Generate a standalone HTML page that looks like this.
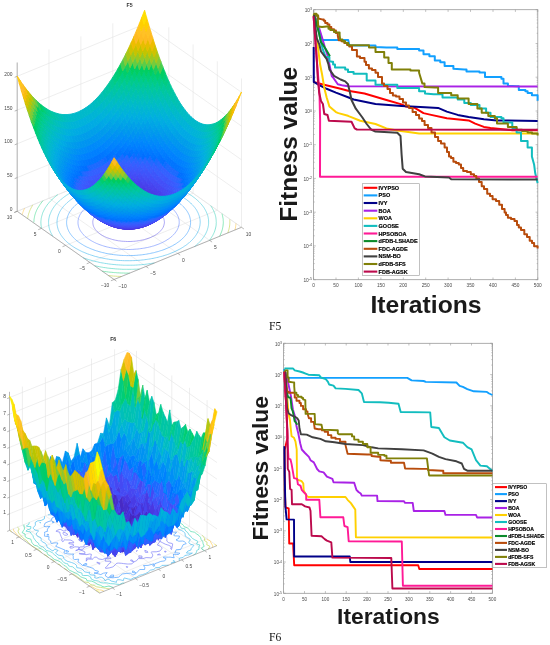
<!DOCTYPE html><html><head><meta charset="utf-8"><title>F5 F6</title><style>html,body{margin:0;padding:0;background:#fff}svg{display:block;will-change:transform}</style></head><body>
<svg width="550" height="645" viewBox="0 0 550 645">
<defs><filter id="sb" x="-5%" y="-5%" width="110%" height="110%"><feGaussianBlur stdDeviation="0.35"/></filter></defs>
<rect width="550" height="645" fill="#fff"/>
<path d="M114.1 279.5L17.2 211.3M145.9 266.4L49 198.2M177.8 253.4L80.9 185.2M209.7 240.4L112.8 172.2M241.5 227.3L144.6 159.1M114.1 279.5L241.5 227.3M89.9 262.4L217.3 210.2M65.7 245.4L193.1 193.2M41.4 228.4L168.8 176.2M17.2 211.3L144.6 159.1M17.2 211.3L17.2 62.5M49 198.2L49 49.4M80.9 185.2L80.9 36.4M112.8 172.2L112.8 23.3M144.6 159.1L144.6 10.3M241.5 227.3L241.5 78.5M217.3 210.2L217.3 61.4M193.1 193.2L193.1 44.4M168.8 176.2L168.8 27.3M144.6 159.1L144.6 10.3M17.2 211.3L144.6 159.1L241.5 227.3M17.2 177.6L144.6 125.4L241.5 193.6M17.2 143.8L144.6 91.6L241.5 159.8M17.2 110.1L144.6 57.9L241.5 126.1M17.2 76.3L144.6 24.1L241.5 92.3" fill="none" stroke="#e3e3e3" stroke-width="0.6"/>
<g fill="none" stroke-width="0.75" stroke-linejoin="round" opacity="0.6"><path d="M150.8 207.2 149.3 206.6 148.2 206.2 147.3 205.9 145.7 205.4 144.4 205.1 143 204.7 141.9 204.5 140.1 204.1 138.5 203.8 137.4 203.7 135.4 203.4 133.5 203.3 131.6 203.2 129.9 203.1 128.2 203.1 127.1 203.1 125 203.2 123.4 203.3 121.9 203.5 120.5 203.6 119.1 203.8 117.7 204 116.4 204.3 115.1 204.5 113.8 204.8 112.6 205.2 111.4 205.5 110.2 205.9 109.1 206.2 108 206.6 106.9 207.1 105.9 207.5 104.9 208 103.9 208.5 102.9 209 102 209.5 101.1 210.1 100.6 210.4 99.4 211.2 98.6 211.9 98.1 212.3 97.2 213.2 96.5 213.9 95.8 214.6 95.3 215.2 94.7 216.2 94.2 217 93.9 217.6 93.4 218.7 93.1 219.8 92.9 220.7 92.8 221.7 92.8 222.6 92.9 223.5 93 224.3 93.2 225.1 93.4 225.9 93.7 226.7 94.1 227.5 94.5 228.2 94.9 228.9 95.4 229.6 96 230.3 96.6 230.9 97.2 231.6 97.9 232.2 98.6 232.8 99.3 233.4 100.1 234 100.9 234.5 101.8 235.1 102.7 235.6 103.7 236.1 104.6 236.6 105.7 237.1 106.3 237.4 107.9 238 109 238.4 109.9 238.7 111.5 239.2 112.8 239.6 114.2 239.9 115.3 240.2 117.1 240.5 118.6 240.8 119.8 240.9 121.8 241.2 123.7 241.3 125.5 241.4 127.3 241.5 129 241.5 130.1 241.5 132.2 241.4 133.7 241.3 135.2 241.2 136.7 241 138.1 240.8 139.4 240.6 140.8 240.3 142.1 240.1 143.3 239.8 144.6 239.5 145.8 239.1 146.9 238.8 148.1 238.4 149.2 238 150.3 237.6 151.3 237.1 152.3 236.6 153.3 236.2 154.3 235.6 155.2 235.1 156.1 234.6 156.6 234.2 157.8 233.4 158.6 232.8 159.1 232.3 160 231.4 160.7 230.7 161.3 230 161.8 229.4 162.5 228.4 163 227.6 163.3 227 163.7 225.9 164 224.9 164.2 223.9 164.4 222.9 164.4 222 164.3 221.2 164.2 220.3 164 219.5 163.8 218.7 163.4 217.9 163.1 217.2 162.7 216.4 162.2 215.7 161.7 215 161.2 214.3 160.6 213.7 160 213 159.3 212.4 158.6 211.8 157.9 211.2 157.1 210.6 156.2 210.1 155.4 209.5 154.5 209 153.5 208.5 152.5 208 151.5 207.5 150.8 207.2" stroke="#483ee8"/><path d="M161.1 201.4 160.5 201.2 159.4 200.7 158.3 200.3 157.1 199.8 155.9 199.4 154.7 199 153.9 198.8 152.2 198.3 151.1 197.9 149.5 197.5 148.5 197.3 146.7 196.9 145.2 196.6 143.8 196.4 142.1 196.1 140.4 195.9 139.6 195.8 138.7 195.7 137.6 195.6 136.9 195.5 135.7 195.4 133.9 195.3 133.2 195.3 132.1 195.2 131.1 195.2 130.3 195.2 129 195.2 127 195.2 125.4 195.2 124.4 195.3 122.2 195.4 120.7 195.5 119.2 195.6 117.8 195.8 116.4 196 115 196.2 113.6 196.4 112.3 196.6 110.9 196.9 109.6 197.2 108.4 197.4 107.6 197.6 105.9 198.1 104.7 198.4 103.5 198.8 102.4 199.1 101.2 199.5 100.1 199.9 99 200.3 97.9 200.7 96.9 201.2 95.9 201.6 94.9 202.1 93.9 202.6 92.9 203.1 92 203.6 91 204.2 90.1 204.7 89.3 205.3 88.4 205.9 87.6 206.5 86.8 207.1 86 207.7 85.2 208.4 84.8 208.8 83.8 209.7 83.2 210.3 82.5 211.2 82.1 211.7 81.3 212.7 80.8 213.5 80.3 214.2 79.8 215.2 79.4 216 79 217 78.8 217.5 78.5 218.6 78.3 219.6 78.1 220.5 78 221.5 78 222.2 78 223.3 78.1 224.1 78.2 225 78.4 225.8 78.6 226.6 78.8 227.4 79.1 228.2 79.5 228.9 79.8 229.7 80.2 230.4 80.7 231.2 81.2 231.9 81.7 232.5 82.2 233.2 82.5 233.6 83.3 234.6 84 235.2 84.6 235.8 85.3 236.5 86 237.1 86.7 237.7 87.5 238.2 88.3 238.8 89.1 239.4 90 239.9 90.9 240.5 91.8 241 92.7 241.5 93.7 242 94.6 242.5 95.7 243 96.7 243.5 97.8 243.9 98.9 244.4 100.1 244.8 101.2 245.2 102.5 245.6 103.3 245.9 105 246.4 106.1 246.7 107.7 247.1 108.7 247.3 110.5 247.7 112 248 113.3 248.2 115.1 248.5 116.8 248.7 117.6 248.8 118.5 248.9 119.5 249 120.2 249.1 121.5 249.2 123.3 249.3 124 249.4 125.1 249.4 126 249.4 126.8 249.5 128.1 249.5 130.2 249.5 131.8 249.4 132.8 249.4 134.9 249.2 136.5 249.1 137.9 249 139.4 248.8 140.8 248.6 142.2 248.4 143.6 248.2 144.9 248 146.2 247.7 147.5 247.5 148.8 247.2 149.5 247 151.3 246.6 152.5 246.2 153.7 245.9 154.8 245.5 155.9 245.1 157.1 244.7 158.2 244.3 159.2 243.9 160.3 243.4 161.3 243 162.3 242.5 163.3 242 164.3 241.5 165.2 241 166.1 240.5 167 239.9 167.9 239.3 168.8 238.8 169.6 238.2 170.4 237.6 171.2 236.9 171.9 236.3 172.4 235.8 173.4 234.9 173.9 234.3 174.7 233.5 175.1 232.9 175.9 231.9 176.4 231.1 176.9 230.4 177.4 229.5 177.8 228.6 178.2 227.7 178.4 227.1 178.7 226.1 178.9 225.1 179.1 224.1 179.2 223.2 179.2 222.5 179.2 221.4 179.1 220.5 179 219.6 178.8 218.8 178.6 218 178.3 217.2 178 216.4 177.7 215.7 177.3 214.9 176.9 214.2 176.5 213.5 176 212.8 175.5 212.1 175 211.4 174.7 211 173.8 210.1 173.2 209.4 172.6 208.8 171.9 208.2 171.2 207.6 170.4 207 169.7 206.4 168.9 205.8 168.1 205.2 167.2 204.7 166.3 204.2 165.4 203.6 164.5 203.1 163.5 202.6 162.5 202.1 161.5 201.6" stroke="#3560ff"/><path d="M172.1 198.5 170.7 197.8 169.7 197.4 168.7 196.9 167.6 196.4 167 196.1 165.5 195.5 164.3 195.1 163.2 194.7 162 194.2 160.8 193.8 160 193.6 158.3 193.1 157.1 192.7 155.6 192.3 154.4 192 152.9 191.7 151.9 191.5 150 191.1 148.5 190.8 147.3 190.6 145.4 190.3 143.7 190 143.1 189.9 142 189.8 141.1 189.7 140.3 189.6 139.1 189.5 137.2 189.4 135.3 189.2 133.5 189.1 132.8 189.1 131.8 189.1 130.7 189.1 128.6 189 126.7 189.1 125.1 189.1 123.9 189.2 121.9 189.3 120.4 189.4 118.9 189.5 117.4 189.6 115.9 189.8 114.5 189.9 113.1 190.1 111.7 190.3 110.3 190.6 109 190.8 107.7 191 106.4 191.3 105.1 191.6 103.8 191.9 102.6 192.2 101.3 192.5 100.1 192.8 98.9 193.2 97.7 193.5 96.6 193.9 95.4 194.3 94.3 194.6 93.2 195.1 92.1 195.5 91.1 195.9 90 196.3 89 196.8 88 197.3 87 197.7 86 198.2 85 198.7 84.4 199 83.1 199.8 82.2 200.3 81.3 200.9 80.4 201.4 79.9 201.8 78.8 202.6 77.9 203.2 77.2 203.8 76.4 204.5 75.6 205.1 75.1 205.5 74.2 206.5 73.5 207.1 72.8 207.9 72.2 208.5 71.6 209.4 71.2 209.9 70.4 210.9 69.9 211.7 69.5 212.4 68.9 213.4 68.5 214.3 68.1 215.2 67.9 215.7 67.5 216.8 67.2 217.8 67 218.8 66.8 219.8 66.7 220.7 66.6 221.6 66.6 222.4 66.6 223.4 66.7 224.3 66.8 225.1 67 226 67.1 226.8 67.4 227.6 67.6 228.4 67.9 229.2 68.2 230 68.6 230.7 68.9 231.5 69.3 232.2 69.8 232.9 70.2 233.6 70.7 234.3 71.2 235 71.8 235.7 72.3 236.4 72.9 237 73.5 237.7 74.2 238.3 74.8 238.9 75.5 239.6 76.2 240.2 76.9 240.8 77.7 241.4 78.5 242 79.2 242.5 80.1 243.1 80.9 243.6 81.8 244.2 82.7 244.7 83.6 245.3 84.5 245.8 85.1 246.1 86.4 246.8 87.4 247.3 88.5 247.7 89.5 248.2 90.2 248.5 91.7 249.1 92.8 249.5 94 250 95.2 250.4 96.4 250.8 97.2 251 98.9 251.6 100.1 251.9 101.5 252.3 102.7 252.6 104.3 252.9 105.2 253.2 107.2 253.6 108.7 253.8 109.8 254 111.8 254.4 113.5 254.6 114.1 254.7 115.1 254.8 116.1 254.9 116.9 255 118.1 255.1 120 255.3 121.8 255.4 123.6 255.5 124.4 255.5 125.4 255.5 126.5 255.6 128.6 255.6 130.5 255.6 132.1 255.5 133.2 255.5 135.2 255.4 136.8 255.3 138.3 255.1 139.8 255 141.2 254.9 142.7 254.7 144.1 254.5 145.5 254.3 146.8 254.1 148.2 253.8 149.5 253.6 150.8 253.3 152.1 253 153.4 252.8 154.6 252.5 155.8 252.1 157.1 251.8 158.3 251.5 159.4 251.1 160.6 250.7 161.7 250.4 162.9 250 164 249.6 165 249.2 166.1 248.7 167.2 248.3 168.2 247.8 169.2 247.4 170.2 246.9 171.2 246.4 172.2 245.9 172.8 245.6 174 244.8 175 244.3 175.9 243.8 176.7 243.2 177.2 242.8 178.4 242 179.2 241.4 180 240.8 180.8 240.1 181.6 239.5 182 239.1 183 238.1 183.6 237.5 184.4 236.7 184.9 236.1 185.6 235.3 186 234.8 186.8 233.7 187.3 232.9 187.7 232.3 188.3 231.2 188.7 230.3 189.1 229.4 189.3 228.9 189.7 227.9 190 226.8 190.2 225.8 190.4 224.9 190.5 223.9 190.6 223 190.6 222.2 190.5 221.2 190.5 220.3 190.4 219.5 190.2 218.6 190 217.8 189.8 217 189.6 216.2 189.3 215.4 189 214.7 188.6 213.9 188.2 213.2 187.8 212.4 187.4 211.7 186.9 211 186.5 210.3 185.9 209.6 185.4 208.9 184.8 208.3 184.3 207.6 183.7 206.9 183 206.3 182.4 205.7 181.7 205.1 181 204.4 180.2 203.8 179.5 203.2 178.7 202.7 177.9 202.1 177.1 201.5 176.3 201 175.4 200.4 174.5 199.9 173.6 199.4 172.7 198.9 172.1 198.5" stroke="#0083fd"/><path d="M178.1 194.5 177.5 194.2 176.5 193.7 175.5 193.2 174.4 192.7 173.4 192.3 172.3 191.8 171.2 191.4 170 190.9 169.2 190.6 167.7 190.1 166.5 189.7 165.9 189.5 165.3 189.3 164.1 188.9 162.9 188.6 161.5 188.1 160.2 187.8 158.8 187.4 157.6 187.1 156 186.8 155.1 186.6 153.1 186.2 151.6 185.9 150.5 185.7 148.5 185.4 146.9 185.1 146.2 185.1 145.2 184.9 144.2 184.8 143.5 184.7 142.2 184.6 140.2 184.4 138.3 184.2 136.5 184.1 134.7 184 132.9 184 131.2 183.9 130.1 183.9 128 183.9 126.1 183.9 124.5 184 123.3 184 121.3 184.1 119.8 184.2 118.3 184.3 116.8 184.4 115.3 184.6 113.9 184.7 112.4 184.9 111 185.1 109.6 185.3 108.9 185.4 108.2 185.5 106.9 185.7 105.5 186 104.2 186.2 102.9 186.5 101.6 186.8 100.7 187 99.1 187.4 97.9 187.7 96.6 188 95.4 188.3 94.7 188.5 93.1 189 91.9 189.4 90.8 189.8 89.6 190.2 88.5 190.6 87.4 191 86.3 191.4 85.3 191.8 84.2 192.3 83.2 192.7 82.1 193.2 81.1 193.6 80.1 194.1 79.2 194.6 78.2 195.1 77.2 195.6 76.3 196.2 75.4 196.7 74.5 197.2 73.6 197.8 72.7 198.4 71.9 199 71.1 199.6 70.2 200.2 69.7 200.6 68.7 201.4 67.9 202.1 67.1 202.7 66.4 203.4 65.8 204 65 204.8 64.3 205.5 63.7 206.2 63.1 206.9 62.5 207.7 62.1 208.2 61.3 209.3 60.8 210.1 60.4 210.7 59.8 211.7 59.4 212.6 59 213.5 58.7 214.1 58.3 215.1 58 216.2 57.7 217.2 57.4 218.2 57.3 219.2 57.1 220.1 57.1 221 57 222 57 222.8 57 223.7 57.1 224.6 57.2 225.3 57.4 226.3 57.5 227.1 57.8 228 58 228.8 58.2 229.5 58.5 230.3 58.9 231.1 59.2 231.9 59.6 232.6 60 233.3 60.4 234.1 60.8 234.8 61.3 235.5 61.8 236.2 62.3 236.9 62.7 237.4 63.4 238.2 63.9 238.9 64.5 239.6 65.2 240.2 65.5 240.6 66.4 241.5 67.1 242.1 67.8 242.7 68.5 243.3 69.3 243.9 70 244.5 70.8 245.1 71.6 245.7 72.4 246.2 73.3 246.8 74.1 247.3 75 247.9 75.9 248.4 76.8 248.9 77.8 249.4 78.7 249.9 79.7 250.4 80.7 250.9 81.7 251.4 82.7 251.9 83.8 252.3 84.9 252.8 86 253.2 87.1 253.7 87.9 254 89.5 254.5 90.6 254.9 91.2 255.1 91.9 255.3 93.1 255.7 94.2 256.1 95.7 256.5 97 256.8 98.4 257.2 99.6 257.5 101.2 257.8 102.1 258 104.1 258.4 105.6 258.7 106.7 258.9 108.7 259.2 110.3 259.5 111 259.6 112 259.7 113 259.8 113.7 259.9 115 260 116.9 260.2 118.8 260.4 120.7 260.5 122.5 260.6 124.3 260.7 126 260.7 127 260.7 129.2 260.7 131 260.7 132.7 260.6 133.9 260.6 135.8 260.5 137.4 260.4 138.9 260.3 140.4 260.2 141.9 260 143.3 259.9 144.8 259.7 146.2 259.5 147.6 259.3 148.3 259.2 148.9 259.1 150.3 258.9 151.6 258.6 153 258.4 154.3 258.1 155.6 257.8 156.5 257.6 158.1 257.3 159.3 256.9 160.5 256.6 161.8 256.3 162.5 256.1 164.1 255.6 165.3 255.2 166.4 254.9 167.6 254.5 168.7 254.1 169.8 253.7 170.9 253.2 171.9 252.8 173 252.4 174 251.9 175 251.5 176 251 177 250.5 178 250 179 249.5 179.9 249 180.9 248.5 181.8 247.9 182.7 247.4 183.6 246.8 184.4 246.2 185.3 245.7 186.1 245.1 186.9 244.5 187.5 244 188.5 243.2 189.3 242.6 190 241.9 190.8 241.2 191.4 240.6 192.2 239.9 192.8 239.2 193.5 238.4 194 237.8 194.7 236.9 195.1 236.4 195.8 235.4 196.4 234.5 196.7 234 197.3 232.9 197.8 232 198.2 231.1 198.5 230.6 198.9 229.5 199.2 228.4 199.5 227.4 199.7 226.4 199.9 225.5 200 224.5 200.1 223.6 200.2 222.7 200.2 221.9 200.1 220.9 200.1 220 200 219.4 199.8 218.3 199.6 217.5 199.4 216.7 199.2 215.9 198.9 215.1 198.6 214.3 198.3 213.5 198 212.8 197.6 212 197.2 211.3 196.8 210.5 196.4 209.8 195.9 209.1 195.4 208.4 194.9 207.7 194.5 207.2 193.8 206.4 193.2 205.7 192.6 205.1 192 204.4 191.6 204 190.7 203.1 190 202.5 189.3 201.9 188.6 201.3 187.9 200.7 187.1 200.1 186.4 199.5 185.6 199 184.7 198.4 183.9 197.8 183 197.3 182.2 196.8 181.3 196.2 180.4 195.7 179.4 195.2 178.5 194.7" stroke="#00a0e8"/><path d="M83.2 257.7 84.7 258.3 85.9 258.7 86.5 258.9 87.1 259.1 88.3 259.5 89.6 259.9 90.9 260.2 92.2 260.6 93.5 261 94.9 261.3 96.2 261.6 97.6 261.9 99.1 262.3 100 262.5 100.5 262.6 102 262.9 103.6 263.1 104.5 263.3 106.7 263.6 108.3 263.9 110 264.1 110.9 264.2 111.7 264.3 112.9 264.4 114.8 264.6 116.7 264.8 118.6 264.9 120.4 265 122.2 265.1 124 265.2 124.8 265.2 125.7 265.2 126.9 265.2 129.1 265.2 130.8 265.2 132.4 265.2 133.8 265.2 135.6 265.1 137.2 265 138.7 264.9 140.2 264.8 141.5 264.7 143.2 264.5 144.4 264.4 146.1 264.2 147.5 264 148.9 263.8 150.3 263.6 150.9 263.5 151.7 263.4 153 263.2 154.4 262.9M194.5 246.6 195.5 245.8 196.3 245.1 196.7 244.8 197.8 243.8 198.5 243.1 199.2 242.4 199.9 241.7 200.5 241 201.2 240.3 201.8 239.5 202.4 238.8 203 238 203.3 237.5 204.1 236.4 204.6 235.6 204.9 235.1 205.6 233.9 206 233.1 206.4 232.2 206.8 231.3 207.1 230.6 207.4 229.6 207.7 228.5 208 227.5 208.2 226.6 208.4 225.6 208.5 224.6 208.6 223.7 208.6 222.8 208.6 221.9 208.6 221 208.5 220.1 208.5 219.4 208.3 218.4 208.2 217.6 208 216.8 207.8 215.9 207.6 215.2 207.3 214.3 207 213.7 206.7 212.8 206.3 212 206 211.3 205.6 210.5 205.2 209.8 204.8 209.1 204.4 208.4 203.9 207.6 203.4 206.9 202.9 206.2 202.6 205.8 201.8 204.9 201.3 204.2 200.7 203.6 200.1 202.9 199.5 202.3 198.8 201.6 198.2 201 197.5 200.4 196.8 199.8 196.1 199.1 195.4 198.5 194.6 197.9 193.9 197.4 193.1 196.8 192.3 196.2 191.5 195.6 190.6 195.1 189.8 194.5 188.9 194 188 193.5 187.1 192.9 186.2 192.4 185.3 191.9 184.3 191.4 183.3 190.9 182.4 190.4 181.3 189.9 180.3 189.4 179.2 189 178.2 188.5 177.1 188.1 175.9 187.6 174.8 187.2 174 186.9 172.5 186.3 171.3 185.9 170.7 185.7 170.1 185.5 168.8 185.1 167.6 184.8 166.3 184.4 165 184 163.7 183.7 162.3 183.3 160.9 183 159.6 182.7 158.1 182.3 157.2 182.2 156.6 182 155.1 181.8 153.6 181.5 152.7 181.3 150.5 181 148.9 180.7 147.2 180.5 146.3 180.4 145.5 180.3 144.3 180.2 142.4 180 140.5 179.8 138.6 179.7 136.7 179.6 134.9 179.5 133.2 179.4 132.3 179.4 131.4 179.4 130.2 179.4 128 179.4 126.4 179.4 124.8 179.4 123.4 179.5 121.6 179.5 120 179.6 118.5 179.7 117 179.8 115.6 180 114 180.1 112.7 180.2 111.1 180.4 109.7 180.6 108.3 180.8 106.9 181 106.2 181.1 105.5 181.2 104.1 181.5 102.8 181.7 101.5 182 100.2 182.2 98.9 182.5 98.1 182.7 96.3 183.1 95.1 183.4 93.9 183.7 92.6 184 91.4 184.3 90.2 184.7 89.1 185 87.9 185.4 86.8 185.8 85.6 186.2 84.5 186.5 83.4 186.9 82.3 187.4 81.2 187.8 80.1 188.2 79.1 188.6 78 189.1 77 189.6 76 190 75 190.5 74 191 73 191.5 72.1 192 71.1 192.5 70.2 193 69.4 193.5 68.4 194.1 67.5 194.7 66.6 195.2 65.8 195.8 64.9 196.4 64.1 197 63.3 197.6 62.7 198.1 61.7 198.9 60.9 199.5 60.5 199.9 59.4 200.8 58.7 201.5 58 202.2 57.3 202.9 56.7 203.6 56 204.3 55.4 205.1 54.8 205.8 54.2 206.6 53.9 207.1 53.1 208.2 52.6 209 52.3 209.5 51.6 210.7 51.2 211.6 50.8 212.5 50.4 213.4 50.1 214 49.8 215 49.4 216.1 49.2 217.1 49 218.1 48.8 219 48.7 220 48.6 220.9 48.6 221.8 48.6 222.7 48.6 223.6 48.6 224.5 48.7 225.2 48.9 226.2 49 227 49.2 227.9 49.4 228.7 49.6 229.4 49.9 230.3 50.1 230.9 50.5 231.8 50.8 232.6 51.2 233.3 51.6 234.1 52 234.8 52.4 235.5 52.8 236.3" stroke="#00b7cf"/><path d="M94.5 265.7 96.3 266.1 96.9 266.2 97.8 266.4 99.3 266.7 100.8 267 101.5 267.1 102.3 267.2 103.7 267.5 105.5 267.7 107.2 268 107.9 268.1 108.8 268.2 110 268.3 111.9 268.5 113.9 268.7 115.8 268.9 117.7 269 119.5 269.1 121.3 269.2 123.1 269.3 124.8 269.3 125.8 269.3 126.5 269.3 127.9 269.3 129.9 269.3 131.5 269.3 132.4 269.3 133.2 269.3 134.8 269.2 136.4 269.2 137.3 269.1 139.5 269M57.8 194.7 56.8 195.4 56 196 55.4 196.6 54.5 197.3 53.7 198 53 198.6 52.2 199.3 51.7 199.9 50.8 200.7 50.2 201.4 49.5 202.1 48.9 202.8 48.3 203.6 47.8 204.1 47.1 205.1 46.5 205.9 46 206.7 45.4 207.5 44.9 208.4 44.5 209.1 44 210.1 43.6 211 43.2 211.8 42.9 212.4 42.5 213.5 42.2 214.6 41.9 215.6 41.6 216.6 41.4 217.6 41.2 218.5 41.1 219.5 41 220.4 40.9 221.4 40.9 222.1 40.9 223.2 41 224 41 224.9 41.1 225.8 41.3 226.6 41.4 227.5 41.6 228.3M180.3 184.3 178.9 183.7 177.8 183.3 176.8 182.9 175.4 182.5 174.2 182.1 173.6 181.9 172.9 181.7 171.7 181.3 170.6 181 169.1 180.5 167.8 180.2 166.4 179.8 165.2 179.5 163.7 179.2 162.7 178.9 160.8 178.5 160.3 178.4 159.4 178.2 157.9 177.9 156.4 177.7 155.7 177.5 154.8 177.4 153.5 177.2 151.7 176.9 150 176.7 149.3 176.6 148.3 176.4 147.2 176.3 145.2 176.1 143.3 175.9 141.4 175.8 139.5 175.6 137.7 175.5 135.9 175.4 134.1 175.4 132.4 175.3 131.4 175.3 130.6 175.3 129.3 175.3 127.3 175.3 125.6 175.3 124.8 175.3 124 175.3 122.4 175.4 120.8 175.5 119.9 175.5 117.7 175.7 116.2 175.8 114.7 175.9 113.2 176 111.7 176.2 110.3 176.3 108.9 176.5 107.4 176.7 106 176.9 105.3 177 104.7 177.1 103.3 177.3 101.9 177.5 100.6 177.8 99.3 178 98 178.3M209.4 240.5 210.1 239.5 210.7 238.7 211.2 237.9 211.7 237.1 212.2 236.3 212.7 235.5 213.2 234.5 213.6 233.7 214 232.8 214.3 232.2 214.7 231.1 215 230.1 215.3 229 215.6 228 215.8 227 216 226.1 216.1 225.1 216.2 224.2 216.2 223.3 216.3 222.5 216.2 221.5 216.2 220.6 216.1 219.7 216 218.8 215.9 218 215.8 217.2 215.6 216.3 215.4 215.5 215.2 214.7 214.9 213.9 214.6 213.1 214.3 212.4 214 211.6 213.7 210.8 213.3 210.1 212.9 209.3 212.5 208.6 212.1 207.9 211.7 207.2 211.2 206.4 210.7 205.7" stroke="#00c5a5"/><path d="M102.2 271.2 103.3 271.3 104.4 271.5 106.4 271.7 108.3 272 110.1 272.2 111.8 272.3 113.6 272.5 114.3 272.6 115.5 272.6 116.2 272.7 117.3 272.8 118 272.8 119.3 272.9 121.2 273 123.3 273 125.2 273.1 126.9 273.1 128.5 273.1 129.7 273.1M43 200.7 42.2 201.7 41.8 202.1 41 203.2 40.4 204 39.9 204.7 39.3 205.6 38.8 206.4 38.3 207.2 37.8 208.1 37.3 208.9 37 209.5 36.5 210.6 36.1 211.6 35.7 212.5 35.4 213.5 35.1 214.4 34.8 215.4 34.6 216.4 34.4 217.5 34.2 218.5 34 219.6 34 220.6 33.9 221.5 33.9 222.4M169 176.3 167.3 175.9 166.5 175.7 165.9 175.6 164.5 175.2 163 174.9 161.6 174.6 160.1 174.3 159.3 174.2 158.6 174.1 157.1 173.8 155.4 173.5 153.8 173.3 152.8 173.2 150.7 172.9 148.9 172.6 147.1 172.5 145.4 172.3 143.6 172.1 142.9 172.1 141.7 172 141 171.9 139.8 171.8 139.1 171.8 137.9 171.7 135.9 171.6 133.9 171.6 132 171.5 130.3 171.5 128.6 171.5 127.5 171.5 125.3 171.5 123.7 171.6 122.9 171.6 122.1 171.6 120.5 171.7 118.9 171.8 117.9 171.8 115.9 172 114.4 172.1 112.9 172.2M219.5 236.3 219.9 235.7 220.1 235.2 220.7 234 221.1 233 221.4 232.1 221.8 231.2 222.1 230.2 222.4 229.2 222.6 228.2 222.8 227.2 223 226.1 223.1 225 223.2 224 223.3 223.1 223.3 222.2 223.3 221.3 223.2 220.4 223.2 219.5 223.1 218.7 222.9 217.8 222.8 217 222.6 216.2 222.4 215.3 222.2 214.5 222 213.7" stroke="#00ce69"/><path d="M108.5 275.6 110.1 275.7 111.9 275.9 113.7 276.1 115.6 276.2 117.5 276.3 119.4 276.4 121.4 276.5M32.8 204.9 32.4 205.5 32.1 206.1 31.5 207.2 31 208 30.6 208.9 30.3 209.5 29.8 210.6 29.4 211.6 29.1 212.6 28.7 213.5 28.5 214.5 28.2 215.5 28 216.5 27.8 217.6 27.6 218.6M161.3 170.9 160.3 170.7 159.1 170.5 157.1 170.2 155.5 169.9 154.8 169.8 153.9 169.7 152.7 169.5 150.6 169.3 148.8 169.1 147.1 168.9 145.3 168.7 143.5 168.6 141.6 168.4 139.7 168.3 137.7 168.2 135.8 168.1 133.8 168.1 132.1 168 130.4 168 129.5 168 128.7 168 127.3 168 125.4 168 123.7 168.1 122.6 168.1M227.8 232.9 228.1 232.1 228.4 231.1 228.7 230.1 229 229.1 229.2 228.1 229.4 227.1 229.6 226 229.7 224.9 229.8 224 229.8 223.1 229.8 222.2 229.8 221.4 229.8 220.4 229.7 219.5" stroke="#b0c612"/><path d="M114 279.4 114.3 279.4M24.5 208.3 24.2 209.1 23.8 210 23.4 210.9 23.2 211.6 22.8 212.6 22.5 213.6 22.2 214.6M155 166.4 153.5 166.2 151.8 166 150.9 165.9 150.1 165.8 149 165.7 147 165.5 145.1 165.4 143.2 165.2 141.3 165.1 139.5 165 137.7 164.9 135.9 164.8 135.1 164.8 134.2 164.8 133 164.7 130.9 164.7M235 230 235.2 229 235.4 228 235.6 227 235.7 226.1 235.8 225.1 235.9 224.2 235.9 223.4" stroke="#ffbb23"/><path d="M17.4 211.2 17.3 211.4M149.6 162.6 147.6 162.4 145.7 162.3 143.8 162.1 142 162 140.2 161.9 138.3 161.8M241.3 227.4 241.4 227.2" stroke="#ffd800"/></g>
<path d="M17.2 211.3L114.1 279.5L241.5 227.3M17.2 211.3L17.2 62.5M114.1 279.5L116.5 281.2M145.9 266.4L148.4 268.2M177.8 253.4L180.2 255.1M209.7 240.4L212.1 242.1M241.5 227.3L243.9 229M114.1 279.5L110.9 280.8M89.9 262.4L86.7 263.8M65.7 245.4L62.5 246.7M41.4 228.4L38.2 229.7M17.2 211.3L14 212.6M17.2 211.3L14.7 212.3M17.2 177.6L14.7 178.6M17.2 143.8L14.7 144.8M17.2 110.1L14.7 111.1M17.2 76.3L14.7 77.3" fill="none" stroke="#8a8a8a" stroke-width="0.6"/>
<g font-family='"Liberation Sans", sans-serif' font-size="4.9" fill="#454545" text-anchor="middle"><text x="118.4" y="288.1" text-anchor="start">−10</text><text x="150.2" y="275.1" text-anchor="start">−5</text><text x="182.1" y="262" text-anchor="start">0</text><text x="214" y="249" text-anchor="start">5</text><text x="245.8" y="235.9" text-anchor="start">10</text><text x="109.2" y="287.1" text-anchor="end">−10</text><text x="85" y="270.1" text-anchor="end">−5</text><text x="60.8" y="253" text-anchor="end">0</text><text x="36.5" y="236" text-anchor="end">5</text><text x="12.3" y="218.9" text-anchor="end">10</text></g>
<g font-family='"Liberation Sans", sans-serif' font-size="4.9" fill="#454545" text-anchor="end"><text x="12.4" y="210.9">0</text><text x="12.4" y="177.2">50</text><text x="12.4" y="143.4">100</text><text x="12.4" y="109.7">150</text><text x="12.4" y="75.9">200</text></g>
<style>.a0{fill:#4321ad;stroke:#4321ad}.a1{fill:#4322b1;stroke:#4322b1}.a2{fill:#4423b4;stroke:#4423b4}.a3{fill:#4424b7;stroke:#4424b7}.a4{fill:#4526b9;stroke:#4526b9}.a5{fill:#4527bc;stroke:#4527bc}.a6{fill:#4628bf;stroke:#4628bf}.a7{fill:#4629c2;stroke:#4629c2}.a8{fill:#472ac4;stroke:#472ac4}.a9{fill:#462bc7;stroke:#462bc7}.a10{fill:#472cca;stroke:#472cca}.a11{fill:#472dcd;stroke:#472dcd}.a12{fill:#472ecf;stroke:#472ecf}.a13{fill:#4830d2;stroke:#4830d2}.a14{fill:#4831d5;stroke:#4831d5}.a15{fill:#4932d7;stroke:#4932d7}.a16{fill:#4834da;stroke:#4834da}.a17{fill:#4835dc;stroke:#4835dc}.a18{fill:#4936de;stroke:#4936de}.a19{fill:#4937e1;stroke:#4937e1}.a20{fill:#4838e3;stroke:#4838e3}.a21{fill:#483be5;stroke:#483be5}.a22{fill:#493ce6;stroke:#493ce6}.a23{fill:#483de8;stroke:#483de8}.a24{fill:#483fea;stroke:#483fea}.a25{fill:#4740eb;stroke:#4740eb}.a26{fill:#4742ed;stroke:#4742ed}.a27{fill:#4643ee;stroke:#4643ee}.a28{fill:#4644f0;stroke:#4644f0}.a29{fill:#4646f1;stroke:#4646f1}.a30{fill:#4647f2;stroke:#4647f2}.a31{fill:#454af3;stroke:#454af3}.a32{fill:#454bf5;stroke:#454bf5}.a33{fill:#444df6;stroke:#444df6}.a34{fill:#434ef7;stroke:#434ef7}.a35{fill:#434ff8;stroke:#434ff8}.a36{fill:#4251f9;stroke:#4251f9}.a37{fill:#4152f9;stroke:#4152f9}.a38{fill:#4053fa;stroke:#4053fa}.a39{fill:#3e55fb;stroke:#3e55fb}.a40{fill:#3d56fb;stroke:#3d56fb}.a41{fill:#3c59fc;stroke:#3c59fc}.a42{fill:#3b5afd;stroke:#3b5afd}.a43{fill:#3a5bfe;stroke:#3a5bfe}.a44{fill:#395dfe;stroke:#395dfe}.a45{fill:#365eff;stroke:#365eff}.a46{fill:#3560ff;stroke:#3560ff}.a47{fill:#3461ff;stroke:#3461ff}.a48{fill:#3162ff;stroke:#3162ff}.a49{fill:#2f64ff;stroke:#2f64ff}.a50{fill:#2b65ff;stroke:#2b65ff}.a51{fill:#2667ff;stroke:#2667ff}.a52{fill:#2568ff;stroke:#2568ff}.a53{fill:#1f6aff;stroke:#1f6aff}.a54{fill:#1a6bff;stroke:#1a6bff}.a55{fill:#116dff;stroke:#116dff}.a56{fill:#066eff;stroke:#066eff}.a57{fill:#0071ff;stroke:#0071ff}.a58{fill:#0072ff;stroke:#0072ff}.a59{fill:#0074ff;stroke:#0074ff}.a60{fill:#0075ff;stroke:#0075ff}.a61{fill:#0077ff;stroke:#0077ff}.a62{fill:#0078ff;stroke:#0078ff}.a63{fill:#007aff;stroke:#007aff}.a64{fill:#007bff;stroke:#007bff}.a65{fill:#007dff;stroke:#007dff}.a66{fill:#007eff;stroke:#007eff}.a67{fill:#0080ff;stroke:#0080ff}.a68{fill:#0081fe;stroke:#0081fe}.a69{fill:#0083fe;stroke:#0083fe}.a70{fill:#0084fd;stroke:#0084fd}.a71{fill:#0085fc;stroke:#0085fc}.a72{fill:#0087fc;stroke:#0087fc}.a73{fill:#0088fb;stroke:#0088fb}.a74{fill:#0089fa;stroke:#0089fa}.a75{fill:#008bf9;stroke:#008bf9}.a76{fill:#008cf8;stroke:#008cf8}.a77{fill:#008df7;stroke:#008df7}.a78{fill:#008ff6;stroke:#008ff6}.a79{fill:#0090f5;stroke:#0090f5}.a80{fill:#0091f4;stroke:#0091f4}.a81{fill:#0092f2;stroke:#0092f2}.a82{fill:#0094f1;stroke:#0094f1}.a83{fill:#0095f0;stroke:#0095f0}.a84{fill:#0096ef;stroke:#0096ef}.a85{fill:#0098ee;stroke:#0098ee}.a86{fill:#0099ed;stroke:#0099ed}.a87{fill:#009aec;stroke:#009aec}.a88{fill:#009beb;stroke:#009beb}.a89{fill:#009ceb;stroke:#009ceb}.a90{fill:#009dea;stroke:#009dea}.a91{fill:#009fe9;stroke:#009fe9}.a92{fill:#00a0e8;stroke:#00a0e8}.a93{fill:#00a1e8;stroke:#00a1e8}.a94{fill:#00a2e7;stroke:#00a2e7}.a95{fill:#00a3e7;stroke:#00a3e7}.a96{fill:#00a5e6;stroke:#00a5e6}.a97{fill:#00a7e6;stroke:#00a7e6}.a98{fill:#00a8e5;stroke:#00a8e5}.a99{fill:#00a9e4;stroke:#00a9e4}.a100{fill:#00aae4;stroke:#00aae4}.a101{fill:#00abe3;stroke:#00abe3}.a102{fill:#00ace2;stroke:#00ace2}.a103{fill:#00ade1;stroke:#00ade1}.a104{fill:#00aee0;stroke:#00aee0}.a105{fill:#00afdf;stroke:#00afdf}.a106{fill:#00b0dd;stroke:#00b0dd}.a107{fill:#00b1dc;stroke:#00b1dc}.a108{fill:#00b2db;stroke:#00b2db}.a109{fill:#00b3d8;stroke:#00b3d8}.a110{fill:#00b3d7;stroke:#00b3d7}.a111{fill:#00b4d6;stroke:#00b4d6}.a112{fill:#00b4d4;stroke:#00b4d4}.a113{fill:#00b5d3;stroke:#00b5d3}.a114{fill:#00b6d1;stroke:#00b6d1}.a115{fill:#00b7d0;stroke:#00b7d0}.a116{fill:#00b8ce;stroke:#00b8ce}.a117{fill:#00b8cc;stroke:#00b8cc}.a118{fill:#00b9cb;stroke:#00b9cb}.a119{fill:#00bac9;stroke:#00bac9}.a120{fill:#00bbc8;stroke:#00bbc8}.a121{fill:#00bbc6;stroke:#00bbc6}.a122{fill:#00bcc4;stroke:#00bcc4}.a123{fill:#00bcc3;stroke:#00bcc3}.a124{fill:#00bdc1;stroke:#00bdc1}.a125{fill:#00bebe;stroke:#00bebe}.a126{fill:#00bebd;stroke:#00bebd}.a127{fill:#00bfbb;stroke:#00bfbb}.a128{fill:#00bfb9;stroke:#00bfb9}.a129{fill:#00c0b7;stroke:#00c0b7}.a130{fill:#00c1b6;stroke:#00c1b6}.a131{fill:#00c1b4;stroke:#00c1b4}.a132{fill:#00c2b2;stroke:#00c2b2}.a133{fill:#00c2b0;stroke:#00c2b0}.a134{fill:#00c3af;stroke:#00c3af}.a135{fill:#00c3ac;stroke:#00c3ac}.a136{fill:#00c4aa;stroke:#00c4aa}.a137{fill:#00c4a8;stroke:#00c4a8}.a138{fill:#00c5a6;stroke:#00c5a6}.a139{fill:#00c5a5;stroke:#00c5a5}.a140{fill:#00c6a3;stroke:#00c6a3}.a141{fill:#00c6a1;stroke:#00c6a1}.a142{fill:#00c79f;stroke:#00c79f}.a143{fill:#00c89c;stroke:#00c89c}.a144{fill:#00c89a;stroke:#00c89a}.a145{fill:#00c998;stroke:#00c998}.a146{fill:#00c995;stroke:#00c995}.a147{fill:#00ca93;stroke:#00ca93}.a148{fill:#00ca90;stroke:#00ca90}.a149{fill:#00cb8e;stroke:#00cb8e}.a150{fill:#00cb8b;stroke:#00cb8b}.a151{fill:#00cb89;stroke:#00cb89}.a152{fill:#00cc86;stroke:#00cc86}.a153{fill:#00cc83;stroke:#00cc83}.a154{fill:#00cc81;stroke:#00cc81}.a155{fill:#00cd7d;stroke:#00cd7d}.a156{fill:#00cd7b;stroke:#00cd7b}.a157{fill:#00cd78;stroke:#00cd78}.a158{fill:#00cd76;stroke:#00cd76}.a159{fill:#00cd72;stroke:#00cd72}.a161{fill:#00ce6c;stroke:#00ce6c}.a162{fill:#00ce69;stroke:#00ce69}.a163{fill:#00ce65;stroke:#00ce65}.a164{fill:#00ce62;stroke:#00ce62}.a165{fill:#00ce5e;stroke:#00ce5e}.a166{fill:#00ce5c;stroke:#00ce5c}.a167{fill:#1ecd58;stroke:#1ecd58}.a168{fill:#2ecd55;stroke:#2ecd55}.a169{fill:#3ecd51;stroke:#3ecd51}.a170{fill:#4acd4e;stroke:#4acd4e}.a171{fill:#52cd4a;stroke:#52cd4a}.a172{fill:#5dcc47;stroke:#5dcc47}.a173{fill:#64cc44;stroke:#64cc44}.a174{fill:#6ccc40;stroke:#6ccc40}.a175{fill:#75cb3c;stroke:#75cb3c}.a177{fill:#83ca35;stroke:#83ca35}.a178{fill:#88ca30;stroke:#88ca30}.a179{fill:#8fc92c;stroke:#8fc92c}.a180{fill:#94c928;stroke:#94c928}.a181{fill:#99c823;stroke:#99c823}.a182{fill:#a0c81f;stroke:#a0c81f}.a183{fill:#a5c71b;stroke:#a5c71b}.a184{fill:#abc717;stroke:#abc717}.a186{fill:#b4c50c;stroke:#b4c50c}.a187{fill:#b9c504;stroke:#b9c504}.a189{fill:#c3c400;stroke:#c3c400}.a190{fill:#c8c300;stroke:#c8c300}.a191{fill:#ccc200;stroke:#ccc200}.a192{fill:#d0c200;stroke:#d0c200}.a194{fill:#d7c000;stroke:#d7c000}.a195{fill:#dbc000;stroke:#dbc000}.a196{fill:#e0bf00;stroke:#e0bf00}.a198{fill:#e6be00;stroke:#e6be00}.a200{fill:#eebd00;stroke:#eebd00}.a203{fill:#f8bc08;stroke:#f8bc08}.a204{fill:#fabb10;stroke:#fabb10}.a207{fill:#ffbb20;stroke:#ffbb20}.a208{fill:#ffbb23;stroke:#ffbb23}.a209{fill:#ffbb27;stroke:#ffbb27}.a212{fill:#ffbc2c;stroke:#ffbc2c}.a213{fill:#ffbd2b;stroke:#ffbd2b}.a216{fill:#ffc125;stroke:#ffc125}.a217{fill:#ffc223;stroke:#ffc223}.a222{fill:#ffc913;stroke:#ffc913}.a226{fill:#ffcf03;stroke:#ffcf03}.a235{fill:#ffde00;stroke:#ffde00}</style>
<g stroke-width="0.9" stroke-linejoin="round" filter="url(#sb)"><path class="a66" d="M129.6 151.6l2.7-3.8-2-4.9-2.7 3.9z"/><path class="a72" d="M127.6 146.8l2.7-3.9-2-5.1-2.7 3.9z"/><path class="a61" d="M127 155.2l2.6-3.6-2-4.8-2.6 3.6z"/><path class="a67" d="M125 150.4l2.6-3.6-2-5.1-2.6 3.6z"/><path class="a70" d="M132.3 147.8l2.7-4.1-2.1-4.8-2.6 4z"/><path class="a60" d="M131.7 156.3l2.6-3.9-2-4.6-2.7 3.8z"/><path class="a76" d="M130.3 142.9l2.6-4-2-5.1-2.6 4z"/><path class="a56" d="M129 159.9l2.7-3.6-2.1-4.7-2.6 3.6z"/><path class="a78" d="M125.6 141.7l2.7-3.9-2.1-5.3-2.6 3.8z"/><path class="a57" d="M124.3 158.6l2.7-3.4-2-4.8-2.7 3.3z"/><path class="a74" d="M123 145.3l2.6-3.6-2-5.4-2.7 3.6z"/><path class="a65" d="M134.3 152.4l2.7-4-2-4.7-2.7 4.1z"/><path class="a63" d="M122.3 153.7l2.7-3.3-2-5.1-2.7 3.3z"/><path class="a83" d="M128.3 137.8l2.6-4-2-5.4-2.7 4.1z"/><path class="a52" d="M126.4 163.2l2.6-3.3-2-4.7-2.7 3.4z"/><path class="a75" d="M135 143.7l2.6-4.3-2-4.8-2.7 4.3z"/><path class="a55" d="M133.7 160.7l2.6-3.9-2-4.4-2.6 3.9z"/><path class="a81" d="M132.9 138.9l2.7-4.3-2-5.1-2.7 4.3z"/><path class="a70" d="M120.3 148.6l2.7-3.3-2.1-5.4-2.6 3.4z"/><path class="a51" d="M131 164.2l2.7-3.5-2-4.4-2.7 3.6z"/><path class="a70" d="M137 148.4l2.6-4.3-2-4.7-2.6 4.3z"/><path class="a60" d="M136.3 156.8l2.7-4-2-4.4-2.7 4z"/><path class="a85" d="M123.6 136.3l2.6-3.8-2-5.6-2.6 3.9z"/><path class="a54" d="M121.7 161.7l2.6-3.1-2-4.9-2.6 3.1z"/><path class="a80" d="M120.9 139.9l2.7-3.6-2-5.5-2.7 3.5z"/><path class="a60" d="M119.7 156.8l2.6-3.1-2-5.1-2.7 3.1z"/><path class="a88" d="M130.9 133.8l2.7-4.3-2-5.4-2.7 4.3z"/><path class="a47" d="M128.4 167.6l2.6-3.4-2-4.3-2.6 3.3z"/><path class="a89" d="M126.2 132.5l2.7-4.1-2-5.5-2.7 4z"/><path class="a48" d="M123.7 166.3l2.7-3.1-2.1-4.6-2.6 3.1z"/><path class="a76" d="M118.3 143.3l2.6-3.4-2-5.6-2.6 3.4z"/><path class="a66" d="M117.6 151.7l2.7-3.1-2-5.3-2.7 3.1z"/><path class="a65" d="M139 152.8l2.6-4.3-2-4.4-2.6 4.3z"/><path class="a81" d="M137.6 139.4l2.7-4.5-2.1-4.9-2.6 4.6z"/><path class="a87" d="M135.6 134.6l2.6-4.6-2-5.1-2.6 4.6z"/><path class="a50" d="M135.7 164.8l2.7-3.8-2.1-4.2-2.6 3.9z"/><path class="a46" d="M133 168.4l2.7-3.6-2-4.1-2.7 3.5z"/><path class="a94" d="M128.9 128.4l2.7-4.3-2.1-5.5-2.6 4.3z"/><path class="a75" d="M139.6 144.1l2.7-4.6-2-4.6-2.7 4.5z"/><path class="a55" d="M138.4 161l2.6-4.1-2-4.1-2.7 4z"/><path class="a43" d="M125.7 170.7l2.7-3.1-2-4.4-2.7 3.1z"/><path class="a93" d="M133.6 129.5l2.6-4.6-2-5.3-2.6 4.5z"/><path class="a92" d="M121.6 130.8l2.6-3.9-2-5.8-2.6 3.9z"/><path class="a87" d="M118.9 134.3l2.7-3.5-2-5.8-2.7 3.5z"/><path class="a51" d="M119 164.6l2.7-2.9-2-4.9-2.7 2.9z"/><path class="a42" d="M130.4 171.8l2.6-3.4-2-4.2-2.6 3.4z"/><path class="a57" d="M117 159.7l2.7-2.9-2.1-5.1-2.6 2.9z"/><path class="a73" d="M115.6 146.4l2.7-3.1-2-5.6-2.7 3.1z"/><path class="a96" d="M124.2 126.9l2.7-4-2-5.8-2.7 4z"/><path class="a45" d="M121 169.2l2.7-2.9-2-4.6-2.7 2.9z"/><path class="a70" d="M141.6 148.5l2.7-4.6-2-4.4-2.7 4.6z"/><path class="a60" d="M141 156.9l2.7-4.3-2.1-4.1-2.6 4.3z"/><path class="a83" d="M116.3 137.7l2.6-3.4-2-5.8-2.7 3.4z"/><path class="a63" d="M115 154.6l2.6-2.9-2-5.3-2.6 2.9z"/><path class="a100" d="M131.6 124.1l2.6-4.5-2-5.6-2.7 4.6z"/><path class="a87" d="M140.3 134.9l2.6-4.8-2-4.8-2.7 4.7z"/><path class="a39" d="M127.7 174.9l2.7-3.1-2-4.2-2.7 3.1z"/><path class="a101" d="M126.9 122.9l2.6-4.3-2-5.8-2.6 4.3z"/><path class="a93" d="M138.2 130l2.7-4.7-2-5.1-2.7 4.7z"/><path class="a46" d="M137.7 168.7l2.7-3.8-2-3.9-2.7 3.8z"/><path class="a42" d="M135.1 172.3l2.6-3.6-2-3.9-2.7 3.6z"/><path class="a40" d="M123.1 173.6l2.6-2.9-2-4.4-2.7 2.9z"/><path class="a81" d="M142.3 139.5l2.6-4.7-2-4.7-2.6 4.8z"/><path class="a51" d="M140.4 164.9l2.6-4-2-4-2.6 4.1z"/><path class="a80" d="M113.6 140.8l2.7-3.1-2.1-5.8-2.6 3.1z"/><path class="a99" d="M136.2 124.9l2.7-4.7-2-5.4-2.7 4.8z"/><path class="a70" d="M113 149.3l2.6-2.9-2-5.6-2.6 2.9z"/><path class="a38" d="M132.4 175.7l2.7-3.4-2.1-3.9-2.6 3.4z"/><path class="a66" d="M143.7 152.6l2.6-4.5-2-4.2-2.7 4.6z"/><path class="a99" d="M119.6 125l2.6-3.9-2-6-2.7 3.8z"/><path class="a95" d="M116.9 128.5l2.7-3.5-2.1-6.1-2.6 3.6z"/><path class="a48" d="M116.4 167.3l2.6-2.7-2-4.9-2.6 2.7z"/><path class="a54" d="M114.4 162.4l2.6-2.7-2-5.1-2.7 2.7z"/><path class="a104" d="M122.2 121.1l2.7-4-2.1-6.1-2.6 4.1z"/><path class="a76" d="M144.3 143.9l2.7-4.7-2.1-4.4-2.6 4.7z"/><path class="a56" d="M143 160.9l2.7-4.3-2-4-2.7 4.3z"/><path class="a43" d="M118.4 171.9l2.6-2.7-2-4.6-2.6 2.7z"/><path class="a107" d="M129.5 118.6l2.7-4.6-2-5.8-2.7 4.6z"/><path class="a91" d="M114.2 131.9l2.7-3.4-2-6-2.7 3.4z"/><path class="a36" d="M125.1 177.8l2.6-2.9-2-4.2-2.6 2.9z"/><path class="a60" d="M112.3 157.3l2.7-2.7-2-5.3-2.7 2.7z"/><path class="a106" d="M134.2 119.6l2.7-4.8-2.1-5.5-2.6 4.7z"/><path class="a34" d="M129.8 178.8l2.6-3.1-2-3.9-2.7 3.1z"/><path class="a109" d="M124.9 117.1l2.6-4.3-2-6.1-2.7 4.3z"/><path class="a77" d="M111 143.7l2.6-2.9-2-5.8-2.7 2.9z"/><path class="a38" d="M120.4 176.3l2.7-2.7-2.1-4.4-2.6 2.7z"/><path class="a93" d="M142.9 130.1l2.7-5-2-4.8-2.7 5z"/><path class="a99" d="M140.9 125.3l2.7-5-2.1-5.1-2.6 5z"/><path class="a42" d="M139.7 172.4l2.7-3.8-2-3.7-2.7 3.8z"/><path class="a38" d="M137.1 176l2.6-3.6-2-3.7-2.6 3.6z"/><path class="a88" d="M111.6 135l2.6-3.1-2-6-2.6 3.1z"/><path class="a72" d="M146.3 148.1l2.7-4.8-2-4.1-2.7 4.7z"/><path class="a61" d="M145.7 156.6l2.6-4.6-2-3.9-2.6 4.5z"/><path class="a67" d="M110.3 152l2.7-2.7-2-5.6-2.7 2.7z"/><path class="a88" d="M144.9 134.8l2.7-5-2-4.7-2.7 5z"/><path class="a47" d="M142.4 168.6l2.6-4.1-2-3.6-2.6 4z"/><path class="a105" d="M138.9 120.2l2.6-5-2-5.4-2.6 5z"/><path class="a34" d="M134.4 179.4l2.7-3.4-2-3.7-2.7 3.4z"/><path class="a113" d="M132.2 114l2.6-4.7-2-5.8-2.6 4.7z"/><path class="a107" d="M117.5 118.9l2.7-3.8-2-6.3-2.7 3.8z"/><path class="a114" d="M127.5 112.8l2.7-4.6-2-6-2.7 4.5z"/><path class="a31" d="M127.1 181.7l2.7-2.9-2.1-3.9-2.6 2.9z"/><path class="a103" d="M114.9 122.5l2.6-3.6-2-6.3-2.6 3.6z"/><path class="a46" d="M113.7 169.7l2.7-2.4-2-4.9-2.7 2.4z"/><path class="a83" d="M147 139.2l2.6-5-2-4.4-2.7 5z"/><path class="a52" d="M111.7 164.8l2.7-2.4-2.1-5.1-2.6 2.4z"/><path class="a33" d="M122.4 180.4l2.7-2.6-2-4.2-2.7 2.7z"/><path class="a52" d="M145 164.5l2.7-4.3-2-3.6-2.7 4.3z"/><path class="a112" d="M120.2 115.1l2.6-4.1-2-6.3-2.6 4.1z"/><path class="a40" d="M115.7 174.3l2.7-2.4-2-4.6-2.7 2.4z"/><path class="a112" d="M136.9 114.8l2.6-5-2-5.5-2.7 5z"/><path class="a99" d="M112.2 125.9l2.7-3.4-2-6.3-2.7 3.4z"/><path class="a58" d="M109.7 159.7l2.6-2.4-2-5.3-2.6 2.4z"/><path class="a84" d="M108.9 137.9l2.7-2.9-2-6-2.7 2.9z"/><path class="a74" d="M108.3 146.4l2.7-2.7-2.1-5.8-2.6 2.7z"/><path class="a30" d="M131.8 182.5l2.6-3.1-2-3.7-2.6 3.1z"/><path class="a67" d="M148.3 152l2.7-4.7-2-4-2.7 4.8z"/><path class="a117" d="M122.8 111l2.7-4.3-2-6.3-2.7 4.3z"/><path class="a35" d="M117.8 178.7l2.6-2.4-2-4.4-2.7 2.4z"/><path class="a78" d="M149 143.3l2.6-5-2-4.1-2.6 5z"/><path class="a57" d="M147.7 160.2l2.7-4.5-2.1-3.7-2.6 4.6z"/><path class="a100" d="M145.6 125.1l2.6-5.2-2-4.9-2.6 5.3z"/><path class="a95" d="M109.6 129l2.6-3.1-2-6.3-2.6 3.1z"/><path class="a106" d="M143.6 120.3l2.6-5.3-2-5.1-2.7 5.3z"/><path class="a65" d="M107.7 154.4l2.6-2.4-2-5.6-2.7 2.4z"/><path class="a120" d="M130.2 108.2l2.6-4.7-2-6.1-2.6 4.8z"/><path class="a39" d="M141.8 175.9l2.6-3.8-2-3.5-2.7 3.8z"/><path class="a34" d="M139.1 179.5l2.7-3.6-2.1-3.5-2.6 3.6z"/><path class="a94" d="M147.6 129.8l2.6-5.3-2-4.6-2.6 5.2z"/><path class="a29" d="M124.5 184.4l2.6-2.7-2-3.9-2.7 2.6z"/><path class="a119" d="M134.8 109.3l2.7-5-2-5.8-2.7 5z"/><path class="a43" d="M144.4 172.1l2.7-4.1-2.1-3.5-2.6 4.1z"/><path class="a112" d="M141.5 115.2l2.7-5.3-2-5.3-2.7 5.2z"/><path class="a27" d="M129.1 185.4l2.7-2.9-2-3.7-2.7 2.9z"/><path class="a122" d="M125.5 106.7l2.7-4.5-2.1-6.3-2.6 4.5z"/><path class="a30" d="M136.5 182.9l2.6-3.4-2-3.5-2.7 3.4z"/><path class="a31" d="M119.8 182.9l2.6-2.5-2-4.1-2.6 2.4z"/><path class="a82" d="M106.3 140.6l2.6-2.7-2-6-2.6 2.6z"/><path class="a115" d="M115.5 112.6l2.7-3.8-2-6.5-2.7 3.8z"/><path class="a89" d="M149.6 134.2l2.7-5.3-2.1-4.4-2.6 5.3z"/><path class="a111" d="M112.9 116.2l2.6-3.6-2-6.5-2.7 3.6z"/><path class="a48" d="M147.1 168l2.6-4.3-2-3.5-2.7 4.3z"/><path class="a44" d="M111.1 171.9l2.6-2.2-2-4.9-2.7 2.2z"/><path class="a50" d="M109 167l2.7-2.2-2-5.1-2.7 2.2z"/><path class="a92" d="M106.9 131.9l2.7-2.9-2-6.3-2.7 2.9z"/><path class="a120" d="M118.2 108.8l2.6-4.1-2-6.5-2.6 4.1z"/><path class="a72" d="M105.6 148.8l2.7-2.4-2-5.8-2.7 2.4z"/><path class="a119" d="M139.5 109.8l2.7-5.2-2-5.6-2.7 5.3z"/><path class="a74" d="M151 147.3l2.6-5-2-4-2.6 5z"/><path class="a63" d="M150.4 155.7l2.6-4.8-2-3.6-2.7 4.7z"/><path class="a39" d="M113.1 176.5l2.6-2.2-2-4.6-2.6 2.2z"/><path class="a107" d="M110.2 119.6l2.7-3.4-2.1-6.5-2.6 3.4z"/><path class="a27" d="M133.8 186l2.7-3.1-2.1-3.5-2.6 3.1z"/><path class="a56" d="M107 161.9l2.7-2.2-2-5.3-2.7 2.2z"/><path class="a127" d="M132.8 103.5l2.7-5-2-6.1-2.7 5z"/><path class="a125" d="M120.8 104.7l2.7-4.3-2-6.5-2.7 4.3z"/><path class="a128" d="M128.2 102.2l2.6-4.8-2-6.3-2.7 4.8z"/><path class="a85" d="M151.6 138.3l2.7-5.2-2-4.2-2.7 5.3z"/><path class="a33" d="M115.1 180.9l2.7-2.2-2.1-4.4-2.6 2.2z"/><path class="a54" d="M149.7 163.7l2.7-4.5-2-3.5-2.7 4.5z"/><path class="a25" d="M126.5 188.1l2.6-2.7-2-3.7-2.6 2.7z"/><path class="a26" d="M121.8 186.8l2.7-2.4-2.1-4-2.6 2.5z"/><path class="a104" d="M107.6 122.7l2.6-3.1-2-6.5-2.7 3.1z"/><path class="a63" d="M105 156.6l2.7-2.2-2.1-5.6-2.6 2.2z"/><path class="a126" d="M137.5 104.3l2.7-5.3-2.1-5.8-2.6 5.3z"/><path class="a107" d="M148.2 119.9l2.7-5.5-2-4.8-2.7 5.4z"/><path class="a113" d="M146.2 115l2.7-5.4-2.1-5.1-2.6 5.4z"/><path class="a36" d="M143.8 179.1l2.6-3.8-2-3.2-2.6 3.8z"/><path class="a24" d="M131.1 188.9l2.7-2.9-2-3.5-2.7 2.9z"/><path class="a31" d="M141.1 182.7l2.7-3.6-2-3.2-2.7 3.6z"/><path class="a90" d="M104.3 134.5l2.6-2.6-2-6.3-2.7 2.7z"/><path class="a101" d="M150.2 124.5l2.7-5.4-2-4.7-2.7 5.5z"/><path class="a79" d="M103.6 143l2.7-2.4-2-6.1-2.7 2.5z"/><path class="a131" d="M123.5 100.4l2.6-4.5-2-6.5-2.6 4.5z"/><path class="a40" d="M146.4 175.3l2.7-4.1-2-3.2-2.7 4.1z"/><path class="a119" d="M144.2 109.9l2.6-5.4-2-5.4-2.6 5.5z"/><path class="a70" d="M153 150.9l2.7-5-2.1-3.6-2.6 5z"/><path class="a29" d="M117.1 185.1l2.7-2.2-2-4.2-2.7 2.2z"/><path class="a27" d="M138.5 186.1l2.6-3.4-2-3.2-2.6 3.4z"/><path class="a80" d="M153.6 142.3l2.7-5.3-2-3.9-2.7 5.2z"/><path class="a96" d="M152.3 128.9l2.6-5.4-2-4.4-2.7 5.4z"/><path class="a60" d="M152.4 159.2l2.6-4.8-2-3.5-2.6 4.8z"/><path class="a101" d="M104.9 125.6l2.7-2.9-2.1-6.5-2.6 2.9z"/><path class="a70" d="M103 151l2.6-2.2-2-5.8-2.6 2.2z"/><path class="a45" d="M149.1 171.2l2.6-4.3-2-3.2-2.6 4.3z"/><path class="a124" d="M113.5 106.1l2.7-3.8-2.1-6.7-2.6 3.8z"/><path class="a120" d="M110.8 109.7l2.7-3.6-2-6.7-2.7 3.6z"/><path class="a43" d="M108.4 173.8l2.7-1.9-2.1-4.9-2.6 2z"/><path class="a135" d="M130.8 97.4l2.7-5-2.1-6.3-2.6 5z"/><path class="a126" d="M142.2 104.6l2.6-5.5-2-5.5-2.6 5.4z"/><path class="a48" d="M106.4 169l2.6-2-2-5.1-2.6 2z"/><path class="a129" d="M116.2 102.3l2.6-4.1-2-6.7-2.7 4.1z"/><path class="a133" d="M135.5 98.5l2.6-5.3-2-6-2.6 5.2z"/><path class="a24" d="M135.8 189.2l2.7-3.1-2-3.2-2.7 3.1z"/><path class="a22" d="M123.8 190.5l2.7-2.4-2-3.7-2.7 2.4z"/><path class="a37" d="M110.4 178.5l2.7-2-2-4.6-2.7 1.9z"/><path class="a116" d="M108.2 113.1l2.6-3.4-2-6.7-2.6 3.3z"/><path class="a21" d="M128.5 191.5l2.6-2.6-2-3.5-2.6 2.7z"/><path class="a55" d="M104.4 163.9l2.6-2-2-5.3-2.6 1.9z"/><path class="a137" d="M126.1 95.9l2.7-4.8-2-6.5-2.7 4.8z"/><path class="a92" d="M154.3 133.1l2.6-5.5-2-4.1-2.6 5.4z"/><path class="a134" d="M118.8 98.2l2.7-4.3-2.1-6.7-2.6 4.3z"/><path class="a24" d="M119.1 189l2.7-2.2-2-3.9-2.7 2.2z"/><path class="a51" d="M151.7 166.9l2.7-4.5-2-3.2-2.7 4.5z"/><path class="a87" d="M101.6 137l2.7-2.5-2.1-6.2-2.6 2.4z"/><path class="a32" d="M112.5 182.9l2.6-2-2-4.4-2.7 2z"/><path class="a112" d="M105.5 116.2l2.7-3.1-2-6.8-2.7 3.2z"/><path class="a133" d="M140.2 99l2.6-5.4-2-5.8-2.7 5.4z"/><path class="a98" d="M102.2 128.3l2.7-2.7-2-6.5-2.7 2.7z"/><path class="a61" d="M102.4 158.5l2.6-1.9-2-5.6-2.7 2z"/><path class="a78" d="M101 145.2l2.6-2.2-2-6-2.6 2.2z"/><path class="a21" d="M133.2 192.1l2.6-2.9-2-3.2-2.7 2.9z"/><path class="a76" d="M155.7 145.9l2.6-5.2-2-3.7-2.7 5.3z"/><path class="a66" d="M155 154.4l2.7-5-2-3.5-2.7 5z"/><path class="a114" d="M150.9 114.4l2.6-5.7-2-4.8-2.6 5.7z"/><path class="a120" d="M148.9 109.6l2.6-5.7-2-5.1-2.7 5.7z"/><path class="a33" d="M145.8 182.1l2.7-3.8-2.1-3-2.6 3.8z"/><path class="a139" d="M121.5 93.9l2.6-4.5-2-6.7-2.7 4.5z"/><path class="a29" d="M143.1 185.7l2.7-3.6-2-3-2.7 3.6z"/><path class="a109" d="M152.9 119.1l2.7-5.7-2.1-4.7-2.6 5.7z"/><path class="a27" d="M114.5 187l2.6-1.9-2-4.2-2.6 2z"/><path class="a38" d="M148.5 178.3l2.6-4.1-2-3-2.7 4.1z"/><path class="a127" d="M146.8 104.5l2.7-5.7-2-5.4-2.7 5.7z"/><path class="a141" d="M133.5 92.4l2.6-5.2-2-6.3-2.7 5.2z"/><path class="a87" d="M156.3 137l2.7-5.5-2.1-3.9-2.6 5.5z"/><path class="a57" d="M154.4 162.4l2.6-4.8-2-3.2-2.6 4.8z"/><path class="a143" d="M128.8 91.1l2.6-5-2-6.5-2.6 5z"/><path class="a25" d="M140.5 189.1l2.6-3.4-2-3-2.6 3.4z"/><path class="a109" d="M102.9 119.1l2.6-2.9-2-6.7-2.6 2.9z"/><path class="a19" d="M125.8 194l2.7-2.5-2-3.4-2.7 2.4z"/><path class="a69" d="M100.3 153l2.7-2-2-5.8-2.7 2z"/><path class="a21" d="M121.2 192.7l2.6-2.2-2-3.7-2.7 2.2z"/><path class="a104" d="M154.9 123.5l2.7-5.8-2-4.3-2.7 5.7z"/><path class="a43" d="M151.1 174.2l2.7-4.3-2.1-3-2.6 4.3z"/><path class="a141" d="M138.1 93.2l2.7-5.4-2-6.1-2.7 5.5z"/><path class="a133" d="M111.5 99.4l2.6-3.8-2-7-2.6 3.8z"/><path class="a133" d="M144.8 99.1l2.7-5.7-2-5.6-2.7 5.8z"/><path class="a129" d="M108.8 103l2.7-3.6-2-7-2.7 3.6z"/><path class="a18" d="M130.5 194.8l2.7-2.7-2.1-3.2-2.6 2.6z"/><path class="a41" d="M105.8 175.5l2.6-1.7-2-4.8-2.7 1.7z"/><path class="a47" d="M103.7 170.7l2.7-1.7-2-5.1-2.7 1.7z"/><path class="a138" d="M114.1 95.6l2.7-4.1-2-7-2.7 4.1z"/><path class="a21" d="M137.8 192.2l2.7-3.1-2-3-2.7 3.1z"/><path class="a145" d="M124.1 89.4l2.7-4.8-2-6.7-2.7 4.8z"/><path class="a96" d="M99.6 130.7l2.6-2.4-2-6.5-2.6 2.4z"/><path class="a85" d="M99 139.2l2.6-2.2-2-6.3-2.7 2.2z"/><path class="a36" d="M107.8 180.2l2.6-1.7-2-4.7-2.6 1.7z"/><path class="a125" d="M106.2 106.3l2.6-3.3-2-7-2.6 3.4z"/><path class="a23" d="M116.5 190.9l2.6-1.9-2-3.9-2.6 1.9z"/><path class="a54" d="M101.7 165.6l2.7-1.7-2-5.4-2.7 1.7z"/><path class="a73" d="M157.7 149.4l2.6-5.2-2-3.5-2.6 5.2z"/><path class="a99" d="M156.9 127.6l2.7-5.7-2-4.2-2.7 5.8z"/><path class="a48" d="M153.8 169.9l2.6-4.5-2-3-2.7 4.5z"/><path class="a143" d="M116.8 91.5l2.6-4.3-2-7-2.6 4.3z"/><path class="a107" d="M100.2 121.8l2.7-2.7-2-6.7-2.7 2.6z"/><path class="a83" d="M158.3 140.7l2.7-5.5-2-3.7-2.7 5.5z"/><path class="a63" d="M157 157.6l2.7-5-2-3.2-2.7 5z"/><path class="a76" d="M98.3 147.2l2.7-2-2-6-2.7 1.9z"/><path class="a31" d="M109.8 184.6l2.7-1.7-2.1-4.4-2.6 1.7z"/><path class="a141" d="M142.8 93.6l2.7-5.8-2.1-5.8-2.6 5.8z"/><path class="a122" d="M103.5 109.5l2.7-3.2-2-6.9-2.7 3.1z"/><path class="a18" d="M135.2 195.1l2.6-2.9-2-3-2.6 2.9z"/><path class="a60" d="M99.7 160.2l2.7-1.7-2.1-5.5-2.6 1.7z"/><path class="a150" d="M131.4 86.1l2.7-5.2-2-6.5-2.7 5.2z"/><path class="a148" d="M136.1 87.2l2.7-5.5-2-6.3-2.7 5.5z"/><path class="a17" d="M123.2 196.1l2.6-2.1-2-3.5-2.6 2.2z"/><path class="a149" d="M119.4 87.2l2.7-4.5-2-7-2.7 4.5z"/><path class="a122" d="M153.5 108.7l2.7-5.9-2-4.9-2.7 6z"/><path class="a128" d="M151.5 103.9l2.7-6-2-5.1-2.7 6z"/><path class="a16" d="M127.9 197.2l2.6-2.4-2-3.3-2.7 2.5z"/><path class="a152" d="M126.8 84.6l2.6-5-2-6.7-2.6 5z"/><path class="a31" d="M147.8 184.9l2.7-3.9-2-2.7-2.7 3.8z"/><path class="a95" d="M159 131.5l2.6-5.7-2-3.9-2.7 5.7z"/><path class="a26" d="M111.8 188.7l2.7-1.7-2-4.1-2.7 1.7z"/><path class="a26" d="M145.2 188.5l2.6-3.6-2-2.8-2.7 3.6z"/><path class="a54" d="M156.4 165.4l2.7-4.8-2.1-3-2.6 4.8z"/><path class="a117" d="M155.6 113.4l2.6-6-2-4.6-2.7 5.9z"/><path class="a19" d="M118.5 194.6l2.7-1.9-2.1-3.7-2.6 1.9z"/><path class="a35" d="M150.5 181l2.6-4-2-2.8-2.6 4.1z"/><path class="a135" d="M149.5 98.8l2.7-6-2.1-5.3-2.6 5.9z"/><path class="a118" d="M100.9 112.4l2.6-2.9-2-7-2.7 2.9z"/><path class="a67" d="M97.7 154.7l2.6-1.7-2-5.8-2.6 1.7z"/><path class="a94" d="M96.9 132.9l2.7-2.2-2-6.5-2.7 2.2z"/><path class="a22" d="M142.5 191.8l2.7-3.3-2.1-2.8-2.6 3.4z"/><path class="a148" d="M140.8 87.8l2.6-5.8-2-6-2.6 5.7z"/><path class="a112" d="M157.6 117.7l2.6-5.9-2-4.4-2.6 6z"/><path class="a104" d="M97.6 124.2l2.6-2.4-2-6.8-2.6 2.4z"/><path class="a15" d="M132.5 197.7l2.7-2.6-2-3-2.7 2.7z"/><path class="a84" d="M96.3 141.1l2.7-1.9-2.1-6.3-2.6 1.9z"/><path class="a40" d="M153.1 177l2.7-4.3-2-2.8-2.7 4.3z"/><path class="a80" d="M160.3 144.2l2.7-5.5-2-3.5-2.7 5.5z"/><path class="a70" d="M159.7 152.6l2.7-5.2-2.1-3.2-2.6 5.2z"/><path class="a141" d="M147.5 93.4l2.6-5.9-2-5.6-2.6 5.9z"/><path class="a154" d="M122.1 82.7l2.7-4.8-2.1-7-2.6 4.8z"/><path class="a143" d="M109.5 92.4l2.6-3.8-2-7.2-2.7 3.8z"/><path class="a138" d="M106.8 96l2.7-3.6-2.1-7.2-2.6 3.6z"/><path class="a19" d="M139.9 195l2.6-3.2-2-2.7-2.7 3.1z"/><path class="a41" d="M103.1 177l2.7-1.5-2.1-4.8-2.6 1.5z"/><path class="a22" d="M113.8 192.7l2.7-1.8-2-3.9-2.7 1.7z"/><path class="a147" d="M112.1 88.6l2.7-4.1-2-7.2-2.7 4.1z"/><path class="a47" d="M101.1 172.2l2.6-1.5-2-5.1-2.6 1.5z"/><path class="a35" d="M105.1 181.7l2.7-1.5-2-4.7-2.7 1.5z"/><path class="a135" d="M104.2 99.4l2.6-3.4-2-7.2-2.7 3.4z"/><path class="a91" d="M161 135.2l2.6-5.7-2-3.7-2.6 5.7z"/><path class="a107" d="M159.6 121.9l2.6-5.9-2-4.2-2.6 5.9z"/><path class="a60" d="M159.1 160.6l2.6-5-2-3-2.7 5z"/><path class="a157" d="M134.1 80.9l2.7-5.5-2.1-6.5-2.6 5.5z"/><path class="a53" d="M99.1 167.1l2.6-1.5-2-5.4-2.6 1.5z"/><path class="a116" d="M98.2 115l2.7-2.6-2.1-7-2.6 2.6z"/><path class="a46" d="M155.8 172.7l2.6-4.6-2-2.7-2.6 4.5z"/><path class="a75" d="M95.7 148.9l2.6-1.7-2-6.1-2.7 1.7z"/><path class="a158" d="M129.4 79.6l2.7-5.2-2-6.7-2.7 5.2z"/><path class="a153" d="M114.8 84.5l2.6-4.3-2-7.2-2.6 4.3z"/><path class="a14" d="M125.2 199.4l2.7-2.2-2.1-3.2-2.6 2.1z"/><path class="a148" d="M145.5 87.8l2.6-5.9-2-5.8-2.7 5.9z"/><path class="a16" d="M120.5 198.1l2.7-2-2-3.4-2.7 1.9z"/><path class="a30" d="M107.1 186.1l2.7-1.5-2-4.4-2.7 1.5z"/><path class="a156" d="M138.8 81.7l2.6-5.7-2-6.3-2.6 5.7z"/><path class="a16" d="M137.2 197.8l2.7-2.8-2.1-2.8-2.6 2.9z"/><path class="a131" d="M101.5 102.5l2.7-3.1-2.1-7.2-2.6 3.1z"/><path class="a60" d="M97.1 161.7l2.6-1.5-2-5.5-2.7 1.5z"/><path class="a13" d="M129.9 200.2l2.6-2.5-2-2.9-2.6 2.4z"/><path class="a161" d="M124.8 77.9l2.6-5-2-7-2.7 5z"/><path class="a102" d="M94.9 126.4l2.7-2.2-2-6.8-2.7 2.2z"/><path class="a158" d="M117.4 80.2l2.7-4.5-2-7.2-2.7 4.5z"/><path class="a92" d="M94.3 134.8l2.6-1.9-2-6.5-2.6 1.9z"/><path class="a18" d="M115.9 196.4l2.6-1.8-2-3.7-2.7 1.8z"/><path class="a103" d="M161.6 125.8l2.7-5.9-2.1-3.9-2.6 5.9z"/><path class="a52" d="M158.4 168.1l2.7-4.7-2-2.8-2.7 4.8z"/><path class="a131" d="M156.2 102.8l2.6-6.2-2-4.9-2.6 6.2z"/><path class="a25" d="M109.2 190.2l2.6-1.5-2-4.1-2.7 1.5z"/><path class="a137" d="M154.2 97.9l2.6-6.2-2-5.1-2.6 6.2z"/><path class="a77" d="M162.4 147.4l2.6-5.5-2-3.2-2.7 5.5z"/><path class="a29" d="M149.8 187.4l2.7-3.8-2-2.6-2.7 3.9z"/><path class="a125" d="M158.2 107.4l2.7-6.2-2.1-4.6-2.6 6.2z"/><path class="a24" d="M147.2 191l2.6-3.6-2-2.5-2.6 3.6z"/><path class="a128" d="M98.8 105.4l2.7-2.9-2-7.2-2.7 2.9z"/><path class="a156" d="M143.4 82l2.7-5.9-2-6-2.7 5.9z"/><path class="a113" d="M95.6 117.4l2.6-2.4-2-7-2.7 2.5z"/><path class="a67" d="M95 156.2l2.7-1.5-2-5.8-2.7 1.5z"/><path class="a143" d="M152.2 92.8l2.6-6.2-2-5.3-2.7 6.2z"/><path class="a33" d="M152.5 183.6l2.6-4.1-2-2.5-2.6 4z"/><path class="a83" d="M93.6 142.8l2.7-1.7-2-6.3-2.7 1.8z"/><path class="a88" d="M163 138.7l2.6-5.7-2-3.5-2.6 5.7z"/><path class="a67" d="M161.7 155.6l2.7-5.2-2-3-2.7 5.2z"/><path class="a13" d="M134.5 200.5l2.7-2.7-2-2.7-2.7 2.6z"/><path class="a21" d="M144.5 194.4l2.7-3.4-2-2.5-2.7 3.3z"/><path class="a120" d="M160.2 111.8l2.7-6.2-2-4.4-2.7 6.2z"/><path class="a165" d="M132.1 74.4l2.6-5.5-2-6.7-2.6 5.5z"/><path class="a164" d="M120.1 75.7l2.6-4.8-2-7.2-2.6 4.8z"/><path class="a39" d="M155.1 179.5l2.7-4.3-2-2.5-2.7 4.3z"/><path class="a150" d="M150.1 87.5l2.7-6.2-2-5.6-2.7 6.2z"/><path class="a164" d="M136.8 75.4l2.6-5.7-2-6.5-2.7 5.7z"/><path class="a21" d="M111.2 194.2l2.6-1.5-2-4-2.6 1.5z"/><path class="a12" d="M122.5 201.3l2.7-1.9-2-3.3-2.7 2z"/><path class="a17" d="M141.9 197.5l2.6-3.1-2-2.6-2.6 3.2z"/><path class="a99" d="M163.6 129.5l2.7-5.9-2-3.7-2.7 5.9z"/><path class="a167" d="M127.4 72.9l2.7-5.2-2.1-7-2.6 5.2z"/><path class="a11" d="M127.2 202.4l2.7-2.2-2-3-2.7 2.2z"/><path class="a58" d="M161.1 163.4l2.6-5-2-2.8-2.6 5z"/><path class="a40" d="M100.5 178.3l2.6-1.3-2-4.8-2.7 1.2z"/><path class="a46" d="M98.4 173.4l2.7-1.2-2-5.1-2.7 1.2z"/><path class="a125" d="M96.2 108l2.6-2.6-2-7.2-2.6 2.6z"/><path class="a14" d="M117.9 199.8l2.6-1.7-2-3.5-2.6 1.8z"/><path class="a74" d="M93 150.4l2.7-1.5-2.1-6.1-2.6 1.5z"/><path class="a115" d="M162.2 116l2.7-6.2-2-4.2-2.7 6.2z"/><path class="a35" d="M102.5 182.9l2.6-1.2-2-4.7-2.6 1.3z"/><path class="a44" d="M157.8 175.2l2.7-4.5-2.1-2.6-2.6 4.6z"/><path class="a53" d="M96.4 168.3l2.7-1.2-2-5.4-2.7 1.3z"/><path class="a164" d="M141.4 76l2.7-5.9-2-6.3-2.7 5.9z"/><path class="a101" d="M92.3 128.3l2.6-1.9-2-6.8-2.7 2z"/><path class="a157" d="M148.1 81.9l2.7-6.2-2-5.8-2.7 6.2z"/><path class="a11" d="M131.9 202.9l2.6-2.4-2-2.8-2.6 2.5z"/><path class="a112" d="M92.9 119.6l2.7-2.2-2.1-6.9-2.6 2.2z"/><path class="a30" d="M104.5 187.3l2.6-1.2-2-4.4-2.6 1.2z"/><path class="a14" d="M139.2 200.4l2.7-2.9-2-2.5-2.7 2.8z"/><path class="a91" d="M91.6 136.6l2.7-1.8-2-6.5-2.7 1.8z"/><path class="a170" d="M122.7 70.9l2.7-5-2-7.2-2.7 5z"/><path class="a84" d="M165 141.9l2.7-5.7-2.1-3.2-2.6 5.7z"/><path class="a74" d="M164.4 150.4l2.6-5.5-2-3-2.6 5.5z"/><path class="a59" d="M94.4 163l2.7-1.3-2.1-5.5-2.6 1.2z"/><path class="a17" d="M113.2 197.8l2.7-1.4-2.1-3.7-2.6 1.5z"/><path class="a111" d="M164.3 119.9l2.6-6.2-2-3.9-2.7 6.2z"/><path class="a50" d="M160.5 170.7l2.6-4.8-2-2.5-2.7 4.7z"/><path class="a95" d="M165.6 133l2.7-5.9-2-3.5-2.7 5.9z"/><path class="a25" d="M106.5 191.5l2.7-1.3-2.1-4.1-2.6 1.2z"/><path class="a65" d="M163.7 158.4l2.7-5.3-2-2.7-2.7 5.2z"/><path class="a123" d="M93.5 110.5l2.7-2.5-2-7.2-2.7 2.5z"/><path class="a82" d="M91 144.3l2.6-1.5-2-6.2-2.6 1.4z"/><path class="a139" d="M158.8 96.6l2.7-6.4-2-4.9-2.7 6.4z"/><path class="a173" d="M134.7 68.9l2.7-5.7-2-6.7-2.7 5.7z"/><path class="a164" d="M146.1 76.1l2.7-6.2-2.1-6-2.6 6.2z"/><path class="a145" d="M156.8 91.7l2.7-6.4-2-5.1-2.7 6.4z"/><path class="a175" d="M130.1 67.7l2.6-5.5-2-7-2.7 5.5z"/><path class="a27" d="M151.9 189.7l2.6-3.8-2-2.3-2.7 3.8z"/><path class="a67" d="M92.4 157.4l2.6-1.2-2-5.8-2.6 1.2z"/><path class="a134" d="M160.9 101.2l2.6-6.4-2-4.6-2.7 6.4z"/><path class="a23" d="M149.2 193.3l2.7-3.6-2.1-2.3-2.6 3.6z"/><path class="a11" d="M136.6 203l2.6-2.6-2-2.6-2.7 2.7z"/><path class="a10" d="M124.6 204.3l2.6-1.9-2-3-2.7 1.9z"/><path class="a152" d="M154.8 86.6l2.7-6.4-2.1-5.3-2.6 6.4z"/><path class="a11" d="M119.9 203l2.6-1.7-2-3.2-2.6 1.7z"/><path class="a32" d="M154.5 185.9l2.7-4.1-2.1-2.3-2.6 4.1z"/><path class="a172" d="M139.4 69.7l2.7-5.9-2.1-6.5-2.6 5.9z"/><path class="a19" d="M146.5 196.6l2.7-3.3-2-2.3-2.7 3.4z"/><path class="a9" d="M129.2 205.1l2.7-2.2-2-2.7-2.7 2.2z"/><path class="a129" d="M162.9 105.6l2.6-6.4-2-4.4-2.6 6.4z"/><path class="a177" d="M125.4 65.9l2.6-5.2-2-7.2-2.6 5.2z"/><path class="a37" d="M157.2 181.8l2.6-4.3-2-2.3-2.7 4.3z"/><path class="a107" d="M166.3 123.6l2.6-6.2-2-3.7-2.6 6.2z"/><path class="a21" d="M108.5 195.4l2.7-1.2-2-4-2.7 1.3z"/><path class="a158" d="M152.8 81.3l2.6-6.4-2-5.6-2.6 6.4z"/><path class="a56" d="M163.1 165.9l2.7-5-2.1-2.5-2.6 5z"/><path class="a14" d="M115.2 201.3l2.7-1.5-2-3.4-2.7 1.4z"/><path class="a110" d="M90.2 121.6l2.7-2-2-6.9-2.7 1.9z"/><path class="a100" d="M89.6 130.1l2.7-1.8-2.1-6.7-2.6 1.7z"/><path class="a16" d="M143.9 199.8l2.6-3.2-2-2.2-2.6 3.1z"/><path class="a74" d="M90.4 151.6l2.6-1.2-2-6.1-2.7 1.3z"/><path class="a172" d="M144.1 70.1l2.6-6.2-2-6.3-2.6 6.2z"/><path class="a41" d="M97.8 179.3l2.7-1-2.1-4.9-2.6 1z"/><path class="a82" d="M167 144.9l2.7-5.7-2-3-2.7 5.7z"/><path class="a124" d="M164.9 109.8l2.7-6.4-2.1-4.2-2.6 6.4z"/><path class="a47" d="M95.8 174.4l2.6-1-2-5.1-2.6 1z"/><path class="a121" d="M90.9 112.7l2.6-2.2-2-7.2-2.6 2.2z"/><path class="a43" d="M159.8 177.5l2.7-4.5-2-2.3-2.7 4.5z"/><path class="a91" d="M89 138l2.6-1.4-2-6.5-2.6 1.4z"/><path class="a35" d="M99.8 183.9l2.7-1-2-4.6-2.7 1z"/><path class="a9" d="M133.9 205.5l2.7-2.5-2.1-2.5-2.6 2.4z"/><path class="a92" d="M167.7 136.2l2.6-5.9-2-3.2-2.7 5.9z"/><path class="a72" d="M166.4 153.1l2.6-5.4-2-2.8-2.6 5.5z"/><path class="a53" d="M93.8 169.3l2.6-1-2-5.3-2.7 1z"/><path class="a165" d="M150.8 75.7l2.6-6.4-2-5.8-2.6 6.4z"/><path class="a12" d="M141.2 202.7l2.7-2.9-2-2.3-2.7 2.9z"/><path class="a30" d="M101.8 188.3l2.7-1-2-4.4-2.7 1z"/><path class="a182" d="M132.7 62.2l2.7-5.7-2.1-7-2.6 5.7z"/><path class="a17" d="M110.5 199.1l2.7-1.3-2-3.6-2.7 1.2z"/><path class="a181" d="M137.4 63.2l2.6-5.9-2-6.8-2.6 6z"/><path class="a60" d="M91.7 164l2.7-1-2-5.6-2.7 1z"/><path class="a104" d="M168.3 127.1l2.7-6.2-2.1-3.5-2.6 6.2z"/><path class="a9" d="M121.9 206l2.7-1.7-2.1-3-2.6 1.7z"/><path class="a120" d="M166.9 113.7l2.7-6.4-2-3.9-2.7 6.4z"/><path class="a63" d="M165.8 160.9l2.6-5.2-2-2.6-2.7 5.3z"/><path class="a184" d="M128 60.7l2.7-5.5-2-7.2-2.7 5.5z"/><path class="a48" d="M162.5 173l2.6-4.8-2-2.3-2.6 4.8z"/><path class="a7" d="M126.6 207.1l2.6-2-2-2.7-2.6 1.9z"/><path class="a82" d="M88.3 145.6l2.7-1.3-2-6.3-2.7 1.3z"/><path class="a11" d="M117.2 204.5l2.7-1.5-2-3.2-2.7 1.5z"/><path class="a25" d="M103.9 192.5l2.6-1-2-4.2-2.7 1z"/><path class="a173" d="M148.8 69.9l2.6-6.4-2-6-2.7 6.4z"/><path class="a180" d="M142.1 63.8l2.6-6.2-2-6.5-2.7 6.2z"/><path class="a149" d="M161.5 90.2l2.7-6.6-2.1-4.9-2.6 6.6z"/><path class="a10" d="M138.6 205.3l2.6-2.6-2-2.3-2.6 2.6z"/><path class="a154" d="M159.5 85.3l2.6-6.6-2-5.1-2.6 6.6z"/><path class="a67" d="M89.7 158.4l2.7-1-2-5.8-2.7 1z"/><path class="a109" d="M87.6 123.3l2.6-1.7-2-7-2.6 1.7z"/><path class="a7" d="M131.3 207.6l2.6-2.1-2-2.6-2.7 2.2z"/><path class="a26" d="M153.9 191.7l2.6-3.8-2-2-2.6 3.8z"/><path class="a143" d="M163.5 94.8l2.7-6.6-2-4.6-2.7 6.6z"/><path class="a22" d="M151.2 195.3l2.7-3.6-2-2-2.7 3.6z"/><path class="a120" d="M88.2 114.6l2.7-1.9-2-7.2-2.7 1.9z"/><path class="a161" d="M157.5 80.2l2.6-6.6-2-5.3-2.7 6.6z"/><path class="a99" d="M87 131.5l2.6-1.4-2-6.8-2.7 1.5z"/><path class="a31" d="M156.5 187.9l2.7-4.1-2-2-2.7 4.1z"/><path class="a18" d="M148.6 198.7l2.6-3.4-2-2-2.7 3.3z"/><path class="a14" d="M112.6 202.6l2.6-1.3-2-3.5-2.7 1.3z"/><path class="a90" d="M169.7 139.2l2.6-5.9-2-3-2.6 5.9z"/><path class="a116" d="M168.9 117.4l2.7-6.4-2-3.7-2.7 6.4z"/><path class="a79" d="M169 147.7l2.7-5.7-2-2.8-2.7 5.7z"/><path class="a138" d="M165.5 99.2l2.7-6.6-2-4.4-2.7 6.6z"/><path class="a55" d="M165.1 168.2l2.7-5-2-2.3-2.7 5z"/><path class="a21" d="M105.9 196.4l2.6-1-2-3.9-2.6 1z"/><path class="a36" d="M159.2 183.8l2.6-4.3-2-2-2.6 4.3z"/><path class="a167" d="M155.4 74.9l2.7-6.6-2-5.6-2.7 6.6z"/><path class="a181" d="M146.7 63.9l2.7-6.4-2-6.3-2.7 6.4z"/><path class="a101" d="M170.3 130.3l2.7-6.2-2-3.2-2.7 6.2z"/><path class="a74" d="M87.7 152.6l2.7-1-2.1-6-2.6 1z"/><path class="a14" d="M145.9 201.8l2.7-3.1-2.1-2.1-2.6 3.2z"/><path class="a70" d="M168.4 155.7l2.7-5.5-2.1-2.5-2.6 5.4z"/><path class="a90" d="M86.3 139.3l2.7-1.3-2-6.5-2.7 1.3z"/><path class="a190" d="M135.4 56.5l2.6-6-2-6.9-2.7 5.9z"/><path class="a7" d="M135.9 207.7l2.7-2.4-2-2.3-2.7 2.5z"/><path class="a133" d="M167.6 103.4l2.6-6.7-2-4.1-2.7 6.6z"/><path class="a192" d="M130.7 55.2l2.6-5.7-2-7.2-2.6 5.7z"/><path class="a41" d="M95.1 180.1l2.7-.8-2-4.9-2.7 .8z"/><path class="a47" d="M93.1 175.2l2.7-.8-2-5.1-2.7 .8z"/><path class="a41" d="M161.8 179.5l2.7-4.5-2-2-2.7 4.5z"/><path class="a6" d="M123.9 208.8l2.7-1.7-2-2.8-2.7 1.7z"/><path class="a36" d="M97.2 184.7l2.6-.8-2-4.6-2.7 .8z"/><path class="a175" d="M153.4 69.3l2.7-6.6-2-5.8-2.7 6.6z"/><path class="a8" d="M119.3 207.5l2.6-1.5-2-3-2.7 1.5z"/><path class="a189" d="M140 57.3l2.7-6.2-2-6.7-2.7 6.1z"/><path class="a53" d="M91.1 170.1l2.7-.8-2.1-5.3-2.6 .8z"/><path class="a11" d="M143.3 204.7l2.6-2.9-2-2-2.7 2.9z"/><path class="a17" d="M107.9 200.1l2.6-1-2-3.7-2.6 1z"/><path class="a6" d="M128.6 209.6l2.7-2-2.1-2.5-2.6 2z"/><path class="a112" d="M171 120.9l2.6-6.4-2-3.5-2.7 6.4z"/><path class="a31" d="M99.2 189.1l2.6-.8-2-4.4-2.6 .8z"/><path class="a61" d="M167.8 163.2l2.6-5.2-2-2.3-2.6 5.2z"/><path class="a10" d="M114.6 205.8l2.6-1.3-2-3.2-2.6 1.3z"/><path class="a60" d="M89.1 164.8l2.6-.8-2-5.6-2.6 .8z"/><path class="a129" d="M169.6 107.3l2.6-6.6-2-4-2.6 6.7z"/><path class="a119" d="M85.6 116.3l2.6-1.7-2-7.2-2.6 1.7z"/><path class="a82" d="M85.7 146.6l2.6-1-2-6.3-2.6 1z"/><path class="a108" d="M84.9 124.8l2.7-1.5-2-7-2.7 1.5z"/><path class="a47" d="M164.5 175l2.6-4.8-2-2-2.6 4.8z"/><path class="a189" d="M144.7 57.6l2.7-6.4-2.1-6.5-2.6 6.4z"/><path class="a182" d="M151.4 63.5l2.7-6.6-2.1-6.1-2.6 6.7z"/><path class="a87" d="M171.7 142l2.7-6-2.1-2.7-2.6 5.9z"/><path class="a26" d="M101.2 193.3l2.7-.8-2.1-4.2-2.6 .8z"/><path class="a6" d="M133.3 209.9l2.6-2.2-2-2.2-2.6 2.1z"/><path class="a99" d="M84.3 132.8l2.7-1.3-2.1-6.7-2.6 1.2z"/><path class="a9" d="M140.6 207.4l2.7-2.7-2.1-2-2.6 2.6z"/><path class="a98" d="M172.3 133.3l2.7-6.2-2-3-2.7 6.2z"/><path class="a78" d="M171.1 150.2l2.6-5.7-2-2.5-2.7 5.7z"/><path class="a67" d="M87.1 159.2l2.6-.8-2-5.8-2.6 .8z"/><path class="a158" d="M164.2 83.6l2.6-6.9-2-4.9-2.7 6.9z"/><path class="a164" d="M162.1 78.7l2.7-6.9-2-5.1-2.7 6.9z"/><path class="a14" d="M109.9 203.6l2.7-1-2.1-3.5-2.6 1z"/><path class="a25" d="M155.9 193.6l2.6-3.9-2-1.8-2.6 3.8z"/><path class="a153" d="M166.2 88.2l2.6-6.9-2-4.6-2.6 6.9z"/><path class="a21" d="M153.2 197.2l2.7-3.6-2-1.9-2.7 3.6z"/><path class="a170" d="M160.1 73.6l2.7-6.9-2-5.3-2.7 6.9z"/><path class="a125" d="M171.6 111l2.6-6.6-2-3.7-2.6 6.6z"/><path class="a30" d="M158.5 189.7l2.7-4-2-1.9-2.7 4.1z"/><path class="a200" d="M133.3 49.5l2.7-5.9-2-7.2-2.7 5.9z"/><path class="a54" d="M167.1 170.2l2.7-5-2-2-2.7 5z"/><path class="a198" d="M138 50.5l2.7-6.1-2-7-2.7 6.2z"/><path class="a17" d="M150.6 200.5l2.6-3.3-2-1.9-2.6 3.4z"/><path class="a109" d="M173 124.1l2.6-6.4-2-3.2-2.6 6.4z"/><path class="a22" d="M103.2 197.2l2.7-.8-2-3.9-2.7 .8z"/><path class="a69" d="M170.4 158l2.7-5.5-2-2.3-2.7 5.5z"/><path class="a147" d="M168.2 92.6l2.6-6.9-2-4.4-2.6 6.9z"/><path class="a6" d="M121.3 210.3l2.6-1.5-2-2.8-2.6 1.5z"/><path class="a90" d="M83.7 140.3l2.6-1-2-6.5-2.7 1z"/><path class="a190" d="M149.4 57.5l2.6-6.7-2-6.2-2.6 6.6z"/><path class="a35" d="M161.2 185.7l2.7-4.3-2.1-1.9-2.6 4.3z"/><path class="a5" d="M125.9 211.3l2.7-1.7-2-2.5-2.7 1.7z"/><path class="a177" d="M158.1 68.3l2.7-6.9-2.1-5.6-2.6 6.9z"/><path class="a75" d="M85.1 153.4l2.6-.8-2-6-2.7 .8z"/><path class="a8" d="M116.6 208.8l2.7-1.3-2.1-3-2.6 1.3z"/><path class="a6" d="M137.9 209.8l2.7-2.4-2-2.1-2.7 2.4z"/><path class="a14" d="M147.9 203.6l2.7-3.1-2-1.8-2.7 3.1z"/><path class="a198" d="M142.7 51.1l2.6-6.4-2-6.7-2.6 6.4z"/><path class="a143" d="M170.2 96.7l2.7-6.8-2.1-4.2-2.6 6.9z"/><path class="a4" d="M130.6 211.9l2.7-2-2-2.3-2.7 2z"/><path class="a118" d="M82.9 117.8l2.7-1.5-2-7.2-2.7 1.5z"/><path class="a41" d="M163.9 181.4l2.6-4.6-2-1.8-2.7 4.5z"/><path class="a42" d="M92.5 180.6l2.6-.5-2-4.9-2.6 .6z"/><path class="a48" d="M90.5 175.8l2.6-.6-2-5.1-2.6 .6z"/><path class="a184" d="M156.1 62.7l2.6-6.9-2-5.8-2.6 6.9z"/><path class="a37" d="M94.5 185.3l2.7-.6-2.1-4.6-2.6 .5z"/><path class="a108" d="M82.3 126l2.6-1.2-2-7-2.6 1.3z"/><path class="a18" d="M105.2 200.9l2.7-.8-2-3.7-2.7 .8z"/><path class="a122" d="M173.6 114.5l2.7-6.7-2.1-3.4-2.6 6.6z"/><path class="a60" d="M169.8 165.2l2.7-5.2-2.1-2-2.6 5.2z"/><path class="a54" d="M88.5 170.7l2.6-.6-2-5.3-2.7 .5z"/><path class="a11" d="M111.9 206.8l2.7-1-2-3.2-2.7 1z"/><path class="a11" d="M145.3 206.5l2.6-2.9-2-1.8-2.6 2.9z"/><path class="a96" d="M174.4 136l2.6-6.1-2-2.8-2.7 6.2z"/><path class="a85" d="M173.7 144.5l2.7-5.9-2-2.6-2.7 6z"/><path class="a31" d="M96.5 189.7l2.7-.6-2-4.4-2.7 .6z"/><path class="a83" d="M83 147.4l2.7-.8-2-6.3-2.7 .8z"/><path class="a138" d="M172.2 100.7l2.7-6.9-2-3.9-2.7 6.8z"/><path class="a198" d="M147.4 51.2l2.6-6.6-2-6.5-2.7 6.6z"/><path class="a61" d="M86.4 165.3l2.7-.5-2-5.6-2.7 .6z"/><path class="a47" d="M166.5 176.8l2.7-4.7-2.1-1.9-2.6 4.8z"/><path class="a107" d="M175 127.1l2.6-6.4-2-3-2.6 6.4z"/><path class="a99" d="M81.6 133.8l2.7-1-2-6.8-2.7 1.1z"/><path class="a76" d="M173.1 152.5l2.6-5.7-2-2.3-2.6 5.7z"/><path class="a5" d="M135.3 212l2.6-2.2-2-2.1-2.6 2.2z"/><path class="a192" d="M154.1 56.9l2.6-6.9-2-6-2.7 6.8z"/><path class="a208" d="M136 43.6l2.7-6.2-2.1-7.2-2.6 6.2z"/><path class="a27" d="M98.5 193.8l2.7-.5-2-4.2-2.7 .6z"/><path class="a8" d="M142.6 209.2l2.7-2.7-2-1.8-2.7 2.7z"/><path class="a4" d="M123.3 212.8l2.6-1.5-2-2.5-2.6 1.5z"/><path class="a68" d="M84.4 159.8l2.7-.6-2-5.8-2.7 .6z"/><path class="a14" d="M107.3 204.4l2.6-.8-2-3.5-2.7 .8z"/><path class="a207" d="M140.7 44.4l2.6-6.4-2-7-2.6 6.4z"/><path class="a5" d="M118.6 211.5l2.7-1.2-2-2.8-2.7 1.3z"/><path class="a118" d="M175.6 117.7l2.7-6.6-2-3.3-2.7 6.7z"/><path class="a135" d="M174.2 104.4l2.7-6.9-2-3.7-2.7 6.9z"/><path class="a3" d="M128 213.6l2.6-1.7-2-2.3-2.7 1.7z"/><path class="a67" d="M172.5 160l2.6-5.5-2-2-2.7 5.5z"/><path class="a25" d="M157.9 195.1l2.7-3.8-2.1-1.6-2.6 3.9z"/><path class="a53" d="M169.2 172.1l2.6-5-2-1.9-2.7 5z"/><path class="a21" d="M155.3 198.7l2.6-3.6-2-1.5-2.7 3.6z"/><path class="a91" d="M81 141.1l2.7-.8-2.1-6.5-2.6 .8z"/><path class="a30" d="M160.6 191.3l2.6-4.1-2-1.5-2.7 4z"/><path class="a8" d="M113.9 209.8l2.7-1-2-3-2.7 1z"/><path class="a22" d="M100.6 197.8l2.6-.6-2-3.9-2.7 .5z"/><path class="a200" d="M152 50.8l2.7-6.8-2-6.3-2.7 6.9z"/><path class="a17" d="M152.6 202.1l2.7-3.4-2.1-1.5-2.6 3.3z"/><path class="a118" d="M80.3 119.1l2.6-1.3-2-7.2-2.7 1.3z"/><path class="a207" d="M145.3 44.7l2.7-6.6-2-6.8-2.7 6.7z"/><path class="a76" d="M82.4 154l2.7-.6-2.1-6-2.6 .5z"/><path class="a35" d="M163.2 187.2l2.7-4.3-2-1.5-2.7 4.3z"/><path class="a6" d="M140 211.6l2.6-2.4-2-1.8-2.7 2.4z"/><path class="a3" d="M132.6 213.9l2.7-1.9-2-2.1-2.7 2z"/><path class="a94" d="M176.4 138.6l2.6-6.2-2-2.5-2.6 6.1z"/><path class="a14" d="M149.9 205.2l2.7-3.1-2-1.6-2.7 3.1z"/><path class="a108" d="M79.6 127.1l2.7-1.1-2-6.9-2.7 1z"/><path class="a104" d="M177 129.9l2.7-6.5-2.1-2.7-2.6 6.4z"/><path class="a84" d="M175.7 146.8l2.7-6-2-2.2-2.7 5.9z"/><path class="a11" d="M109.3 207.6l2.6-.8-2-3.2-2.6 .8z"/><path class="a40" d="M165.9 182.9l2.6-4.5-2-1.6-2.6 4.6z"/><path class="a131" d="M176.3 107.8l2.6-6.8-2-3.5-2.7 6.9z"/><path class="a19" d="M102.6 201.4l2.6-.5-2-3.7-2.6 .6z"/><path class="a60" d="M171.8 167.1l2.7-5.3-2-1.8-2.7 5.2z"/><path class="a43" d="M89.8 180.9l2.7-.3-2-4.8-2.7 .3z"/><path class="a49" d="M87.8 176.1l2.7-.3-2-5.1-2.7 .3z"/><path class="a38" d="M91.9 185.6l2.6-.3-2-4.7-2.7 .3z"/><path class="a10" d="M147.3 208.1l2.6-2.9-2-1.6-2.6 2.9z"/><path class="a56" d="M85.8 171l2.7-.3-2.1-5.4-2.6 .3z"/><path class="a116" d="M177.6 120.7l2.7-6.7-2-2.9-2.7 6.6z"/><path class="a75" d="M175.1 154.5l2.7-5.7-2.1-2-2.6 5.7z"/><path class="a217" d="M138.7 37.4l2.6-6.4-2-7.2-2.7 6.4z"/><path class="a208" d="M150 44.6l2.7-6.9-2-6.5-2.7 6.9z"/><path class="a83" d="M80.4 147.9l2.6-.5-2-6.3-2.6 .5z"/><path class="a100" d="M79 134.6l2.6-.8-2-6.7-2.6 .7z"/><path class="a4" d="M120.6 214.1l2.7-1.3-2-2.5-2.7 1.2z"/><path class="a33" d="M93.9 190l2.6-.3-2-4.4-2.6 .3z"/><path class="a4" d="M137.3 213.8l2.7-2.2-2.1-1.8-2.6 2.2z"/><path class="a2" d="M125.3 215.1l2.7-1.5-2.1-2.3-2.6 1.5z"/><path class="a46" d="M168.5 178.4l2.7-4.8-2-1.5-2.7 4.7z"/><path class="a62" d="M83.8 165.6l2.6-.3-2-5.5-2.6 .3z"/><path class="a6" d="M116 212.5l2.6-1-2-2.7-2.7 1z"/><path class="a216" d="M143.3 38l2.7-6.7-2-7-2.7 6.7z"/><path class="a8" d="M144.6 210.8l2.7-2.7-2-1.6-2.7 2.7z"/><path class="a28" d="M95.9 194.1l2.6-.3-2-4.1-2.6 .3z"/><path class="a2" d="M130 215.7l2.6-1.8-2-2-2.6 1.7z"/><path class="a15" d="M104.6 204.9l2.7-.5-2.1-3.5-2.6 .5z"/><path class="a128" d="M178.3 111.1l2.6-6.9-2-3.2-2.6 6.8z"/><path class="a69" d="M81.8 160.1l2.6-.3-2-5.8-2.7 .3z"/><path class="a67" d="M174.5 161.8l2.6-5.4-2-1.9-2.6 5.5z"/><path class="a118" d="M77.6 120.1l2.7-1-2.1-7.2-2.6 1z"/><path class="a8" d="M111.3 210.6l2.6-.8-2-3-2.6 .8z"/><path class="a92" d="M78.4 141.6l2.6-.5-2-6.5-2.7 .5z"/><path class="a53" d="M171.2 173.6l2.6-5-2-1.5-2.6 5z"/><path class="a102" d="M179 132.4l2.7-6.4-2-2.6-2.7 6.5z"/><path class="a92" d="M178.4 140.8l2.6-6.1-2-2.3-2.6 6.2z"/><path class="a217" d="M148 38.1l2.7-6.9-2.1-6.8-2.6 6.9z"/><path class="a25" d="M159.9 196.5l2.7-3.8-2-1.4-2.7 3.8z"/><path class="a21" d="M157.3 200.1l2.6-3.6-2-1.4-2.6 3.6z"/><path class="a24" d="M97.9 198.1l2.7-.3-2.1-4-2.6 .3z"/><path class="a30" d="M162.6 192.7l2.6-4.1-2-1.4-2.6 4.1z"/><path class="a109" d="M77 127.8l2.6-.7-2-7-2.6 .8z"/><path class="a2" d="M134.7 215.8l2.6-2-2-1.8-2.7 1.9z"/><path class="a113" d="M179.7 123.4l2.6-6.6-2-2.8-2.7 6.7z"/><path class="a83" d="M177.8 148.8l2.6-5.9-2-2.1-2.7 6z"/><path class="a17" d="M154.6 203.4l2.7-3.3-2-1.4-2.7 3.4z"/><path class="a5" d="M142 213.2l2.6-2.4-2-1.6-2.6 2.4z"/><path class="a77" d="M79.7 154.3l2.7-.3-2-6.1-2.7 .3z"/><path class="a35" d="M165.2 188.6l2.7-4.3-2-1.4-2.7 4.3z"/><path class="a12" d="M106.6 208.1l2.7-.5-2-3.2-2.7 .5z"/><path class="a14" d="M152 206.6l2.6-3.2-2-1.3-2.7 3.1z"/><path class="a2" d="M122.7 216.3l2.6-1.2-2-2.3-2.7 1.3z"/><path class="a226" d="M141.3 31l2.7-6.7-2.1-7.2-2.6 6.7z"/><path class="a4" d="M118 215.1l2.6-1-2-2.6-2.6 1z"/><path class="a59" d="M173.8 168.6l2.7-5.2-2-1.6-2.7 5.3z"/><path class="a20" d="M99.9 201.8l2.7-.4-2-3.6-2.7 .3z"/><path class="a125" d="M180.3 114l2.7-6.8-2.1-3-2.6 6.9z"/><path class="a41" d="M167.9 184.3l2.6-4.5-2-1.4-2.6 4.5z"/><path class="a74" d="M177.1 156.4l2.7-5.7-2-1.9-2.7 5.7z"/><path class="a1" d="M127.3 217.1l2.7-1.4-2-2.1-2.7 1.5z"/><path class="a101" d="M76.3 135.1l2.7-.5-2-6.8-2.7 .6z"/><path class="a45" d="M87.2 181l2.6-.1-2-4.8-2.6 .1z"/><path class="a51" d="M85.2 176.2l2.6-.1-2-5.1-2.7 .1z"/><path class="a11" d="M149.3 209.5l2.7-2.9-2.1-1.4-2.6 2.9z"/><path class="a6" d="M113.3 213.3l2.7-.8-2.1-2.7-2.6 .8z"/><path class="a85" d="M77.7 148.2l2.7-.3-2-6.3-2.7 .4z"/><path class="a40" d="M89.2 185.7l2.7-.1-2.1-4.7-2.6 .1z"/><path class="a57" d="M83.1 171.1l2.7-.1-2-5.4-2.7 .1z"/><path class="a4" d="M139.3 215.4l2.7-2.2-2-1.6-2.7 2.2z"/><path class="a226" d="M146 31.3l2.6-6.9-2-6.9-2.6 6.8z"/><path class="a35" d="M91.2 190.1l2.7-.1-2-4.4-2.7 .1z"/><path class="a47" d="M170.5 179.8l2.7-4.8-2-1.4-2.7 4.8z"/><path class="a1" d="M132 217.5l2.7-1.7-2.1-1.9-2.6 1.8z"/><path class="a64" d="M81.1 165.7l2.7-.1-2-5.5-2.7 .1z"/><path class="a101" d="M181 134.7l2.7-6.4-2-2.3-2.7 6.4z"/><path class="a118" d="M75 120.9l2.6-.8-2-7.2-2.7 .8z"/><path class="a16" d="M101.9 205.2l2.7-.3-2-3.5-2.7 .4z"/><path class="a112" d="M181.7 126l2.6-6.7-2-2.5-2.6 6.6z"/><path class="a8" d="M146.7 212.1l2.6-2.6-2-1.4-2.7 2.7z"/><path class="a91" d="M180.4 142.9l2.7-6.2-2.1-2-2.6 6.1z"/><path class="a9" d="M108.6 211.1l2.7-.5-2-3-2.7 .5z"/><path class="a67" d="M176.5 163.4l2.6-5.5-2-1.5-2.6 5.4z"/><path class="a30" d="M93.2 194.2l2.7-.1-2-4.1-2.7 .1z"/><path class="a71" d="M79.1 160.2l2.7-.1-2.1-5.8-2.6 .1z"/><path class="a93" d="M75.7 142l2.7-.4-2.1-6.5-2.6 .4z"/><path class="a53" d="M173.2 175l2.7-5-2.1-1.4-2.6 5z"/><path class="a123" d="M182.3 116.8l2.7-6.9-2-2.7-2.7 6.8z"/><path class="a82" d="M179.8 150.7l2.6-6-2-1.8-2.6 5.9z"/><path class="a110" d="M74.3 128.4l2.7-.6-2-6.9-2.7 .5z"/><path class="a2" d="M136.7 217.3l2.6-1.9-2-1.6-2.6 2z"/><path class="a2" d="M120 217.4l2.7-1.1-2.1-2.2-2.6 1z"/><path class="a26" d="M95.3 198.1l2.6 0-2-4-2.7 .1z"/><path class="a26" d="M161.9 197.6l2.7-3.8-2-1.1-2.7 3.8z"/><path class="a1" d="M124.7 218.4l2.6-1.3-2-2-2.6 1.2z"/><path class="a22" d="M159.3 201.2l2.6-3.6-2-1.1-2.6 3.6z"/><path class="a6" d="M144 214.5l2.7-2.4-2.1-1.3-2.6 2.4z"/><path class="a31" d="M164.6 193.8l2.7-4.1-2.1-1.1-2.6 4.1z"/><path class="a4" d="M115.3 215.9l2.7-.8-2-2.6-2.7 .8z"/><path class="a79" d="M77.1 154.4l2.6-.1-2-6.1-2.6 .1z"/><path class="a235" d="M144 24.3l2.6-6.8-2-7.2-2.7 6.8z"/><path class="a18" d="M156.6 204.6l2.7-3.4-2-1.1-2.7 3.3z"/><path class="a13" d="M104 208.4l2.6-.3-2-3.2-2.7 .3z"/><path class="a36" d="M167.3 189.7l2.6-4.3-2-1.1-2.7 4.3z"/><path class="a1" d="M129.4 219l2.6-1.5-2-1.8-2.7 1.4z"/><path class="a74" d="M179.1 157.9l2.7-5.7-2-1.5-2.7 5.7z"/><path class="a14" d="M154 207.7l2.6-3.1-2-1.2-2.6 3.2z"/><path class="a60" d="M175.9 170l2.6-5.2-2-1.4-2.7 5.2z"/><path class="a7" d="M110.7 213.9l2.6-.6-2-2.7-2.7 .5z"/><path class="a102" d="M73.7 135.5l2.6-.4-2-6.7-2.6 .3z"/><path class="a22" d="M97.3 201.8l2.6 0-2-3.7-2.6 0z"/><path class="a41" d="M169.9 185.4l2.7-4.5-2.1-1.1-2.6 4.5z"/><path class="a110" d="M183.7 128.3l2.7-6.7-2.1-2.3-2.6 6.7z"/><path class="a100" d="M183.1 136.7l2.6-6.4-2-2-2.7 6.4z"/><path class="a87" d="M75.1 148.3l2.6-.1-2-6.2-2.6 0z"/><path class="a47" d="M84.5 180.9l2.7 .1-2-4.8-2.7-.2z"/><path class="a4" d="M141.4 216.7l2.6-2.2-2-1.3-2.7 2.2z"/><path class="a53" d="M82.5 176l2.7 .2-2.1-5.1-2.6-.2z"/><path class="a11" d="M151.3 210.6l2.7-2.9-2-1.1-2.7 2.9z"/><path class="a1" d="M134 219.1l2.7-1.8-2-1.5-2.7 1.7z"/><path class="a42" d="M86.5 185.5l2.7 .2-2-4.7-2.7-.1z"/><path class="a119" d="M72.3 121.4l2.7-.5-2.1-7.2-2.6 .5z"/><path class="a59" d="M80.5 170.9l2.6 .2-2-5.4-2.6-.1z"/><path class="a121" d="M184.3 119.3l2.7-6.8-2-2.6-2.7 6.9z"/><path class="a91" d="M182.4 144.7l2.7-6.2-2-1.8-2.7 6.2z"/><path class="a47" d="M172.6 180.9l2.6-4.8-2-1.1-2.7 4.8z"/><path class="a37" d="M88.6 189.9l2.6 .2-2-4.4-2.7-.2z"/><path class="a11" d="M106 211.4l2.6-.3-2-3-2.6 .3z"/><path class="a66" d="M78.5 165.6l2.6 .1-2-5.5-2.6-.2z"/><path class="a18" d="M99.3 205.3l2.6-.1-2-3.4-2.6 0z"/><path class="a67" d="M178.5 164.8l2.7-5.5-2.1-1.4-2.6 5.5z"/><path class="a8" d="M148.7 213.2l2.6-2.6-2-1.1-2.6 2.6z"/><path class="a1" d="M122 219.4l2.7-1-2-2.1-2.7 1.1z"/><path class="a3" d="M117.4 218.1l2.6-.7-2-2.3-2.7 .8z"/><path class="a32" d="M90.6 194.1l2.6 .1-2-4.1-2.6-.2z"/><path class="a82" d="M181.8 152.2l2.7-5.9-2.1-1.6-2.6 6z"/><path class="a95" d="M73.1 142l2.6 0-2-6.5-2.7 0z"/><path class="a111" d="M71.7 128.7l2.6-.3-2-7-2.7 .3z"/><path class="a0" d="M126.7 220.2l2.7-1.2-2.1-1.9-2.6 1.3z"/><path class="a73" d="M76.5 160l2.6 .2-2-5.8-2.7-.2z"/><path class="a53" d="M175.2 176.1l2.7-5-2-1.1-2.7 5z"/><path class="a2" d="M138.7 218.7l2.7-2-2.1-1.3-2.6 1.9z"/><path class="a5" d="M112.7 216.4l2.6-.5-2-2.6-2.6 .6z"/><path class="a28" d="M92.6 198l2.7 .1-2.1-3.9-2.6-.1z"/><path class="a6" d="M146 215.7l2.7-2.5-2-1.1-2.7 2.4z"/><path class="a0" d="M131.4 220.5l2.6-1.4-2-1.6-2.6 1.5z"/><path class="a27" d="M164 198.5l2.6-3.8-2-.9-2.7 3.8z"/><path class="a22" d="M161.3 202.1l2.7-3.6-2.1-.9-2.6 3.6z"/><path class="a15" d="M101.3 208.5l2.7-.1-2.1-3.2-2.6 .1z"/><path class="a81" d="M74.4 154.2l2.7 .2-2-6.1-2.7-.1z"/><path class="a31" d="M166.6 194.7l2.7-4.1-2-.9-2.7 4.1z"/><path class="a109" d="M185.7 130.3l2.7-6.6-2-2.1-2.7 6.7z"/><path class="a19" d="M158.7 205.4l2.6-3.3-2-.9-2.7 3.4z"/><path class="a74" d="M181.2 159.3l2.6-5.7-2-1.4-2.7 5.7z"/><path class="a8" d="M108 214.2l2.7-.3-2.1-2.8-2.6 .3z"/><path class="a120" d="M186.4 121.6l2.6-6.9-2-2.2-2.7 6.8z"/><path class="a99" d="M185.1 138.5l2.6-6.4-2-1.8-2.6 6.4z"/><path class="a37" d="M169.3 190.6l2.6-4.3-2-.9-2.6 4.3z"/><path class="a60" d="M177.9 171.1l2.6-5.2-2-1.1-2.6 5.2z"/><path class="a104" d="M71 135.5l2.7 0-2-6.8-2.7 .1z"/><path class="a15" d="M156 208.6l2.7-3.2-2.1-.8-2.6 3.1z"/><path class="a24" d="M94.6 201.7l2.7 .1-2-3.7-2.7-.1z"/><path class="a120" d="M69.6 121.7l2.7-.3-2-7.2-2.7 .3z"/><path class="a90" d="M184.5 146.3l2.6-6.2-2-1.6-2.7 6.2z"/><path class="a42" d="M171.9 186.3l2.7-4.5-2-.9-2.7 4.5z"/><path class="a1" d="M136 220.4l2.7-1.7-2-1.4-2.7 1.8z"/><path class="a4" d="M143.4 217.9l2.6-2.2-2-1.2-2.6 2.2z"/><path class="a89" d="M72.4 148.2l2.7 .1-2-6.3-2.7-.1z"/><path class="a2" d="M119.4 220.2l2.6-.8-2-2-2.6 .7z"/><path class="a12" d="M153.4 211.5l2.6-2.9-2-.9-2.7 2.9z"/><path class="a50" d="M81.9 180.5l2.6 .4-2-4.9-2.6-.4z"/><path class="a56" d="M79.9 175.6l2.6 .4-2-5.1-2.7-.4z"/><path class="a0" d="M124 221.2l2.7-1-2-1.8-2.7 1z"/><path class="a44" d="M83.9 185.1l2.6 .4-2-4.6-2.6-.4z"/><path class="a12" d="M103.3 211.5l2.7-.1-2-3-2.7 .1z"/><path class="a4" d="M114.7 218.7l2.7-.6-2.1-2.2-2.6 .5z"/><path class="a62" d="M77.8 170.5l2.7 .4-2-5.3-2.7-.4z"/><path class="a48" d="M174.6 181.8l2.6-4.8-2-.9-2.6 4.8z"/><path class="a67" d="M180.5 165.9l2.7-5.5-2-1.1-2.7 5.5z"/><path class="a39" d="M85.9 189.5l2.7 .4-2.1-4.4-2.6-.4z"/><path class="a20" d="M96.6 205.1l2.7 .2-2-3.5-2.7-.1z"/><path class="a0" d="M128.7 221.8l2.7-1.3-2-1.5-2.7 1.2z"/><path class="a82" d="M183.8 153.6l2.7-6-2-1.3-2.7 5.9z"/><path class="a69" d="M75.8 165.2l2.7 .4-2-5.6-2.7-.4z"/><path class="a113" d="M69 128.8l2.7-.1-2.1-7-2.6 .1z"/><path class="a9" d="M150.7 214.1l2.7-2.6-2.1-.9-2.6 2.6z"/><path class="a6" d="M110 216.7l2.7-.3-2-2.5-2.7 .3z"/><path class="a97" d="M70.4 141.9l2.7 .1-2.1-6.5-2.6-.1z"/><path class="a34" d="M87.9 193.7l2.7 .4-2-4.2-2.7-.4z"/><path class="a3" d="M140.7 219.8l2.7-1.9-2-1.2-2.7 2z"/><path class="a76" d="M73.8 159.6l2.7 .4-2.1-5.8-2.6-.4z"/><path class="a54" d="M177.2 177l2.7-5-2-.9-2.7 5z"/><path class="a119" d="M188.4 123.7l2.6-6.9-2-2.1-2.6 6.9z"/><path class="a108" d="M187.7 132.1l2.7-6.6-2-1.8-2.7 6.6z"/><path class="a0" d="M133.4 221.9l2.6-1.5-2-1.3-2.6 1.4z"/><path class="a99" d="M187.1 140.1l2.7-6.4-2.1-1.6-2.6 6.4z"/><path class="a30" d="M89.9 197.6l2.7 .4-2-3.9-2.7-.4z"/><path class="a7" d="M148 216.5l2.7-2.4-2-.9-2.7 2.5z"/><path class="a17" d="M98.7 208.4l2.6 .1-2-3.2-2.7-.2z"/><path class="a10" d="M105.4 214.3l2.6-.1-2-2.8-2.7 .1z"/><path class="a75" d="M183.2 160.4l2.6-5.7-2-1.1-2.6 5.7z"/><path class="a28" d="M166 199.1l2.6-3.8-2-.6-2.6 3.8z"/><path class="a83" d="M71.8 153.8l2.6 .4-2-6-2.6-.4z"/><path class="a24" d="M163.3 202.7l2.7-3.6-2-.6-2.7 3.6z"/><path class="a33" d="M168.6 195.3l2.7-4.1-2-.6-2.7 4.1z"/><path class="a106" d="M68.4 135.4l2.6 .1-2-6.7-2.6-.2z"/><path class="a20" d="M160.7 206.1l2.6-3.4-2-.6-2.6 3.3z"/><path class="a61" d="M179.9 172l2.6-5.2-2-.9-2.6 5.2z"/><path class="a1" d="M121.4 222l2.6-.8-2-1.8-2.6 .8z"/><path class="a90" d="M186.5 147.6l2.6-6.1-2-1.4-2.6 6.2z"/><path class="a3" d="M116.7 220.7l2.7-.5-2-2.1-2.7 .6z"/><path class="a122" d="M67 121.8l2.6-.1-2-7.2-2.6 .1z"/><path class="a38" d="M171.3 191.2l2.6-4.3-2-.6-2.6 4.3z"/><path class="a26" d="M92 201.3l2.6 .4-2-3.7-2.7-.4z"/><path class="a2" d="M138.1 221.5l2.6-1.7-2-1.1-2.7 1.7z"/><path class="a0" d="M126.1 222.8l2.6-1-2-1.6-2.7 1z"/><path class="a16" d="M158 209.2l2.7-3.1-2-.7-2.7 3.2z"/><path class="a5" d="M112 219l2.7-.3-2-2.3-2.7 .3z"/><path class="a5" d="M145.4 218.7l2.6-2.2-2-.8-2.6 2.2z"/><path class="a91" d="M69.8 147.8l2.6 .4-2-6.3-2.7-.4z"/><path class="a43" d="M173.9 186.9l2.7-4.5-2-.6-2.7 4.5z"/><path class="a14" d="M100.7 211.4l2.6 .1-2-3-2.6-.1z"/><path class="a13" d="M155.4 212.1l2.6-2.9-2-.6-2.6 2.9z"/><path class="a0" d="M130.7 223.1l2.7-1.2-2-1.4-2.7 1.3z"/><path class="a53" d="M79.2 179.9l2.7 .6-2-4.9-2.7-.6z"/><path class="a59" d="M77.2 175l2.7 .6-2.1-5.1-2.6-.6z"/><path class="a83" d="M185.8 154.7l2.7-5.9-2-1.2-2.7 6z"/><path class="a47" d="M81.2 184.5l2.7 .6-2-4.6-2.7-.6z"/><path class="a68" d="M182.5 166.8l2.7-5.5-2-.9-2.7 5.5z"/><path class="a65" d="M75.2 169.9l2.6 .6-2-5.3-2.6-.6z"/><path class="a118" d="M190.4 125.5l2.6-6.9-2-1.8-2.6 6.9z"/><path class="a8" d="M107.4 216.8l2.6-.1-2-2.5-2.6 .1z"/><path class="a49" d="M176.6 182.4l2.7-4.8-2.1-.6-2.6 4.8z"/><path class="a23" d="M94 204.8l2.6 .3-2-3.4-2.6-.4z"/><path class="a115" d="M66.4 128.6l2.6 .2-2-7-2.7-.1z"/><path class="a108" d="M189.8 133.7l2.6-6.6-2-1.6-2.7 6.6z"/><path class="a42" d="M83.3 188.9l2.6 .6-2-4.4-2.7-.6z"/><path class="a72" d="M73.2 164.6l2.6 .6-2-5.6-2.7-.6z"/><path class="a11" d="M152.7 214.8l2.7-2.7-2-.6-2.7 2.6z"/><path class="a100" d="M67.7 141.5l2.7 .4-2-6.5-2.7-.4z"/><path class="a4" d="M142.7 220.7l2.7-2-2-.8-2.7 1.9z"/><path class="a1" d="M135.4 223l2.7-1.5-2.1-1.1-2.6 1.5z"/><path class="a37" d="M85.3 193l2.6 .7-2-4.2-2.6-.6z"/><path class="a99" d="M189.1 141.5l2.7-6.4-2-1.4-2.7 6.4z"/><path class="a56" d="M179.3 177.6l2.6-5-2-.6-2.7 5z"/><path class="a79" d="M71.1 159l2.7 .6-2-5.8-2.7-.6z"/><path class="a2" d="M118.7 222.6l2.7-.6-2-1.8-2.7 .5z"/><path class="a12" d="M102.7 214.1l2.7 .2-2.1-2.8-2.6-.1z"/><path class="a1" d="M123.4 223.6l2.7-.8-2.1-1.6-2.6 .8z"/><path class="a20" d="M96 208l2.7 .4-2.1-3.3-2.6-.3z"/><path class="a76" d="M185.2 161.3l2.7-5.7-2.1-.9-2.6 5.7z"/><path class="a8" d="M150.1 217.2l2.6-2.4-2-.7-2.7 2.4z"/><path class="a4" d="M114.1 221.1l2.6-.4-2-2-2.7 .3z"/><path class="a33" d="M87.3 197l2.6 .6-2-3.9-2.6-.7z"/><path class="a91" d="M188.5 148.8l2.6-6.2-2-1.1-2.6 6.1z"/><path class="a0" d="M128.1 224.2l2.6-1.1-2-1.3-2.6 1z"/><path class="a86" d="M69.1 153.2l2.7 .6-2-6-2.7-.7z"/><path class="a108" d="M65.7 135l2.7 .4-2-6.8-2.7-.4z"/><path class="a124" d="M64.3 121.7l2.7 .1-2-7.2-2.7-.1z"/><path class="a30" d="M168 199.6l2.7-3.9-2.1-.4-2.6 3.8z"/><path class="a26" d="M165.4 203.1l2.6-3.5-2-.5-2.7 3.6z"/><path class="a35" d="M170.7 195.7l2.6-4-2-.5-2.7 4.1z"/><path class="a62" d="M181.9 172.6l2.7-5.2-2.1-.6-2.6 5.2z"/><path class="a7" d="M109.4 219.1l2.6-.1-2-2.3-2.6 .1z"/><path class="a3" d="M140.1 222.4l2.6-1.7-2-.9-2.6 1.7z"/><path class="a22" d="M162.7 206.5l2.7-3.4-2.1-.4-2.6 3.4z"/><path class="a40" d="M173.3 191.7l2.7-4.3-2.1-.5-2.6 4.3z"/><path class="a29" d="M89.3 200.7l2.7 .6-2.1-3.7-2.6-.6z"/><path class="a18" d="M160 209.6l2.7-3.1-2-.4-2.7 3.1z"/><path class="a6" d="M147.4 219.4l2.7-2.2-2.1-.7-2.6 2.2z"/><path class="a118" d="M192.4 127.1l2.7-6.9-2.1-1.6-2.6 6.9z"/><path class="a1" d="M132.8 224.3l2.6-1.3-2-1.1-2.7 1.2z"/><path class="a94" d="M67.1 147.1l2.7 .7-2.1-6.3-2.6-.6z"/><path class="a17" d="M98 211l2.7 .4-2-3-2.7-.4z"/><path class="a45" d="M176 187.4l2.6-4.6-2-.4-2.7 4.5z"/><path class="a108" d="M191.8 135.1l2.6-6.7-2-1.3-2.6 6.6z"/><path class="a83" d="M187.9 155.6l2.6-6-2-.8-2.7 5.9z"/><path class="a10" d="M104.7 216.6l2.7 .2-2-2.5-2.7-.2z"/><path class="a15" d="M157.4 212.5l2.6-2.9-2-.4-2.6 2.9z"/><path class="a69" d="M184.6 167.4l2.6-5.5-2-.6-2.7 5.5z"/><path class="a56" d="M76.6 179l2.6 .9-2-4.9-2.7-.9z"/><path class="a117" d="M63.7 128.2l2.7 .4-2.1-6.9-2.6-.4z"/><path class="a62" d="M74.5 174.1l2.7 .9-2-5.1-2.7-.9z"/><path class="a26" d="M91.3 204.1l2.7 .7-2-3.5-2.7-.6z"/><path class="a51" d="M78.6 183.6l2.6 .9-2-4.6-2.6-.9z"/><path class="a51" d="M178.6 182.8l2.7-4.7-2-.5-2.7 4.8z"/><path class="a68" d="M72.5 169l2.7 .9-2-5.3-2.7-.9z"/><path class="a100" d="M191.1 142.6l2.7-6.4-2-1.1-2.7 6.4z"/><path class="a2" d="M120.8 224.1l2.6-.5-2-1.6-2.7 .6z"/><path class="a3" d="M116.1 222.9l2.6-.3-2-1.9-2.6 .4z"/><path class="a45" d="M80.6 188l2.7 .9-2.1-4.4-2.6-.9z"/><path class="a2" d="M137.4 223.9l2.7-1.5-2-.9-2.7 1.5z"/><path class="a102" d="M65.1 140.9l2.6 .6-2-6.5-2.6-.6z"/><path class="a5" d="M144.8 221.3l2.6-1.9-2-.7-2.7 2z"/><path class="a12" d="M154.7 215.2l2.7-2.7-2-.4-2.7 2.7z"/><path class="a75" d="M70.5 163.7l2.7 .9-2.1-5.6-2.6-.9z"/><path class="a1" d="M125.4 224.9l2.7-.7-2-1.4-2.7 .8z"/><path class="a6" d="M111.4 221.1l2.7 0-2.1-2.1-2.6 .1z"/><path class="a41" d="M82.6 192.2l2.7 .8-2-4.1-2.7-.9z"/><path class="a57" d="M181.3 178.1l2.6-5-2-.5-2.6 5z"/><path class="a15" d="M100 213.7l2.7 .4-2-2.7-2.7-.4z"/><path class="a82" d="M68.5 158.1l2.6 .9-2-5.8-2.6-.9z"/><path class="a1" d="M130.1 225.3l2.7-1-2.1-1.2-2.6 1.1z"/><path class="a77" d="M187.2 161.9l2.7-5.7-2-.6-2.7 5.7z"/><path class="a23" d="M93.4 207.4l2.6 .6-2-3.2-2.7-.7z"/><path class="a92" d="M190.5 149.6l2.7-6.1-2.1-.9-2.6 6.2z"/><path class="a10" d="M152.1 217.6l2.6-2.4-2-.4-2.6 2.4z"/><path class="a127" d="M61.7 121.3l2.6 .4-2-7.2-2.6-.4z"/><path class="a36" d="M84.6 196.1l2.7 .9-2-4-2.7-.8z"/><path class="a9" d="M106.7 218.9l2.7 .2-2-2.3-2.7-.2z"/><path class="a111" d="M63.1 134.4l2.6 .6-2-6.8-2.6-.6z"/><path class="a118" d="M194.4 128.4l2.7-6.9-2-1.3-2.7 6.9z"/><path class="a90" d="M66.5 152.3l2.6 .9-2-6.1-2.6-.8z"/><path class="a4" d="M142.1 223.1l2.7-1.8-2.1-.6-2.6 1.7z"/><path class="a64" d="M183.9 173.1l2.7-5.3-2-.4-2.7 5.2z"/><path class="a32" d="M170 199.7l2.7-3.8-2-.2-2.7 3.9z"/><path class="a28" d="M167.4 203.3l2.6-3.6-2-.1-2.6 3.5z"/><path class="a37" d="M172.7 195.9l2.6-4.1-2-.1-2.6 4z"/><path class="a2" d="M134.8 225.1l2.6-1.2-2-.9-2.6 1.3z"/><path class="a24" d="M164.7 206.7l2.7-3.4-2-.2-2.7 3.4z"/><path class="a109" d="M193.8 136.2l2.7-6.7-2.1-1.1-2.6 6.7z"/><path class="a33" d="M86.7 199.8l2.6 .9-2-3.7-2.7-.9z"/><path class="a42" d="M175.3 191.8l2.7-4.3-2-.1-2.7 4.3z"/><path class="a8" d="M149.4 219.8l2.7-2.2-2-.4-2.7 2.2z"/><path class="a20" d="M95.4 210.3l2.6 .7-2-3-2.6-.6z"/><path class="a20" d="M162.1 209.8l2.6-3.1-2-.2-2.7 3.1z"/><path class="a13" d="M102.1 216.3l2.6 .3-2-2.5-2.7-.4z"/><path class="a97" d="M64.5 146.3l2.6 .8-2-6.2-2.7-.9z"/><path class="a85" d="M189.9 156.2l2.6-5.9-2-.7-2.6 6z"/><path class="a3" d="M118.1 224.5l2.7-.4-2.1-1.5-2.6 .3z"/><path class="a2" d="M122.8 225.5l2.6-.6-2-1.3-2.6 .5z"/><path class="a47" d="M178 187.5l2.6-4.5-2-.2-2.6 4.6z"/><path class="a5" d="M113.4 223l2.7-.1-2-1.8-2.7 0z"/><path class="a120" d="M61.1 127.6l2.6 .6-2-6.9-2.7-.7z"/><path class="a71" d="M186.6 167.8l2.6-5.4-2-.5-2.6 5.5z"/><path class="a17" d="M159.4 212.7l2.7-2.9-2.1-.2-2.6 2.9z"/><path class="a101" d="M193.2 143.5l2.6-6.4-2-.9-2.7 6.4z"/><path class="a1" d="M127.4 226.1l2.7-.8-2-1.1-2.7 .7z"/><path class="a29" d="M88.7 203.3l2.6 .8-2-3.4-2.6-.9z"/><path class="a60" d="M73.9 177.9l2.7 1.1-2.1-4.9-2.6-1.1z"/><path class="a66" d="M71.9 173l2.6 1.1-2-5.1-2.6-1.1z"/><path class="a3" d="M139.4 224.5l2.7-1.4-2-.7-2.7 1.5z"/><path class="a53" d="M180.6 183l2.7-4.8-2-.1-2.7 4.7z"/><path class="a54" d="M75.9 182.5l2.7 1.1-2-4.6-2.7-1.1z"/><path class="a8" d="M108.8 221l2.6 .1-2-2-2.7-.2z"/><path class="a72" d="M69.9 167.9l2.6 1.1-2-5.3-2.6-1.1z"/><path class="a7" d="M146.8 221.8l2.6-2-2-.4-2.6 1.9z"/><path class="a106" d="M62.4 140l2.7 .9-2-6.5-2.7-.9z"/><path class="a49" d="M77.9 186.9l2.7 1.1-2-4.4-2.7-1.1z"/><path class="a14" d="M156.8 215.4l2.6-2.7-2-.2-2.7 2.7z"/><path class="a79" d="M67.9 162.6l2.6 1.1-2-5.6-2.7-1.1z"/><path class="a18" d="M97.4 213.1l2.6 .6-2-2.7-2.6-.7z"/><path class="a2" d="M132.1 226.2l2.7-1.1-2-.8-2.7 1z"/><path class="a44" d="M80 191.1l2.6 1.1-2-4.2-2.7-1.1z"/><path class="a59" d="M183.3 178.2l2.6-5-2-.1-2.6 5z"/><path class="a93" d="M192.5 150.3l2.7-6.2-2-.6-2.7 6.1z"/><path class="a79" d="M189.2 162.4l2.7-5.8-2-.4-2.7 5.7z"/><path class="a118" d="M196.5 129.5l2.6-6.8-2-1.2-2.7 6.9z"/><path class="a11" d="M104.1 218.5l2.6 .4-2-2.3-2.6-.3z"/><path class="a26" d="M90.7 206.5l2.7 .9-2.1-3.3-2.6-.8z"/><path class="a86" d="M65.8 157l2.7 1.1-2-5.8-2.7-1.1z"/><path class="a130" d="M59 120.6l2.7 .7-2-7.2-2.7-.7z"/><path class="a12" d="M154.1 217.8l2.7-2.4-2.1-.2-2.6 2.4z"/><path class="a114" d="M60.4 133.5l2.7 .9-2-6.8-2.7-.8z"/><path class="a40" d="M82 195l2.6 1.1-2-3.9-2.6-1.1z"/><path class="a6" d="M144.1 223.5l2.7-1.7-2-.5-2.7 1.8z"/><path class="a110" d="M195.8 137.1l2.7-6.7-2-.9-2.7 6.7z"/><path class="a3" d="M136.8 225.8l2.6-1.3-2-.6-2.6 1.2z"/><path class="a93" d="M63.8 151.2l2.7 1.1-2-6-2.7-1.1z"/><path class="a3" d="M120.1 225.8l2.7-.3-2-1.4-2.7 .4z"/><path class="a66" d="M185.9 173.2l2.7-5.2-2-.2-2.7 5.3z"/><path class="a5" d="M115.4 224.5l2.7 0-2-1.6-2.7 .1z"/><path class="a34" d="M172 199.7l2.7-3.9-2 .1-2.7 3.8z"/><path class="a2" d="M124.8 226.6l2.6-.5-2-1.2-2.6 .6z"/><path class="a30" d="M169.4 203.3l2.6-3.6-2 0-2.6 3.6z"/><path class="a39" d="M174.7 195.8l2.7-4-2.1 0-2.6 4.1z"/><path class="a16" d="M99.4 215.6l2.7 .7-2.1-2.6-2.6-.6z"/><path class="a7" d="M110.8 222.8l2.6 .2-2-1.9-2.6-.1z"/><path class="a26" d="M166.7 206.6l2.7-3.3-2 0-2.7 3.4z"/><path class="a36" d="M84 198.7l2.7 1.1-2.1-3.7-2.6-1.1z"/><path class="a10" d="M151.4 220l2.7-2.2-2-.2-2.7 2.2z"/><path class="a23" d="M92.7 209.5l2.7 .8-2-2.9-2.7-.9z"/><path class="a87" d="M191.9 156.6l2.6-5.9-2-.4-2.6 5.9z"/><path class="a44" d="M177.4 191.8l2.6-4.3-2 0-2.7 4.3z"/><path class="a101" d="M61.8 145.2l2.7 1.1-2.1-6.3-2.6-1.1z"/><path class="a2" d="M129.5 226.9l2.6-.7-2-.9-2.7 .8z"/><path class="a23" d="M164.1 209.8l2.6-3.2-2 .1-2.6 3.1z"/><path class="a102" d="M195.2 144.1l2.6-6.4-2-.6-2.6 6.4z"/><path class="a124" d="M58.4 126.8l2.7 .8-2.1-7-2.6-.8z"/><path class="a50" d="M180 187.5l2.7-4.6-2.1 .1-2.6 4.5z"/><path class="a73" d="M188.6 168l2.7-5.5-2.1-.1-2.6 5.4z"/><path class="a10" d="M106.1 220.6l2.7 .4-2.1-2.1-2.6-.4z"/><path class="a5" d="M141.5 225l2.6-1.5-2-.4-2.7 1.4z"/><path class="a20" d="M161.4 212.6l2.7-2.8-2 0-2.7 2.9z"/><path class="a33" d="M86 202.2l2.7 1.1-2-3.5-2.7-1.1z"/><path class="a64" d="M71.3 176.6l2.6 1.3-2-4.9-2.7-1.3z"/><path class="a70" d="M69.2 171.7l2.7 1.3-2-5.1-2.7-1.3z"/><path class="a9" d="M148.8 221.9l2.6-1.9-2-.2-2.6 2z"/><path class="a56" d="M182.7 182.9l2.6-4.7-2 0-2.7 4.8z"/><path class="a3" d="M134.1 226.8l2.7-1-2-.7-2.7 1.1z"/><path class="a58" d="M73.3 181.2l2.6 1.3-2-4.6-2.6-1.3z"/><path class="a110" d="M59.8 138.9l2.6 1.1-2-6.5-2.6-1.1z"/><path class="a76" d="M67.2 166.6l2.7 1.3-2-5.3-2.7-1.3z"/><path class="a21" d="M94.7 212.2l2.7 .9-2-2.8-2.7-.8z"/><path class="a119" d="M198.5 130.4l2.6-6.9-2-.8-2.6 6.8z"/><path class="a17" d="M158.8 215.3l2.6-2.7-2 .1-2.6 2.7z"/><path class="a53" d="M75.3 185.6l2.6 1.3-2-4.4-2.6-1.3z"/><path class="a95" d="M194.5 150.7l2.7-6.2-2-.4-2.7 6.2z"/><path class="a14" d="M101.4 217.9l2.7 .6-2-2.2-2.7-.7z"/><path class="a83" d="M65.2 161.3l2.7 1.3-2.1-5.6-2.6-1.3z"/><path class="a81" d="M191.3 162.5l2.6-5.7-2-.2-2.7 5.8z"/><path class="a5" d="M117.5 225.9l2.6-.1-2-1.3-2.7 0z"/><path class="a62" d="M185.3 178.2l2.7-5-2.1 0-2.6 5z"/><path class="a133" d="M56.4 119.8l2.6 .8-2-7.2-2.6-.8z"/><path class="a49" d="M77.3 189.8l2.7 1.3-2.1-4.2-2.6-1.3z"/><path class="a30" d="M88 205.4l2.7 1.1-2-3.2-2.7-1.1z"/><path class="a4" d="M122.1 226.9l2.7-.3-2-1.1-2.7 .3z"/><path class="a7" d="M112.8 224.4l2.6 .1-2-1.5-2.6-.2z"/><path class="a90" d="M63.2 155.7l2.6 1.3-2-5.8-2.6-1.3z"/><path class="a111" d="M197.8 137.7l2.7-6.6-2-.7-2.7 6.7z"/><path class="a15" d="M156.1 217.7l2.7-2.4-2 .1-2.7 2.4z"/><path class="a118" d="M57.8 132.4l2.6 1.1-2-6.7-2.7-1.1z"/><path class="a5" d="M138.8 226.2l2.7-1.2-2.1-.5-2.6 1.3z"/><path class="a3" d="M126.8 227.5l2.7-.6-2.1-.8-2.6 .5z"/><path class="a8" d="M146.1 223.6l2.7-1.7-2-.1-2.7 1.7z"/><path class="a44" d="M79.3 193.7l2.7 1.3-2-3.9-2.7-1.3z"/><path class="a10" d="M108.1 222.4l2.7 .4-2-1.8-2.7-.4z"/><path class="a97" d="M61.2 149.9l2.6 1.3-2-6-2.7-1.3z"/><path class="a69" d="M188 173.2l2.6-5.3-2 .1-2.7 5.2z"/><path class="a19" d="M96.8 214.8l2.6 .8-2-2.5-2.7-.9z"/><path class="a4" d="M131.5 227.6l2.6-.8-2-.6-2.6 .7z"/><path class="a37" d="M174.1 199.4l2.6-3.8-2 .2-2.7 3.9z"/><path class="a33" d="M171.4 203l2.7-3.6-2.1 .3-2.6 3.6z"/><path class="a27" d="M90.1 208.4l2.6 1.1-2-3-2.7-1.1z"/><path class="a89" d="M193.9 156.8l2.7-5.9-2.1-.2-2.6 5.9z"/><path class="a42" d="M176.7 195.6l2.7-4.1-2 .3-2.7 4z"/><path class="a13" d="M153.5 219.9l2.6-2.2-2 .1-2.7 2.2z"/><path class="a104" d="M197.2 144.5l2.7-6.4-2.1-.4-2.6 6.4z"/><path class="a40" d="M81.4 197.4l2.6 1.3-2-3.7-2.7-1.3z"/><path class="a29" d="M168.8 206.3l2.6-3.3-2 .3-2.7 3.3z"/><path class="a13" d="M103.4 220l2.7 .6-2-2.1-2.7-.6z"/><path class="a47" d="M179.4 191.5l2.6-4.3-2 .3-2.6 4.3z"/><path class="a105" d="M59.1 143.9l2.7 1.3-2-6.3-2.7-1.3z"/><path class="a127" d="M55.7 125.7l2.7 1.1-2-7-2.7-1.1z"/><path class="a26" d="M166.1 209.5l2.7-3.2-2.1 .3-2.6 3.2z"/><path class="a76" d="M190.6 167.9l2.7-5.4-2 0-2.7 5.5z"/><path class="a7" d="M143.5 225.1l2.6-1.5-2-.1-2.6 1.5z"/><path class="a53" d="M182 187.2l2.7-4.5-2 .2-2.7 4.6z"/><path class="a5" d="M136.2 227.2l2.6-1-2-.4-2.7 1z"/><path class="a120" d="M200.5 131.1l2.6-6.9-2-.7-2.6 6.9z"/><path class="a37" d="M83.4 200.9l2.6 1.3-2-3.5-2.6-1.3z"/><path class="a23" d="M163.4 212.4l2.7-2.9-2 .3-2.7 2.8z"/><path class="a5" d="M119.5 227l2.6-.1-2-1.1-2.6 .1z"/><path class="a11" d="M150.8 221.9l2.7-2-2.1 .1-2.6 1.9z"/><path class="a7" d="M114.8 225.7l2.7 .2-2.1-1.4-2.6-.1z"/><path class="a114" d="M57.1 137.6l2.7 1.3-2-6.5-2.7-1.3z"/><path class="a68" d="M68.6 175l2.7 1.6-2.1-4.9-2.6-1.5z"/><path class="a59" d="M184.7 182.7l2.6-4.8-2 .3-2.6 4.7z"/><path class="a25" d="M92.1 211.2l2.6 1-2-2.7-2.6-1.1z"/><path class="a74" d="M66.6 170.2l2.6 1.5-2-5.1-2.6-1.5z"/><path class="a4" d="M124.2 227.8l2.6-.3-2-.9-2.7 .3z"/><path class="a18" d="M98.8 217.1l2.6 .8-2-2.3-2.6-.8z"/><path class="a63" d="M70.6 179.7l2.7 1.5-2-4.6-2.7-1.6z"/><path class="a97" d="M196.6 150.9l2.6-6.2-2-.2-2.7 6.2z"/><path class="a81" d="M64.6 165.1l2.6 1.5-2-5.3-2.7-1.6z"/><path class="a9" d="M110.1 224l2.7 .4-2-1.6-2.7-.4z"/><path class="a20" d="M160.8 215l2.6-2.6-2 .2-2.6 2.7z"/><path class="a58" d="M72.6 184l2.7 1.6-2-4.4-2.7-1.5z"/><path class="a137" d="M53.7 118.7l2.7 1.1-2-7.2-2.7-1.1z"/><path class="a83" d="M193.3 162.5l2.6-5.7-2 0-2.6 5.7z"/><path class="a87" d="M62.5 159.7l2.7 1.6-2-5.6-2.7-1.6z"/><path class="a113" d="M199.9 138.1l2.6-6.6-2-.4-2.7 6.6z"/><path class="a4" d="M128.8 228.1l2.7-.5-2-.7-2.7 .6z"/><path class="a34" d="M85.4 204.1l2.6 1.3-2-3.2-2.6-1.3z"/><path class="a65" d="M187.3 177.9l2.7-5-2 .3-2.7 5z"/><path class="a53" d="M74.7 188.2l2.6 1.6-2-4.2-2.7-1.6z"/><path class="a7" d="M140.8 226.4l2.7-1.3-2-.1-2.7 1.2z"/><path class="a13" d="M105.5 221.8l2.6 .6-2-1.8-2.7-.6z"/><path class="a94" d="M60.5 154.1l2.7 1.6-2-5.8-2.7-1.6z"/><path class="a122" d="M55.1 131.1l2.7 1.3-2.1-6.7-2.6-1.4z"/><path class="a10" d="M148.2 223.6l2.6-1.7-2 0-2.7 1.7z"/><path class="a18" d="M158.1 217.4l2.7-2.4-2 .3-2.7 2.4z"/><path class="a49" d="M76.7 192.1l2.6 1.6-2-3.9-2.6-1.6z"/><path class="a5" d="M133.5 228l2.7-.8-2.1-.4-2.6 .8z"/><path class="a23" d="M94.1 213.7l2.7 1.1-2.1-2.6-2.6-1z"/><path class="a72" d="M190 172.9l2.6-5.2-2 .2-2.6 5.3z"/><path class="a102" d="M58.5 148.3l2.7 1.6-2.1-6-2.6-1.6z"/><path class="a106" d="M199.2 144.7l2.7-6.4-2-.2-2.7 6.4z"/><path class="a91" d="M195.9 156.8l2.7-6-2 .1-2.7 5.9z"/><path class="a17" d="M100.8 219.1l2.6 .9-2-2.1-2.6-.8z"/><path class="a31" d="M87.4 207.1l2.7 1.3-2.1-3-2.6-1.3z"/><path class="a16" d="M155.5 219.6l2.6-2.2-2 .3-2.6 2.2z"/><path class="a41" d="M176.1 198.9l2.6-3.9-2 .6-2.6 3.8z"/><path class="a36" d="M173.4 202.5l2.7-3.6-2 .5-2.7 3.6z"/><path class="a45" d="M78.7 195.8l2.7 1.6-2.1-3.7-2.6-1.6z"/><path class="a45" d="M178.7 195l2.7-4-2 .5-2.7 4.1z"/><path class="a7" d="M116.8 226.9l2.7 .1-2-1.1-2.7-.2z"/><path class="a33" d="M170.8 205.8l2.6-3.3-2 .5-2.6 3.3z"/><path class="a131" d="M53.1 124.3l2.6 1.4-2-7-2.6-1.3z"/><path class="a6" d="M121.5 227.9l2.7-.1-2.1-.9-2.6 .1z"/><path class="a110" d="M56.5 142.3l2.6 1.6-2-6.3-2.6-1.6z"/><path class="a9" d="M112.2 225.3l2.6 .4-2-1.3-2.7-.4z"/><path class="a51" d="M181.4 191l2.6-4.3-2 .5-2.6 4.3z"/><path class="a10" d="M145.5 225.1l2.7-1.5-2.1 0-2.6 1.5z"/><path class="a122" d="M202.5 131.5l2.7-6.9-2.1-.4-2.6 6.9z"/><path class="a7" d="M138.2 227.4l2.6-1-2-.2-2.6 1z"/><path class="a79" d="M192.6 167.7l2.7-5.5-2 .3-2.7 5.4z"/><path class="a29" d="M168.1 208.9l2.7-3.1-2 .5-2.7 3.2z"/><path class="a6" d="M126.2 228.5l2.6-.4-2-.6-2.6 .3z"/><path class="a56" d="M184 186.7l2.7-4.6-2 .6-2.7 4.5z"/><path class="a12" d="M107.5 223.4l2.6 .6-2-1.6-2.6-.6z"/><path class="a41" d="M80.7 199.3l2.7 1.6-2-3.5-2.7-1.6z"/><path class="a21" d="M96.1 216l2.7 1.1-2-2.3-2.7-1.1z"/><path class="a26" d="M165.5 211.8l2.6-2.9-2 .6-2.7 2.9z"/><path class="a14" d="M152.8 221.6l2.7-2-2 .3-2.7 2z"/><path class="a29" d="M89.4 209.8l2.7 1.4-2-2.8-2.7-1.3z"/><path class="a100" d="M198.6 150.8l2.6-6.1-2 0-2.6 6.2z"/><path class="a118" d="M54.5 136l2.6 1.6-2-6.5-2.6-1.6z"/><path class="a6" d="M130.8 228.6l2.7-.6-2-.4-2.7 .5z"/><path class="a62" d="M186.7 182.1l2.7-4.7-2.1 .5-2.6 4.8z"/><path class="a73" d="M65.9 173.2l2.7 1.8-2-4.8-2.7-1.8z"/><path class="a79" d="M63.9 168.4l2.7 1.8-2-5.1-2.7-1.8z"/><path class="a115" d="M201.9 138.3l2.6-6.6-2-.2-2.6 6.6z"/><path class="a68" d="M68 177.9l2.6 1.8-2-4.7-2.7-1.8z"/><path class="a141" d="M51.1 117.4l2.6 1.3-2-7.2-2.7-1.3z"/><path class="a86" d="M61.9 163.3l2.7 1.8-2.1-5.4-2.6-1.8z"/><path class="a23" d="M162.8 214.5l2.7-2.7-2.1 .6-2.6 2.6z"/><path class="a86" d="M195.3 162.2l2.6-5.7-2 .3-2.6 5.7z"/><path class="a16" d="M102.8 220.9l2.7 .9-2.1-1.8-2.6-.9z"/><path class="a63" d="M70 182.3l2.6 1.7-2-4.3-2.6-1.8z"/><path class="a9" d="M142.8 226.3l2.7-1.2-2 0-2.7 1.3z"/><path class="a92" d="M59.9 157.9l2.6 1.8-2-5.6-2.6-1.7z"/><path class="a38" d="M82.7 202.5l2.7 1.6-2-3.2-2.7-1.6z"/><path class="a68" d="M189.4 177.4l2.6-5-2 .5-2.7 5z"/><path class="a58" d="M72 186.4l2.7 1.8-2.1-4.2-2.6-1.7z"/><path class="a13" d="M150.2 223.3l2.6-1.7-2 .3-2.6 1.7z"/><path class="a7" d="M135.5 228.2l2.7-.8-2-.2-2.7 .8z"/><path class="a127" d="M52.5 129.5l2.6 1.6-2-6.8-2.7-1.5z"/><path class="a99" d="M57.9 152.4l2.6 1.7-2-5.8-2.6-1.7z"/><path class="a21" d="M160.2 216.9l2.6-2.4-2 .5-2.7 2.4z"/><path class="a27" d="M91.4 212.4l2.7 1.3-2-2.5-2.7-1.4z"/><path class="a8" d="M118.8 227.7l2.7 .2-2-.9-2.7-.1z"/><path class="a10" d="M114.2 226.5l2.6 .4-2-1.2-2.6-.4z"/><path class="a20" d="M98.1 218l2.7 1.1-2-2-2.7-1.1z"/><path class="a54" d="M74 190.3l2.7 1.8-2-3.9-2.7-1.8z"/><path class="a108" d="M201.2 144.7l2.7-6.5-2 .1-2.7 6.4z"/><path class="a8" d="M123.5 228.5l2.7 0-2-.7-2.7 .1z"/><path class="a75" d="M192 172.4l2.7-5.3-2.1 .6-2.6 5.2z"/><path class="a94" d="M197.9 156.5l2.7-6-2 .3-2.7 6z"/><path class="a107" d="M55.9 146.6l2.6 1.7-2-6-2.7-1.8z"/><path class="a12" d="M109.5 224.7l2.7 .6-2.1-1.3-2.6-.6z"/><path class="a36" d="M84.8 205.5l2.6 1.6-2-3-2.7-1.6z"/><path class="a124" d="M204.5 131.7l2.7-6.9-2-.2-2.7 6.9z"/><path class="a19" d="M157.5 219.1l2.7-2.2-2.1 .5-2.6 2.2z"/><path class="a8" d="M128.2 228.9l2.6-.3-2-.5-2.6 .4z"/><path class="a50" d="M76 194l2.7 1.8-2-3.7-2.7-1.8z"/><path class="a136" d="M50.4 122.8l2.7 1.5-2-6.9-2.7-1.6z"/><path class="a44" d="M178.1 198.1l2.7-3.8-2.1 .7-2.6 3.9z"/><path class="a40" d="M175.4 201.7l2.7-3.6-2 .8-2.7 3.6z"/><path class="a9" d="M140.2 227.3l2.6-1-2 .1-2.6 1z"/><path class="a13" d="M147.5 224.8l2.7-1.5-2 .3-2.7 1.5z"/><path class="a49" d="M180.8 194.3l2.6-4.1-2 .8-2.7 4z"/><path class="a16" d="M104.8 222.5l2.7 .9-2-1.6-2.7-.9z"/><path class="a36" d="M172.8 205.1l2.6-3.4-2 .8-2.6 3.3z"/><path class="a115" d="M53.8 140.5l2.7 1.8-2-6.3-2.7-1.8z"/><path class="a54" d="M183.4 190.2l2.7-4.3-2.1 .8-2.6 4.3z"/><path class="a82" d="M194.7 167.1l2.6-5.4-2 .5-2.7 5.5z"/><path class="a33" d="M170.1 208.2l2.7-3.1-2 .7-2.7 3.1z"/><path class="a25" d="M93.5 214.6l2.6 1.4-2-2.3-2.7-1.3z"/><path class="a8" d="M132.9 228.7l2.6-.5-2-.2-2.7 .6z"/><path class="a60" d="M186.1 185.9l2.6-4.5-2 .7-2.7 4.6z"/><path class="a46" d="M78.1 197.5l2.6 1.8-2-3.5-2.7-1.8z"/><path class="a33" d="M86.8 208.3l2.6 1.5-2-2.7-2.6-1.6z"/><path class="a18" d="M154.8 221.1l2.7-2-2 .5-2.7 2z"/><path class="a102" d="M200.6 150.5l2.7-6.1-2.1 .3-2.6 6.1z"/><path class="a117" d="M203.9 138.2l2.6-6.6-2 .1-2.6 6.6z"/><path class="a30" d="M167.5 211.1l2.6-2.9-2 .7-2.6 2.9z"/><path class="a20" d="M100.2 219.8l2.6 1.1-2-1.8-2.7-1.1z"/><path class="a123" d="M51.8 134.2l2.7 1.8-2-6.5-2.7-1.8z"/><path class="a66" d="M188.7 181.4l2.7-4.8-2 .8-2.7 4.7z"/><path class="a146" d="M48.4 115.8l2.7 1.6-2.1-7.2-2.6-1.6z"/><path class="a79" d="M63.3 171.2l2.6 2-2-4.8-2.6-2.1z"/><path class="a85" d="M61.3 166.3l2.6 2.1-2-5.1-2.6-2.1z"/><path class="a90" d="M197.3 161.7l2.7-5.7-2.1 .5-2.6 5.7z"/><path class="a73" d="M65.3 175.8l2.7 2.1-2.1-4.7-2.6-2z"/><path class="a12" d="M144.9 226l2.6-1.2-2 .3-2.7 1.2z"/><path class="a27" d="M164.8 213.7l2.7-2.6-2 .7-2.7 2.7z"/><path class="a91" d="M59.3 161.2l2.6 2.1-2-5.4-2.7-2z"/><path class="a11" d="M116.2 227.3l2.6 .4-2-.8-2.6-.4z"/><path class="a10" d="M120.9 228.4l2.6 .1-2-.6-2.7-.2z"/><path class="a43" d="M80.1 200.7l2.6 1.8-2-3.2-2.6-1.8z"/><path class="a10" d="M137.5 228.1l2.7-.8-2 .1-2.7 .8z"/><path class="a68" d="M67.3 180.2l2.7 2.1-2-4.4-2.7-2.1z"/><path class="a13" d="M111.5 225.8l2.7 .7-2-1.2-2.7-.6z"/><path class="a98" d="M57.2 155.9l2.7 2-2-5.5-2.7-2.1z"/><path class="a72" d="M191.4 176.6l2.6-5-2 .8-2.6 5z"/><path class="a17" d="M152.2 222.8l2.6-1.7-2 .5-2.6 1.7z"/><path class="a9" d="M125.5 229l2.7-.1-2-.4-2.7 0z"/><path class="a132" d="M49.8 127.7l2.7 1.8-2.1-6.7-2.6-1.8z"/><path class="a63" d="M69.4 184.4l2.6 2-2-4.1-2.7-2.1z"/><path class="a31" d="M88.8 210.8l2.6 1.6-2-2.6-2.6-1.5z"/><path class="a24" d="M95.5 216.7l2.6 1.3-2-2-2.6-1.4z"/><path class="a16" d="M106.8 223.9l2.7 .8-2-1.3-2.7-.9z"/><path class="a25" d="M162.2 216.2l2.6-2.5-2 .8-2.6 2.4z"/><path class="a105" d="M55.2 150.3l2.7 2.1-2-5.8-2.7-2.1z"/><path class="a111" d="M203.3 144.4l2.6-6.4-2 .2-2.7 6.5z"/><path class="a97" d="M200 156l2.6-6-2 .5-2.7 6z"/><path class="a10" d="M130.2 229l2.7-.3-2.1-.1-2.6 .3z"/><path class="a59" d="M71.4 188.3l2.6 2-2-3.9-2.6-2z"/><path class="a127" d="M206.5 131.6l2.7-6.9-2 .1-2.7 6.9z"/><path class="a79" d="M194 171.6l2.7-5.2-2 .7-2.7 5.3z"/><path class="a41" d="M82.1 203.7l2.7 1.8-2.1-3-2.6-1.8z"/><path class="a112" d="M53.2 144.5l2.7 2.1-2.1-6.1-2.6-2z"/><path class="a19" d="M102.2 221.4l2.6 1.1-2-1.6-2.6-1.1z"/><path class="a12" d="M142.2 227.1l2.7-1.1-2.1 .3-2.6 1z"/><path class="a23" d="M159.5 218.3l2.7-2.1-2 .7-2.7 2.2z"/><path class="a141" d="M47.8 121l2.6 1.8-2-7-2.6-1.8z"/><path class="a16" d="M149.5 224.3l2.7-1.5-2 .5-2.7 1.5z"/><path class="a55" d="M73.4 192l2.6 2-2-3.7-2.6-2z"/><path class="a49" d="M180.1 197.1l2.7-3.8-2 1-2.7 3.8z"/><path class="a44" d="M177.5 200.7l2.6-3.6-2 1-2.7 3.6z"/><path class="a53" d="M182.8 193.3l2.6-4.1-2 1-2.6 4.1z"/><path class="a11" d="M134.9 228.7l2.6-.6-2 .1-2.6 .5z"/><path class="a120" d="M51.2 138.5l2.6 2-2-6.3-2.6-2z"/><path class="a40" d="M174.8 204.1l2.7-3.4-2.1 1-2.6 3.4z"/><path class="a86" d="M196.7 166.4l2.6-5.5-2 .8-2.6 5.4z"/><path class="a30" d="M90.8 213.1l2.7 1.5-2.1-2.2-2.6-1.6z"/><path class="a58" d="M185.4 189.2l2.7-4.3-2 1-2.7 4.3z"/><path class="a37" d="M172.2 207.2l2.6-3.1-2 1-2.7 3.1z"/><path class="a120" d="M205.9 138l2.7-6.7-2.1 .3-2.6 6.6z"/><path class="a106" d="M202.6 150l2.7-6.2-2 .6-2.7 6.1z"/><path class="a24" d="M97.5 218.5l2.7 1.3-2.1-1.8-2.6-1.3z"/><path class="a38" d="M84.1 206.5l2.7 1.8-2-2.8-2.7-1.8z"/><path class="a12" d="M118.2 228l2.7 .4-2.1-.7-2.6-.4z"/><path class="a14" d="M113.5 226.7l2.7 .6-2-.8-2.7-.7z"/><path class="a21" d="M156.9 220.3l2.6-2-2 .8-2.7 2z"/><path class="a52" d="M75.4 195.5l2.7 2-2.1-3.5-2.6-2z"/><path class="a64" d="M188.1 184.9l2.6-4.5-2 1-2.6 4.5z"/><path class="a11" d="M122.9 228.8l2.6 .2-2-.5-2.6-.1z"/><path class="a34" d="M169.5 210.1l2.7-2.9-2.1 1-2.6 2.9z"/><path class="a16" d="M108.9 225l2.6 .8-2-1.1-2.7-.8z"/><path class="a128" d="M49.2 132.2l2.6 2-2-6.5-2.7-2z"/><path class="a150" d="M45.8 114l2.6 1.8-2-7.2-2.7-1.8z"/><path class="a16" d="M146.9 225.5l2.6-1.2-2 .5-2.6 1.2z"/><path class="a70" d="M190.7 180.4l2.7-4.8-2 1-2.7 4.8z"/><path class="a93" d="M199.3 160.9l2.7-5.7-2 .8-2.7 5.7z"/><path class="a13" d="M139.6 227.8l2.6-.7-2 .2-2.7 .8z"/><path class="a11" d="M127.6 229.1l2.6-.1-2-.1-2.7 .1z"/><path class="a84" d="M60.6 168.9l2.7 2.3-2-4.9-2.7-2.2z"/><path class="a90" d="M58.6 164.1l2.7 2.2-2-5.1-2.7-2.2z"/><path class="a79" d="M62.7 173.6l2.6 2.2-2-4.6-2.7-2.3z"/><path class="a31" d="M166.8 212.7l2.7-2.6-2 1-2.7 2.6z"/><path class="a19" d="M104.2 222.8l2.6 1.1-2-1.4-2.6-1.1z"/><path class="a97" d="M56.6 159l2.7 2.2-2.1-5.3-2.6-2.3z"/><path class="a49" d="M77.4 198.7l2.7 2-2-3.2-2.7-2z"/><path class="a74" d="M64.7 178l2.6 2.2-2-4.4-2.6-2.2z"/><path class="a20" d="M154.2 222l2.7-1.7-2.1 .8-2.6 1.7z"/><path class="a29" d="M92.8 215.1l2.7 1.6-2-2.1-2.7-1.5z"/><path class="a103" d="M54.6 153.6l2.6 2.3-2-5.6-2.6-2.2z"/><path class="a76" d="M193.4 175.6l2.6-5-2 1-2.6 5z"/><path class="a36" d="M86.1 209l2.7 1.8-2-2.5-2.7-1.8z"/><path class="a137" d="M47.1 125.7l2.7 2-2-6.7-2.7-2z"/><path class="a114" d="M205.3 143.8l2.6-6.4-2 .6-2.6 6.4z"/><path class="a12" d="M132.2 229l2.7-.3-2 0-2.7 .3z"/><path class="a69" d="M66.7 182.1l2.7 2.3-2.1-4.2-2.6-2.2z"/><path class="a29" d="M164.2 215.2l2.6-2.5-2 1-2.6 2.5z"/><path class="a130" d="M208.6 131.3l2.6-6.9-2 .3-2.7 6.9z"/><path class="a110" d="M52.6 148.1l2.6 2.2-2-5.8-2.7-2.2z"/><path class="a23" d="M99.5 220.1l2.7 1.3-2-1.6-2.7-1.3z"/><path class="a101" d="M202 155.2l2.6-5.9-2 .7-2.6 6z"/><path class="a65" d="M68.7 186.1l2.7 2.2-2-3.9-2.7-2.3z"/><path class="a83" d="M196 170.6l2.7-5.2-2 1-2.7 5.2z"/><path class="a46" d="M79.4 201.7l2.7 2-2-3-2.7-2z"/><path class="a16" d="M144.2 226.5l2.7-1-2 .5-2.7 1.1z"/><path class="a118" d="M50.5 142.3l2.7 2.2-2-6-2.7-2.3z"/><path class="a20" d="M151.6 223.5l2.6-1.5-2 .8-2.7 1.5z"/><path class="a146" d="M45.1 119l2.7 2-2-7-2.7-2z"/><path class="a15" d="M115.6 227.4l2.6 .6-2-.7-2.7-.6z"/><path class="a27" d="M161.5 217.4l2.7-2.2-2 1-2.7 2.1z"/><path class="a14" d="M136.9 228.4l2.7-.6-2.1 .3-2.6 .6z"/><path class="a14" d="M120.2 228.4l2.7 .4-2-.4-2.7-.4z"/><path class="a17" d="M110.9 225.9l2.6 .8-2-.9-2.6-.8z"/><path class="a61" d="M70.7 189.7l2.7 2.3-2-3.7-2.7-2.2z"/><path class="a35" d="M88.2 211.3l2.6 1.8-2-2.3-2.7-1.8z"/><path class="a14" d="M124.9 229l2.7 .1-2.1-.1-2.6-.2z"/><path class="a53" d="M182.1 195.9l2.7-3.9-2 1.3-2.7 3.8z"/><path class="a49" d="M179.5 199.5l2.6-3.6-2 1.2-2.6 3.6z"/><path class="a126" d="M48.5 136.2l2.7 2.3-2-6.3-2.7-2.3z"/><path class="a28" d="M94.8 217l2.7 1.5-2-1.8-2.7-1.6z"/><path class="a90" d="M198.7 165.4l2.7-5.5-2.1 1-2.6 5.5z"/><path class="a124" d="M207.9 137.4l2.7-6.6-2 .5-2.7 6.7z"/><path class="a58" d="M184.8 192l2.6-4-2 1.2-2.6 4.1z"/><path class="a45" d="M176.8 202.8l2.7-3.3-2 1.2-2.7 3.4z"/><path class="a20" d="M106.2 223.9l2.7 1.1-2.1-1.1-2.6-1.1z"/><path class="a110" d="M204.6 149.3l2.7-6.2-2 .7-2.7 6.2z"/><path class="a63" d="M187.4 188l2.7-4.3-2 1.2-2.7 4.3z"/><path class="a44" d="M81.5 204.4l2.6 2.1-2-2.8-2.7-2z"/><path class="a41" d="M174.2 206l2.6-3.2-2 1.3-2.6 3.1z"/><path class="a25" d="M158.9 219.3l2.6-1.9-2 .9-2.6 2z"/><path class="a57" d="M72.8 193.2l2.6 2.3-2-3.5-2.7-2.3z"/><path class="a14" d="M129.6 229.1l2.6-.1-2 0-2.6 .1z"/><path class="a68" d="M190.1 183.7l2.7-4.5-2.1 1.2-2.6 4.5z"/><path class="a156" d="M43.1 112l2.7 2-2.1-7.2-2.6-2z"/><path class="a16" d="M141.6 227.3l2.6-.8-2 .6-2.6 .7z"/><path class="a134" d="M46.5 129.9l2.7 2.3-2.1-6.5-2.6-2.3z"/><path class="a19" d="M148.9 224.8l2.7-1.3-2.1 .8-2.6 1.2z"/><path class="a38" d="M171.5 208.9l2.7-2.9-2 1.2-2.7 2.9z"/><path class="a24" d="M101.5 221.4l2.7 1.4-2-1.4-2.7-1.3z"/><path class="a97" d="M201.4 159.9l2.6-5.7-2 1-2.7 5.7z"/><path class="a74" d="M192.8 179.2l2.6-4.8-2 1.2-2.7 4.8z"/><path class="a91" d="M58 166.4l2.6 2.5-2-4.8-2.6-2.5z"/><path class="a97" d="M56 161.6l2.6 2.5-2-5.1-2.7-2.5z"/><path class="a34" d="M90.2 213.3l2.6 1.8-2-2-2.6-1.8z"/><path class="a15" d="M134.2 228.7l2.7-.3-2 .3-2.7 .3z"/><path class="a36" d="M168.9 211.5l2.6-2.6-2 1.2-2.7 2.6z"/><path class="a54" d="M74.8 196.4l2.6 2.3-2-3.2-2.6-2.3z"/><path class="a85" d="M60 171.1l2.7 2.5-2.1-4.7-2.6-2.5z"/><path class="a103" d="M53.9 156.5l2.7 2.5-2-5.4-2.7-2.5z"/><path class="a24" d="M156.2 221l2.7-1.7-2 1-2.7 1.7z"/><path class="a42" d="M83.5 207l2.6 2-2-2.5-2.6-2.1z"/><path class="a118" d="M207.3 143.1l2.6-6.4-2 .7-2.6 6.4z"/><path class="a80" d="M62 175.5l2.7 2.5-2-4.4-2.7-2.5z"/><path class="a133" d="M210.6 130.8l2.6-6.9-2 .5-2.6 6.9z"/><path class="a143" d="M44.5 123.4l2.6 2.3-2-6.7-2.6-2.3z"/><path class="a81" d="M195.4 174.4l2.7-5-2.1 1.2-2.6 5z"/><path class="a110" d="M51.9 151.1l2.7 2.5-2-5.5-2.7-2.5z"/><path class="a28" d="M96.9 218.5l2.6 1.6-2-1.6-2.7-1.5z"/><path class="a17" d="M117.6 227.8l2.6 .6-2-.4-2.6-.6z"/><path class="a18" d="M112.9 226.5l2.7 .9-2.1-.7-2.6-.8z"/><path class="a75" d="M64 179.6l2.7 2.5-2-4.1-2.7-2.5z"/><path class="a33" d="M166.2 213.9l2.7-2.4-2.1 1.2-2.6 2.5z"/><path class="a105" d="M204 154.2l2.7-5.9-2.1 1-2.6 5.9z"/><path class="a16" d="M122.2 228.6l2.7 .4-2-.2-2.7-.4z"/><path class="a117" d="M49.9 145.6l2.7 2.5-2.1-5.8-2.6-2.5z"/><path class="a19" d="M146.2 225.8l2.7-1-2 .7-2.7 1z"/><path class="a21" d="M108.2 224.8l2.7 1.1-2-.9-2.7-1.1z"/><path class="a52" d="M76.8 199.4l2.6 2.3-2-3-2.6-2.3z"/><path class="a87" d="M198.1 169.4l2.6-5.3-2 1.3-2.7 5.2z"/><path class="a17" d="M138.9 227.9l2.7-.6-2 .5-2.7 .6z"/><path class="a71" d="M66.1 183.6l2.6 2.5-2-4-2.7-2.5z"/><path class="a16" d="M126.9 228.9l2.7 .2-2 0-2.7-.1z"/><path class="a24" d="M153.6 222.5l2.6-1.5-2 1-2.6 1.5z"/><path class="a124" d="M47.9 139.8l2.6 2.5-2-6.1-2.6-2.5z"/><path class="a152" d="M42.5 116.7l2.6 2.3-2-7-2.6-2.3z"/><path class="a31" d="M163.6 216.1l2.6-2.2-2 1.3-2.7 2.2z"/><path class="a24" d="M103.6 222.6l2.6 1.3-2-1.1-2.7-1.4z"/><path class="a40" d="M85.5 209.3l2.7 2-2.1-2.3-2.6-2z"/><path class="a33" d="M92.2 215.2l2.6 1.8-2-1.9-2.6-1.8z"/><path class="a127" d="M209.9 136.7l2.7-6.7-2 .8-2.7 6.6z"/><path class="a67" d="M68.1 187.2l2.6 2.5-2-3.6-2.6-2.5z"/><path class="a94" d="M200.7 164.1l2.7-5.4-2 1.2-2.7 5.5z"/><path class="a17" d="M131.6 228.8l2.6-.1-2 .3-2.6 .1z"/><path class="a132" d="M45.9 133.7l2.6 2.5-2-6.3-2.6-2.5z"/><path class="a58" d="M184.2 194.4l2.6-3.8-2 1.4-2.7 3.9z"/><path class="a114" d="M206.7 148.3l2.6-6.2-2 1-2.7 6.2z"/><path class="a54" d="M181.5 198l2.7-3.6-2.1 1.5-2.6 3.6z"/><path class="a63" d="M186.8 190.6l2.7-4.1-2.1 1.5-2.6 4z"/><path class="a49" d="M78.8 202.2l2.7 2.2-2.1-2.7-2.6-2.3z"/><path class="a50" d="M178.8 201.4l2.7-3.4-2 1.5-2.7 3.3z"/><path class="a28" d="M98.9 219.9l2.6 1.5-2-1.3-2.6-1.6z"/><path class="a68" d="M189.5 186.5l2.6-4.3-2 1.5-2.7 4.3z"/><path class="a30" d="M160.9 218.1l2.7-2-2.1 1.3-2.6 1.9z"/><path class="a20" d="M143.6 226.6l2.6-.8-2 .7-2.6 .8z"/><path class="a46" d="M176.2 204.5l2.6-3.1-2 1.4-2.6 3.2z"/><path class="a64" d="M70.1 190.7l2.7 2.5-2.1-3.5-2.6-2.5z"/><path class="a162" d="M40.5 109.7l2.6 2.3-2-7.2-2.7-2.3z"/><path class="a23" d="M150.9 223.8l2.7-1.3-2 1-2.7 1.3z"/><path class="a73" d="M192.1 182.2l2.7-4.5-2 1.5-2.7 4.5z"/><path class="a140" d="M43.9 127.4l2.6 2.5-2-6.5-2.7-2.5z"/><path class="a43" d="M173.5 207.4l2.7-2.9-2 1.5-2.7 2.9z"/><path class="a18" d="M136.3 228.2l2.6-.3-2 .5-2.7 .3z"/><path class="a102" d="M203.4 158.7l2.6-5.7-2 1.2-2.6 5.7z"/><path class="a20" d="M114.9 226.9l2.7 .9-2-.4-2.7-.9z"/><path class="a39" d="M87.5 211.3l2.7 2-2-2-2.7-2z"/><path class="a19" d="M119.6 228l2.6 .6-2-.2-2.6-.6z"/><path class="a79" d="M194.8 177.7l2.6-4.8-2 1.5-2.6 4.8z"/><path class="a22" d="M110.2 225.4l2.7 1.1-2-.6-2.7-1.1z"/><path class="a137" d="M212.6 130l2.7-6.8-2.1 .7-2.6 6.9z"/><path class="a61" d="M72.1 193.9l2.7 2.5-2-3.2-2.7-2.5z"/><path class="a33" d="M94.2 216.7l2.7 1.8-2.1-1.5-2.6-1.8z"/><path class="a122" d="M209.3 142.1l2.7-6.4-2.1 1-2.6 6.4z"/><path class="a48" d="M80.8 204.7l2.7 2.3-2-2.6-2.7-2.2z"/><path class="a97" d="M55.3 163.7l2.7 2.7-2-4.8-2.7-2.8z"/><path class="a41" d="M170.9 210l2.6-2.6-2 1.5-2.6 2.6z"/><path class="a19" d="M124.3 228.5l2.6 .4-2 .1-2.7-.4z"/><path class="a29" d="M158.2 219.8l2.7-1.7-2 1.2-2.7 1.7z"/><path class="a103" d="M53.3 158.8l2.7 2.8-2.1-5.1-2.6-2.8z"/><path class="a92" d="M57.4 168.3l2.6 2.8-2-4.7-2.7-2.7z"/><path class="a109" d="M51.3 153.7l2.6 2.8-2-5.4-2.6-2.7z"/><path class="a25" d="M105.6 223.4l2.6 1.4-2-.9-2.6-1.3z"/><path class="a149" d="M41.8 120.9l2.7 2.5-2-6.7-2.7-2.5z"/><path class="a87" d="M59.4 172.7l2.6 2.8-2-4.4-2.6-2.8z"/><path class="a86" d="M197.4 172.9l2.7-5-2 1.5-2.7 5z"/><path class="a116" d="M49.3 148.4l2.6 2.7-2-5.5-2.6-2.8z"/><path class="a19" d="M128.9 228.6l2.7 .2-2 .3-2.7-.2z"/><path class="a110" d="M206 153l2.7-6-2 1.3-2.7 5.9z"/><path class="a24" d="M148.3 224.8l2.6-1-2 1-2.7 1z"/><path class="a38" d="M168.2 212.5l2.7-2.5-2 1.5-2.7 2.4z"/><path class="a82" d="M61.4 176.9l2.6 2.7-2-4.1-2.6-2.8z"/><path class="a21" d="M140.9 227.1l2.7-.5-2 .7-2.7 .6z"/><path class="a123" d="M47.3 142.8l2.6 2.8-2-5.8-2.7-2.8z"/><path class="a29" d="M100.9 221l2.7 1.6-2.1-1.2-2.6-1.5z"/><path class="a58" d="M74.1 196.9l2.7 2.5-2-3-2.7-2.5z"/><path class="a92" d="M200.1 167.9l2.6-5.2-2 1.4-2.6 5.3z"/><path class="a78" d="M63.4 180.8l2.7 2.8-2.1-4-2.6-2.7z"/><path class="a28" d="M155.6 221.3l2.6-1.5-2 1.2-2.6 1.5z"/><path class="a39" d="M89.5 213.1l2.7 2.1-2-1.9-2.7-2z"/><path class="a158" d="M39.8 114.2l2.7 2.5-2-7-2.7-2.5z"/><path class="a46" d="M82.8 207l2.7 2.3-2-2.3-2.7-2.3z"/><path class="a131" d="M45.2 137l2.7 2.8-2-6.1-2.7-2.7z"/><path class="a20" d="M133.6 228.3l2.7-.1-2.1 .5-2.6 .1z"/><path class="a131" d="M212 135.7l2.6-6.7-2 1-2.7 6.7z"/><path class="a36" d="M165.6 214.7l2.6-2.2-2 1.4-2.6 2.2z"/><path class="a74" d="M65.4 184.5l2.7 2.7-2-3.6-2.7-2.8z"/><path class="a33" d="M96.2 218.1l2.7 1.8-2-1.4-2.7-1.8z"/><path class="a118" d="M208.7 147l2.6-6.1-2 1.2-2.6 6.2z"/><path class="a99" d="M202.7 162.7l2.7-5.5-2 1.5-2.7 5.4z"/><path class="a139" d="M43.2 131l2.7 2.7-2-6.3-2.7-2.7z"/><path class="a56" d="M76.2 199.7l2.6 2.5-2-2.8-2.7-2.5z"/><path class="a22" d="M116.9 227.1l2.7 .9-2-.2-2.7-.9z"/><path class="a63" d="M186.2 192.7l2.6-3.8-2 1.7-2.6 3.8z"/><path class="a59" d="M183.5 196.3l2.7-3.6-2 1.7-2.7 3.6z"/><path class="a24" d="M112.3 225.8l2.6 1.1-2-.4-2.7-1.1z"/><path class="a24" d="M145.6 225.6l2.7-.8-2.1 1-2.6 .8z"/><path class="a68" d="M188.8 188.9l2.7-4.1-2 1.7-2.7 4.1z"/><path class="a55" d="M180.9 199.7l2.6-3.4-2 1.7-2.7 3.4z"/><path class="a21" d="M121.6 227.9l2.7 .6-2.1 .1-2.6-.6z"/><path class="a35" d="M162.9 216.6l2.7-1.9-2 1.4-2.7 2z"/><path class="a73" d="M191.5 184.8l2.6-4.3-2 1.7-2.6 4.3z"/><path class="a168" d="M37.8 107.2l2.7 2.5-2.1-7.2-2.6-2.5z"/><path class="a26" d="M107.6 224.1l2.6 1.3-2-.6-2.6-1.4z"/><path class="a28" d="M152.9 222.5l2.7-1.2-2 1.2-2.7 1.3z"/><path class="a22" d="M138.3 227.4l2.6-.3-2 .8-2.6 .3z"/><path class="a70" d="M67.4 188l2.7 2.7-2-3.5-2.7-2.7z"/><path class="a52" d="M178.2 202.8l2.7-3.1-2.1 1.7-2.6 3.1z"/><path class="a21" d="M126.3 228.2l2.6 .4-2 .3-2.6-.4z"/><path class="a79" d="M194.1 180.5l2.7-4.5-2 1.7-2.7 4.5z"/><path class="a147" d="M41.2 124.7l2.7 2.7-2.1-6.5-2.6-2.7z"/><path class="a45" d="M84.9 209l2.6 2.3-2-2-2.7-2.3z"/><path class="a107" d="M205.4 157.2l2.6-5.7-2 1.5-2.6 5.7z"/><path class="a49" d="M175.6 205.7l2.6-2.9-2 1.7-2.7 2.9z"/><path class="a38" d="M91.6 214.7l2.6 2-2-1.5-2.7-2.1z"/><path class="a30" d="M102.9 221.9l2.7 1.5-2-.8-2.7-1.6z"/><path class="a141" d="M214.6 129l2.7-6.8-2 1-2.7 6.8z"/><path class="a127" d="M211.3 140.9l2.7-6.4-2 1.2-2.7 6.4z"/><path class="a85" d="M196.8 176l2.6-4.8-2 1.7-2.6 4.8z"/><path class="a54" d="M78.2 202.2l2.6 2.5-2-2.5-2.6-2.5z"/><path class="a67" d="M69.5 191.2l2.6 2.7-2-3.2-2.7-2.7z"/><path class="a34" d="M160.3 218.3l2.6-1.7-2 1.5-2.7 1.7z"/><path class="a22" d="M131 228.1l2.6 .2-2 .5-2.7-.2z"/><path class="a46" d="M172.9 208.4l2.7-2.7-2.1 1.7-2.6 2.6z"/><path class="a104" d="M52.7 160.7l2.6 3-2-4.9-2.6-2.9z"/><path class="a110" d="M50.7 155.9l2.6 2.9-2-5.1-2.7-2.9z"/><path class="a99" d="M54.7 165.4l2.7 2.9-2.1-4.6-2.6-3z"/><path class="a156" d="M39.2 118.2l2.6 2.7-2-6.7-2.6-2.7z"/><path class="a116" d="M48.6 150.8l2.7 2.9-2-5.3-2.7-3z"/><path class="a34" d="M98.2 219.2l2.7 1.8-2-1.1-2.7-1.8z"/><path class="a25" d="M143 226.1l2.6-.5-2 1-2.7 .5z"/><path class="a91" d="M199.4 171.2l2.7-5-2 1.7-2.7 5z"/><path class="a28" d="M150.3 223.6l2.6-1.1-2 1.3-2.6 1z"/><path class="a93" d="M56.7 169.8l2.7 2.9-2-4.4-2.7-2.9z"/><path class="a123" d="M46.6 145.4l2.7 3-2-5.6-2.7-2.9z"/><path class="a115" d="M208 151.5l2.7-5.9-2 1.4-2.7 6z"/><path class="a44" d="M170.2 210.8l2.7-2.4-2 1.6-2.7 2.5z"/><path class="a89" d="M58.7 173.9l2.7 3-2-4.2-2.7-2.9z"/><path class="a64" d="M71.5 194.2l2.6 2.7-2-3-2.6-2.7z"/><path class="a130" d="M44.6 139.9l2.7 2.9-2.1-5.8-2.6-2.9z"/><path class="a24" d="M135.6 227.5l2.7-.1-2 .8-2.7 .1z"/><path class="a44" d="M86.9 210.9l2.6 2.2-2-1.8-2.6-2.3z"/><path class="a33" d="M157.6 219.8l2.7-1.5-2.1 1.5-2.6 1.5z"/><path class="a98" d="M202.1 166.2l2.7-5.2-2.1 1.7-2.6 5.2z"/><path class="a52" d="M80.2 204.5l2.6 2.5-2-2.3-2.6-2.5z"/><path class="a26" d="M114.3 226l2.6 1.1-2-.2-2.6-1.1z"/><path class="a136" d="M214 134.5l2.6-6.7-2 1.2-2.6 6.7z"/><path class="a165" d="M37.2 111.5l2.6 2.7-2-7-2.7-2.7z"/><path class="a85" d="M60.8 177.9l2.6 2.9-2-3.9-2.7-3z"/><path class="a25" d="M119 227l2.6 .9-2 .1-2.7-.9z"/><path class="a28" d="M109.6 224.5l2.7 1.3-2.1-.4-2.6-1.3z"/><path class="a38" d="M93.6 216.1l2.6 2-2-1.4-2.6-2z"/><path class="a138" d="M42.6 134.1l2.6 2.9-2-6-2.6-3z"/><path class="a42" d="M167.6 213l2.6-2.2-2 1.7-2.6 2.2z"/><path class="a24" d="M123.6 227.6l2.7 .6-2 .3-2.7-.6z"/><path class="a123" d="M210.7 145.6l2.7-6.2-2.1 1.5-2.6 6.1z"/><path class="a31" d="M104.9 222.5l2.7 1.6-2-.7-2.7-1.5z"/><path class="a81" d="M62.8 181.5l2.6 3-2-3.7-2.6-2.9z"/><path class="a29" d="M147.6 224.3l2.7-.7-2 1.2-2.7 .8z"/><path class="a105" d="M204.8 161l2.6-5.5-2 1.7-2.7 5.5z"/><path class="a62" d="M73.5 196.9l2.7 2.8-2.1-2.8-2.6-2.7z"/><path class="a146" d="M40.6 128l2.6 3-2-6.3-2.7-3z"/><path class="a26" d="M140.3 226.4l2.7-.3-2.1 1-2.6 .3z"/><path class="a25" d="M128.3 227.7l2.7 .4-2.1 .5-2.6-.4z"/><path class="a69" d="M188.2 190.8l2.6-3.8-2 1.9-2.6 3.8z"/><path class="a65" d="M185.5 194.4l2.7-3.6-2 1.9-2.7 3.6z"/><path class="a74" d="M190.8 187l2.7-4.1-2 1.9-2.7 4.1z"/><path class="a33" d="M155 221.1l2.6-1.3-2 1.5-2.7 1.2z"/><path class="a40" d="M164.9 214.9l2.7-1.9-2 1.7-2.7 1.9z"/><path class="a174" d="M35.1 104.5l2.7 2.7-2-7.2-2.7-2.7z"/><path class="a61" d="M182.9 197.7l2.6-3.3-2 1.9-2.6 3.4z"/><path class="a34" d="M100.3 220.1l2.6 1.8-2-.9-2.7-1.8z"/><path class="a79" d="M193.5 182.9l2.7-4.3-2.1 1.9-2.6 4.3z"/><path class="a77" d="M64.8 185l2.6 3-2-3.5-2.6-3z"/><path class="a51" d="M82.2 206.5l2.7 2.5-2.1-2-2.6-2.5z"/><path class="a44" d="M88.9 212.4l2.7 2.3-2.1-1.6-2.6-2.2z"/><path class="a57" d="M180.2 200.9l2.7-3.2-2 2-2.7 3.1z"/><path class="a146" d="M216.6 127.8l2.7-6.9-2 1.3-2.7 6.8z"/><path class="a154" d="M38.5 121.7l2.7 3-2-6.5-2.7-3z"/><path class="a84" d="M196.2 178.6l2.6-4.5-2 1.9-2.7 4.5z"/><path class="a112" d="M207.4 155.5l2.7-5.7-2.1 1.7-2.6 5.7z"/><path class="a26" d="M133 227.3l2.6 .2-2 .8-2.6-.2z"/><path class="a132" d="M213.4 139.4l2.6-6.4-2 1.5-2.7 6.4z"/><path class="a54" d="M177.6 203.8l2.6-2.9-2 1.9-2.6 2.9z"/><path class="a60" d="M75.5 199.5l2.7 2.7-2-2.5-2.7-2.8z"/><path class="a39" d="M95.6 217.2l2.6 2-2-1.1-2.6-2z"/><path class="a90" d="M198.8 174.1l2.7-4.8-2.1 1.9-2.6 4.8z"/><path class="a39" d="M162.3 216.6l2.6-1.7-2 1.7-2.6 1.7z"/><path class="a74" d="M66.8 188.2l2.7 3-2.1-3.2-2.6-3z"/><path class="a30" d="M145 224.9l2.6-.6-2 1.3-2.6 .5z"/><path class="a52" d="M174.9 206.4l2.7-2.6-2 1.9-2.7 2.7z"/><path class="a111" d="M50 157.5l2.7 3.2-2-4.8-2.7-3.2z"/><path class="a163" d="M36.5 115.2l2.7 3-2-6.7-2.7-3z"/><path class="a117" d="M48 152.7l2.7 3.2-2.1-5.1-2.6-3.2z"/><path class="a33" d="M152.3 222.1l2.7-1-2.1 1.4-2.6 1.1z"/><path class="a29" d="M116.3 226l2.7 1-2.1 .1-2.6-1.1z"/><path class="a30" d="M111.6 224.7l2.7 1.3-2-.2-2.7-1.3z"/><path class="a106" d="M52 162.2l2.7 3.2-2-4.7-2.7-3.2z"/><path class="a124" d="M46 147.6l2.6 3.2-2-5.4-2.6-3.2z"/><path class="a28" d="M121 226.8l2.6 .8-2 .3-2.6-.9z"/><path class="a97" d="M201.5 169.3l2.6-5-2 1.9-2.7 5z"/><path class="a120" d="M210.1 149.8l2.6-5.9-2 1.7-2.7 5.9z"/><path class="a28" d="M137.6 226.5l2.7-.1-2 1-2.7 .1z"/><path class="a101" d="M54.1 166.6l2.6 3.2-2-4.4-2.7-3.2z"/><path class="a33" d="M107 222.9l2.6 1.6-2-.4-2.7-1.6z"/><path class="a130" d="M44 142.2l2.6 3.2-2-5.5-2.7-3.2z"/><path class="a50" d="M84.2 208.4l2.7 2.5-2-1.9-2.7-2.5z"/><path class="a49" d="M172.3 208.8l2.6-2.4-2 2-2.7 2.4z"/><path class="a71" d="M68.8 191.2l2.7 3-2-3-2.7-3z"/><path class="a96" d="M56.1 170.7l2.6 3.2-2-4.1-2.6-3.2z"/><path class="a28" d="M125.6 227.1l2.7 .6-2 .5-2.7-.6z"/><path class="a44" d="M90.9 213.8l2.7 2.3-2-1.4-2.7-2.3z"/><path class="a39" d="M159.6 218.1l2.7-1.5-2 1.7-2.7 1.5z"/><path class="a59" d="M77.5 201.8l2.7 2.7-2-2.3-2.7-2.7z"/><path class="a141" d="M216 133l2.7-6.7-2.1 1.5-2.6 6.7z"/><path class="a137" d="M41.9 136.7l2.7 3.2-2-5.8-2.7-3.2z"/><path class="a36" d="M102.3 220.7l2.6 1.8-2-.6-2.6-1.8z"/><path class="a103" d="M204.1 164.3l2.7-5.2-2 1.9-2.7 5.2z"/><path class="a172" d="M34.5 108.5l2.7 3-2.1-7-2.6-3z"/><path class="a92" d="M58.1 174.7l2.7 3.2-2.1-4-2.6-3.2z"/><path class="a48" d="M169.6 211l2.7-2.2-2.1 2-2.6 2.2z"/><path class="a145" d="M39.9 130.9l2.7 3.2-2-6.1-2.7-3.2z"/><path class="a29" d="M130.3 227l2.7 .3-2 .8-2.7-.4z"/><path class="a128" d="M212.7 143.9l2.7-6.2-2 1.7-2.7 6.2z"/><path class="a34" d="M149.6 222.9l2.7-.8-2 1.5-2.7 .7z"/><path class="a31" d="M142.3 225.2l2.7-.3-2 1.2-2.7 .3z"/><path class="a40" d="M97.6 218.1l2.7 2-2.1-.9-2.6-2z"/><path class="a88" d="M60.1 178.3l2.7 3.2-2-3.6-2.7-3.2z"/><path class="a69" d="M70.8 194l2.7 2.9-2-2.7-2.7-3z"/><path class="a110" d="M206.8 159.1l2.6-5.5-2 1.9-2.6 5.5z"/><path class="a153" d="M37.9 124.8l2.7 3.2-2.1-6.3-2.6-3.2z"/><path class="a38" d="M157 219.4l2.6-1.3-2 1.7-2.6 1.3z"/><path class="a181" d="M32.5 101.5l2.6 3-2-7.2-2.6-3z"/><path class="a50" d="M86.2 209.9l2.7 2.5-2-1.5-2.7-2.5z"/><path class="a75" d="M190.2 188.6l2.7-3.8-2.1 2.2-2.6 3.8z"/><path class="a46" d="M167 213l2.6-2-2 2-2.7 1.9z"/><path class="a71" d="M187.6 192.2l2.6-3.6-2 2.2-2.7 3.6z"/><path class="a58" d="M79.6 203.8l2.6 2.7-2-2-2.7-2.7z"/><path class="a80" d="M192.9 184.8l2.6-4.1-2 2.2-2.7 4.1z"/><path class="a30" d="M135 226.4l2.6 .1-2 1-2.6-.2z"/><path class="a67" d="M184.9 195.6l2.7-3.4-2.1 2.2-2.6 3.3z"/><path class="a150" d="M218.7 126.3l2.6-6.8-2 1.4-2.7 6.9z"/><path class="a84" d="M62.1 181.8l2.7 3.2-2-3.5-2.7-3.2z"/><path class="a85" d="M195.5 180.7l2.7-4.3-2 2.2-2.7 4.3z"/><path class="a33" d="M113.6 224.6l2.7 1.4-2 0-2.7-1.3z"/><path class="a64" d="M182.2 198.7l2.7-3.1-2 2.1-2.7 3.2z"/><path class="a31" d="M118.3 225.7l2.7 1.1-2 .2-2.7-1z"/><path class="a161" d="M35.9 118.5l2.6 3.2-2-6.5-2.6-3.2z"/><path class="a118" d="M209.4 153.6l2.7-5.7-2 1.9-2.7 5.7z"/><path class="a45" d="M92.9 214.9l2.7 2.3-2-1.1-2.7-2.3z"/><path class="a137" d="M215.4 137.7l2.6-6.4-2 1.7-2.6 6.4z"/><path class="a35" d="M109 223.1l2.6 1.6-2-.2-2.6-1.6z"/><path class="a91" d="M198.2 176.4l2.6-4.5-2 2.2-2.6 4.5z"/><path class="a67" d="M72.9 196.5l2.6 3-2-2.6-2.7-2.9z"/><path class="a31" d="M123 226.2l2.6 .9-2 .5-2.6-.8z"/><path class="a61" d="M179.6 201.6l2.6-2.9-2 2.2-2.6 2.9z"/><path class="a34" d="M147 223.4l2.6-.5-2 1.4-2.6 .6z"/><path class="a45" d="M164.3 214.7l2.7-1.7-2.1 1.9-2.6 1.7z"/><path class="a38" d="M104.3 221.2l2.7 1.7-2.1-.4-2.6-1.8z"/><path class="a81" d="M64.2 185l2.6 3.2-2-3.2-2.7-3.2z"/><path class="a97" d="M200.8 171.9l2.7-4.8-2 2.2-2.7 4.8z"/><path class="a38" d="M154.3 220.4l2.7-1-2 1.7-2.7 1z"/><path class="a33" d="M139.7 225.3l2.6-.1-2 1.2-2.7 .1z"/><path class="a58" d="M176.9 204.3l2.7-2.7-2 2.2-2.7 2.6z"/><path class="a31" d="M127.7 226.3l2.6 .7-2 .7-2.7-.6z"/><path class="a170" d="M33.9 112l2.6 3.2-2-6.7-2.6-3.2z"/><path class="a119" d="M47.4 154.1l2.6 3.4-2-4.8-2.6-3.5z"/><path class="a125" d="M45.4 149.2l2.6 3.5-2-5.1-2.7-3.5z"/><path class="a126" d="M212.1 147.9l2.6-6-2 2-2.6 5.9z"/><path class="a114" d="M49.4 158.7l2.6 3.5-2-4.7-2.6-3.4z"/><path class="a57" d="M81.6 205.6l2.6 2.8-2-1.9-2.6-2.7z"/><path class="a131" d="M43.3 144.1l2.7 3.5-2-5.4-2.7-3.4z"/><path class="a41" d="M99.6 218.7l2.7 2-2-.6-2.7-2z"/><path class="a103" d="M203.5 167.1l2.6-5-2 2.2-2.6 5z"/><path class="a50" d="M88.3 211.3l2.6 2.5-2-1.4-2.7-2.5z"/><path class="a109" d="M51.4 163.1l2.7 3.5-2.1-4.4-2.6-3.5z"/><path class="a138" d="M41.3 138.8l2.7 3.4-2.1-5.5-2.6-3.5z"/><path class="a56" d="M174.3 206.7l2.6-2.4-2 2.1-2.6 2.4z"/><path class="a146" d="M218 131.3l2.7-6.6-2 1.6-2.7 6.7z"/><path class="a79" d="M66.2 188l2.6 3.2-2-3-2.6-3.2z"/><path class="a66" d="M74.9 198.8l2.6 3-2-2.3-2.6-3z"/><path class="a44" d="M161.6 216.2l2.7-1.5-2 1.9-2.7 1.5z"/><path class="a104" d="M53.4 167.3l2.7 3.4-2-4.1-2.7-3.5z"/><path class="a33" d="M132.3 226l2.7 .4-2 .9-2.7-.3z"/><path class="a145" d="M39.3 133.2l2.6 3.5-2-5.8-2.6-3.5z"/><path class="a179" d="M31.9 105.3l2.6 3.2-2-7-2.7-3.2z"/><path class="a110" d="M206.1 162.1l2.7-5.2-2 2.2-2.7 5.2z"/><path class="a46" d="M95 215.8l2.6 2.3-2-.9-2.7-2.3z"/><path class="a100" d="M55.4 171.2l2.7 3.5-2-4-2.7-3.4z"/><path class="a36" d="M144.3 223.7l2.7-.3-2 1.5-2.7 .3z"/><path class="a39" d="M151.7 221.2l2.6-.8-2 1.7-2.7 .8z"/><path class="a54" d="M171.6 208.9l2.7-2.2-2 2.1-2.7 2.2z"/><path class="a134" d="M214.7 141.9l2.7-6.1-2 1.9-2.7 6.2z"/><path class="a153" d="M37.3 127.4l2.6 3.5-2-6.1-2.6-3.4z"/><path class="a36" d="M115.7 224.3l2.6 1.4-2 .3-2.7-1.4z"/><path class="a76" d="M68.2 190.8l2.6 3.2-2-2.8-2.6-3.2z"/><path class="a37" d="M111 223.1l2.6 1.5-2 .1-2.6-1.6z"/><path class="a117" d="M208.8 156.9l2.6-5.5-2 2.2-2.6 5.5z"/><path class="a96" d="M57.5 174.9l2.6 3.4-2-3.6-2.7-3.5z"/><path class="a35" d="M137 225.1l2.7 .2-2.1 1.2-2.6-.1z"/><path class="a35" d="M120.3 225.1l2.7 1.1-2 .6-2.7-1.1z"/><path class="a57" d="M83.6 207.2l2.6 2.7-2-1.5-2.6-2.8z"/><path class="a44" d="M159 217.4l2.6-1.2-2 1.9-2.6 1.3z"/><path class="a40" d="M106.3 221.3l2.7 1.8-2-.2-2.7-1.7z"/><path class="a161" d="M35.3 121.4l2.6 3.4-2-6.3-2.7-3.4z"/><path class="a189" d="M29.8 98.3l2.7 3.2-2-7.2-2.7-3.2z"/><path class="a65" d="M76.9 200.8l2.7 3-2.1-2-2.6-3z"/><path class="a156" d="M220.7 124.7l2.6-6.9-2 1.7-2.6 6.8z"/><path class="a52" d="M169 210.8l2.6-1.9-2 2.1-2.6 2z"/><path class="a51" d="M90.3 212.4l2.6 2.5-2-1.1-2.6-2.5z"/><path class="a35" d="M125 225.5l2.7 .8-2.1 .8-2.6-.9z"/><path class="a82" d="M192.2 186.2l2.7-3.8-2 2.4-2.7 3.8z"/><path class="a78" d="M189.6 189.8l2.6-3.6-2 2.4-2.6 3.6z"/><path class="a87" d="M194.9 182.4l2.6-4.1-2 2.4-2.6 4.1z"/><path class="a92" d="M59.5 178.4l2.6 3.4-2-3.5-2.6-3.4z"/><path class="a74" d="M186.9 193.2l2.7-3.4-2 2.4-2.7 3.4z"/><path class="a43" d="M101.6 219.1l2.7 2.1-2-.5-2.7-2z"/><path class="a92" d="M197.5 178.3l2.7-4.3-2 2.4-2.7 4.3z"/><path class="a143" d="M217.4 135.8l2.6-6.4-2 1.9-2.6 6.4z"/><path class="a124" d="M211.4 151.4l2.7-5.7-2 2.2-2.7 5.7z"/><path class="a169" d="M33.2 115.1l2.7 3.4-2-6.5-2.7-3.4z"/><path class="a70" d="M184.3 196.3l2.6-3.1-2 2.4-2.7 3.1z"/><path class="a75" d="M70.2 193.3l2.7 3.2-2.1-2.5-2.6-3.2z"/><path class="a40" d="M149 221.7l2.7-.5-2.1 1.7-2.6 .5z"/><path class="a97" d="M200.2 174l2.6-4.5-2 2.4-2.6 4.5z"/><path class="a36" d="M129.7 225.3l2.6 .7-2 1-2.6-.7z"/><path class="a38" d="M141.7 223.8l2.6-.1-2 1.5-2.6 .1z"/><path class="a67" d="M181.6 199.2l2.7-2.9-2.1 2.4-2.6 2.9z"/><path class="a51" d="M166.3 212.5l2.7-1.7-2 2.2-2.7 1.7z"/><path class="a44" d="M156.3 218.5l2.7-1.1-2 2-2.7 1z"/><path class="a47" d="M97 216.4l2.6 2.3-2-.6-2.6-2.3z"/><path class="a89" d="M61.5 181.6l2.7 3.4-2.1-3.2-2.6-3.4z"/><path class="a103" d="M202.8 169.5l2.7-4.8-2 2.4-2.7 4.8z"/><path class="a64" d="M78.9 202.7l2.7 2.9-2-1.8-2.7-3z"/><path class="a178" d="M31.2 108.6l2.7 3.4-2-6.7-2.7-3.4z"/><path class="a64" d="M179 201.9l2.6-2.7-2 2.4-2.7 2.7z"/><path class="a57" d="M85.6 208.6l2.7 2.7-2.1-1.4-2.6-2.7z"/><path class="a132" d="M214.1 145.7l2.7-5.9-2.1 2.1-2.6 6z"/><path class="a127" d="M44.7 150.4l2.7 3.7-2-4.9-2.7-3.6z"/><path class="a133" d="M42.7 145.6l2.7 3.6-2.1-5.1-2.6-3.6z"/><path class="a37" d="M134.4 224.7l2.6 .4-2 1.3-2.7-.4z"/><path class="a122" d="M46.7 155.1l2.7 3.6-2-4.6-2.7-3.7z"/><path class="a109" d="M205.5 164.7l2.7-5-2.1 2.4-2.6 5z"/><path class="a140" d="M40.7 140.5l2.6 3.6-2-5.3-2.6-3.7z"/><path class="a152" d="M220 129.4l2.7-6.7-2 2-2.7 6.6z"/><path class="a117" d="M48.8 159.5l2.6 3.6-2-4.4-2.7-3.6z"/><path class="a73" d="M72.2 195.6l2.7 3.2-2-2.3-2.7-3.2z"/><path class="a86" d="M63.5 184.6l2.7 3.4-2-3-2.7-3.4z"/><path class="a146" d="M38.7 135.1l2.6 3.7-2-5.6-2.7-3.6z"/><path class="a62" d="M176.3 204.3l2.7-2.4-2.1 2.4-2.6 2.4z"/><path class="a50" d="M163.7 214l2.6-1.5-2 2.2-2.7 1.5z"/><path class="a52" d="M92.3 213.3l2.7 2.5-2.1-.9-2.6-2.5z"/><path class="a40" d="M113 222.8l2.7 1.5-2.1 .3-2.6-1.5z"/><path class="a39" d="M117.7 223.8l2.6 1.3-2 .6-2.6-1.4z"/><path class="a112" d="M50.8 163.6l2.6 3.7-2-4.2-2.6-3.6z"/><path class="a42" d="M108.3 221.3l2.7 1.8-2 0-2.7-1.8z"/><path class="a41" d="M146.4 222l2.6-.3-2 1.7-2.7 .3z"/><path class="a187" d="M29.2 101.9l2.7 3.4-2.1-7-2.6-3.4z"/><path class="a153" d="M36.6 129.6l2.7 3.6-2-5.8-2.7-3.6z"/><path class="a116" d="M208.2 159.7l2.6-5.2-2 2.4-2.7 5.2z"/><path class="a39" d="M122.4 224.4l2.6 1.1-2 .7-2.7-1.1z"/><path class="a45" d="M153.7 219.2l2.6-.7-2 1.9-2.6 .8z"/><path class="a45" d="M103.7 219.3l2.6 2-2-.1-2.7-2.1z"/><path class="a140" d="M216.8 139.8l2.6-6.2-2 2.2-2.7 6.1z"/><path class="a108" d="M52.8 167.5l2.6 3.7-2-3.9-2.6-3.7z"/><path class="a40" d="M139 223.7l2.7 .1-2 1.5-2.7-.2z"/><path class="a60" d="M173.6 206.5l2.7-2.2-2 2.4-2.7 2.2z"/><path class="a161" d="M34.6 123.8l2.7 3.6-2-6-2.7-3.7z"/><path class="a64" d="M80.9 204.2l2.7 3-2-1.6-2.7-2.9z"/><path class="a39" d="M127 224.5l2.7 .8-2 1-2.7-.8z"/><path class="a84" d="M65.5 187.3l2.7 3.5-2-2.8-2.7-3.4z"/><path class="a123" d="M210.8 154.5l2.7-5.5-2.1 2.4-2.6 5.5z"/><path class="a50" d="M161 215.3l2.7-1.3-2.1 2.2-2.6 1.2z"/><path class="a104" d="M54.8 171.2l2.7 3.7-2.1-3.7-2.6-3.7z"/><path class="a57" d="M87.6 209.7l2.7 2.7-2-1.1-2.7-2.7z"/><path class="a49" d="M99 216.9l2.6 2.2-2-.4-2.6-2.3z"/><path class="a72" d="M74.2 197.6l2.7 3.2-2-2-2.7-3.2z"/><path class="a162" d="M222.7 122.7l2.7-6.9-2.1 2-2.6 6.9z"/><path class="a196" d="M27.2 94.9l2.6 3.4-2-7.2-2.6-3.4z"/><path class="a169" d="M32.6 117.7l2.7 3.7-2.1-6.3-2.6-3.7z"/><path class="a59" d="M171 208.4l2.6-1.9-2 2.4-2.6 1.9z"/><path class="a40" d="M131.7 224.1l2.7 .6-2.1 1.3-2.6-.7z"/><path class="a89" d="M194.2 183.6l2.7-3.8-2 2.6-2.7 3.8z"/><path class="a85" d="M191.6 187.2l2.6-3.6-2 2.6-2.6 3.6z"/><path class="a93" d="M196.9 179.8l2.7-4.1-2.1 2.6-2.6 4.1z"/><path class="a149" d="M219.4 133.6l2.7-6.4-2.1 2.2-2.6 6.4z"/><path class="a100" d="M56.8 174.7l2.7 3.7-2-3.5-2.7-3.7z"/><path class="a81" d="M188.9 190.5l2.7-3.3-2 2.6-2.7 3.4z"/><path class="a46" d="M151 219.8l2.7-.6-2 2-2.7 .5z"/><path class="a131" d="M213.5 149l2.6-5.7-2 2.4-2.7 5.7z"/><path class="a43" d="M143.7 222.1l2.7-.1-2.1 1.7-2.6 .1z"/><path class="a99" d="M199.6 175.7l2.6-4.3-2 2.6-2.7 4.3z"/><path class="a53" d="M94.3 213.9l2.7 2.5-2-.6-2.7-2.5z"/><path class="a82" d="M67.6 189.9l2.6 3.4-2-2.5-2.7-3.5z"/><path class="a177" d="M30.6 111.4l2.6 3.7-2-6.5-2.6-3.7z"/><path class="a77" d="M186.3 193.7l2.6-3.2-2 2.7-2.6 3.1z"/><path class="a104" d="M202.2 171.4l2.7-4.5-2.1 2.6-2.6 4.5z"/><path class="a50" d="M158.4 216.3l2.6-1-2 2.1-2.7 1.1z"/><path class="a58" d="M168.3 210.1l2.7-1.7-2 2.4-2.7 1.7z"/><path class="a74" d="M183.6 196.6l2.7-2.9-2 2.6-2.7 2.9z"/><path class="a64" d="M83 205.6l2.6 3-2-1.4-2.7-3z"/><path class="a97" d="M58.8 177.9l2.7 3.7-2-3.2-2.7-3.7z"/><path class="a44" d="M115 222.3l2.7 1.5-2 .5-2.7-1.5z"/><path class="a42" d="M136.4 223.3l2.6 .4-2 1.4-2.6-.4z"/><path class="a71" d="M76.3 199.5l2.6 3.2-2-1.9-2.7-3.2z"/><path class="a45" d="M110.4 221l2.6 1.8-2 .3-2.7-1.8z"/><path class="a110" d="M204.9 166.9l2.6-4.8-2 2.6-2.7 4.8z"/><path class="a43" d="M119.7 223.1l2.7 1.3-2.1 .7-2.6-1.3z"/><path class="a186" d="M28.6 104.9l2.6 3.7-2-6.7-2.7-3.7z"/><path class="a48" d="M105.7 219.2l2.6 2.1-2 0-2.6-2z"/><path class="a139" d="M216.1 143.3l2.7-5.9-2 2.4-2.7 5.9z"/><path class="a71" d="M181 199.2l2.6-2.6-2 2.6-2.6 2.7z"/><path class="a58" d="M89.6 210.6l2.7 2.7-2-.9-2.7-2.7z"/><path class="a158" d="M222.1 127.2l2.6-6.6-2 2.1-2.7 6.7z"/><path class="a43" d="M124.4 223.4l2.6 1.1-2 1-2.6-1.1z"/><path class="a136" d="M42.1 146.5l2.6 3.9-2-4.8-2.7-3.9z"/><path class="a142" d="M40 141.7l2.7 3.9-2-5.1-2.7-3.9z"/><path class="a81" d="M69.6 192.2l2.6 3.4-2-2.3-2.6-3.4z"/><path class="a116" d="M207.5 162.1l2.7-5-2 2.6-2.7 5z"/><path class="a130" d="M44.1 151.2l2.6 3.9-2-4.7-2.6-3.9z"/><path class="a148" d="M38 136.6l2.7 3.9-2-5.4-2.7-3.9z"/><path class="a51" d="M101 217l2.7 2.3-2.1-.2-2.6-2.2z"/><path class="a57" d="M165.7 211.6l2.6-1.5-2 2.4-2.6 1.5z"/><path class="a95" d="M60.9 180.9l2.6 3.7-2-3-2.7-3.7z"/><path class="a125" d="M46.1 155.5l2.7 4-2.1-4.4-2.6-3.9z"/><path class="a47" d="M148.4 220.1l2.6-.3-2 1.9-2.6 .3z"/><path class="a69" d="M178.3 201.6l2.7-2.4-2 2.7-2.7 2.4z"/><path class="a155" d="M36 131.2l2.7 3.9-2.1-5.5-2.6-4z"/><path class="a51" d="M155.7 217.1l2.7-.8-2.1 2.2-2.6 .7z"/><path class="a195" d="M26.5 98.2l2.7 3.7-2-7-2.7-3.7z"/><path class="a121" d="M48.1 159.7l2.7 3.9-2-4.1-2.7-4z"/><path class="a45" d="M141.1 222l2.6 .1-2 1.7-2.7-.1z"/><path class="a44" d="M129.1 223.3l2.6 .8-2 1.2-2.7-.8z"/><path class="a123" d="M210.2 157.1l2.6-5.2-2 2.6-2.6 5.2z"/><path class="a162" d="M34 125.6l2.6 4-2-5.8-2.6-4z"/><path class="a147" d="M218.8 137.4l2.6-6.2-2 2.4-2.6 6.2z"/><path class="a55" d="M96.3 214.4l2.7 2.5-2-.5-2.7-2.5z"/><path class="a71" d="M78.3 201l2.6 3.2-2-1.5-2.6-3.2z"/><path class="a116" d="M50.1 163.6l2.7 3.9-2-3.9-2.7-3.9z"/><path class="a67" d="M175.7 203.8l2.6-2.2-2 2.7-2.7 2.2z"/><path class="a64" d="M85 206.7l2.6 3-2-1.1-2.6-3z"/><path class="a169" d="M32 119.8l2.6 4-2-6.1-2.7-3.9z"/><path class="a92" d="M62.9 183.7l2.6 3.6-2-2.7-2.6-3.7z"/><path class="a168" d="M224.7 120.6l2.7-6.9-2 2.1-2.7 6.9z"/><path class="a80" d="M71.6 194.2l2.6 3.4-2-2-2.6-3.4z"/><path class="a57" d="M163 212.9l2.7-1.3-2 2.4-2.7 1.3z"/><path class="a45" d="M133.7 222.6l2.7 .7-2 1.4-2.7-.6z"/><path class="a130" d="M212.8 151.9l2.7-5.5-2 2.6-2.7 5.5z"/><path class="a112" d="M52.2 167.3l2.6 3.9-2-3.7-2.7-3.9z"/><path class="a204" d="M24.5 91.2l2.7 3.7-2-7.2-2.7-3.7z"/><path class="a177" d="M29.9 113.8l2.7 3.9-2-6.3-2.7-3.9z"/><path class="a66" d="M173 205.8l2.7-2-2.1 2.7-2.6 1.9z"/><path class="a60" d="M91.7 211.2l2.6 2.7-2-.6-2.7-2.7z"/><path class="a48" d="M112.4 220.5l2.6 1.8-2 .5-2.6-1.8z"/><path class="a49" d="M145.7 220.2l2.7-.1-2 1.9-2.7 .1z"/><path class="a52" d="M153.1 217.6l2.6-.5-2 2.1-2.7 .6z"/><path class="a156" d="M221.4 131.2l2.7-6.4-2 2.4-2.7 6.4z"/><path class="a47" d="M117.1 221.5l2.6 1.6-2 .7-2.7-1.5z"/><path class="a50" d="M107.7 219l2.7 2-2.1 .3-2.6-2.1z"/><path class="a96" d="M196.3 180.7l2.6-3.8-2 2.9-2.7 3.8z"/><path class="a92" d="M193.6 184.3l2.7-3.6-2.1 2.9-2.6 3.6z"/><path class="a109" d="M54.2 170.8l2.6 3.9-2-3.5-2.6-3.9z"/><path class="a101" d="M198.9 176.9l2.7-4.1-2 2.9-2.7 4.1z"/><path class="a138" d="M215.5 146.4l2.6-5.7-2 2.6-2.6 5.7z"/><path class="a90" d="M64.9 186.2l2.7 3.7-2.1-2.6-2.6-3.6z"/><path class="a47" d="M121.7 222.1l2.7 1.3-2 1-2.7-1.3z"/><path class="a88" d="M191 187.7l2.6-3.4-2 2.9-2.7 3.3z"/><path class="a186" d="M27.9 107.5l2.7 3.9-2-6.5-2.7-3.9z"/><path class="a106" d="M201.6 172.8l2.6-4.3-2 2.9-2.6 4.3z"/><path class="a48" d="M138.4 221.6l2.7 .4-2.1 1.7-2.6-.4z"/><path class="a53" d="M103 217l2.7 2.2-2 .1-2.7-2.3z"/><path class="a84" d="M188.3 190.8l2.7-3.1-2.1 2.8-2.6 3.2z"/><path class="a71" d="M80.3 202.4l2.7 3.2-2.1-1.4-2.6-3.2z"/><path class="a57" d="M160.4 213.9l2.6-1-2 2.4-2.6 1z"/><path class="a65" d="M170.4 207.5l2.6-1.7-2 2.6-2.7 1.7z"/><path class="a111" d="M204.2 168.5l2.7-4.5-2 2.9-2.7 4.5z"/><path class="a79" d="M73.6 196l2.7 3.5-2.1-1.9-2.6-3.4z"/><path class="a47" d="M126.4 222.2l2.7 1.1-2.1 1.2-2.6-1.1z"/><path class="a81" d="M185.6 193.7l2.7-2.9-2 2.9-2.7 2.9z"/><path class="a106" d="M56.2 174l2.6 3.9-2-3.2-2.6-3.9z"/><path class="a65" d="M87 207.6l2.6 3-2-.9-2.6-3z"/><path class="a57" d="M98.4 214.5l2.6 2.5-2-.1-2.7-2.5z"/><path class="a117" d="M206.9 164l2.6-4.8-2 2.9-2.6 4.8z"/><path class="a194" d="M25.9 101l2.7 3.9-2.1-6.7-2.6-3.9z"/><path class="a146" d="M218.1 140.7l2.7-6-2 2.7-2.7 5.9z"/><path class="a165" d="M224.1 124.8l2.6-6.6-2 2.4-2.6 6.6z"/><path class="a79" d="M183 196.4l2.6-2.7-2 2.9-2.6 2.6z"/><path class="a89" d="M66.9 188.5l2.7 3.7-2-2.3-2.7-3.7z"/><path class="a48" d="M131.1 221.8l2.6 .8-2 1.5-2.6-.8z"/><path class="a53" d="M150.4 217.9l2.7-.3-2.1 2.2-2.6 .3z"/><path class="a145" d="M39.4 142.4l2.7 4.1-2.1-4.8-2.6-4.2z"/><path class="a151" d="M37.4 137.5l2.6 4.2-2-5.1-2.6-4.2z"/><path class="a124" d="M209.5 159.2l2.7-5-2 2.9-2.7 5z"/><path class="a139" d="M41.4 147l2.7 4.2-2-4.7-2.7-4.1z"/><path class="a64" d="M167.7 209l2.7-1.5-2.1 2.6-2.6 1.5z"/><path class="a51" d="M143.1 220l2.6 .2-2 1.9-2.6-.1z"/><path class="a157" d="M35.4 132.4l2.6 4.2-2-5.4-2.6-4.1z"/><path class="a103" d="M58.2 177l2.7 3.9-2.1-3-2.6-3.9z"/><path class="a61" d="M93.7 211.6l2.6 2.8-2-.5-2.6-2.7z"/><path class="a134" d="M43.4 151.4l2.7 4.1-2-4.3-2.7-4.2z"/><path class="a57" d="M157.7 214.7l2.7-.8-2 2.4-2.7 .8z"/><path class="a76" d="M180.3 198.8l2.7-2.4-2 2.8-2.7 2.4z"/><path class="a164" d="M33.4 127.1l2.6 4.1-2-5.6-2.7-4.1z"/><path class="a203" d="M23.9 94.3l2.6 3.9-2-7-2.6-3.9z"/><path class="a130" d="M45.5 155.6l2.6 4.1-2-4.2-2.7-4.1z"/><path class="a79" d="M75.6 197.6l2.7 3.4-2-1.5-2.7-3.5z"/><path class="a130" d="M212.2 154.2l2.6-5.2-2 2.9-2.6 5.2z"/><path class="a72" d="M82.3 203.5l2.7 3.2-2-1.1-2.7-3.2z"/><path class="a154" d="M220.8 134.7l2.6-6.1-2 2.6-2.6 6.2z"/><path class="a171" d="M31.3 121.5l2.7 4.1-2-5.8-2.7-4.1z"/><path class="a50" d="M135.7 221l2.7 .6-2 1.7-2.7-.7z"/><path class="a52" d="M114.4 219.7l2.7 1.8-2.1 .8-2.6-1.8z"/><path class="a54" d="M109.7 218.4l2.7 2.1-2 .5-2.7-2z"/><path class="a75" d="M177.7 201l2.6-2.2-2 2.8-2.6 2.2z"/><path class="a125" d="M47.5 159.5l2.6 4.1-2-3.9-2.6-4.1z"/><path class="a174" d="M226.7 118.2l2.7-6.9-2 2.4-2.7 6.9z"/><path class="a51" d="M119.1 220.5l2.6 1.6-2 1-2.6-1.6z"/><path class="a101" d="M60.2 179.8l2.7 3.9-2-2.8-2.7-3.9z"/><path class="a88" d="M68.9 190.5l2.7 3.7-2-2-2.7-3.7z"/><path class="a178" d="M29.3 115.7l2.7 4.1-2.1-6-2.6-4.1z"/><path class="a64" d="M165.1 210.2l2.6-1.2-2 2.6-2.7 1.3z"/><path class="a56" d="M105.1 216.7l2.6 2.3-2 .2-2.7-2.2z"/><path class="a67" d="M89 208.2l2.7 3-2.1-.6-2.6-3z"/><path class="a137" d="M214.8 149l2.7-5.5-2 2.9-2.7 5.5z"/><path class="a213" d="M21.9 87.3l2.6 3.9-2-7.2-2.6-3.9z"/><path class="a51" d="M123.7 220.8l2.7 1.4-2 1.2-2.7-1.3z"/><path class="a121" d="M49.5 163.2l2.7 4.1-2.1-3.7-2.6-4.1z"/><path class="a55" d="M147.7 218l2.7-.1-2 2.2-2.7 .1z"/><path class="a59" d="M100.4 214.5l2.6 2.5-2 0-2.6-2.5z"/><path class="a186" d="M27.3 109.7l2.6 4.1-2-6.3-2.6-4.1z"/><path class="a58" d="M155.1 215.2l2.6-.5-2 2.4-2.6 .5z"/><path class="a73" d="M175 202.9l2.7-1.9-2 2.8-2.7 2z"/><path class="a163" d="M223.4 128.6l2.7-6.4-2 2.6-2.7 6.4z"/><path class="a53" d="M140.4 219.6l2.7 .4-2 2-2.7-.4z"/><path class="a52" d="M128.4 220.7l2.7 1.1-2 1.5-2.7-1.1z"/><path class="a118" d="M51.5 166.7l2.7 4.1-2-3.5-2.7-4.1z"/><path class="a99" d="M62.2 182.3l2.7 3.9-2-2.5-2.7-3.9z"/><path class="a104" d="M198.3 177.6l2.6-3.8-2 3.1-2.6 3.8z"/><path class="a100" d="M195.6 181.2l2.7-3.6-2 3.1-2.7 3.6z"/><path class="a145" d="M217.5 143.5l2.7-5.7-2.1 2.9-2.6 5.7z"/><path class="a79" d="M77.6 199l2.7 3.4-2-1.4-2.7-3.4z"/><path class="a109" d="M200.9 173.8l2.7-4.1-2 3.1-2.7 4.1z"/><path class="a96" d="M193 184.6l2.6-3.4-2 3.1-2.6 3.4z"/><path class="a195" d="M25.3 103.4l2.6 4.1-2-6.5-2.6-4.1z"/><path class="a63" d="M95.7 211.8l2.7 2.7-2.1-.1-2.6-2.8z"/><path class="a64" d="M162.4 211.3l2.7-1.1-2.1 2.7-2.6 1z"/><path class="a114" d="M203.6 169.7l2.6-4.3-2 3.1-2.6 4.3z"/><path class="a73" d="M84.3 204.4l2.7 3.2-2-.9-2.7-3.2z"/><path class="a87" d="M71 192.4l2.6 3.6-2-1.8-2.7-3.7z"/><path class="a92" d="M190.3 187.7l2.7-3.1-2 3.1-2.7 3.1z"/><path class="a72" d="M172.4 204.6l2.6-1.7-2 2.9-2.6 1.7z"/><path class="a119" d="M206.2 165.4l2.7-4.5-2 3.1-2.7 4.5z"/><path class="a115" d="M53.5 169.9l2.7 4.1-2-3.2-2.7-4.1z"/><path class="a54" d="M133.1 220.1l2.6 .9-2 1.6-2.6-.8z"/><path class="a89" d="M187.7 190.6l2.6-2.9-2 3.1-2.7 2.9z"/><path class="a172" d="M226.1 122.2l2.7-6.7-2.1 2.7-2.6 6.6z"/><path class="a203" d="M23.3 96.9l2.6 4.1-2-6.7-2.7-4.2z"/><path class="a125" d="M208.9 160.9l2.7-4.8-2.1 3.1-2.6 4.8z"/><path class="a153" d="M220.2 137.8l2.6-5.9-2 2.8-2.7 6z"/><path class="a60" d="M152.4 215.5l2.7-.3-2 2.4-2.7 .3z"/><path class="a68" d="M91 208.7l2.7 2.9-2-.4-2.7-3z"/><path class="a97" d="M64.3 184.6l2.6 3.9-2-2.3-2.7-3.9z"/><path class="a57" d="M145.1 217.9l2.6 .1-2 2.2-2.6-.2z"/><path class="a86" d="M185 193.3l2.7-2.7-2.1 3.1-2.6 2.7z"/><path class="a58" d="M111.7 217.7l2.7 2-2 .8-2.7-2.1z"/><path class="a56" d="M116.4 218.7l2.7 1.8-2 1-2.7-1.8z"/><path class="a71" d="M169.7 206.1l2.7-1.5-2 2.9-2.7 1.5z"/><path class="a131" d="M211.6 156.1l2.6-5-2 3.1-2.7 5z"/><path class="a60" d="M107.1 216.2l2.6 2.2-2 .6-2.6-2.3z"/><path class="a112" d="M55.6 172.9l2.6 4.1-2-3-2.7-4.1z"/><path class="a64" d="M159.7 212l2.7-.7-2 2.6-2.7 .8z"/><path class="a56" d="M121.1 219.3l2.6 1.5-2 1.3-2.6-1.6z"/><path class="a79" d="M79.7 200.1l2.6 3.4-2-1.1-2.7-3.4z"/><path class="a56" d="M137.8 219l2.6 .6-2 2-2.7-.6z"/><path class="a84" d="M182.4 195.7l2.6-2.4-2 3.1-2.7 2.4z"/><path class="a87" d="M73 193.9l2.6 3.7-2-1.6-2.6-3.6z"/><path class="a212" d="M21.2 90.1l2.7 4.2-2-7-2.7-4.1z"/><path class="a62" d="M102.4 214.2l2.7 2.5-2.1 .3-2.6-2.5z"/><path class="a161" d="M222.8 131.9l2.7-6.2-2.1 2.9-2.6 6.1z"/><path class="a138" d="M214.2 151.1l2.7-5.2-2.1 3.1-2.6 5.2z"/><path class="a56" d="M125.8 219.4l2.6 1.3-2 1.5-2.7-1.4z"/><path class="a74" d="M86.4 205l2.6 3.2-2-.6-2.7-3.2z"/><path class="a181" d="M228.8 115.5l2.6-6.9-2 2.7-2.7 6.9z"/><path class="a96" d="M66.3 186.6l2.6 3.9-2-2-2.6-3.9z"/><path class="a82" d="M179.7 197.9l2.7-2.2-2.1 3.1-2.6 2.2z"/><path class="a66" d="M97.7 211.7l2.7 2.8-2 0-2.7-2.7z"/><path class="a110" d="M57.6 175.6l2.6 4.2-2-2.8-2.6-4.1z"/><path class="a71" d="M167.1 207.4l2.6-1.3-2 2.9-2.6 1.2z"/><path class="a61" d="M149.8 215.6l2.6-.1-2 2.4-2.7 .1z"/><path class="a222" d="M19.2 83.2l2.7 4.1-2-7.2-2.7-4.1z"/><path class="a145" d="M216.9 145.9l2.6-5.5-2 3.1-2.7 5.5z"/><path class="a58" d="M130.4 219l2.7 1.1-2 1.7-2.7-1.1z"/><path class="a65" d="M157.1 212.6l2.6-.6-2 2.7-2.6 .5z"/><path class="a59" d="M142.4 217.5l2.7 .4-2 2.1-2.7-.4z"/><path class="a170" d="M225.5 125.7l2.6-6.4-2 2.9-2.7 6.4z"/><path class="a81" d="M177.1 199.8l2.6-1.9-2 3.1-2.7 1.9z"/><path class="a70" d="M93.1 208.8l2.6 3-2-.2-2.7-2.9z"/><path class="a87" d="M75 195.3l2.6 3.7-2-1.4-2.6-3.7z"/><path class="a108" d="M59.6 178.2l2.6 4.1-2-2.5-2.6-4.2z"/><path class="a80" d="M81.7 201l2.6 3.4-2-.9-2.6-3.4z"/><path class="a153" d="M219.5 140.4l2.7-5.7-2 3.1-2.7 5.7z"/><path class="a112" d="M200.3 174.3l2.7-3.8-2.1 3.3-2.6 3.8z"/><path class="a71" d="M164.4 208.4l2.7-1-2 2.8-2.7 1.1z"/><path class="a108" d="M197.6 177.9l2.7-3.6-2 3.3-2.7 3.6z"/><path class="a96" d="M68.3 188.5l2.7 3.9-2.1-1.9-2.6-3.9z"/><path class="a60" d="M135.1 218.2l2.7 .8-2.1 2-2.6-.9z"/><path class="a117" d="M203 170.5l2.6-4.1-2 3.3-2.7 4.1z"/><path class="a104" d="M195 181.2l2.6-3.3-2 3.3-2.6 3.4z"/><path class="a62" d="M113.8 216.7l2.6 2-2 1-2.7-2z"/><path class="a122" d="M205.6 166.4l2.7-4.3-2.1 3.3-2.6 4.3z"/><path class="a63" d="M109.1 215.4l2.6 2.3-2 .7-2.6-2.2z"/><path class="a80" d="M174.4 201.5l2.7-1.7-2.1 3.1-2.6 1.7z"/><path class="a100" d="M192.3 184.4l2.7-3.2-2 3.4-2.7 3.1z"/><path class="a61" d="M118.4 217.5l2.7 1.8-2 1.2-2.7-1.8z"/><path class="a76" d="M88.4 205.5l2.6 3.2-2-.5-2.6-3.2z"/><path class="a66" d="M104.4 213.7l2.7 2.5-2 .5-2.7-2.5z"/><path class="a127" d="M208.3 162.1l2.6-4.5-2 3.3-2.7 4.5z"/><path class="a179" d="M228.1 119.3l2.7-6.6-2 2.8-2.7 6.7z"/><path class="a63" d="M147.1 215.5l2.7 .1-2.1 2.4-2.6-.1z"/><path class="a97" d="M189.7 187.3l2.6-2.9-2 3.3-2.6 2.9z"/><path class="a67" d="M154.4 212.9l2.7-.3-2 2.6-2.7 .3z"/><path class="a61" d="M123.1 217.8l2.7 1.6-2.1 1.4-2.6-1.5z"/><path class="a161" d="M222.2 134.7l2.6-5.9-2 3.1-2.6 5.9z"/><path class="a106" d="M61.6 180.4l2.7 4.2-2.1-2.3-2.6-4.1z"/><path class="a133" d="M210.9 157.6l2.7-4.8-2 3.3-2.7 4.8z"/><path class="a69" d="M99.7 211.5l2.7 2.7-2 .3-2.7-2.8z"/><path class="a95" d="M187 189.9l2.7-2.6-2 3.3-2.7 2.7z"/><path class="a62" d="M139.8 216.9l2.6 .6-2 2.1-2.6-.6z"/><path class="a72" d="M161.8 209.2l2.6-.8-2 2.9-2.7 .7z"/><path class="a79" d="M171.7 203l2.7-1.5-2 3.1-2.7 1.5z"/><path class="a88" d="M77 196.4l2.7 3.7-2.1-1.1-2.6-3.7z"/><path class="a62" d="M127.8 217.7l2.6 1.3-2 1.7-2.6-1.3z"/><path class="a140" d="M213.6 152.8l2.6-5-2 3.3-2.6 5z"/><path class="a95" d="M70.3 190l2.7 3.9-2-1.5-2.7-3.9z"/><path class="a82" d="M83.7 201.6l2.7 3.4-2.1-.6-2.6-3.4z"/><path class="a73" d="M95.1 208.8l2.6 2.9-2 .1-2.6-3z"/><path class="a92" d="M184.4 192.3l2.6-2.4-2 3.4-2.6 2.4z"/><path class="a169" d="M224.8 128.8l2.7-6.2-2 3.1-2.7 6.2z"/><path class="a189" d="M230.8 112.7l2.6-6.9-2 2.8-2.6 6.9z"/><path class="a146" d="M216.2 147.8l2.7-5.2-2 3.3-2.7 5.2z"/><path class="a105" d="M63.6 182.5l2.7 4.1-2-2-2.7-4.2z"/><path class="a63" d="M132.5 217.1l2.6 1.1-2 1.9-2.7-1.1z"/><path class="a68" d="M151.8 213l2.6-.1-2 2.6-2.6 .1z"/><path class="a90" d="M181.7 194.5l2.7-2.2-2 3.4-2.7 2.2z"/><path class="a79" d="M169.1 204.3l2.6-1.3-2 3.1-2.6 1.3z"/><path class="a66" d="M144.5 215.1l2.6 .4-2 2.4-2.7-.4z"/><path class="a78" d="M90.4 205.6l2.7 3.2-2.1-.1-2.6-3.2z"/><path class="a73" d="M159.1 209.7l2.7-.5-2.1 2.8-2.6 .6z"/><path class="a153" d="M218.9 142.6l2.6-5.5-2 3.3-2.6 5.5z"/><path class="a67" d="M111.1 214.4l2.7 2.3-2.1 1-2.6-2.3z"/><path class="a66" d="M115.8 215.4l2.6 2.1-2 1.2-2.6-2z"/><path class="a178" d="M227.5 122.6l2.6-6.4-2 3.1-2.6 6.4z"/><path class="a96" d="M72.3 191.4l2.7 3.9-2-1.4-2.7-3.9z"/><path class="a69" d="M106.4 212.9l2.7 2.5-2 .8-2.7-2.5z"/><path class="a88" d="M79 197.3l2.7 3.7-2-.9-2.7-3.7z"/><path class="a89" d="M179.1 196.5l2.6-2-2 3.4-2.6 1.9z"/><path class="a66" d="M137.1 216l2.7 .9-2 2.1-2.7-.8z"/><path class="a66" d="M120.5 216l2.6 1.8-2 1.5-2.7-1.8z"/><path class="a72" d="M101.8 210.9l2.6 2.8-2 .5-2.7-2.7z"/><path class="a105" d="M65.6 184.3l2.7 4.2-2-1.9-2.7-4.1z"/><path class="a79" d="M166.4 205.3l2.7-1-2 3.1-2.7 1z"/><path class="a161" d="M221.5 137.1l2.7-5.7-2 3.3-2.7 5.7z"/><path class="a83" d="M85.7 202l2.7 3.5-2-.5-2.7-3.4z"/><path class="a66" d="M125.1 216.1l2.7 1.6-2 1.7-2.7-1.6z"/><path class="a121" d="M202.3 170.7l2.7-3.8-2 3.6-2.7 3.8z"/><path class="a116" d="M199.7 174.3l2.6-3.6-2 3.6-2.7 3.6z"/><path class="a125" d="M205 166.9l2.6-4.1-2 3.6-2.6 4.1z"/><path class="a112" d="M197 177.7l2.7-3.4-2.1 3.6-2.6 3.3z"/><path class="a76" d="M97.1 208.5l2.6 3-2 .2-2.6-2.9z"/><path class="a88" d="M176.4 198.2l2.7-1.7-2 3.3-2.7 1.7z"/><path class="a130" d="M207.6 162.8l2.7-4.3-2 3.6-2.7 4.3z"/><path class="a70" d="M149.1 212.8l2.7 .2-2 2.6-2.7-.1z"/><path class="a109" d="M194.4 180.8l2.6-3.1-2 3.5-2.7 3.2z"/><path class="a74" d="M156.5 210l2.6-.3-2 2.9-2.7 .3z"/><path class="a187" d="M230.1 116.2l2.7-6.6-2 3.1-2.7 6.6z"/><path class="a136" d="M210.3 158.5l2.6-4.5-2 3.6-2.6 4.5z"/><path class="a69" d="M141.8 214.5l2.7 .6-2.1 2.4-2.6-.6z"/><path class="a67" d="M129.8 215.7l2.7 1.4-2.1 1.9-2.6-1.3z"/><path class="a106" d="M191.7 183.7l2.7-2.9-2.1 3.6-2.6 2.9z"/><path class="a169" d="M224.2 131.4l2.6-6-2 3.4-2.6 5.9z"/><path class="a96" d="M74.4 192.5l2.6 3.9-2-1.1-2.7-3.9z"/><path class="a142" d="M212.9 154l2.7-4.8-2 3.6-2.7 4.8z"/><path class="a80" d="M92.4 205.6l2.7 3.2-2 0-2.7-3.2z"/><path class="a79" d="M163.8 206.1l2.6-.8-2 3.1-2.6 .8z"/><path class="a103" d="M189.1 186.3l2.6-2.6-2 3.6-2.7 2.6z"/><path class="a90" d="M81.1 197.9l2.6 3.7-2-.6-2.7-3.7z"/><path class="a87" d="M173.8 199.7l2.6-1.5-2 3.3-2.7 1.5z"/><path class="a104" d="M67.7 185.9l2.6 4.1-2-1.5-2.7-4.2z"/><path class="a148" d="M215.6 149.2l2.6-5-2 3.6-2.6 5z"/><path class="a69" d="M134.5 214.9l2.6 1.1-2 2.2-2.6-1.1z"/><path class="a101" d="M186.4 188.8l2.7-2.5-2.1 3.6-2.6 2.4z"/><path class="a177" d="M226.8 125.4l2.7-6.1-2 3.3-2.7 6.2z"/><path class="a196" d="M232.8 109.6l2.6-6.9-2 3.1-2.6 6.9z"/><path class="a72" d="M113.1 213.2l2.7 2.2-2 1.3-2.7-2.3z"/><path class="a74" d="M108.5 211.9l2.6 2.5-2 1-2.7-2.5z"/><path class="a85" d="M87.7 202.2l2.7 3.4-2-.1-2.7-3.5z"/><path class="a76" d="M153.8 210.1l2.7-.1-2.1 2.9-2.6 .1z"/><path class="a71" d="M117.8 214l2.7 2-2.1 1.5-2.6-2.1z"/><path class="a155" d="M218.2 144.2l2.7-5.2-2 3.6-2.7 5.2z"/><path class="a73" d="M146.5 212.4l2.6 .4-2 2.7-2.6-.4z"/><path class="a76" d="M103.8 210.2l2.6 2.7-2 .8-2.6-2.8z"/><path class="a87" d="M171.1 200.9l2.7-1.2-2.1 3.3-2.6 1.3z"/><path class="a99" d="M183.7 191l2.7-2.2-2 3.5-2.7 2.2z"/><path class="a71" d="M122.5 214.3l2.6 1.8-2 1.7-2.6-1.8z"/><path class="a80" d="M161.1 206.6l2.7-.5-2 3.1-2.7 .5z"/><path class="a79" d="M99.1 208l2.7 2.9-2.1 .6-2.6-3z"/><path class="a72" d="M139.1 213.6l2.7 .9-2 2.4-2.7-.9z"/><path class="a97" d="M76.4 193.4l2.6 3.9-2-.9-2.6-3.9z"/><path class="a162" d="M220.9 139l2.7-5.5-2.1 3.6-2.6 5.5z"/><path class="a104" d="M69.7 187.2l2.6 4.2-2-1.4-2.6-4.1z"/><path class="a186" d="M229.5 119.3l2.7-6.4-2.1 3.3-2.6 6.4z"/><path class="a72" d="M127.1 214.2l2.7 1.5-2 2-2.7-1.6z"/><path class="a97" d="M181.1 192.9l2.6-1.9-2 3.5-2.6 2z"/><path class="a91" d="M83.1 198.4l2.6 3.6-2-.4-2.6-3.7z"/><path class="a83" d="M94.4 205.3l2.7 3.2-2 .3-2.7-3.2z"/><path class="a87" d="M168.5 202l2.6-1.1-2 3.4-2.7 1z"/><path class="a169" d="M223.6 133.5l2.6-5.7-2 3.6-2.7 5.7z"/><path class="a78" d="M151.1 210l2.7 .1-2 2.9-2.7-.2z"/><path class="a74" d="M131.8 213.6l2.7 1.3-2 2.2-2.7-1.4z"/><path class="a130" d="M204.3 166.9l2.7-3.8-2 3.8-2.7 3.8z"/><path class="a125" d="M201.7 170.5l2.6-3.6-2 3.8-2.6 3.6z"/><path class="a134" d="M207 163.1l2.6-4.1-2 3.8-2.6 4.1z"/><path class="a82" d="M158.5 206.9l2.6-.3-2 3.1-2.6 .3z"/><path class="a76" d="M143.8 211.8l2.7 .6-2 2.7-2.7-.6z"/><path class="a96" d="M178.4 194.6l2.7-1.7-2 3.6-2.7 1.7z"/><path class="a121" d="M199 173.9l2.7-3.4-2 3.8-2.7 3.4z"/><path class="a139" d="M209.6 159l2.7-4.3-2 3.8-2.7 4.3z"/><path class="a195" d="M232.2 112.9l2.6-6.7-2 3.4-2.7 6.6z"/><path class="a88" d="M89.8 202.1l2.6 3.5-2 0-2.7-3.4z"/><path class="a118" d="M196.4 177l2.6-3.1-2 3.8-2.6 3.1z"/><path class="a145" d="M212.3 154.7l2.7-4.5-2.1 3.8-2.6 4.5z"/><path class="a105" d="M71.7 188.4l2.7 4.1-2.1-1.1-2.6-4.2z"/><path class="a177" d="M226.2 127.8l2.7-5.9-2.1 3.5-2.6 6z"/><path class="a98" d="M78.4 194l2.7 3.9-2.1-.6-2.6-3.9z"/><path class="a115" d="M193.7 179.9l2.7-2.9-2 3.8-2.7 2.9z"/><path class="a78" d="M110.5 210.7l2.6 2.5-2 1.2-2.6-2.5z"/><path class="a77" d="M115.1 211.7l2.7 2.3-2 1.4-2.7-2.2z"/><path class="a88" d="M165.8 202.7l2.7-.7-2.1 3.3-2.6 .8z"/><path class="a80" d="M105.8 209.2l2.7 2.7-2.1 1-2.6-2.7z"/><path class="a76" d="M136.5 212.5l2.6 1.1-2 2.4-2.6-1.1z"/><path class="a151" d="M215 150.2l2.6-4.8-2 3.8-2.7 4.8z"/><path class="a76" d="M119.8 212.3l2.7 2-2 1.7-2.7-2z"/><path class="a96" d="M175.8 196.1l2.6-1.5-2 3.6-2.6 1.5z"/><path class="a112" d="M191.1 182.5l2.6-2.6-2 3.8-2.6 2.6z"/><path class="a83" d="M101.1 207.2l2.7 3-2 .7-2.7-2.9z"/><path class="a94" d="M85.1 198.5l2.6 3.7-2-.2-2.6-3.6z"/><path class="a157" d="M217.6 145.4l2.7-5-2.1 3.8-2.6 5z"/><path class="a77" d="M124.5 212.4l2.6 1.8-2 1.9-2.6-1.8z"/><path class="a204" d="M234.8 106.2l2.7-6.9-2.1 3.4-2.6 6.9z"/><path class="a80" d="M148.5 209.6l2.6 .4-2 2.8-2.6-.4z"/><path class="a186" d="M228.9 121.9l2.6-6.2-2 3.6-2.7 6.1z"/><path class="a83" d="M155.8 207l2.7-.1-2 3.1-2.7 .1z"/><path class="a110" d="M188.4 185l2.7-2.5-2 3.8-2.7 2.5z"/><path class="a87" d="M96.5 204.8l2.6 3.2-2 .5-2.7-3.2z"/><path class="a164" d="M220.3 140.4l2.6-5.2-2 3.8-2.7 5.2z"/><path class="a79" d="M141.2 211l2.6 .8-2 2.7-2.7-.9z"/><path class="a95" d="M173.1 197.4l2.7-1.3-2 3.6-2.7 1.2z"/><path class="a78" d="M129.2 212l2.6 1.6-2 2.1-2.7-1.5z"/><path class="a88" d="M163.1 203.3l2.7-.6-2 3.4-2.7 .5z"/><path class="a106" d="M73.7 189.2l2.7 4.2-2-.9-2.7-4.1z"/><path class="a108" d="M185.8 187.2l2.6-2.2-2 3.8-2.7 2.2z"/><path class="a91" d="M91.8 201.9l2.6 3.4-2 .3-2.6-3.5z"/><path class="a100" d="M80.4 194.4l2.7 4-2-.5-2.7-3.9z"/><path class="a171" d="M222.9 135.2l2.7-5.5-2 3.8-2.7 5.5z"/><path class="a194" d="M231.5 115.7l2.7-6.4-2 3.6-2.7 6.4z"/><path class="a106" d="M183.1 189.1l2.7-1.9-2.1 3.8-2.6 1.9z"/><path class="a80" d="M133.8 211.2l2.7 1.3-2 2.4-2.7-1.3z"/><path class="a96" d="M170.5 198.4l2.6-1-2 3.5-2.6 1.1z"/><path class="a85" d="M153.2 206.9l2.6 .1-2 3.1-2.7-.1z"/><path class="a83" d="M112.5 209.2l2.6 2.5-2 1.5-2.6-2.5z"/><path class="a83" d="M145.8 209l2.7 .6-2 2.8-2.7-.6z"/><path class="a96" d="M87.1 198.5l2.7 3.6-2.1 .1-2.6-3.7z"/><path class="a178" d="M225.6 129.7l2.6-5.7-2 3.8-2.6 5.7z"/><path class="a85" d="M107.8 208l2.7 2.7-2 1.2-2.7-2.7z"/><path class="a82" d="M117.2 210l2.6 2.3-2 1.7-2.7-2.3z"/><path class="a90" d="M160.5 203.6l2.6-.3-2 3.3-2.6 .3z"/><path class="a87" d="M103.1 206.2l2.7 3-2 1-2.7-3z"/><path class="a105" d="M180.5 190.8l2.6-1.7-2 3.8-2.7 1.7z"/><path class="a203" d="M234.2 109.3l2.6-6.7-2 3.6-2.6 6.7z"/><path class="a82" d="M121.8 210.4l2.7 2-2 1.9-2.7-2z"/><path class="a107" d="M75.7 189.9l2.7 4.1-2-.6-2.7-4.2z"/><path class="a83" d="M138.5 209.9l2.7 1.1-2.1 2.6-2.6-1.1z"/><path class="a90" d="M98.5 204l2.6 3.2-2 .8-2.6-3.2z"/><path class="a186" d="M228.2 124l2.7-5.9-2 3.8-2.7 5.9z"/><path class="a96" d="M167.8 199.2l2.7-.8-2 3.6-2.7 .7z"/><path class="a83" d="M126.5 210.2l2.7 1.8-2.1 2.2-2.6-1.8z"/><path class="a102" d="M82.4 194.6l2.7 3.9-2-.1-2.7-4z"/><path class="a105" d="M177.8 192.3l2.7-1.5-2.1 3.8-2.6 1.5z"/><path class="a94" d="M93.8 201.3l2.7 3.5-2.1 .5-2.6-3.4z"/><path class="a88" d="M150.5 206.5l2.7 .4-2.1 3.1-2.6-.4z"/><path class="a91" d="M157.8 203.7l2.7-.1-2 3.3-2.7 .1z"/><path class="a213" d="M236.8 102.6l2.7-6.8-2 3.5-2.7 6.9z"/><path class="a85" d="M131.2 209.6l2.6 1.6-2 2.4-2.6-1.6z"/><path class="a195" d="M230.9 118.1l2.6-6.2-2 3.8-2.6 6.2z"/><path class="a87" d="M143.2 208.1l2.6 .9-2 2.8-2.6-.8z"/><path class="a99" d="M89.1 198.2l2.7 3.7-2 .2-2.7-3.6z"/><path class="a97" d="M165.2 199.7l2.6-.5-2 3.5-2.7 .6z"/><path class="a104" d="M175.1 193.6l2.7-1.3-2 3.8-2.7 1.3z"/><path class="a109" d="M77.8 190.3l2.6 4.1-2-.4-2.7-4.1z"/><path class="a90" d="M109.8 206.5l2.7 2.7-2 1.5-2.7-2.7z"/><path class="a88" d="M114.5 207.5l2.7 2.5-2.1 1.7-2.6-2.5z"/><path class="a87" d="M135.9 208.5l2.6 1.4-2 2.6-2.7-1.3z"/><path class="a92" d="M105.2 205l2.6 3-2 1.2-2.7-3z"/><path class="a203" d="M233.5 111.9l2.7-6.4-2 3.8-2.7 6.4z"/><path class="a88" d="M119.2 208.1l2.6 2.3-2 1.9-2.6-2.3z"/><path class="a94" d="M100.5 203l2.6 3.2-2 1-2.6-3.2z"/><path class="a105" d="M84.5 194.6l2.6 3.9-2 0-2.7-3.9z"/><path class="a94" d="M155.2 203.5l2.6 .2-2 3.3-2.6-.1z"/><path class="a91" d="M147.9 205.9l2.6 .6-2 3.1-2.7-.6z"/><path class="a104" d="M172.5 194.6l2.6-1-2 3.8-2.6 1z"/><path class="a88" d="M123.9 208.2l2.6 2-2 2.2-2.7-2z"/><path class="a98" d="M95.8 200.6l2.7 3.4-2 .8-2.7-3.5z"/><path class="a98" d="M162.5 200l2.7-.3-2.1 3.6-2.6 .3z"/><path class="a90" d="M140.5 207l2.7 1.1-2 2.9-2.7-1.1z"/><path class="a212" d="M236.2 105.5l2.6-6.7-2 3.8-2.6 6.7z"/><path class="a90" d="M128.5 207.8l2.7 1.8-2 2.4-2.7-1.8z"/><path class="a111" d="M79.8 190.5l2.6 4.1-2-.2-2.6-4.1z"/><path class="a102" d="M91.1 197.7l2.7 3.6-2 .6-2.7-3.7z"/><path class="a105" d="M169.8 195.4l2.7-.8-2 3.8-2.7 .8z"/><path class="a92" d="M133.2 207l2.7 1.5-2.1 2.7-2.6-1.6z"/><path class="a96" d="M152.5 203.1l2.7 .4-2 3.4-2.7-.4z"/><path class="a100" d="M159.9 200.1l2.6-.1-2 3.6-2.7 .1z"/><path class="a94" d="M145.2 205l2.7 .9-2.1 3.1-2.6-.9z"/><path class="a222" d="M238.8 98.8l2.7-6.8-2 3.8-2.7 6.8z"/><path class="a108" d="M86.5 194.3l2.6 3.9-2 .3-2.6-3.9z"/><path class="a95" d="M111.9 204.8l2.6 2.7-2 1.7-2.7-2.7z"/><path class="a97" d="M107.2 203.5l2.6 3-2 1.5-2.6-3z"/><path class="a94" d="M116.5 205.6l2.7 2.5-2 1.9-2.7-2.5z"/><path class="a99" d="M102.5 201.8l2.7 3.2-2.1 1.2-2.6-3.2z"/><path class="a94" d="M121.2 205.9l2.7 2.3-2.1 2.2-2.6-2.3z"/><path class="a106" d="M167.2 195.9l2.6-.5-2 3.8-2.6 .5z"/><path class="a94" d="M137.9 205.7l2.6 1.3-2 2.9-2.6-1.4z"/><path class="a102" d="M97.8 199.6l2.7 3.4-2 1-2.7-3.4z"/><path class="a114" d="M81.8 190.4l2.7 4.2-2.1 0-2.6-4.1z"/><path class="a95" d="M125.9 205.8l2.6 2-2 2.4-2.6-2z"/><path class="a106" d="M93.2 196.9l2.6 3.7-2 .7-2.7-3.6z"/><path class="a99" d="M149.9 202.5l2.6 .6-2 3.4-2.6-.6z"/><path class="a102" d="M157.2 200l2.7 .1-2.1 3.6-2.6-.2z"/><path class="a98" d="M142.5 203.9l2.7 1.1-2 3.1-2.7-1.1z"/><path class="a97" d="M130.5 205.2l2.7 1.8-2 2.6-2.7-1.8z"/><path class="a107" d="M164.5 196.2l2.7-.3-2 3.8-2.7 .3z"/><path class="a111" d="M88.5 193.8l2.6 3.9-2 .5-2.6-3.9z"/><path class="a99" d="M135.2 204.1l2.7 1.6-2 2.8-2.7-1.5z"/><path class="a102" d="M109.2 201.8l2.7 3-2.1 1.7-2.6-3z"/><path class="a101" d="M113.9 202.9l2.6 2.7-2 1.9-2.6-2.7z"/><path class="a104" d="M104.5 200.3l2.7 3.2-2 1.5-2.7-3.2z"/><path class="a105" d="M154.5 199.6l2.7 .4-2 3.5-2.7-.4z"/><path class="a100" d="M118.5 203.4l2.7 2.5-2 2.2-2.7-2.5z"/><path class="a117" d="M83.8 190.1l2.7 4.2-2 .3-2.7-4.2z"/><path class="a102" d="M147.2 201.7l2.7 .8-2 3.4-2.7-.9z"/><path class="a107" d="M99.9 198.3l2.6 3.5-2 1.2-2.7-3.4z"/><path class="a109" d="M161.9 196.3l2.6-.1-2 3.8-2.6 .1z"/><path class="a101" d="M123.2 203.5l2.7 2.3-2 2.4-2.7-2.3z"/><path class="a110" d="M95.2 195.9l2.6 3.7-2 1-2.6-3.7z"/><path class="a102" d="M139.9 202.6l2.6 1.3-2 3.1-2.6-1.3z"/><path class="a102" d="M127.9 203.2l2.6 2-2 2.6-2.6-2z"/><path class="a115" d="M90.5 193l2.7 3.9-2.1 .8-2.6-3.9z"/><path class="a108" d="M151.9 198.9l2.6 .7-2 3.5-2.6-.6z"/><path class="a111" d="M159.2 196.2l2.7 .1-2 3.8-2.7-.1z"/><path class="a104" d="M132.6 202.3l2.6 1.8-2 2.9-2.7-1.8z"/><path class="a106" d="M144.6 200.6l2.6 1.1-2 3.3-2.7-1.1z"/><path class="a120" d="M85.8 189.6l2.7 4.2-2 .5-2.7-4.2z"/><path class="a108" d="M111.2 199.9l2.7 3-2 1.9-2.7-3z"/><path class="a109" d="M106.5 198.6l2.7 3.2-2 1.7-2.7-3.2z"/><path class="a107" d="M115.9 200.7l2.6 2.7-2 2.2-2.6-2.7z"/><path class="a112" d="M101.9 196.9l2.6 3.4-2 1.5-2.6-3.5z"/><path class="a107" d="M137.2 201l2.7 1.6-2 3.1-2.7-1.6z"/><path class="a107" d="M120.6 201l2.6 2.5-2 2.4-2.7-2.5z"/><path class="a115" d="M97.2 194.7l2.7 3.6-2.1 1.3-2.6-3.7z"/><path class="a108" d="M125.2 200.9l2.7 2.3-2 2.6-2.7-2.3z"/><path class="a114" d="M156.6 195.8l2.6 .4-2 3.8-2.7-.4z"/><path class="a111" d="M149.2 198.1l2.7 .8-2 3.6-2.7-.8z"/><path class="a119" d="M92.5 192l2.7 3.9-2 1-2.7-3.9z"/><path class="a110" d="M141.9 199.2l2.7 1.4-2.1 3.3-2.6-1.3z"/><path class="a109" d="M129.9 200.3l2.7 2-2.1 2.9-2.6-2z"/><path class="a124" d="M87.9 188.9l2.6 4.1-2 .8-2.7-4.2z"/><path class="a112" d="M134.6 199.2l2.6 1.8-2 3.1-2.6-1.8z"/><path class="a115" d="M108.6 196.7l2.6 3.2-2 1.9-2.7-3.2z"/><path class="a117" d="M153.9 195.1l2.7 .7-2.1 3.8-2.6-.7z"/><path class="a114" d="M113.2 197.7l2.7 3-2 2.2-2.7-3z"/><path class="a117" d="M103.9 195.2l2.6 3.4-2 1.7-2.6-3.4z"/><path class="a115" d="M146.6 197l2.6 1.1-2 3.6-2.6-1.1z"/><path class="a113" d="M117.9 198.3l2.7 2.7-2.1 2.4-2.6-2.7z"/><path class="a120" d="M99.2 193.2l2.7 3.7-2 1.4-2.7-3.6z"/><path class="a114" d="M122.6 198.4l2.6 2.5-2 2.6-2.6-2.5z"/><path class="a123" d="M94.5 190.8l2.7 3.9-2 1.2-2.7-3.9z"/><path class="a115" d="M139.3 197.7l2.6 1.5-2 3.4-2.7-1.6z"/><path class="a115" d="M127.3 198l2.6 2.3-2 2.9-2.7-2.3z"/><path class="a128" d="M89.9 187.9l2.6 4.1-2 1-2.6-4.1z"/><path class="a120" d="M151.3 194.3l2.6 .8-2 3.8-2.7-.8z"/><path class="a117" d="M131.9 197.2l2.7 2-2 3.1-2.7-2z"/><path class="a119" d="M143.9 195.7l2.7 1.3-2 3.6-2.7-1.4z"/><path class="a121" d="M110.6 194.5l2.6 3.2-2 2.2-2.6-3.2z"/><path class="a123" d="M105.9 193.3l2.7 3.4-2.1 1.9-2.6-3.4z"/><path class="a120" d="M115.3 195.3l2.6 3-2 2.4-2.7-3z"/><path class="a125" d="M101.2 191.5l2.7 3.7-2 1.7-2.7-3.7z"/><path class="a120" d="M136.6 195.9l2.7 1.8-2.1 3.3-2.6-1.8z"/><path class="a120" d="M119.9 195.7l2.7 2.7-2 2.6-2.7-2.7z"/><path class="a128" d="M96.6 189.3l2.6 3.9-2 1.5-2.7-3.9z"/><path class="a124" d="M148.6 193.2l2.7 1.1-2.1 3.8-2.6-1.1z"/><path class="a121" d="M124.6 195.5l2.7 2.5-2.1 2.9-2.6-2.5z"/><path class="a132" d="M91.9 186.6l2.6 4.2-2 1.2-2.6-4.1z"/><path class="a123" d="M141.3 194.1l2.6 1.6-2 3.5-2.6-1.5z"/><path class="a123" d="M129.3 194.9l2.6 2.3-2 3.1-2.6-2.3z"/><path class="a125" d="M134 193.9l2.6 2-2 3.3-2.7-2z"/><path class="a129" d="M107.9 191.1l2.7 3.4-2 2.2-2.7-3.4z"/><path class="a128" d="M112.6 192.1l2.7 3.2-2.1 2.4-2.6-3.2z"/><path class="a128" d="M146 191.9l2.6 1.3-2 3.8-2.7-1.3z"/><path class="a131" d="M103.3 189.6l2.6 3.7-2 1.9-2.7-3.7z"/><path class="a127" d="M117.3 192.7l2.6 3-2 2.6-2.6-3z"/><path class="a134" d="M98.6 187.6l2.6 3.9-2 1.7-2.6-3.9z"/><path class="a128" d="M122 192.8l2.6 2.7-2 2.9-2.7-2.7z"/><path class="a128" d="M138.6 192.3l2.7 1.8-2 3.6-2.7-1.8z"/><path class="a137" d="M93.9 185.2l2.7 4.1-2.1 1.5-2.6-4.2z"/><path class="a129" d="M126.6 192.4l2.7 2.5-2 3.1-2.7-2.5z"/><path class="a132" d="M143.3 190.3l2.7 1.6-2.1 3.8-2.6-1.6z"/><path class="a131" d="M131.3 191.6l2.7 2.3-2.1 3.3-2.6-2.3z"/><path class="a135" d="M110 188.7l2.6 3.4-2 2.4-2.7-3.4z"/><path class="a137" d="M105.3 187.4l2.6 3.7-2 2.2-2.6-3.7z"/><path class="a135" d="M114.6 189.5l2.7 3.2-2 2.6-2.7-3.2z"/><path class="a134" d="M136 190.3l2.6 2-2 3.6-2.6-2z"/><path class="a139" d="M100.6 185.7l2.7 3.9-2.1 1.9-2.6-3.9z"/><path class="a135" d="M119.3 189.8l2.7 3-2.1 2.9-2.6-3z"/><path class="a143" d="M95.9 183.5l2.7 4.1-2 1.7-2.7-4.1z"/><path class="a135" d="M124 189.7l2.6 2.7-2 3.1-2.6-2.7z"/><path class="a137" d="M140.6 188.5l2.7 1.8-2 3.8-2.7-1.8z"/><path class="a137" d="M128.6 189.1l2.7 2.5-2 3.3-2.7-2.5z"/><path class="a139" d="M133.3 188l2.7 2.3-2 3.6-2.7-2.3z"/><path class="a144" d="M107.3 185l2.7 3.7-2.1 2.4-2.6-3.7z"/><path class="a142" d="M112 186.1l2.6 3.4-2 2.6-2.6-3.4z"/><path class="a146" d="M102.6 183.5l2.7 3.9-2 2.2-2.7-3.9z"/><path class="a142" d="M116.6 186.6l2.7 3.2-2 2.9-2.7-3.2z"/><path class="a148" d="M97.9 181.5l2.7 4.2-2 1.9-2.7-4.1z"/><path class="a142" d="M121.3 186.7l2.7 3-2 3.1-2.7-3z"/><path class="a143" d="M138 186.5l2.6 2-2 3.8-2.6-2z"/><path class="a144" d="M126 186.4l2.6 2.7-2 3.3-2.6-2.7z"/><path class="a146" d="M130.7 185.5l2.6 2.5-2 3.6-2.7-2.5z"/><path class="a150" d="M109.3 182.4l2.7 3.7-2 2.6-2.7-3.7z"/><path class="a152" d="M104.6 181.1l2.7 3.9-2 2.4-2.7-3.9z"/><path class="a150" d="M114 183.2l2.6 3.4-2 2.9-2.6-3.4z"/><path class="a148" d="M135.3 184.2l2.7 2.3-2 3.8-2.7-2.3z"/><path class="a154" d="M100 179.4l2.6 4.1-2 2.2-2.7-4.2z"/><path class="a150" d="M118.7 183.5l2.6 3.2-2 3.1-2.7-3.2z"/><path class="a150" d="M123.3 183.4l2.7 3-2 3.3-2.7-3z"/><path class="a152" d="M128 182.8l2.7 2.7-2.1 3.6-2.6-2.7z"/><path class="a154" d="M132.7 181.7l2.6 2.5-2 3.8-2.6-2.5z"/><path class="a159" d="M106.7 178.5l2.6 3.9-2 2.6-2.7-3.9z"/><path class="a158" d="M111.3 179.5l2.7 3.7-2 2.9-2.7-3.7z"/><path class="a161" d="M102 177l2.6 4.1-2 2.4-2.6-4.1z"/><path class="a157" d="M116 180.1l2.7 3.4-2.1 3.1-2.6-3.4z"/><path class="a158" d="M120.7 180.2l2.6 3.2-2 3.3-2.6-3.2z"/><path class="a159" d="M125.4 179.8l2.6 3-2 3.6-2.7-3z"/><path class="a161" d="M130 179l2.7 2.7-2 3.8-2.7-2.7z"/><path class="a166" d="M108.7 175.6l2.6 3.9-2 2.9-2.6-3.9z"/><path class="a168" d="M104 174.3l2.7 4.2-2.1 2.6-2.6-4.1z"/><path class="a166" d="M113.4 176.4l2.6 3.7-2 3.1-2.7-3.7z"/><path class="a166" d="M118 176.8l2.7 3.4-2 3.3-2.7-3.4z"/><path class="a166" d="M122.7 176.6l2.7 3.2-2.1 3.6-2.6-3.2z"/><path class="a168" d="M127.4 176l2.6 3-2 3.8-2.6-3z"/><path class="a175" d="M106 171.5l2.7 4.1-2 2.9-2.7-4.2z"/><path class="a174" d="M110.7 172.5l2.7 3.9-2.1 3.1-2.6-3.9z"/><path class="a174" d="M115.4 173.1l2.6 3.7-2 3.3-2.6-3.7z"/><path class="a174" d="M120 173.2l2.7 3.4-2 3.6-2.7-3.4z"/><path class="a175" d="M124.7 172.8l2.7 3.2-2 3.8-2.7-3.2z"/><path class="a183" d="M108 168.4l2.7 4.1-2 3.1-2.7-4.1z"/><path class="a182" d="M112.7 169.2l2.7 3.9-2 3.3-2.7-3.9z"/><path class="a182" d="M117.4 169.5l2.6 3.7-2 3.6-2.6-3.7z"/><path class="a183" d="M122.1 169.4l2.6 3.4-2 3.8-2.7-3.4z"/><path class="a191" d="M110.1 165l2.6 4.2-2 3.3-2.7-4.1z"/><path class="a191" d="M114.7 165.6l2.7 3.9-2 3.6-2.7-3.9z"/><path class="a191" d="M119.4 165.7l2.7 3.7-2.1 3.8-2.6-3.7z"/><path class="a200" d="M112.1 161.5l2.6 4.1-2 3.6-2.6-4.2z"/><path class="a200" d="M116.8 161.8l2.6 3.9-2 3.8-2.7-3.9z"/><path class="a209" d="M114.1 157.7l2.7 4.1-2.1 3.8-2.6-4.1z"/></g>
<text x="129.5" y="7.3" font-family='"Liberation Sans", sans-serif' font-size="5.2" font-weight="bold" fill="#333" text-anchor="middle">F5</text>
<path d="M112.4 587.9L22.4 525.2M135.4 578.6L45.4 515.9M158.5 569.3L68.5 506.6M181.5 559.9L91.5 497.2M204.6 550.6L114.6 487.9M89.6 586.2L207.1 538.7M72 573.9L189.5 526.4M54.3 561.6L171.8 514.1M36.7 549.3L154.2 501.8M19 537L136.5 489.5M22.4 525.2L22.4 386.6M45.4 515.9L45.4 377.3M68.5 506.6L68.5 367.9M91.5 497.2L91.5 358.6M114.6 487.9L114.6 349.3M207.1 538.7L207.1 400.1M189.5 526.4L189.5 387.8M171.8 514.1L171.8 375.5M154.2 501.8L154.2 363.2M136.5 489.5L136.5 350.9M9.5 530.4L127 482.9L217 545.6M9.5 513.8L127 466.3L217 529M9.5 497.2L127 449.7L217 512.4M9.5 480.6L127 433.1L217 495.8M9.5 464L127 416.5L217 479.2M9.5 447.4L127 399.9L217 462.6M9.5 430.8L127 383.3L217 446M9.5 414.2L127 366.7L217 429.4M9.5 397.6L127 350.1L217 412.8" fill="none" stroke="#e3e3e3" stroke-width="0.6"/>
<g fill="none" stroke-width="0.7" stroke-linejoin="round" opacity="0.7"><path d="M140 514.6 139.5 515 138.3 516.7 136.8 518.6 131.8 518.1 133 516.2 134.7 514.5 133.9 513.6 133 512.7 128.8 513.2 124.7 513.7 122.1 515 120.4 515.3 117.8 515.3 116 514.6 113.6 513.1 110.8 511.7 111.2 510.7 111.8 508.9 107.6 508.2 107.4 510.7 105.1 511.6 103.5 509.8 101.2 510.2 97.2 510.7 94.9 510.7 91.8 510.1 92.3 511.8 91.5 513.2 88.5 514.3 85.8 515.6 82.2 515.9 80.9 515.5 78.7 517.2 83.9 517.7 84.1 520.1 83.5 520.5 80.6 521.8 76 520.9 74.8 520.9 71.1 520.4 69 520.1 66.5 521.6 64.7 523 68.1 522.7 72.1 522.3 72.8 522.1 75.1 523.7 72.3 525.6 70.9 525.4 66.4 524.8 63.7 523.3 60.6 524 60.4 524.7 62.5 526.3 64.5 526.7 66 527.4 66.1 529.8 65.8 530.8 63.5 530.9 60.7 529.5 59.3 529.5 56.4 530.7 56.2 531.4 57.8 531.7 60 532.3 59.9 533.2 60.4 534.6 61.2 536.7 62.2 538.8 61.8 541 62.8 541.7 64.2 540.5 64.5 539.6 65.6 539.9 69.8 540 71 540.2 73.5 541.7 73.7 542.8 71 542.7 68.9 542.7 68.8 543.6 70.8 544 73.2 544.3 73.6 545.9 70 546.7 70 548 72.1 548.1 74.8 546.8 78.8 547 78.7 549.5 75.7 550.6 78.7 549.5 82.1 550.6 84.9 551.9 84.9 553.8 80.9 553.6 79.4 553.2 79.6 554.1 80.7 554.1 84.9 554.4 86.1 554.7 89.7 554 91.4 554.3 91.3 555 90.7 557 91.3 558.3 88.4 558 86.4 558.1 86.3 561.2 87.6 559 91.5 559.2 92.7 559.3 93.1 558.5 94.4 557.2 96.7 557.1 98.3 558.9 102.3 559.5 105.3 558.4 108.4 557.2 109.7 556.8 110.9 558.7 105.6 558.6 105.1 561.1 109.6 561.3 110.6 561.4 111 562.3 108.7 563.9 108.1 564.9 107.1 566.1 105.2 568 105.9 568.4 109.7 567.8 112.9 566.9 115 565.1 115.6 564.3 116.9 563.2 118.5 563.1 121.7 563.3 123.6 563.6 127.4 564 128.6 564 131.9 563.9 133.7 562 135.3 561.3 136.6 560.7 138.2 558.6 141.9 558.6 142.8 558.6 146.1 557.6 150 557.8 151.3 558 152 557 152.7 555.8 152.5 554.3 151.1 552.4 151.7 551.9 152.5 551.8 156.2 551.8 159.8 551.1 161.6 549 162.2 548 160.4 546.2 157.3 545 158.4 543.6 159.9 541.4 162.7 542.8 165.3 544.2 168.8 545.3 171.3 546.8 170.7 548.9 171.5 549.5 172.2 546.8 172.7 543.9 172.3 543.5 168.8 542.8 166.8 541.1 166.9 539.8 166.8 538.6 166.6 536.4 162.6 536.8 161.5 538.3 161 538.9 159.9 541.4 157.4 540 157.9 537.3 160.5 535.4 162.8 533.7 163.1 532.7 160.7 531.2 157.9 529.9 156.1 529 154.8 528.6 150.6 528.4 148.2 528.8 149.6 527.7 151.6 525.9 152 524.8 149.4 524.4 146.8 525.8 144.2 525.5 143.7 523.6 147.5 523.1 147.4 521.7 144.3 520.8 142.7 519.7 142 519 140.5 517.1 140.5 514.9 140 514.6M96.8 562.1 98.4 563.8 99.8 564.2 99.9 563.2 96.8 562.1M85.6 544.2 90.3 544.8 87.9 546.2 84.7 547.2 83 549.2 78.7 549.5 79.7 547 84.1 546.8 84.1 544.8 84.9 544.1 85.6 544.2M65.2 532.7 67.7 534.1 67.3 535.1 64.8 535.3 62.9 533.6 63.3 532.3 65.2 532.7M118.8 567.8 118.8 567.8M78.5 539.6 81.1 541.1 80.5 541.4 78.4 539.7M126.3 566.5 126.5 567.3 127.5 567.4 127.8 566.8 126.3 566.5M93.4 543.6 92.2 544 93.4 543.5M73.3 529.4 72.8 529.6 73.3 529.4M82.5 530.6 80.6 531.4 80.1 531 82.5 530.6M132.3 560 133.6 561.9 130.7 560.7 130.7 559.9 132.3 560M128.3 551.7 128.3 551.7M142 556.1 141.9 558 138.8 557.4 138.9 555.8 142 556.1M88.7 520.7 88.1 520.5 88.7 520.7M137.4 550.5 136.9 551.3 136.1 551.1 137.4 550.5M94.4 518.4 94.4 518.4M147.5 551.4 147.9 552.4 145.3 552.3 144.8 550.3 147.5 551.4M98.8 514.1 100.6 515.9 97.2 514.8 97.2 513.9 98.8 514.1M159.3 553.9 157.4 554.8 160.5 554.8 159.5 554M116.7 524.2 116.7 524.2M109.9 519.5 109.9 519.5M137.8 535.5 137.8 535.5M107.3 513.2 109.3 514.8 109 515.6 107.5 515.5 104.5 514.3 104.5 512.5 107.3 513.2M96.1 506.7 96 507.8 97.5 507.6 96.1 506.7M164.6 551.2 164.6 551.9 166 552.1 166.1 551.3 164.6 551.2M154.6 536.2 154 537.2 152.3 537.1 152.3 536.1 154.6 536.2M147.3 531.7 147.1 532.5 144.1 533 145.8 531.6 147.3 531.7M142.4 523.7 141 525 137.6 525.9 138.6 523.3 142.4 523.7M158.8 532 157.9 533.5 155 534.7 152.7 534.5 153.2 533.5 155.7 532 158.8 532M115.6 507.3 115.9 509.7 120.1 510.4 120.6 507.8 116 507.2" stroke="#4649f3"/><path d="M143.2 510.3 139.9 511.3 138.3 510.5 135.8 509.1 133.6 507.5 133.1 505.2 129.7 504.2 126.1 503.1 122.9 501.9 120.9 500.2 117.9 499 113.6 498.2 110.9 497.6 107.3 498.3 103.2 498.7 103.2 500 103.3 502 99.4 502.5 97.8 502.1 93.4 501.6 92 503.8 88.7 504.7 88.2 506 87.7 507.3 85.4 507.2 81.8 506.4 79.5 508 76.8 509.4 73.6 509.5 72.4 509.5 74 510.6 75.8 511 75.5 511.7 72.7 513 70 513.4 68 512.9 64.6 513.8 64 515.8 63.7 516.4 62.7 516.3 59.3 516.6 55.7 516.7 54.7 516.6 52 518 51.3 520.7 48.1 521.7 45.2 523 44.2 525.5 44 526.4 46.1 526.8 50.1 526.3 48 528.1 47.1 530.1 47.8 531.2 44.5 532.2 44.7 533.5 44.5 535.4 44.3 536.1 45.8 536.3 49.1 536.7 48.8 538.4 48.6 539.4 50.7 541 50.9 543.1 51.5 543.5 55.1 542.8 57.9 543 57.3 544.3 55.6 546.3 59 547.6 61.9 548.8 65 550.1 64 552.2 64 553 65.9 553.5 67.8 553.9 71.4 554.1 73.7 554 72.9 555.2 73.3 556.6 73.1 558.6 74.6 559.6 78.7 559.2 77.9 561.9 79.6 563 80.6 563.6 81 564 82.2 565.4 83 565.4 86.7 566.1 89.9 567.3 93.3 568.4 94.7 570.3 98.4 571.2 98 572.6 94 573 98.2 573.8 100.8 574.6 103.4 573.2 107.2 572.6 105.5 574.7 105.4 575.9 107.7 577.4 109.6 577.5 112.8 577.8 114.4 577.6 118.5 577.2 120.5 575.4 122.6 573.9 126.9 573.4 130.3 573.2 132.6 574.8 133.6 574.8 136.2 573.4 137.9 571.3 139.9 569.5 144.6 569.5 144.8 567.4 143.5 565.5 148 565.4 151.3 564.5 153.7 563.8 153 565.7 153.5 566.3 154.3 566 154.8 563.7 157.9 562.6 160.8 561.4 164.7 560.9 166.1 558.8 163.1 557.5 163.7 557 168.6 557.2 170.1 557.1 174.2 557.8 173.5 555.8 173.5 554.1 176.6 554.5 178.6 554.4 179.8 553.2 176.2 552.8 174.7 552.8 175.2 552.1 176.2 549.7 180.6 549.4 181.8 547.4 183.1 544.7 186.3 543.6 184.2 541.5 182.6 541 178.8 541.2 177.2 540.5 176 539.9 178.8 538.4 179.5 536 175.2 535.9 174.1 535.7 173.6 534.8 176 533.2 176.5 532.2 174.4 532.1 171.2 531.9 171.5 530.1 171.5 529.3 169.7 527.6 167.7 527.4 165 527 164.4 525.1 163.8 524.7 159.8 524.1 158 522.4 155.6 520.9 153.1 520.5 151.4 520.1 151.7 519.5 151.4 517.6 151 515.8 150.2 515.2 146.4 514.7 146.2 512.4 144.9 510.3 143.2 510.3M86.7 563.6 86.7 564.8 83.3 565 84.8 563.5 86.7 563.6M68.5 551.1 68.4 552 66.2 552.1 65.9 550.3 68.5 551.1M48.5 534.5 48.8 535.1 46.9 535.1 47.4 534.2 48.5 534.5M113.7 575 113.3 576.9 109.6 576.6 110.9 575.2 113.7 575M54.2 522.2 52.7 522.8 52 521.2 54.2 522.2M134.5 571.5 135.7 573 132.3 572.4 132.6 570.9 134.5 571.5M57.7 518.3 58.3 519.1 56.7 518.8 56.6 518 57.7 518.3M111.5 499.1 111 500.9 108.1 500.4 107.3 498.3 111.5 499.1M118.1 501.4 117.6 502.2 114.1 503 116.2 501.3 118.1 501.4M166.3 528.9 165.9 529.4 165.2 529.4 166.3 528.9M145.1 512.7 143.5 513.8 143 513.6 142.1 512.8 145.1 512.7M138.2 506.9 137.7 508.3 139.9 508 140 507.4 138.2 506.9" stroke="#0077ff"/><path d="M44.6 516.2 44.4 518.8 41.5 520.3 40 520.6 37.6 520.9 35.2 522.4 35.4 524.9 35.1 525.6 33.3 527.6 33.2 528.3 35 530 37.4 530.5 38.6 531 36.5 533 36.3 534.4 37.6 536.4 40.7 537.6 41.3 539.6 40.8 540 42.4 541.9 45.2 543.2 46.6 545.1 47 546.8 47.2 547.4 49.7 548.8 51.8 550.4 53 551 54.2 549.5 54.9 549.1 57.9 550.5 57.7 551 55.4 552.7 56.2 553.6 58.5 555.2 59.2 555.3 62.8 555.9 63.7 558 64.2 558.8 65.1 559.9 67.7 561.4 71.3 562.4 74.4 563.6 76.5 565.3 76.8 567.6 81.1 568.4 83.1 570 84.7 571.9 88.6 572.6 89.6 572.3 89 572.8 90 574.7 92.2 575.1 94.9 575.1 94.9 576.9 94.6 577.7 96.8 578.3 99.7 577.1 101.8 577.3 104.1 578.8 105 580.8 107.5 579.3 108.9 579.4 111.1 581 114.9 581.9 116.5 582.3 116.5 581.3 117.4 579.7 120.2 579.8 123.4 580.6 123.9 578.3 124.6 578 128.3 579 130.9 579.4 133.5 578 136.9 577.1 139.2 575.4 142.6 574.6 145.6 573.5 148.2 572.1 150.2 570.2 153.8 569.5 155.4 568 155.9 567.7 160 567.3 161.9 565.4 166.4 565.3 168.6 565.2M40.7 522.7 40 523 39.8 522.4 40.7 522.7M52.7 512.9 52 514.7 47.9 514.9M60.9 509.6 60.2 510.8 59.1 512.8 58.3 513.1 54.7 512.1M69.5 506.2 69 507.2 68.1 509.2 67.1 509.6 63.4 508.6M78.9 502.3 79.4 504.6 76.5 505.9 75.8 506.1 75.9 505.5 74.7 504M171.2 564.1 171.6 562.5 175.4 562.4M84.2 500.2 84.2 501.6 82.2 501M174 560.5 174.9 561.5 172.9 560.9 173.5 560.6M179.4 560.8 179.1 558.5 180.1 558 183.1 557.5 184 556.5 184.8 555.5 187.7 555 188.7 555 191.4 553.6 192.4 553.1 190.7 553.2 186.4 553 187.8 551.1 190.9 550.1 191.2 548.6 191.9 547.5 193.9 545.6 193.6 545.1 192.8 544.9 190.1 544.1 188.7 542.2 190.2 539.9 190.1 539.1 187.6 537.7 185.2 536.1 185.1 533.7 184.8 532.9 183.7 531.8 181.3 530.3 178.1 529.1 177.4 527.7 177.2 527 174.8 525.5 174 525.3 170.1 524.9 167.5 524 166.8 523.8 169.4 522.2 168.5 520.6 166.5 520.2 164.6 519.7 160.3 519 158.7 517.2 159.8 515.4 159.4 514.4 157.8 514 154.9 513.7 155.3 512.3 154.7 511.3 153.5 511 149.2 511.3 148.7 511 148.1 509 148 507.2 146.6 506.2 143.7 505.9 140.8 504.6 139.2 502.7 137.7 500.9 135.3 499.4 132 499.3 129.7 499.1 126.5 498 124.8 496.2 122.5 495.9 120.2 495.5 116.8 495.2 113.7 496.3 112.7 496.1 108.2 495.7 105.2 496.7 100.5 496.7 98.9 496.7 95.1 496.3 93.6 496.4" stroke="#009fe9"/><path d="M29.3 522.4 28.8 524.4 26.3 525.9 27 526.4 31 526.7 30.6 528.9 27.2 529.8 26 531.2 30.1 531.8 31.4 533.9 33 535.7 33.4 537.4 33.7 538 35 539.9 36.5 541.8 38.7 543.4 38.8 544.4 39.6 545.5 42 546.6 42.6 546.7 44.2 548.1 44.6 548.4 46.1 550.3 48.2 550.9 49.7 551.3 52.3 552.7 54.2 554.5 56.2 556.1 57.6 557.4 57.9 557.9 61.2 559.1 62.1 560.5 62.4 561 64.1 562.8 66.4 563.6 67.8 563.8 68 564.7 68.7 565.9 70.6 566.5 72.6 566.8 74.6 568.5 76.5 570.2 76.7 570.8 78 572.1 78.8 572.2 81.9 573 82.1 574.5 82.3 575.3 83.5 575.5 87.9 575.5 89.1 576.1 90.5 576.9 91.3 579.1 94.2 580.4 95.5 580.6 98.5 581.1 100.8 582.7 103.6 583 106.5 582.8 108.7 583.3 110.6 583.7 114 583.8 115.6 584.1 119.6 584.5 122.3 583.1 124.3 583.1M193.3 555.2 195.9 553.5 196.7 551.3 196.5 550.7 199 549.2 198.9 548 199.2 546.1 200 545.1 196.5 544 197.7 541.9 197.6 541.1 194.9 539.9 192.3 538.3 191.6 537.6 190.9 536.3 188.8 534.7 187.8 532.6 185.7 531 185 529.8 184.7 528.9 183.2 528.5 181 528 180.6 526.7 180.2 525.8 178.5 525.3 176.9 524.7 174.3 523.2 173.8 522 173.3 521.2 171.6 519.4 168.4 518.2 166 516.7 163.6 515.2 163.1 512.9 160.5 511.5 157.2 510.3 153.9 509.2 153.9 508.1 153.3 507 151.5 506.4 149.7 505.9 146.9 504.6 146.9 503.3 147 502.1 144.6 501.6 142.5 501.4 141.3 499.4 140.8 499 139.6 497.6 137.8 496.9 136.3 496.5 133.5 495.1 130.3 494.9 128.2 494.8 125.7 493.3 122.8 492.9 120.7 492.9 118 491.5 115.9 491.3 111.7 491.6 109.6 489.9M108.8 490.3 107.6 492 105 491.8" stroke="#00bcc4"/><path d="M23.9 524.6 24.1 527 24.5 527.9 24.3 529.4 23.5 530.4 22.2 532.7 25 534 25.2 534.9 25 536.5 27.1 538.1 30.8 539.1 31.5 541.3 32 542.8 32.5 543.4 34.2 545.2 36.1 545.7 37.8 546.2 39 547.7 40 548.4 42.3 549.3 44.5 550.9 47.2 552.3 47.3 553.5 47.8 554.6 50.6 555.9 52.2 557.7 54.3 559.4 57.2 560.4 60.4 561.9 62.1 563.6 62.9 564.4 63.9 565.4 65.4 566.1 66.6 566.8 67.9 568.7 69.8 570.4 72.7 571.7 75.4 573.1 75.9 573.4 78.3 574.4 79.5 576 80.7 576.8 82.6 577.6 86.2 578.7 87 580.8 91.5 581.1 92 581.3 95 582.5 97.1 584.2 100.5 585.3 103 586.7 104.5 586.9 108.1 586.2 110.1 586.3 113.2 587.5M204.4 550.7 202 549.2 201.6 547.8 204.2 546.4 203.1 543.8 202.9 542.3 202.7 541.5 201.2 539.6 200.5 537.4 199 535.5 196.7 534 194.7 532.3 192.5 531.8 190.6 531.5 189.2 529.6 187.4 527.8 186.3 527.4 184.1 526.7 183.4 525.4 182.9 524.7 180.5 523.2 179.6 521.1 176.8 519.7 174 518.4 172 517.5 171.1 517.1 170.7 514.8 167.4 513.6 166.2 511.6 163.6 510.2 160.6 508.9 158.9 508.3 157.3 507.8 155.1 506.2 154.2 505.1 154.2 504.1 152.3 502.4 149.5 501.1 146.8 499.9 143.5 498.5 143 497.3 142.8 496.3 141.3 496.1 138.7 495.5 136 494.1 134.8 492.1 130.5 491.8 129.6 491.8 127.1 490.3 123.2 490 121.3 490.2 120 488.2 116.5 488.5 113.2 489.5 111.9 489" stroke="#00cc84"/><path d="M72.1 574 75.6 575.5 77.7 577.1 79.9 578.7 82.4 580.2 84.4 581.9 88.7 582.6 90.4 584.4 92.6 585.1 94 585.4 96.6 586.8 100.6 587.4 105.4 588.2 106.8 588.5 109.6 589M64.2 568.5 66.3 569.4 67.6 570.9M57.8 564 59.8 564.6 61.3 566.4M50.6 559.1 52.8 560 54.8 561.6 55.2 562.2M44.1 554.5 46 555.3 48 557 48.6 557.6M17.4 527.2 19.4 528.9 18.3 530 18.1 531.9 19.3 533.9 21 535.7 22.6 537.5 24.5 539.2 26.8 540.7 28.3 542.6 30.3 544.3 32 546.1 34.7 547.5 37 549 39.5 550.5 41.3 552.2 41.7 552.8M208.2 549.2 209.6 546.9 209.7 546.1 206.8 544.8 207.1 542.2 204.6 540.7 204.5 540.1 204.8 538.2 202.9 536.4 202.2 535.3M140.1 492 136.9 491.3 133.5 490.7 132.5 490.6 130.3 489 126.8 487.9 124.3 487.5 122.5 487.2 118.6 486.3M197.3 531.9 196.7 531.5M170.3 513 169.4 512.8M161.7 507.1 160.3 506.6M153.8 501.6 151.3 500.3 150.4 499.2M148.8 498.1 146 497.5 145.6 495.8M144.5 495.1 141.2 494.5 141 492.7" stroke="#a6c719"/><path d="M88.6 585.5 91.6 586.4 94 587.9 96.8 589.2 99.5 589.9 101.1 590 104.1 591.3M13.5 528.8 13.6 530.1 13.9 531.1 15.7 532.9 16.9 534.8 19 536.4 20.9 538.2M212.6 547.4 212.7 545.9 212.4 545 211.1 543 210.3 540.9M133.4 487.3 129.2 487 126.5 485.8 121.3 485.2M210.2 540.8 207.2 539.6 207.4 538.9M136.8 489.7 135.5 489.4 134.9 488.4" stroke="#ffbe29"/><path d="M95.8 590.5 98.3 591.1 100.2 592.8M9.9 530.2 11.8 532M216.8 545.7 214.4 544.2" stroke="#f9ec00"/></g>
<path d="M9.5 530.4L99.5 593.1L217 545.6M9.5 530.4L9.5 391.8M112.4 587.9L114.7 589.5M135.4 578.6L137.7 580.1M158.5 569.3L160.7 570.8M181.5 559.9L183.8 561.5M204.6 550.6L206.8 552.2M89.6 586.2L86.7 587.4M72 573.9L69 575.1M54.3 561.6L51.4 562.8M36.7 549.3L33.7 550.5M19 537L16.1 538.2M9.5 530.4L7.2 531.4M9.5 513.8L7.2 514.8M9.5 497.2L7.2 498.2M9.5 480.6L7.2 481.6M9.5 464L7.2 465M9.5 447.4L7.2 448.4M9.5 430.8L7.2 431.8M9.5 414.2L7.2 415.1M9.5 397.6L7.2 398.6" fill="none" stroke="#8a8a8a" stroke-width="0.6"/>
<g font-family='"Liberation Sans", sans-serif' font-size="4.9" fill="#454545" text-anchor="middle"><text x="116.3" y="596.2" text-anchor="start">−1</text><text x="139.3" y="586.9" text-anchor="start">−0.5</text><text x="162.4" y="577.6" text-anchor="start">0</text><text x="185.4" y="568.2" text-anchor="start">0.5</text><text x="208.5" y="558.9" text-anchor="start">1</text><text x="84.7" y="593.6" text-anchor="end">−1</text><text x="67.1" y="581.3" text-anchor="end">−0.5</text><text x="49.4" y="569" text-anchor="end">0</text><text x="31.8" y="556.7" text-anchor="end">0.5</text><text x="14.1" y="544.4" text-anchor="end">1</text></g>
<g font-family='"Liberation Sans", sans-serif' font-size="4.9" fill="#454545" text-anchor="end"><text x="5.9" y="530.8"></text><text x="5.9" y="514.2">1</text><text x="5.9" y="497.6">2</text><text x="5.9" y="481">3</text><text x="5.9" y="464.4">4</text><text x="5.9" y="447.8">5</text><text x="5.9" y="431.2">6</text><text x="5.9" y="414.6">7</text><text x="5.9" y="398">8</text></g>
<style>.b1{fill:#4322b1;stroke:#4322b1}.b2{fill:#4423b4;stroke:#4423b4}.b3{fill:#4424b7;stroke:#4424b7}.b4{fill:#4526b9;stroke:#4526b9}.b5{fill:#4527bc;stroke:#4527bc}.b6{fill:#4628bf;stroke:#4628bf}.b7{fill:#4629c2;stroke:#4629c2}.b8{fill:#472ac4;stroke:#472ac4}.b9{fill:#462bc7;stroke:#462bc7}.b10{fill:#472cca;stroke:#472cca}.b11{fill:#472dcd;stroke:#472dcd}.b12{fill:#472ecf;stroke:#472ecf}.b13{fill:#4830d2;stroke:#4830d2}.b14{fill:#4831d5;stroke:#4831d5}.b15{fill:#4932d7;stroke:#4932d7}.b16{fill:#4834da;stroke:#4834da}.b17{fill:#4835dc;stroke:#4835dc}.b18{fill:#4936de;stroke:#4936de}.b19{fill:#4937e1;stroke:#4937e1}.b20{fill:#4838e3;stroke:#4838e3}.b21{fill:#483be5;stroke:#483be5}.b22{fill:#493ce6;stroke:#493ce6}.b23{fill:#483de8;stroke:#483de8}.b24{fill:#483fea;stroke:#483fea}.b25{fill:#4740eb;stroke:#4740eb}.b26{fill:#4742ed;stroke:#4742ed}.b27{fill:#4643ee;stroke:#4643ee}.b28{fill:#4644f0;stroke:#4644f0}.b29{fill:#4646f1;stroke:#4646f1}.b30{fill:#4647f2;stroke:#4647f2}.b31{fill:#454af3;stroke:#454af3}.b32{fill:#454bf5;stroke:#454bf5}.b33{fill:#444df6;stroke:#444df6}.b34{fill:#434ef7;stroke:#434ef7}.b35{fill:#434ff8;stroke:#434ff8}.b36{fill:#4251f9;stroke:#4251f9}.b37{fill:#4152f9;stroke:#4152f9}.b38{fill:#4053fa;stroke:#4053fa}.b39{fill:#3e55fb;stroke:#3e55fb}.b40{fill:#3d56fb;stroke:#3d56fb}.b41{fill:#3c59fc;stroke:#3c59fc}.b42{fill:#3b5afd;stroke:#3b5afd}.b43{fill:#3a5bfe;stroke:#3a5bfe}.b44{fill:#395dfe;stroke:#395dfe}.b45{fill:#365eff;stroke:#365eff}.b46{fill:#3560ff;stroke:#3560ff}.b47{fill:#3461ff;stroke:#3461ff}.b48{fill:#3162ff;stroke:#3162ff}.b49{fill:#2f64ff;stroke:#2f64ff}.b50{fill:#2b65ff;stroke:#2b65ff}.b51{fill:#2667ff;stroke:#2667ff}.b52{fill:#2568ff;stroke:#2568ff}.b53{fill:#1f6aff;stroke:#1f6aff}.b54{fill:#1a6bff;stroke:#1a6bff}.b55{fill:#116dff;stroke:#116dff}.b56{fill:#066eff;stroke:#066eff}.b57{fill:#0071ff;stroke:#0071ff}.b58{fill:#0072ff;stroke:#0072ff}.b59{fill:#0074ff;stroke:#0074ff}.b60{fill:#0075ff;stroke:#0075ff}.b61{fill:#0077ff;stroke:#0077ff}.b62{fill:#0078ff;stroke:#0078ff}.b63{fill:#007aff;stroke:#007aff}.b64{fill:#007bff;stroke:#007bff}.b65{fill:#007dff;stroke:#007dff}.b66{fill:#007eff;stroke:#007eff}.b67{fill:#0080ff;stroke:#0080ff}.b68{fill:#0081fe;stroke:#0081fe}.b69{fill:#0083fe;stroke:#0083fe}.b70{fill:#0084fd;stroke:#0084fd}.b71{fill:#0085fc;stroke:#0085fc}.b72{fill:#0087fc;stroke:#0087fc}.b73{fill:#0088fb;stroke:#0088fb}.b74{fill:#0089fa;stroke:#0089fa}.b75{fill:#008bf9;stroke:#008bf9}.b76{fill:#008cf8;stroke:#008cf8}.b77{fill:#008df7;stroke:#008df7}.b78{fill:#008ff6;stroke:#008ff6}.b79{fill:#0090f5;stroke:#0090f5}.b80{fill:#0091f4;stroke:#0091f4}.b81{fill:#0092f2;stroke:#0092f2}.b82{fill:#0094f1;stroke:#0094f1}.b83{fill:#0095f0;stroke:#0095f0}.b84{fill:#0096ef;stroke:#0096ef}.b85{fill:#0098ee;stroke:#0098ee}.b86{fill:#0099ed;stroke:#0099ed}.b87{fill:#009aec;stroke:#009aec}.b88{fill:#009beb;stroke:#009beb}.b89{fill:#009ceb;stroke:#009ceb}.b90{fill:#009dea;stroke:#009dea}.b91{fill:#009fe9;stroke:#009fe9}.b92{fill:#00a0e8;stroke:#00a0e8}.b93{fill:#00a1e8;stroke:#00a1e8}.b94{fill:#00a2e7;stroke:#00a2e7}.b95{fill:#00a3e7;stroke:#00a3e7}.b96{fill:#00a5e6;stroke:#00a5e6}.b97{fill:#00a7e6;stroke:#00a7e6}.b98{fill:#00a8e5;stroke:#00a8e5}.b99{fill:#00a9e4;stroke:#00a9e4}.b100{fill:#00aae4;stroke:#00aae4}.b101{fill:#00abe3;stroke:#00abe3}.b102{fill:#00ace2;stroke:#00ace2}.b103{fill:#00ade1;stroke:#00ade1}.b104{fill:#00aee0;stroke:#00aee0}.b105{fill:#00afdf;stroke:#00afdf}.b106{fill:#00b0dd;stroke:#00b0dd}.b107{fill:#00b1dc;stroke:#00b1dc}.b108{fill:#00b2db;stroke:#00b2db}.b109{fill:#00b3d8;stroke:#00b3d8}.b110{fill:#00b3d7;stroke:#00b3d7}.b111{fill:#00b4d6;stroke:#00b4d6}.b112{fill:#00b4d4;stroke:#00b4d4}.b113{fill:#00b5d3;stroke:#00b5d3}.b114{fill:#00b6d1;stroke:#00b6d1}.b115{fill:#00b7d0;stroke:#00b7d0}.b116{fill:#00b8ce;stroke:#00b8ce}.b117{fill:#00b8cc;stroke:#00b8cc}.b118{fill:#00b9cb;stroke:#00b9cb}.b119{fill:#00bac9;stroke:#00bac9}.b120{fill:#00bbc8;stroke:#00bbc8}.b121{fill:#00bbc6;stroke:#00bbc6}.b122{fill:#00bcc4;stroke:#00bcc4}.b123{fill:#00bcc3;stroke:#00bcc3}.b124{fill:#00bdc1;stroke:#00bdc1}.b125{fill:#00bebe;stroke:#00bebe}.b126{fill:#00bebd;stroke:#00bebd}.b127{fill:#00bfbb;stroke:#00bfbb}.b128{fill:#00bfb9;stroke:#00bfb9}.b129{fill:#00c0b7;stroke:#00c0b7}.b130{fill:#00c1b6;stroke:#00c1b6}.b131{fill:#00c1b4;stroke:#00c1b4}.b132{fill:#00c2b2;stroke:#00c2b2}.b133{fill:#00c2b0;stroke:#00c2b0}.b134{fill:#00c3af;stroke:#00c3af}.b135{fill:#00c3ac;stroke:#00c3ac}.b136{fill:#00c4aa;stroke:#00c4aa}.b137{fill:#00c4a8;stroke:#00c4a8}.b138{fill:#00c5a6;stroke:#00c5a6}.b140{fill:#00c6a3;stroke:#00c6a3}.b141{fill:#00c6a1;stroke:#00c6a1}.b142{fill:#00c79f;stroke:#00c79f}.b143{fill:#00c89c;stroke:#00c89c}.b144{fill:#00c89a;stroke:#00c89a}.b145{fill:#00c998;stroke:#00c998}.b146{fill:#00c995;stroke:#00c995}.b147{fill:#00ca93;stroke:#00ca93}.b148{fill:#00ca90;stroke:#00ca90}.b149{fill:#00cb8e;stroke:#00cb8e}.b150{fill:#00cb8b;stroke:#00cb8b}.b151{fill:#00cb89;stroke:#00cb89}.b152{fill:#00cc86;stroke:#00cc86}.b153{fill:#00cc83;stroke:#00cc83}.b154{fill:#00cc81;stroke:#00cc81}.b155{fill:#00cd7d;stroke:#00cd7d}.b156{fill:#00cd7b;stroke:#00cd7b}.b157{fill:#00cd78;stroke:#00cd78}.b158{fill:#00cd76;stroke:#00cd76}.b159{fill:#00cd72;stroke:#00cd72}.b160{fill:#00ce6f;stroke:#00ce6f}.b161{fill:#00ce6c;stroke:#00ce6c}.b162{fill:#00ce69;stroke:#00ce69}.b163{fill:#00ce65;stroke:#00ce65}.b164{fill:#00ce62;stroke:#00ce62}.b165{fill:#00ce5e;stroke:#00ce5e}.b166{fill:#00ce5c;stroke:#00ce5c}.b167{fill:#1ecd58;stroke:#1ecd58}.b168{fill:#2ecd55;stroke:#2ecd55}.b169{fill:#3ecd51;stroke:#3ecd51}.b170{fill:#4acd4e;stroke:#4acd4e}.b172{fill:#5dcc47;stroke:#5dcc47}.b173{fill:#64cc44;stroke:#64cc44}.b174{fill:#6ccc40;stroke:#6ccc40}.b175{fill:#75cb3c;stroke:#75cb3c}.b177{fill:#83ca35;stroke:#83ca35}.b178{fill:#88ca30;stroke:#88ca30}.b179{fill:#8fc92c;stroke:#8fc92c}.b181{fill:#99c823;stroke:#99c823}.b182{fill:#a0c81f;stroke:#a0c81f}.b183{fill:#a5c71b;stroke:#a5c71b}.b184{fill:#abc717;stroke:#abc717}.b185{fill:#b0c612;stroke:#b0c612}.b186{fill:#b4c50c;stroke:#b4c50c}.b187{fill:#b9c504;stroke:#b9c504}.b189{fill:#c3c400;stroke:#c3c400}.b190{fill:#c8c300;stroke:#c8c300}.b191{fill:#ccc200;stroke:#ccc200}.b192{fill:#d0c200;stroke:#d0c200}.b193{fill:#d4c100;stroke:#d4c100}.b194{fill:#d7c000;stroke:#d7c000}.b195{fill:#dbc000;stroke:#dbc000}.b198{fill:#e6be00;stroke:#e6be00}.b199{fill:#ebbd00;stroke:#ebbd00}.b201{fill:#f1bd00;stroke:#f1bd00}.b202{fill:#f5bc04;stroke:#f5bc04}.b203{fill:#f8bc08;stroke:#f8bc08}.b204{fill:#fabb10;stroke:#fabb10}.b206{fill:#ffbb1c;stroke:#ffbb1c}.b207{fill:#ffbb20;stroke:#ffbb20}.b211{fill:#ffbb2c;stroke:#ffbb2c}.b215{fill:#ffbf28;stroke:#ffbf28}.b216{fill:#ffc125;stroke:#ffc125}.b221{fill:#ffc816;stroke:#ffc816}.b222{fill:#ffc913;stroke:#ffc913}.b225{fill:#ffce04;stroke:#ffce04}.b226{fill:#ffcf03;stroke:#ffcf03}.b228{fill:#ffd300;stroke:#ffd300}.b232{fill:#ffd900;stroke:#ffd900}.b237{fill:#fee100;stroke:#fee100}.b238{fill:#fde200;stroke:#fde200}.b245{fill:#f9ed00;stroke:#f9ed00}.b250{fill:#f8f400;stroke:#f8f400}.b255{fill:#f8fb00;stroke:#f8fb00}</style>
<g stroke-width="0.55" stroke-linejoin="miter" filter="url(#sb)"><path class="b47" d="M114.7 474.5l3-8.1-2.3-9.1-2.9 12.6z"/><path class="b77" d="M109.6 457.9l2.9 12-2.3-8-2.9 3.2z"/><path class="b44" d="M106.6 477.1l3-19.2-2.3 7.2-2.9 5.4z"/><path class="b52" d="M111.8 473.1l2.9 1.4-2.2-4.6-2.9-12z"/><path class="b68" d="M117 464.7l2.9 9.6-2.2-7.9-3 8.1z"/><path class="b60" d="M117.7 466.4l2.9-9.6-2.2 1.1-3-.6z"/><path class="b53" d="M112.5 469.9l2.9-12.6-2.2-13.8-3 18.4z"/><path class="b53" d="M104.4 470.5l2.9-5.4-2.2-18.1-3 13.8z"/><path class="b59" d="M103.7 470.1l2.9 7-2.2-6.6-3-8.9z"/><path class="b38" d="M105.9 483l3-12.9-2.3 7-2.9-7z"/><path class="b39" d="M119.2 482l3-10.4-2.3 2.7-2.9-9.6z"/><path class="b61" d="M107.3 465.1l2.9-3.2-2.2-17.5-2.9 2.6z"/><path class="b48" d="M119.9 474.3l3-21.2-2.3 3.7-2.9 9.6z"/><path class="b19" d="M117.9 498.8l2.9-8.2-2.2-4-3 4.5z"/><path class="b60" d="M108.9 470.1l2.9 3-2.2-15.2-3 19.2z"/><path class="b61" d="M114.1 469.9l2.9-5.2-2.3 9.8-2.9-1.4z"/><path class="b72" d="M101.4 461.6l3 8.9-2.3-9.7-2.9-6.3z"/><path class="b76" d="M120.6 456.8l3-3.4-2.3-14.8-2.9 19.3z"/><path class="b65" d="M110.2 461.9l3-18.4-2.3 .2-2.9 .7z"/><path class="b37" d="M94.2 488.5l2.9 4.3-2.2-6.1-3 1z"/><path class="b74" d="M115.4 457.3l3 .6-2.3-18.3-2.9 3.9z"/><path class="b61" d="M121.5 471.9l2.9 6.2-2.2-6.5-3 10.4z"/><path class="b48" d="M95.6 477.2l2.9-10.8-2.3-1-2.9 2.4z"/><path class="b55" d="M103 475.3l2.9 7.7-2.2-12.9-2.9 3.7z"/><path class="b16" d="M109.8 500.8l2.9-12.5-2.3-1.7-2.9 4.7z"/><path class="b64" d="M96.2 465.4l3-10.9-2.3 2.3-2.9 .2z"/><path class="b36" d="M118.6 486.6l2.9-14.7-2.3 10.1-2.9-7.4z"/><path class="b56" d="M122.2 471.6l2.9-11.7-2.2-6.8-3 21.2z"/><path class="b94" d="M108 444.4l2.9-.7-2.2-10.6-3 10.8z"/><path class="b31" d="M120.8 490.6l2.9-3.2-2.2-15.5-2.9 14.7z"/><path class="b52" d="M108.2 477.4l2.9-4.5-2.2-2.8-3 12.9z"/><path class="b58" d="M111.1 472.9l3-3-2.3 3.2-2.9-3z"/><path class="b55" d="M116.3 474.6l2.9 7.4-2.2-17.3-2.9 5.2z"/><path class="b82" d="M99.2 454.5l2.9 6.3-2.2-18.7-3 14.7z"/><path class="b77" d="M94 457l2.9-.2-2.2-12.7-2.9 6.6z"/><path class="b35" d="M123.7 487.4l3-6.8-2.3-2.5-2.9-6.2z"/><path class="b35" d="M94.9 486.7l2.9-15-2.2 5.5-3-4.2z"/><path class="b37" d="M114.9 490.1l3 8.7-2.3-7.7-2.9-2.8z"/><path class="b35" d="M91.9 487.7l3-1-2.3-13.7-2.9 4.9z"/><path class="b62" d="M93.3 467.8l2.9-2.4-2.2-8.4-2.9-.5z"/><path class="b30" d="M115.6 491.1l3-4.5-2.3-12-2.9 1.8z"/><path class="b96" d="M113.2 443.5l2.9-3.9-2.2 .1-3 4z"/><path class="b61" d="M97.8 471.7l3 2.1-2.3-7.4-2.9 10.8z"/><path class="b55" d="M100.8 473.8l2.9-3.7-2.3-8.5-2.9 4.8z"/><path class="b31" d="M120.1 493.7l3-6.9-2.3 3.8-2.9 8.2z"/><path class="b37" d="M112.7 488.3l2.9 2.8-2.2-14.7-3 10.2z"/><path class="b50" d="M105.2 479.1l3-1.7-2.3 5.6-2.9-7.7z"/><path class="b27" d="M97.1 492.8l3-17.7-2.3-3.4-2.9 15z"/><path class="b34" d="M106.8 492.5l3 8.3-2.3-9.5-2.9-.1z"/><path class="b57" d="M92.6 473l3 4.2-2.3-9.4-2.9-3.8z"/><path class="b93" d="M110.9 443.7l3-4-2.3-14.7-2.9 8.1z"/><path class="b65" d="M98.5 466.4l2.9-4.8-2.2-7.1-3 10.9z"/><path class="b85" d="M122.9 453.1l2.9-3.8-2.2 4.1-3 3.4z"/><path class="b75" d="M96.9 456.8l3-14.7-2.3 .8-2.9 1.2z"/><path class="b47" d="M124.4 478.1l3-14.5-2.3-3.7-2.9 11.7z"/><path class="b31" d="M107.5 491.3l2.9-4.7-2.2-9.2-3 1.7z"/><path class="b71" d="M118.4 457.9l2.9-19.3-2.2-8.7-3 9.7z"/><path class="b92" d="M105.1 447l2.9-2.6-2.3-.5-2.9-6.8z"/><path class="b101" d="M116.1 439.6l3-9.7-2.3 4.3-2.9 5.5z"/><path class="b46" d="M126.7 480.6l2.9-9.9-2.2-7.1-3 14.5z"/><path class="b33" d="M104.6 491.2l2.9 .1-2.3-12.2-2.9 9.2z"/><path class="b80" d="M91.1 456.5l2.9 .5-2.2-6.3-3 2z"/><path class="b46" d="M128.9 482l3-1.7-2.3-9.6-2.9 9.9z"/><path class="b68" d="M102.1 460.8l3-13.8-2.3-9.9-2.9 5z"/><path class="b107" d="M102.8 437.1l2.9 6.8-2.2-10.3-2.9-.4z"/><path class="b71" d="M90.4 464l2.9 3.8-2.2-11.3-3 8.7z"/><path class="b37" d="M110.4 486.6l3-10.2-2.3-3.5-2.9 4.5z"/><path class="b13" d="M100.9 506.3l3-9.5-2.3-.4-2.9 6.9z"/><path class="b55" d="M126 478.2l2.9 3.8-2.2-1.4-3 6.8z"/><path class="b92" d="M105.7 443.9l3-10.8-2.3-15.2-2.9 15.7z"/><path class="b54" d="M113.4 476.4l2.9-1.8-2.2-4.7-3 3z"/><path class="b41" d="M123.1 486.8l2.9-8.6-2.3 9.2-2.9 3.2z"/><path class="b33" d="M91.2 491.8l3-3.3-2.3-.8-2.9-5.8z"/><path class="b50" d="M99.4 481.8l2.9 6.5-2.2-13.2-3 17.7z"/><path class="b19" d="M95.7 502.7l3 .6-2.3-14.3-2.9 9.9z"/><path class="b66" d="M88.1 465.2l3-8.7-2.3-3.8-2.9-.1z"/><path class="b38" d="M112 490.6l2.9-.5-2.2-1.8-2.9 12.5z"/><path class="b90" d="M125.8 449.3l3-4.8-2.3-7.7-2.9 16.6z"/><path class="b20" d="M109.1 501.7l2.9-11.1-2.2 10.2-3-8.3z"/><path class="b38" d="M117.2 491.2l2.9 2.5-2.2 5.1-3-8.7z"/><path class="b26" d="M101.6 496.4l3-5.2-2.3-2.9-2.9-6.5z"/><path class="b80" d="M123.6 453.4l2.9-16.6-2.3-4.6-2.9 6.4z"/><path class="b39" d="M96.4 489l3-7.2-2.3 11-2.9-4.3z"/><path class="b57" d="M100.1 475.1l2.9 .2-2.2-1.5-3-2.1z"/><path class="b36" d="M102.3 488.3l2.9-9.2-2.2-3.8-2.9-.2z"/><path class="b98" d="M113.9 439.7l2.9-5.5-2.2-22.1-3 12.9z"/><path class="b23" d="M93.5 498.9l2.9-9.9-2.2-.5-3 3.3z"/><path class="b100" d="M99.9 442.1l2.9-5-2.2-3.9-3 9.7z"/><path class="b28" d="M103.9 496.8l2.9-4.3-2.2-1.3-3 5.2z"/><path class="b15" d="M98.7 503.3l2.9-6.9-2.2-14.6-3 7.2z"/><path class="b110" d="M108.7 433.1l2.9-8.1-2.2 .4-3-7.5z"/><path class="b76" d="M125.1 459.9l3-5.6-2.3-5-2.9 3.8z"/><path class="b31" d="M128.2 492.8l3-7.5-2.3-3.3-2.9-3.8z"/><path class="b38" d="M98 494l2.9 12.3-2.2-3-3-.6z"/><path class="b51" d="M89.7 477.9l2.9-4.9-2.2-9-3-.3z"/><path class="b43" d="M131.2 485.3l2.9-13.3-2.2 8.3-3 1.7z"/><path class="b61" d="M129.6 470.7l3-3.4-2.3-10.6-2.9 6.9z"/><path class="b48" d="M89 481.9l2.9 5.8-2.2-9.8-3-9.7z"/><path class="b47" d="M131.9 480.3l2.9-19.5-2.2 6.5-3 3.4z"/><path class="b72" d="M127.4 463.6l2.9-6.9-2.2-2.4-3 5.6z"/><path class="b16" d="M92.8 505.5l2.9-2.8-2.2-3.8-2.9-9z"/><path class="b41" d="M130.5 488.9l2.9-.6-2.2-3-3 7.5z"/><path class="b84" d="M128.1 454.3l2.9-8.8-2.2-1-3 4.8z"/><path class="b31" d="M122.4 495l2.9-4.5-2.2-3.7-3 6.9z"/><path class="b37" d="M125.3 490.5l2.9 2.3-2.2-14.6-2.9 8.6z"/><path class="b66" d="M132.6 467.3l2.9-10.6-2.3-2-2.9 2z"/><path class="b104" d="M121.3 438.6l2.9-6.4-2.2-8.6-2.9 6.3z"/><path class="b82" d="M130.3 456.7l2.9-2-2.2-9.2-2.9 8.8z"/><path class="b42" d="M90.6 489.9l2.9 9-2.3-7.1-2.9-2.7z"/><path class="b19" d="M111.3 503.8l2.9-9.3-2.2-3.9-2.9 11.1z"/><path class="b74" d="M87.4 463.7l3 .3-2.3 1.2-2.9-11z"/><path class="b37" d="M106.1 493.3l3 8.4-2.3-9.2-2.9 4.3z"/><path class="b34" d="M127.6 494.1l2.9-5.2-2.3 3.9-2.9-2.3z"/><path class="b16" d="M92.1 507.9l3 1.1-2.3-3.5-2.9 1.5z"/><path class="b117" d="M119.1 429.9l2.9-6.3-2.2-12.5-3 23.1z"/><path class="b12" d="M95.1 509l2.9-15-2.3 8.7-2.9 2.8z"/><path class="b33" d="M119.4 495.1l3-.1-2.3-1.3-2.9-2.5z"/><path class="b88" d="M85.2 454.2l2.9 11-2.2-12.6-3-3.8z"/><path class="b25" d="M103.2 501.2l2.9-7.9-2.2 3.5-3 9.5z"/><path class="b98" d="M131 445.5l2.9-8.3-2.2 2.6-2.9 4.7z"/><path class="b40" d="M88.3 489.1l2.9 2.7-2.2-9.9-2.9-2.8z"/><path class="b97" d="M128.8 444.5l2.9-4.7-2.3-17.9-2.9 14.9z"/><path class="b34" d="M114.2 494.5l3-3.3-2.3-1.1-2.9 .5z"/><path class="b7" d="M113.6 511.7l2.9-16.7-2.3-.5-2.9 9.3z"/><path class="b123" d="M111.6 425l3-12.9-2.3-9.4-2.9 22.7z"/><path class="b31" d="M124.6 496.7l3-2.6-2.3-3.6-2.9 4.5z"/><path class="b83" d="M135.5 456.7l2.9-7.5-2.2-1.8-3 7.3z"/><path class="b80" d="M134.8 460.8l3 1.1-2.3-5.2-2.9 10.6z"/><path class="b84" d="M133.2 454.7l3-7.3-2.3-10.2-2.9 8.3z"/><path class="b30" d="M132.8 496.7l2.9-7.5-2.3-.9-2.9 .6z"/><path class="b14" d="M112.9 510.5l2.9 .7-2.2 .5-3-2.9z"/><path class="b15" d="M110.6 508.8l3 2.9-2.3-7.9-2.9-8.2z"/><path class="b114" d="M124.2 432.2l3-10.6-2.3-3.1-2.9 5.1z"/><path class="b40" d="M83.1 489l3-9.9-2.3 1.5-2.9 3z"/><path class="b28" d="M129.8 498.9l3-2.2-2.3-7.8-2.9 5.2z"/><path class="b106" d="M116.8 434.2l3-23.1-2.3-1.1-2.9 2.1z"/><path class="b65" d="M134.1 472l3-2.7-2.3-8.5-2.9 19.5z"/><path class="b13" d="M129.1 509.9l3-6.8-2.3-4.2-2.9 5.3z"/><path class="b20" d="M126.9 504.2l2.9-5.3-2.2-4.8-3 2.6z"/><path class="b36" d="M108.4 495.6l2.9 8.2-2.2-2.1-3-8.4z"/><path class="b71" d="M86.7 468.2l3 9.7-2.3-14.2-2.9-1.4z"/><path class="b47" d="M80.9 483.6l2.9-3-2.2-8.4-3-2.7z"/><path class="b15" d="M89.9 507l2.9-1.5-2.2-15.6-3 1.9z"/><path class="b40" d="M133.4 488.3l3-15.5-2.3-.8-2.9 13.3z"/><path class="b108" d="M126.5 436.8l2.9-14.9-2.2-.3-3 10.6z"/><path class="b23" d="M132.1 503.1l2.9-5.8-2.2-.6-3 2.2z"/><path class="b11" d="M115.8 511.2l3-9.9-2.3-6.3-2.9 16.7z"/><path class="b56" d="M86.1 479.1l2.9 2.8-2.3-13.7-2.9 12.4z"/><path class="b42" d="M80.2 488.8l2.9 .2-2.2-5.4-3-1.8z"/><path class="b33" d="M121.7 496.6l2.9 .1-2.2-1.7-3 .1z"/><path class="b16" d="M123.9 507.9l3-3.7-2.3-7.5-2.9-.1z"/><path class="b75" d="M82.2 462.8l3-8.6-2.3-5.4-2.9 9.2z"/><path class="b31" d="M100.2 499l3 2.2-2.3 5.1-2.9-12.3z"/><path class="b50" d="M83.8 480.6l2.9-12.4-2.2-5.9-2.9 9.9z"/><path class="b36" d="M116.5 495l2.9 .1-2.2-3.9-3 3.3z"/><path class="b9" d="M102.5 512.7l2.9-5.4-2.2-6.1-3-2.2z"/><path class="b48" d="M85.4 486.2l2.9 2.9-2.2-10-3 9.9z"/><path class="b79" d="M84.5 462.3l2.9 1.4-2.2-9.5-3 8.6z"/><path class="b8" d="M121 513l2.9-5.1-2.2-11.3-2.9 4.7z"/><path class="b29" d="M126.2 502l2.9 7.9-2.2-5.7-3 3.7z"/><path class="b27" d="M89.2 503.4l2.9 4.5-2.2-.9-3-.5z"/><path class="b19" d="M104.7 508.8l3 2.1-2.3-3.6-2.9 5.4z"/><path class="b13" d="M107.7 510.9l2.9-2.1-2.2-13.2-3 11.7z"/><path class="b11" d="M99.6 512.7l2.9 0-2.3-13.7-2.9 10.6z"/><path class="b14" d="M97.3 509.6l2.9-10.6-2.2-5-2.9 15z"/><path class="b66" d="M136.4 472.8l2.9 5-2.2-8.5-3 2.7z"/><path class="b31" d="M94.4 501.7l2.9 7.9-2.2-.6-3-1.1z"/><path class="b31" d="M135 497.3l2.9-11.4-2.2 3.3-2.9 7.5z"/><path class="b68" d="M137.1 469.3l2.9-9.9-2.2 2.5-3-1.1z"/><path class="b76" d="M137.8 461.9l2.9-18-2.3 5.3-2.9 7.5z"/><path class="b127" d="M122 423.6l2.9-5.1-2.2-14.9-2.9 7.5z"/><path class="b103" d="M131.7 439.8l2.9-18-2.2 .9-3-.8z"/><path class="b17" d="M105.4 507.3l3-11.7-2.3-2.3-2.9 7.9z"/><path class="b27" d="M118.1 504.2l2.9 8.8-2.2-11.7-3 9.9z"/><path class="b111" d="M133.9 437.2l3-8.9-2.3-6.5-2.9 18z"/><path class="b18" d="M86.9 506.5l3 .5-2.3-15.2-2.9-.1z"/><path class="b63" d="M81.6 472.2l2.9-9.9-2.3 .5-2.9-8.2z"/><path class="b40" d="M87.6 491.8l3-1.9-2.3-.8-2.9-2.9z"/><path class="b41" d="M135.7 489.2l2.9-13.5-2.2-2.9-3 15.5z"/><path class="b27" d="M118.8 501.3l2.9-4.7-2.3-1.5-2.9-.1z"/><path class="b55" d="M139.3 477.8l2.9-15.5-2.2-2.9-2.9 9.9z"/><path class="b95" d="M136.2 447.4l2.9-14-2.2-5.1-3 8.9z"/><path class="b144" d="M114.6 412.1l2.9-2.1-2.3-9.8-2.9 2.5z"/><path class="b20" d="M123.2 508.1l3-6.1-2.3 5.9-2.9 5.1z"/><path class="b52" d="M77.9 481.8l3 1.8-2.3-14.1-2.9 .9z"/><path class="b147" d="M119.8 411.1l2.9-7.5-2.3 .8-2.9 5.6z"/><path class="b53" d="M82.4 484.4l3 1.8-2.3 2.8-2.9-.2z"/><path class="b146" d="M117.5 410l2.9-5.6-2.2-14.6-3 10.4z"/><path class="b31" d="M109.9 502.9l3 7.6-2.3-1.7-2.9 2.1z"/><path class="b94" d="M138.4 449.2l3-16.9-2.3 1.1-2.9 14z"/><path class="b12" d="M96.6 513.3l3-.6-2.3-3.1-2.9-7.9z"/><path class="b35" d="M137.2 496.7l3 2.2-2.3-13-2.9 11.4z"/><path class="b20" d="M115.1 509.1l3-4.9-2.3 7-2.9-.7z"/><path class="b133" d="M129.4 421.9l3 .8-2.3-16.9-2.9 15.8z"/><path class="b131" d="M127.2 421.6l2.9-15.8-2.2-2.4-3 15.1z"/><path class="b25" d="M101.8 506.6l2.9 2.2-2.2 3.9-2.9 0z"/><path class="b12" d="M120.3 513.9l2.9-5.8-2.2 4.9-2.9-8.8z"/><path class="b29" d="M131.4 502.8l2.9-8.1-2.2 8.4-3 6.8z"/><path class="b92" d="M79.3 454.6l2.9 8.2-2.2-4.8-2.9-14.7z"/><path class="b36" d="M76.6 496.3l2.9-.4-2.3-9.8-2.9 9.8z"/><path class="b41" d="M134.3 494.7l2.9 2-2.2 .6-2.9 5.8z"/><path class="b30" d="M84 501.1l2.9 5.4-2.2-14.8-3 8.9z"/><path class="b49" d="M77.2 486.1l3 2.7-2.3-7-2.9-5.3z"/><path class="b34" d="M79.5 495.9l2.9-11.5-2.2 4.4-3-2.7z"/><path class="b134" d="M124.9 418.5l3-15.1-2.3-5.6-2.9 5.8z"/><path class="b30" d="M78.8 500.8l2.9-.2-2.2-4.7-2.9 .4z"/><path class="b14" d="M91.4 511.8l3-10.1-2.3 6.2-2.9-4.5z"/><path class="b26" d="M139.5 503.6l2.9-9.2-2.2 4.5-3-2.2z"/><path class="b6" d="M122.6 518.4l2.9-3.5-2.3-6.8-2.9 5.8z"/><path class="b64" d="M138.6 475.7l3-9.6-2.3 11.7-2.9-5z"/><path class="b70" d="M78.6 469.5l3 2.7-2.3-17.6-2.9 .8z"/><path class="b64" d="M75 476.5l2.9 5.3-2.2-11.4-2.9 8.1z"/><path class="b25" d="M128.4 506l3-3.2-2.3 7.1-2.9-7.9z"/><path class="b50" d="M137.9 485.9l3-5.9-2.3-4.3-2.9 13.5z"/><path class="b24" d="M86.2 506l3-2.6-2.3 3.1-2.9-5.4z"/><path class="b29" d="M81.7 500.6l3-8.9-2.3-7.3-2.9 11.5z"/><path class="b43" d="M84.7 491.7l2.9 .1-2.2-5.6-3-1.8z"/><path class="b17" d="M98.9 512.5l2.9-5.9-2.2 6.1-3 .6z"/><path class="b84" d="M140 459.4l2.9-16.2-2.2 .7-2.9 18z"/><path class="b46" d="M73.6 491.7l3 4.6-2.3-.4-2.9-.5z"/><path class="b11" d="M125.5 514.9l2.9-8.9-2.2-4-3 6.1z"/><path class="b79" d="M141.6 466.1l2.9-4-2.3 .2-2.9 15.5z"/><path class="b19" d="M93.7 511l2.9 2.3-2.2-11.6-3 10.1z"/><path class="b29" d="M140.2 498.9l2.9-19.6-2.2 .7-3 5.9z"/><path class="b34" d="M81.1 500.5l2.9 .6-2.3-.5-2.9 .2z"/><path class="b17" d="M112.2 511.8l2.9-2.7-2.2 1.4-3-7.6z"/><path class="b11" d="M124.8 517.3l3-1.2-2.3-1.2-2.9 3.5z"/><path class="b59" d="M140.9 480l2.9 1.7-2.2-15.6-3 9.6z"/><path class="b58" d="M72.8 478.5l2.9-8.1-2.3-10.8-2.9 6.3z"/><path class="b6" d="M95.9 519.3l3-6.8-2.3 .8-2.9-2.3z"/><path class="b158" d="M122.7 403.6l2.9-5.8-2.2-17.1-3 23.7z"/><path class="b29" d="M107 504.8l2.9-1.9-2.2 8-3-2.1z"/><path class="b31" d="M136.6 501.8l2.9 1.8-2.3-6.9-2.9-2z"/><path class="b87" d="M73.4 459.6l3-4.2-2.3 1.5-2.9 4.4z"/><path class="b19" d="M138.8 509.7l3-6.7-2.3 .6-2.9-1.8z"/><path class="b70" d="M75.7 470.4l2.9-.9-2.2-14.1-3 4.2z"/><path class="b33" d="M74.3 495.9l2.9-9.8-2.2-9.6-2.9-2.9z"/><path class="b8" d="M119.6 518.7l3-.3-2.3-4.5-2.9-7.9z"/><path class="b11" d="M127.8 516.1l2.9-8.2-2.3-1.9-2.9 8.9z"/><path class="b32" d="M88.5 503.5l2.9 8.3-2.2-8.4-3 2.6z"/><path class="b40" d="M142.4 494.4l3-7.1-2.3-8-2.9 19.6z"/><path class="b37" d="M71.4 495.4l2.9 .5-2.2-22.3-3 9.2z"/><path class="b63" d="M143.1 479.3l3 .4-2.3 2-2.9-1.7z"/><path class="b29" d="M117.4 506l2.9 7.9-2.2-9.7-3 4.9z"/><path class="b54" d="M143.8 481.7l3-12-2.3-7.6-2.9 4z"/><path class="b24" d="M130.7 507.9l2.9 .4-2.2-5.5-3 3.2z"/><path class="b33" d="M75.9 500.3l2.9 .5-2.2-4.5-3-4.6z"/><path class="b21" d="M133.6 508.3l3-6.5-2.3-7.1-2.9 8.1z"/><path class="b8" d="M93 519.5l2.9-.2-2.2-8.3-3 4.7z"/><path class="b93" d="M76.4 455.4l2.9-.8-2.2-11.3-3 13.6z"/><path class="b30" d="M141.8 503l2.9-9.3-2.3 .7-2.9 9.2z"/><path class="b107" d="M140.7 443.9l2.9-14.2-2.2 2.6-3 16.9z"/><path class="b134" d="M134.6 421.8l3-23.5-2.3 8.3-2.9 16.1z"/><path class="b12" d="M90.7 515.7l3-4.7-2.3 .8-2.9-8.3z"/><path class="b81" d="M142.2 462.3l3-12.5-2.3-6.6-2.9 16.2z"/><path class="b28" d="M135.9 506l2.9 3.7-2.2-7.9-3 6.5z"/><path class="b10" d="M114.4 517l3-11-2.3 3.1-2.9 2.7z"/><path class="b6" d="M109.2 518.8l3-7-2.3-8.9-2.9 1.9z"/><path class="b78" d="M70.5 465.9l2.9-6.3-2.2 1.7-3-8.5z"/><path class="b84" d="M144.5 462.1l2.9-1.5-2.2-10.8-3 12.5z"/><path class="b9" d="M87.8 518.7l2.9-3-2.2-12.2-2.9 13.7z"/><path class="b8" d="M132.9 518.5l3-12.5-2.3 2.3-2.9-.4z"/><path class="b33" d="M83.3 502.6l2.9 3.4-2.2-4.9-2.9-.6z"/><path class="b16" d="M141.1 512.9l2.9-9.7-2.2-.2-3 6.7z"/><path class="b130" d="M132.4 422.7l2.9-16.1-2.2-19.2-3 18.4z"/><path class="b25" d="M111.5 510.3l2.9 6.7-2.2-5.2-3 7z"/><path class="b72" d="M72.1 473.6l2.9 2.9-2.2 2-3-9.7z"/><path class="b56" d="M68.4 485.8l3 9.6-2.3-12.6-2.9 6.2z"/><path class="b12" d="M84.9 518.4l2.9 .3-2.2-1.5-3-2.9z"/><path class="b9" d="M85.6 517.2l2.9-13.7-2.3 2.5-2.9-3.4z"/><path class="b60" d="M146.1 479.7l2.9-19.6-2.2 9.6-3 12z"/><path class="b28" d="M104.1 506.5l2.9-1.7-2.3 4-2.9-2.2z"/><path class="b28" d="M121.9 509.7l2.9 7.6-2.2 1.1-3 .3z"/><path class="b118" d="M139.1 433.4l3-15-2.3-15-2.9 24.9z"/><path class="b41" d="M78.1 497.7l3 2.8-2.3 .3-2.9-.5z"/><path class="b35" d="M70.7 499.1l2.9-7.4-2.2 3.7-3-9.6z"/><path class="b23" d="M98.2 512l2.9 3.3-2.2-2.8-3 6.8z"/><path class="b78" d="M69.8 468.8l3 9.7-2.3-12.6-2.9-7.8z"/><path class="b29" d="M130 508.2l2.9 10.3-2.2-10.6-2.9 8.2z"/><path class="b154" d="M120.4 404.4l3-23.7-2.3-11.2-2.9 20.3z"/><path class="b14" d="M101.1 515.3l3-8.8-2.3 .1-2.9 5.9z"/><path class="b3" d="M95.2 523.9l3-11.9-2.3 7.3-2.9 .2z"/><path class="b48" d="M66.2 489l2.9-6.2-2.2-6.2-3 .8z"/><path class="b29" d="M138.1 507.4l3 5.5-2.3-3.2-2.9-3.7z"/><path class="b24" d="M90.1 511.9l2.9 7.6-2.3-3.8-2.9 3z"/><path class="b16" d="M82.6 514.3l3 2.9-2.3-14.6-2.9 1.3z"/><path class="b44" d="M144.7 493.7l2.9-8.9-2.2 2.5-3 7.1z"/><path class="b111" d="M142.9 443.2l3-.5-2.3-13-2.9 14.2z"/><path class="b26" d="M106.3 509.1l2.9 9.7-2.2-14-2.9 1.7z"/><path class="b57" d="M69.1 482.8l3-9.2-2.3-4.8-2.9 7.8z"/><path class="b31" d="M116.7 507.4l2.9 11.3-2.2-12.7-3 11z"/><path class="b125" d="M136.9 428.3l2.9-24.9-2.2-5.1-3 23.5z"/><path class="b16" d="M135.2 515.4l2.9-8-2.2-1.4-3 12.5z"/><path class="b73" d="M146.8 469.7l2.9-22.2-2.3 13.1-2.9 1.5z"/><path class="b28" d="M143.3 508.4l2.9 2.1-2.2-7.3-2.9 9.7z"/><path class="b50" d="M72.9 492.7l3 7.6-2.3-8.6-2.9 7.4z"/><path class="b7" d="M108.6 521.1l2.9-10.8-2.3 8.5-2.9-9.7z"/><path class="b159" d="M127.9 403.4l2.9-17.3-2.2-11.5-3 23.2z"/><path class="b51" d="M145.4 487.3l2.9-17-2.2 9.4-3-.4z"/><path class="b158" d="M130.1 405.8l3-18.4-2.3-1.3-2.9 17.3z"/><path class="b19" d="M127.1 514.4l2.9-6.2-2.2 7.9-3 1.2z"/><path class="b123" d="M141.4 432.3l2.9-23.6-2.2 9.7-3 15z"/><path class="b20" d="M70 510.2l2.9-17.5-2.2 6.4-3-4.1z"/><path class="b66" d="M63.9 477.4l3-.8-2.3-8.3-2.9-.3z"/><path class="b17" d="M132.2 516.1l3-.7-2.3 3.1-2.9-10.3z"/><path class="b15" d="M77.4 514.6l3-10.7-2.3-6.2-2.9 9z"/><path class="b45" d="M67.7 495l3 4.1-2.3-13.3-2.9 7.5z"/><path class="b3" d="M97.5 525.5l2.9-4.6-2.2-8.9-3 11.9z"/><path class="b32" d="M144 503.2l2.9-13.3-2.2 3.8-2.9 9.3z"/><path class="b28" d="M67.1 506.9l2.9 3.3-2.3-15.2-2.9 4z"/><path class="b32" d="M80.4 503.9l2.9-1.3-2.2-2.1-3-2.8z"/><path class="b65" d="M66.9 476.6l2.9-7.8-2.2-10.7-3 10.2z"/><path class="b9" d="M100.4 520.9l3-4.8-2.3-.8-2.9-3.3z"/><path class="b25" d="M79.7 510.6l2.9 3.7-2.2-10.4-3 10.7z"/><path class="b6" d="M105.6 523.2l3-2.1-2.3-12-2.9 7z"/><path class="b16" d="M103.4 516.1l2.9-7-2.2-2.6-3 8.8z"/><path class="b45" d="M65.5 493.3l2.9-7.5-2.2 3.2-3-8.6z"/><path class="b31" d="M72.2 505.3l3 1.4-2.3-14-2.9 17.5z"/><path class="b5" d="M102.7 524.6l2.9-1.4-2.2-7.1-3 4.8z"/><path class="b27" d="M75.2 506.7l2.9-9-2.2 2.6-3-7.6z"/><path class="b13" d="M87.1 519.2l3-7.3-2.3 6.8-2.9-.3z"/><path class="b9" d="M113.8 520.7l2.9-13.3-2.3 9.6-2.9-6.7z"/><path class="b5" d="M118.9 523l3-13.3-2.3 9-2.9-11.3z"/><path class="b94" d="M67.6 458.1l2.9 7.8-2.3-13.1-2.9-1.7z"/><path class="b34" d="M69.3 505.3l2.9 0-2.2 4.9-2.9-3.3z"/><path class="b102" d="M145.2 449.8l2.9-19.5-2.2 12.4-3 .5z"/><path class="b59" d="M147.6 484.8l3-.2-2.3-14.3-2.9 17z"/><path class="b34" d="M74.5 505.3l2.9 9.3-2.2-7.9-3-1.4z"/><path class="b54" d="M146.9 489.9l3 7.2-2.3-12.3-2.9 8.9z"/><path class="b66" d="M63.2 480.4l3 8.6-2.3-11.6-2.9-3.7z"/><path class="b8" d="M99.8 524.4l2.9 .2-2.3-3.7-2.9 4.6z"/><path class="b25" d="M92.3 512.9l2.9 11-2.2-4.4-2.9-7.6z"/><path class="b80" d="M148.3 470.3l2.9 5.6-2.2-15.8-2.9 19.6z"/><path class="b22" d="M81.9 514l3 4.4-2.3-4.1-2.9-3.7z"/><path class="b78" d="M64.6 468.3l3-10.2-2.3-7-2.9 11.6z"/><path class="b25" d="M110.8 513.1l3 7.6-2.3-10.4-2.9 10.8z"/><path class="b81" d="M61.7 468l2.9 .3-2.2-5.6-3-5.6z"/><path class="b21" d="M146.2 510.5l3-13.2-2.3-7.4-2.9 13.3z"/><path class="b167" d="M125.6 397.8l3-23.2-2.3-5.6-2.9 11.7z"/><path class="b59" d="M62.6 486.7l2.9 6.6-2.3-12.9-2.9 14z"/><path class="b21" d="M124.1 514.8l3-.4-2.3 2.9-2.9-7.6z"/><path class="b37" d="M140.4 504.2l2.9 4.2-2.2 4.5-3-5.5z"/><path class="b15" d="M76.7 517.4l3-6.8-2.3 4-2.9-9.3z"/><path class="b31" d="M64.1 506.2l3 .7-2.3-7.9-2.9 3.4z"/><path class="b13" d="M107.9 520.8l2.9-7.7-2.2 8-3 2.1z"/><path class="b7" d="M121.2 523.8l2.9-9-2.2-5.1-3 13.3z"/><path class="b39" d="M64.8 499l2.9-4-2.2-1.7-2.9-6.6z"/><path class="b8" d="M104.9 524.6l3-3.8-2.3 2.4-2.9 1.4z"/><path class="b39" d="M149.9 497.1l2.9-23.7-2.2 11.2-3 .2z"/><path class="b13" d="M84.2 520.2l2.9-1-2.2-.8-3-4.4z"/><path class="b37" d="M148.5 503.4l2.9 2.6-2.2-8.7-3 13.2z"/><path class="b57" d="M150.6 484.6l2.9-16.8-2.3 8.1-2.9-5.6z"/><path class="b30" d="M116 510.9l2.9 12.1-2.2-15.6-2.9 13.3z"/><path class="b110" d="M145.9 442.7l2.9-18-2.2-8.8-3 13.8z"/><path class="b85" d="M147.4 460.6l3-27-2.3-3.3-2.9 19.5z"/><path class="b12" d="M79 520.4l2.9-6.4-2.2-3.4-3 6.8z"/><path class="b26" d="M94.6 514l2.9 11.5-2.3-1.6-2.9-11z"/><path class="b21" d="M134.5 515.4l2.9-6.4-2.2 6.4-3 .7z"/><path class="b68" d="M151.2 475.9l3-10.5-2.3-12.7-2.9 7.4z"/><path class="b27" d="M129.3 511.7l2.9 4.4-2.2-7.9-2.9 6.2z"/><path class="b31" d="M66.4 507.9l2.9-2.6-2.2 1.6-3-.7z"/><path class="b13" d="M76.1 521l2.9-.6-2.3-3-2.9-.6z"/><path class="b75" d="M61 473.7l2.9 3.7-2.2-9.4-3-5.6z"/><path class="b131" d="M143.6 429.7l3-13.8-2.3-7.2-2.9 23.6z"/><path class="b16" d="M118.2 520.1l3 3.7-2.3-.8-2.9-12.1z"/><path class="b94" d="M149 460.1l2.9-7.4-2.2-5.2-2.9 22.2z"/><path class="b175" d="M137.6 398.3l2.9-2.7-2.3-16.1-2.9 27.1z"/><path class="b42" d="M60.3 494.4l2.9-14-2.2-6.7-2.9-3.1z"/><path class="b64" d="M57.4 483.9l2.9 10.5-2.2-23.8-3 15.9z"/><path class="b31" d="M137.4 509l3-4.8-2.3 3.2-2.9 8z"/><path class="b136" d="M148.1 430.3l3 .8-2.3-6.4-2.9 18z"/><path class="b26" d="M61.2 510l2.9-3.8-2.2-3.8-3-2.8z"/><path class="b44" d="M149.2 497.3l2.9-13.6-2.2 13.4-3-7.2z"/><path class="b4" d="M131.6 525.8l2.9-10.4-2.3 .7-2.9-4.4z"/><path class="b1" d="M96.8 529.4l3-5-2.3 1.1-2.9-11.5z"/><path class="b45" d="M145.6 500.6l2.9 2.8-2.3 7.1-2.9-2.1z"/><path class="b112" d="M149.7 447.5l2.9-1-2.2-12.9-3 27z"/><path class="b35" d="M61.9 502.4l2.9-3.4-2.2-12.3-3 2.2z"/><path class="b57" d="M59.6 488.9l3-2.2-2.3 7.7-2.9-10.5z"/><path class="b53" d="M54.4 491l3-7.1-2.3 2.6-2.9-.1z"/><path class="b86" d="M153.5 467.8l2.9-8.2-2.2 5.8-3 10.5z"/><path class="b13" d="M113.1 521.1l2.9-10.2-2.2 9.8-3-7.6z"/><path class="b17" d="M123.4 519.5l3-1.5-2.3-3.2-2.9 9z"/><path class="b14" d="M70.9 520.5l2.9-3.7-2.2-11.3-3 14.3z"/><path class="b18" d="M126.4 518l2.9-6.3-2.2 2.7-3 .4z"/><path class="b21" d="M150.8 514.1l2.9-13.9-2.3 5.8-2.9-2.6z"/><path class="b29" d="M63.4 510.4l3-2.5-2.3-1.7-2.9 3.8z"/><path class="b18" d="M73.8 516.8l2.9 .6-2.2-12.1-2.9 .2z"/><path class="b195" d="M123.4 380.7l2.9-11.7-2.2-9.7-3 10.2z"/><path class="b43" d="M58.9 499.6l3 2.8-2.3-13.5-2.9 9.9z"/><path class="b4" d="M120.5 528l2.9-8.5-2.2 4.3-3-3.7z"/><path class="b12" d="M68.6 519.8l3-14.3-2.3-.2-2.9 2.6z"/><path class="b8" d="M86.4 524.4l3-12.2-2.3 7-2.9 1z"/><path class="b36" d="M71.6 505.5l2.9-.2-2.3 0-2.9 0z"/><path class="b80" d="M152.8 473.4l3 5.4-2.3-11-2.9 16.8z"/><path class="b24" d="M102 517.4l2.9 7.2-2.2 0-2.9-.2z"/><path class="b14" d="M142.6 518.8l3-18.2-2.3 7.8-2.9-4.2z"/><path class="b14" d="M128.6 521.6l3 4.2-2.3-14.1-2.9 6.3z"/><path class="b29" d="M89.4 512.2l2.9 .7-2.2-1-3 7.3z"/><path class="b29" d="M81.2 513.1l3 7.1-2.3-6.2-2.9 6.4z"/><path class="b10" d="M133.8 524.4l3-9.1-2.3 .1-2.9 10.4z"/><path class="b18" d="M147.8 516.8l3-2.7-2.3-10.7-2.9-2.8z"/><path class="b31" d="M151.4 506l3-14.1-2.3-8.2-2.9 13.6z"/><path class="b41" d="M56.7 498.8l2.9-9.9-2.2-5-3 7.1z"/><path class="b13" d="M67.9 522.1l3-1.6-2.3-.7-2.9-10.1z"/><path class="b157" d="M135.3 406.6l2.9-27.1-2.2-9-2.9 16.9z"/><path class="b93" d="M58.7 462.4l3 5.6-2.3-10.9-2.9-.6z"/><path class="b26" d="M144.9 513.6l2.9 3.2-2.2-16.2-3 18.2z"/><path class="b28" d="M139.7 512.3l2.9 6.5-2.2-14.6-3 4.8z"/><path class="b33" d="M65.7 509.7l2.9 10.1-2.2-11.9-3 2.5z"/><path class="b56" d="M55.1 486.5l3-15.9-2.3-1.3-2.9 1.1z"/><path class="b189" d="M133.1 387.4l2.9-16.9-2.2 3.6-3 12z"/><path class="b24" d="M110.1 516.1l3 5-2.3-8-2.9 7.7z"/><path class="b66" d="M152.1 483.7l3-3.4-2.3-6.9-2.9 23.7z"/><path class="b20" d="M141.9 518.1l3-4.5-2.3 5.2-2.9-6.5z"/><path class="b144" d="M142.1 418.4l2.9-20.2-2.2-13-3 18.2z"/><path class="b169" d="M139.8 403.4l3-18.2-2.3 10.4-2.9 2.7z"/><path class="b32" d="M73.1 512.1l3 8.9-2.3-4.2-2.9 3.7z"/><path class="b58" d="M52.2 486.4l2.9 .1-2.2-16.1-3-3.4z"/><path class="b83" d="M55.8 469.3l2.9-6.9-2.2-5.9-2.9 9.5z"/><path class="b12" d="M125.7 524l2.9-2.4-2.2-3.6-3 1.5z"/><path class="b83" d="M58.1 470.6l2.9 3.1-2.3-11.3-2.9 6.9z"/><path class="b44" d="M153.7 500.2l2.9-6.1-2.2-2.2-3 14.1z"/><path class="b189" d="M130.8 386.1l3-12-2.3-16.8-2.9 17.3z"/><path class="b28" d="M130.9 515.4l2.9 9-2.2 1.4-3-4.2z"/><path class="b68" d="M155.8 478.8l2.9-11.3-2.3-7.9-2.9 8.2z"/><path class="b24" d="M136.8 515.3l2.9-3-2.3-3.3-2.9 6.4z"/><path class="b9" d="M117.6 526.4l2.9 1.6-2.3-7.9-2.9-2.7z"/><path class="b23" d="M115.3 517.4l2.9 2.7-2.2-9.2-2.9 10.2z"/><path class="b5" d="M141.2 529.1l3-6.8-2.3-4.2-2.9 7.7z"/><path class="b12" d="M122.7 524.9l3-.9-2.3-4.5-2.9 8.5z"/><path class="b13" d="M136.1 524.3l2.9 1.5-2.2-10.5-3 9.1z"/><path class="b60" d="M51.5 488.3l2.9 2.7-2.2-4.6-3-7.4z"/><path class="b8" d="M139 525.8l2.9-7.7-2.2-5.8-2.9 3z"/><path class="b24" d="M107.2 517.6l2.9-1.5-2.2 4.7-3 3.8z"/><path class="b65" d="M53.8 487.1l2.9 11.7-2.3-7.8-2.9-2.7z"/><path class="b42" d="M58.2 502.7l3 7.3-2.3-10.4-2.9-2.6z"/><path class="b35" d="M60.5 508.2l2.9 2.2-2.2-.4-3-7.3z"/><path class="b28" d="M78.3 514.3l2.9-1.2-2.2 7.3-2.9 .6z"/><path class="b34" d="M150.1 509.6l2.9-8.2-2.2 12.7-3 2.7z"/><path class="b3" d="M119.8 531.3l2.9-6.4-2.2 3.1-2.9-1.6z"/><path class="b105" d="M151.9 452.7l3-14.8-2.3 8.6-2.9 1z"/><path class="b83" d="M52.9 470.4l2.9-1.1-2.2-3.3-3-9.4z"/><path class="b28" d="M99.1 516.1l2.9 1.3-2.2 7-3 5z"/><path class="b30" d="M83.5 513.8l2.9 10.6-2.2-4.2-3-7.1z"/><path class="b16" d="M91.6 520.6l3-6.6-2.3-1.1-2.9-.7z"/><path class="b21" d="M88.7 519l2.9 1.6-2.2-8.4-3 12.2z"/><path class="b165" d="M144.3 408.7l2.9-18.5-2.2 8-2.9 20.2z"/><path class="b50" d="M56 497l2.9 2.6-2.2-.8-2.9-11.7z"/><path class="b27" d="M93.9 516.1l2.9 13.3-2.2-15.4-3 6.6z"/><path class="b28" d="M147.1 513.8l3-4.2-2.3 7.2-2.9-3.2z"/><path class="b133" d="M150.4 433.6l2.9-9.4-2.2 6.9-3-.8z"/><path class="b19" d="M70.2 520.3l2.9-8.2-2.2 8.4-3 1.6z"/><path class="b71" d="M155.1 480.3l2.9-11.8-2.2 10.3-3-5.4z"/><path class="b85" d="M154.2 465.4l2.9-21-2.2-6.5-3 14.8z"/><path class="b15" d="M144.2 522.3l2.9-8.5-2.2-.2-3 4.5z"/><path class="b215" d="M126.3 369l2.9-16-2.2-.6-2.9 6.9z"/><path class="b21" d="M138.3 521.7l2.9 7.4-2.2-3.3-2.9-1.5z"/><path class="b20" d="M112.4 519.9l2.9-2.5-2.2 3.7-3-5z"/><path class="b54" d="M154.4 491.9l2.9-10-2.2-1.6-3 3.4z"/><path class="b98" d="M156.4 459.6l3-8.4-2.3-6.8-2.9 21z"/><path class="b207" d="M128.6 374.6l2.9-17.3-2.3-4.3-2.9 16z"/><path class="b74" d="M49.2 479l3 7.4-2.3-19.4-2.9 9.5z"/><path class="b47" d="M153 501.4l2.9-3.6-2.2 2.4-2.9 13.9z"/><path class="b16" d="M104.2 523.1l3-5.5-2.3 7-2.9-7.2z"/><path class="b90" d="M158 468.5l2.9-4.9-2.2 3.9-2.9 11.3z"/><path class="b9" d="M116.9 529.1l2.9 2.2-2.2-4.9-3 1.6z"/><path class="b14" d="M127.9 524.4l3-9-2.3 6.2-2.9 2.4z"/><path class="b11" d="M133.1 526.6l3-2.3-2.3 .1-2.9-9z"/><path class="b8" d="M114.6 528l3-1.6-2.3-9-2.9 2.5z"/><path class="b9" d="M125 528.4l2.9-4-2.2-.4-3 .9z"/><path class="b14" d="M151.6 524.6l3-2-2.3-3.5-2.9 3.2z"/><path class="b14" d="M85.8 524.4l2.9-5.4-2.3 5.4-2.9-10.6z"/><path class="b16" d="M149.4 522.3l2.9-3.2-2.2-9.5-3 4.2z"/><path class="b2" d="M106.5 532.2l2.9-5.6-2.2-9-3 5.5z"/><path class="b87" d="M158.7 467.5l2.9-11.7-2.2-4.6-3 8.4z"/><path class="b53" d="M156.6 494.1l3-10.8-2.3-1.4-2.9 10z"/><path class="b20" d="M75.4 520l2.9-5.7-2.2 6.7-3-8.9z"/><path class="b16" d="M154.6 522.6l2.9-7.2-2.3-4.7-2.9 8.4z"/><path class="b51" d="M155.9 497.8l3-1.6-2.3-2.1-2.9 6.1z"/><path class="b11" d="M122.1 528.2l2.9 .2-2.3-3.5-2.9 6.4z"/><path class="b10" d="M109.4 526.6l3-6.7-2.3-3.8-2.9 1.5z"/><path class="b44" d="M62.8 504.7l2.9 5-2.3 .7-2.9-2.2z"/><path class="b54" d="M50.8 494.5l3-7.4-2.3 1.2-2.9 3z"/><path class="b9" d="M67.2 526.7l3-6.4-2.3 1.8-2.9-14.4z"/><path class="b46" d="M47.9 499.9l2.9-5.4-2.2-3.2-3 .4z"/><path class="b43" d="M55.3 503.3l2.9-.6-2.2-5.7-2.9 4.7z"/><path class="b91" d="M49.9 467l3 3.4-2.3-13.8-2.9 9.2z"/><path class="b14" d="M111.7 526l2.9 2-2.2-8.1-3 6.7z"/><path class="b57" d="M48.6 491.3l2.9-3-2.3-9.3-2.9-.2z"/><path class="b76" d="M47 476.5l2.9-9.5-2.2-1.2-2.9 .8z"/><path class="b17" d="M90.9 522.9l3-6.8-2.3 4.5-2.9-1.6z"/><path class="b112" d="M152.6 446.5l3-27.3-2.3 5-2.9 9.4z"/><path class="b19" d="M152.3 519.1l2.9-8.4-2.2-9.3-2.9 8.2z"/><path class="b43" d="M53.1 501.7l2.9-4.7-2.2-9.9-3 7.4z"/><path class="b17" d="M69.5 524l2.9 .9-2.2-4.6-3 6.4z"/><path class="b5" d="M130.2 530.8l2.9-4.2-2.2-11.2-3 9z"/><path class="b141" d="M148.8 424.7l3-28.4-2.3 5.7-2.9 13.9z"/><path class="b154" d="M146.6 415.9l2.9-13.9-2.3-11.8-2.9 18.5z"/><path class="b22" d="M96.1 520.4l3-4.3-2.3 13.3-2.9-13.3z"/><path class="b3" d="M85.1 532.8l2.9-10.4-2.2 2-3 6.6z"/><path class="b13" d="M72.4 524.9l3-4.9-2.3-7.9-2.9 8.2z"/><path class="b8" d="M103.6 529.9l2.9 2.3-2.3-9.1-2.9-.7z"/><path class="b37" d="M146.4 512l3 10.3-2.3-8.5-2.9 8.5z"/><path class="b18" d="M135.4 524.5l2.9-2.8-2.2 2.6-3 2.3z"/><path class="b41" d="M158.2 504.8l2.9-2.8-2.2-5.8-3 1.6z"/><path class="b4" d="M82.8 531l3-6.6-2.3-10.6-2.9 .7z"/><path class="b20" d="M88 522.4l2.9 .5-2.2-3.9-2.9 5.4z"/><path class="b70" d="M157.3 481.9l2.9-12.6-2.2-.8-2.9 11.8z"/><path class="b19" d="M108.8 524.3l2.9 1.7-2.3 .6-2.9 5.6z"/><path class="b132" d="M151.1 431.1l2.9-28.6-2.2-6.2-3 28.4z"/><path class="b5" d="M90.2 532.1l3 .1-2.3-9.3-2.9-.5z"/><path class="b41" d="M65 507.7l2.9 14.4-2.2-12.4-2.9-5z"/><path class="b61" d="M50.1 493l3 8.7-2.3-7.2-2.9 5.4z"/><path class="b3" d="M93.2 532.2l2.9-11.8-2.2-4.3-3 6.8z"/><path class="b33" d="M155.2 510.7l3-5.9-2.3-7-2.9 3.6z"/><path class="b9" d="M79.9 529l2.9 2-2.2-16.5-3 8.3z"/><path class="b50" d="M57.6 501l2.9 7.2-2.3-5.5-2.9 .6z"/><path class="b19" d="M101.3 522.4l2.9 .7-2.2-5.7-2.9-1.3z"/><path class="b25" d="M127.2 521.1l3 9.7-2.3-6.4-2.9 4z"/><path class="b58" d="M45.6 491.7l3-.4-2.3-12.5-2.9 2.1z"/><path class="b29" d="M143.5 517.5l2.9-5.5-2.2 10.3-3 6.8z"/><path class="b16" d="M119.1 527.1l3 1.1-2.3 3.1-2.9-2.2z"/><path class="b20" d="M74.7 522.8l2.9 0-2.2-2.8-3 4.9z"/><path class="b2" d="M105.8 535l3-10.7-2.3 7.9-2.9-2.3z"/><path class="b77" d="M46.3 478.8l2.9 .2-2.2-2.5-2.9-8.5z"/><path class="b31" d="M80.6 514.5l2.9-.7-2.3-.7-2.9 1.2z"/><path class="b148" d="M153.3 424.2l2.9-9.8-2.2-11.9-2.9 28.6z"/><path class="b15" d="M148.7 525.6l2.9-1-2.2-2.3-3-10.3z"/><path class="b18" d="M77.6 522.8l3-8.3-2.3-.2-2.9 5.7z"/><path class="b26" d="M82.1 521.5l3 11.3-2.3-1.8-2.9-2z"/><path class="b52" d="M158.9 496.2l2.9-16.5-2.2 3.6-3 10.8z"/><path class="b71" d="M159.6 483.3l2.9-3.7-2.3-10.3-2.9 12.6z"/><path class="b27" d="M157.5 515.4l2.9-15.7-2.2 5.1-3 5.9z"/><path class="b25" d="M59.8 516.4l3-11.7-2.3 3.5-2.9-7.2z"/><path class="b97" d="M160.9 463.6l3-16.5-2.3 8.7-2.9 11.7z"/><path class="b54" d="M160.4 499.7l3 5.9-2.3-3.6-2.9 2.8z"/><path class="b29" d="M132.4 519.7l3 4.8-2.3 2.1-2.9 4.2z"/><path class="b29" d="M113.9 519.5l3 9.6-2.3-1.1-2.9-2z"/><path class="b24" d="M140.6 521.3l2.9-3.8-2.3 11.6-2.9-7.4z"/><path class="b94" d="M44.1 468l2.9 8.5-2.2-9.9-3-4.7z"/><path class="b35" d="M59.1 513.7l3 6.7-2.3-4-2.9-.2z"/><path class="b44" d="M161.1 502l3-9-2.3-13.3-2.9 16.5z"/><path class="b20" d="M62.1 520.4l2.9-12.7-2.2-3-3 11.7z"/><path class="b44" d="M156.8 508.9l3 9.4-2.3-2.9-2.9 7.2z"/><path class="b130" d="M154.9 437.9l2.9-16-2.2-2.7-3 27.3z"/><path class="b11" d="M100.6 529.7l3 .2-2.3-7.5-2.9 2.1z"/><path class="b18" d="M98.4 524.5l2.9-2.1-2.2-6.3-3 4.3z"/><path class="b12" d="M92.5 529.8l2.9-6.8-2.2 9.2-3-.1z"/><path class="b23" d="M95.4 523l3 1.5-2.3-4.1-2.9 11.8z"/><path class="b17" d="M76.9 526.2l3 2.8-2.3-6.2-2.9 0z"/><path class="b23" d="M87.3 523.8l2.9 8.3-2.2-9.7-2.9 10.4z"/><path class="b80" d="M161.8 479.7l3 5.7-2.3-5.8-2.9 3.7z"/><path class="b51" d="M44.9 498.2l3 1.7-2.3-8.2-2.9-12.8z"/><path class="b27" d="M56.9 516.2l2.9 .2-2.2-15.4-3 5.7z"/><path class="b39" d="M64.3 511.8l2.9 14.9-2.2-19-2.9 12.7z"/><path class="b58" d="M52.4 496.4l2.9 6.9-2.2-1.6-3-8.7z"/><path class="b10" d="M148 531.1l2.9-7.6-2.2 2.1-2.9 4.9z"/><path class="b25" d="M71.8 521.5l2.9 1.3-2.3 2.1-2.9-.9z"/><path class="b91" d="M160.2 469.3l3-8-2.3 2.3-2.9 4.9z"/><path class="b25" d="M159.8 518.3l2.9-11-2.3-7.6-2.9 15.7z"/><path class="b40" d="M163.4 505.6l2.9-21.5-2.2 8.9-3 9z"/><path class="b8" d="M145.8 530.5l2.9-4.9-2.3-13.6-2.9 5.5z"/><path class="b68" d="M164.8 485.4l2.9-10.5-2.3-9-2.9 13.7z"/><path class="b112" d="M159.4 451.2l2.9-15.6-2.2-6.3-3 15.1z"/><path class="b21" d="M124.3 524.6l2.9-3.5-2.2 7.3-2.9-.2z"/><path class="b24" d="M102.9 524l2.9 11-2.2-5.1-3-.2z"/><path class="b21" d="M150.9 523.5l3-9.7-2.3 10.8-2.9 1z"/><path class="b106" d="M161.6 455.8l3-18.5-2.3-1.7-2.9 15.6z"/><path class="b37" d="M153.9 513.8l2.9-4.9-2.2 13.7-3 2z"/><path class="b3" d="M116.2 535.1l2.9-8-2.2 2-3-9.6z"/><path class="b16" d="M159.1 525.8l2.9-4.6-2.2-2.9-3-9.4z"/><path class="b70" d="M47.2 489.4l2.9 3.6-2.2 6.9-3-1.7z"/><path class="b7" d="M108.1 533.7l2.9-5.5-2.2-3.9-3 10.7z"/><path class="b121" d="M157.1 444.4l3-15.1-2.3-7.4-2.9 16z"/><path class="b42" d="M54.6 506.7l3-5.7-2.3 2.3-2.9-6.9z"/><path class="b2" d="M89.6 536.3l2.9-6.5-2.3 2.3-2.9-8.3z"/><path class="b4" d="M79.2 534.7l2.9-13.2-2.2 7.5-3-2.8z"/><path class="b7" d="M97.7 532.8l2.9-3.1-2.2-5.2-3-1.5z"/><path class="b75" d="M43.4 480.9l2.9-2.1-2.2-10.8-3 .6z"/><path class="b12" d="M129.5 529.9l2.9-10.2-2.2 11.1-3-9.7z"/><path class="b160" d="M155.6 419.2l2.9-6.1-2.3 1.3-2.9 9.8z"/><path class="b75" d="M162.5 479.6l2.9-13.7-2.2-4.6-3 8z"/><path class="b22" d="M162 521.2l2.9-13.8-2.2-.1-2.9 11z"/><path class="b9" d="M121.4 532.1l2.9-7.5-2.2 3.6-3-1.1z"/><path class="b39" d="M66.6 513.2l2.9 10.8-2.3 2.7-2.9-14.9z"/><path class="b40" d="M53.9 510.4l3 5.8-2.3-9.5-2.9 2.2z"/><path class="b9" d="M74 531.6l2.9-5.4-2.2-3.4-2.9-1.3z"/><path class="b31" d="M137.6 518.8l3 2.5-2.3 .4-2.9 2.8z"/><path class="b22" d="M61.4 522.3l2.9-10.5-2.2 8.6-3-6.7z"/><path class="b15" d="M111 528.2l2.9-8.7-2.2 6.5-2.9-1.7z"/><path class="b16" d="M76.2 529.2l3 5.5-2.3-8.5-2.9 5.4z"/><path class="b30" d="M142.8 519.9l3 10.6-2.3-13-2.9 3.8z"/><path class="b40" d="M51.7 508.9l2.9-2.2-2.2-10.3-3 7.9z"/><path class="b59" d="M164.1 493l2.9-20.4-2.2 12.8-3-5.7z"/><path class="b11" d="M71.1 531.7l2.9-.1-2.2-10.1-3 8.2z"/><path class="b11" d="M94.8 532.2l2.9 .6-2.3-9.8-2.9 6.8z"/><path class="b15" d="M84.4 529.1l2.9-5.3-2.2 9-3-11.3z"/><path class="b42" d="M162.7 507.3l2.9-13.1-2.2 11.4-3-5.9z"/><path class="b3" d="M81.4 536.8l3-7.7-2.3-7.6-2.9 13.2z"/><path class="b25" d="M118.4 524.9l3 7.2-2.3-5-2.9 8z"/><path class="b84" d="M42.7 478.9l2.9 12.8-2.2-10.8-3-8.8z"/><path class="b4" d="M86.6 536.9l3-.6-2.3-12.5-2.9 5.3z"/><path class="b95" d="M41.1 468.6l3-.6-2.3-6.1-2.9 1.4z"/><path class="b12" d="M68.8 529.7l3-8.2-2.3 2.5-2.9-10.8z"/><path class="b26" d="M145.1 523.6l2.9 7.5-2.2-.6-3-10.6z"/><path class="b13" d="M91.8 532.4l3-.2-2.3-2.4-2.9 6.5z"/><path class="b64" d="M165.6 494.2l3 6.3-2.3-16.4-2.9 21.5z"/><path class="b14" d="M134.7 529.2l2.9-10.4-2.2 5.7-3-4.8z"/><path class="b3" d="M88.9 538.8l2.9-6.4-2.2 3.9-3 .6z"/><path class="b16" d="M131.8 529.1l2.9 .1-2.3-9.5-2.9 10.2z"/><path class="b104" d="M163.2 461.3l2.9-11.6-2.2-2.6-3 16.5z"/><path class="b94" d="M167 472.6l2.9-1-2.2 3.3-2.9 10.5z"/><path class="b93" d="M40.4 472.1l3 8.8-2.3-12.3-2.9 5.6z"/><path class="b8" d="M73.3 534.9l2.9-5.7-2.2 2.4-2.9 .1z"/><path class="b24" d="M156.1 522.5l3 3.3-2.3-16.9-2.9 4.9z"/><path class="b11" d="M83.7 534.1l2.9 2.8-2.2-7.8-3 7.7z"/><path class="b46" d="M49.4 504.3l3-7.9-2.3-3.4-2.9-3.6z"/><path class="b25" d="M113.2 524.3l3 10.8-2.3-15.6-2.9 8.7z"/><path class="b25" d="M105.1 525.2l3 8.5-2.3 1.3-2.9-11z"/><path class="b47" d="M56.2 508.3l2.9 5.4-2.2 2.5-3-5.8z"/><path class="b41" d="M167.9 508.6l2.9-9.8-2.2 1.7-3-6.3z"/><path class="b26" d="M126.6 523.4l2.9 6.5-2.3-8.8-2.9 3.5z"/><path class="b45" d="M164.9 507.4l3 1.2-2.3-14.4-2.9 13.1z"/><path class="b16" d="M68.1 530.3l3 1.4-2.3-2-2.9-3.2z"/><path class="b38" d="M161.3 515.1l2.9-4.8-2.2 10.9-2.9 4.6z"/><path class="b87" d="M38.2 474.2l2.9-5.6-2.2-5.3-3-.8z"/><path class="b29" d="M99.9 522.8l3 1.2-2.3 5.7-2.9 3.1z"/><path class="b125" d="M163.9 447.1l2.9-11.1-2.2 1.3-3 18.5z"/><path class="b17" d="M150.2 528.4l3-11.4-2.3 6.5-2.9 7.6z"/><path class="b15" d="M139.9 529.1l2.9-9.2-2.2 1.4-3-2.5z"/><path class="b14" d="M110.3 531.6l2.9-7.3-2.2 3.9-2.9 5.5z"/><path class="b14" d="M123.6 531.3l3-7.9-2.3 1.2-2.9 7.5z"/><path class="b3" d="M134 537.9l2.9-12.5-2.2 3.8-2.9-.1z"/><path class="b25" d="M63.6 522.2l3-9-2.3-1.4-2.9 10.5z"/><path class="b20" d="M65.9 526.5l2.9 3.2-2.2-16.5-3 9z"/><path class="b31" d="M78.5 522.8l2.9 14-2.2-2.1-3-5.5z"/><path class="b10" d="M97 534.4l2.9-11.6-2.2 10-2.9-.6z"/><path class="b24" d="M136.9 525.4l3 3.7-2.3-10.3-2.9 10.4z"/><path class="b83" d="M42 481.9l2.9 16.3-2.2-19.3-3 8.3z"/><path class="b45" d="M164.2 510.3l3 .2-2.3-3.1-2.9 13.8z"/><path class="b32" d="M158.4 519.5l2.9-4.4-2.2 10.7-3-3.3z"/><path class="b37" d="M51 513.6l2.9-3.2-2.2-1.5-3-8.5z"/><path class="b36" d="M153.2 517l2.9 5.5-2.2-8.7-3 9.7z"/><path class="b6" d="M85.9 538.2l3 .6-2.3-1.9-2.9-2.8z"/><path class="b85" d="M167.7 474.9l2.9-14.5-2.2-8.7-3 14.2z"/><path class="b23" d="M147.3 526.7l2.9 1.7-2.2 2.7-2.9-7.5z"/><path class="b81" d="M37.5 480.2l2.9-8.1-2.2 2.1-3-1z"/><path class="b78" d="M166.3 484.1l2.9-3.8-2.2-7.7-2.9 20.4z"/><path class="b9" d="M94.1 536.1l2.9-1.7-2.2-2.2-3 .2z"/><path class="b98" d="M165.4 465.9l3-14.2-2.3-2-2.9 11.6z"/><path class="b58" d="M48.7 500.4l3 8.5-2.3-4.6-2.9-9.4z"/><path class="b42" d="M167.2 510.5l2.9-8.4-2.2 6.5-3-1.2z"/><path class="b4" d="M149.6 538.6l2.9-2.4-2.3-7.8-2.9-1.7z"/><path class="b15" d="M120.7 531.8l2.9-.5-2.2 .8-3-7.2z"/><path class="b51" d="M168.6 500.5l2.9-16.1-2.3-4.1-2.9 3.8z"/><path class="b57" d="M170.8 498.8l3-11.1-2.3-3.3-2.9 16.1z"/><path class="b71" d="M39.7 487.2l3-8.3-2.3-6.8-2.9 8.1z"/><path class="b68" d="M44.2 491.9l3-2.5-2.3 8.8-2.9-16.3z"/><path class="b158" d="M157.8 421.9l3-17.5-2.3 8.7-2.9 6.1z"/><path class="b6" d="M152.5 536.2l2.9-8.4-2.2-10.8-3 11.4z"/><path class="b30" d="M128.8 522.8l3 6.3-2.3 .8-2.9-6.5z"/><path class="b6" d="M131.1 537.5l2.9 .4-2.2-8.8-3-6.3z"/><path class="b47" d="M58.4 509.6l3 12.7-2.3-8.6-2.9-5.4z"/><path class="b6" d="M91.1 538.7l3-2.6-2.3-3.7-2.9 6.4z"/><path class="b25" d="M142.1 525.3l3-1.7-2.3-3.7-2.9 9.2z"/><path class="b65" d="M46.5 494.9l2.9 9.4-2.2-14.9-3 2.5z"/><path class="b18" d="M107.4 530.8l2.9 .8-2.2 2.1-3-8.5z"/><path class="b1" d="M136.2 540.5l3-13.8-2.3-1.3-2.9 12.5z"/><path class="b32" d="M60.7 519.7l2.9 2.5-2.2 .1-3-12.7z"/><path class="b29" d="M115.5 524l2.9 .9-2.2 10.2-3-10.8z"/><path class="b25" d="M62.9 525.2l3 1.3-2.3-4.3-2.9-2.5z"/><path class="b91" d="M35.2 473.2l3 1-2.3-11.7-2.9-5.4z"/><path class="b56" d="M170.1 502.1l3-9.1-2.3 5.8-2.9 9.8z"/><path class="b94" d="M169.9 471.6l3-15.3-2.3 4.1-2.9 14.5z"/><path class="b44" d="M53.2 511.2l3-2.9-2.3 2.1-2.9 3.2z"/><path class="b19" d="M155.4 527.8l3-8.3-2.3 3-2.9-5.5z"/><path class="b28" d="M133.3 527.2l2.9 13.3-2.2-2.6-2.9-.4z"/><path class="b5" d="M146.6 539l3-.4-2.3-11.9-2.9 5.6z"/><path class="b77" d="M36.8 485l2.9 2.2-2.2-7-2.9-7.2z"/><path class="b36" d="M70.4 520.8l2.9 14.1-2.2-3.2-3-1.4z"/><path class="b138" d="M162.3 435.6l2.9-18.8-2.2-5-2.9 17.5z"/><path class="b15" d="M151.8 533.8l3-3.3-2.3 5.7-2.9 2.4z"/><path class="b24" d="M139.2 526.7l2.9-1.4-2.2 3.8-3-3.7z"/><path class="b12" d="M75.6 534.2l2.9-11.4-2.3 6.4-2.9 5.7z"/><path class="b4" d="M104.4 539.2l3-8.4-2.3-5.6-2.9 9.4z"/><path class="b24" d="M163.6 524.2l2.9-4.1-2.3-9.8-2.9 4.8z"/><path class="b10" d="M102.2 534.6l2.9-9.4-2.2-1.2-3-1.2z"/><path class="b123" d="M166.1 449.7l3-9.2-2.3-4.5-2.9 11.1z"/><path class="b147" d="M160.1 429.3l2.9-17.5-2.2-7.4-3 17.5z"/><path class="b138" d="M164.6 437.3l2.9-15.4-2.3-5.1-2.9 18.8z"/><path class="b15" d="M144.4 532.3l2.9-5.6-2.2-3.1-3 1.7z"/><path class="b5" d="M96.3 539.6l2.9-11.1-2.2 5.9-2.9 1.7z"/><path class="b16" d="M88.2 534.6l2.9 4.1-2.2 .1-3-.6z"/><path class="b96" d="M34.6 473l2.9 7.2-2.3-7-2.9-2.5z"/><path class="b19" d="M154.8 530.5l2.9-8-2.3 5.3-2.9 8.4z"/><path class="b23" d="M99.2 528.5l3 6.1-2.3-11.8-2.9 11.6z"/><path class="b33" d="M65.2 522.2l2.9 8.1-2.2-3.8-3-1.3z"/><path class="b1" d="M109.6 541.2l3-16-2.3 6.4-2.9-.8z"/><path class="b15" d="M162.9 532l2.9-6.1-2.2-1.7-3-3.6z"/><path class="b14" d="M122.9 534l3-9.3-2.3 6.6-2.9 .5z"/><path class="b70" d="M173.1 493l2.9 .9-2.2-6.2-3 11.1z"/><path class="b5" d="M143.7 540.5l2.9-1.5-2.2-6.7-3-1.9z"/><path class="b24" d="M165.8 525.9l3-11.4-2.3 5.6-2.9 4.1z"/><path class="b33" d="M160.6 520.6l3 3.6-2.3-9.1-2.9 4.4z"/><path class="b12" d="M117.8 534.6l2.9-2.8-2.3-6.9-2.9-.9z"/><path class="b33" d="M80.8 523.3l2.9 10.8-2.3 2.7-2.9-14z"/><path class="b86" d="M39.1 481.8l2.9 .1-2.3 5.3-2.9-2.2z"/><path class="b14" d="M101.5 535l2.9 4.2-2.2-4.6-3-6.1z"/><path class="b29" d="M125.9 524.7l2.9-1.9-2.2 .6-3 7.9z"/><path class="b30" d="M166.5 520.1l2.9-17.4-2.2 7.8-3-.2z"/><path class="b83" d="M169.2 480.3l3-17.8-2.3 9.1-2.9 1z"/><path class="b75" d="M173.8 487.7l2.9-7.9-2.3-1-2.9 5.6z"/><path class="b7" d="M128.1 538.1l3-.6-2.3-14.7-2.9 1.9z"/><path class="b26" d="M106.7 529.2l2.9 12-2.2-10.4-3 8.4z"/><path class="b20" d="M141.4 530.4l3 1.9-2.3-7-2.9 1.4z"/><path class="b29" d="M112.6 525.2l2.9-1.2-2.3 .3-2.9 7.3z"/><path class="b25" d="M148.9 530l2.9 3.8-2.2 4.8-3 .4z"/><path class="b78" d="M171.5 484.4l2.9-5.6-2.2-16.3-3 17.8z"/><path class="b32" d="M157.7 522.5l2.9-1.9-2.2-1.1-3 8.3z"/><path class="b69" d="M43.6 494.1l2.9 .8-2.3-3-2.9 2.2z"/><path class="b65" d="M48.1 499.2l2.9 14.4-2.3-13.2-2.9 5z"/><path class="b20" d="M138.5 531.7l2.9-1.3-2.2-3.7-3 13.8z"/><path class="b51" d="M45.8 505.4l2.9-5-2.2-5.5-2.9-.8z"/><path class="b60" d="M169.4 502.7l3 2.1-2.3-2.7-2.9 8.4z"/><path class="b54" d="M172.4 504.8l2.9-1.9-2.2-9.9-3 9.1z"/><path class="b31" d="M93.4 526.9l2.9 12.7-2.2-3.5-3 2.6z"/><path class="b66" d="M41.3 494.1l2.9-2.2-2.2-10-2.9-.1z"/><path class="b14" d="M130.4 535.7l2.9-8.5-2.2 10.3-3 .6z"/><path class="b97" d="M32.3 470.7l2.9 2.5-2.2-16.1-2.9 2.2z"/><path class="b30" d="M120 526.3l2.9 7.7-2.2-2.2-2.9 2.8z"/><path class="b55" d="M175.3 502.9l2.9-9.4-2.2 .4-2.9-.9z"/><path class="b43" d="M168.8 514.5l2.9 2.9-2.3-14.7-2.9 17.4z"/><path class="b7" d="M145.9 541l3-11-2.3 9-2.9 1.5z"/><path class="b22" d="M83 530.7l2.9 7.5-2.2-4.1-2.9-10.8z"/><path class="b122" d="M168.4 451.7l2.9-18.9-2.2 7.7-3 9.2z"/><path class="b20" d="M165.1 530.9l3-11-2.3 6-2.9 6.1z"/><path class="b51" d="M55.5 508.8l2.9 .8-2.2-1.3-3 2.9z"/><path class="b9" d="M108.9 539.7l3 1.2-2.3 .3-2.9-12z"/><path class="b52" d="M50.3 507.9l2.9 3.3-2.2 2.4-2.9-14.4z"/><path class="b32" d="M57.7 520.8l3-1.1-2.3-10.1-2.9-.8z"/><path class="b13" d="M98.6 536.7l2.9-1.7-2.3-6.5-2.9 11.1z"/><path class="b5" d="M111.9 540.9l2.9-15-2.2-.7-3 16z"/><path class="b9" d="M77.8 537.3l3-14-2.3-.5-2.9 11.4z"/><path class="b26" d="M125.2 528.8l2.9 9.3-2.2-13.4-3 9.3z"/><path class="b13" d="M135.6 536.6l2.9-4.9-2.3 8.8-2.9-13.3z"/><path class="b49" d="M60 513.1l2.9 12.1-2.2-5.5-3 1.1z"/><path class="b31" d="M159.9 524.8l3 7.2-2.3-11.4-2.9 1.9z"/><path class="b38" d="M72.6 521.2l3 13-2.3 .7-2.9-14.1z"/><path class="b31" d="M171 522.7l2.9-6.4-2.2 1.1-2.9-2.9z"/><path class="b13" d="M103.8 537.2l2.9-8-2.3 10-2.9-4.2z"/><path class="b66" d="M176 493.9l2.9-20.2-2.2 6.1-2.9 7.9z"/><path class="b88" d="M36.1 481.6l3 .2-2.3 3.2-2.9-1.8z"/><path class="b20" d="M140.8 533.5l2.9 7-2.3-10.1-2.9 1.3z"/><path class="b30" d="M114.8 525.9l3 8.7-2.3-10.6-2.9 1.2z"/><path class="b143" d="M166.8 436l3-26.1-2.3 12-2.9 15.4z"/><path class="b38" d="M168.1 519.9l2.9 2.8-2.2-8.2-3 11.4z"/><path class="b20" d="M157 531.7l2.9-6.9-2.2-2.3-2.9 8z"/><path class="b35" d="M171.7 517.4l2.9-18.3-2.2 5.7-3-2.1z"/><path class="b40" d="M173.9 516.3l3-3.3-2.3-13.9-2.9 18.3z"/><path class="b22" d="M74.9 531.7l2.9 5.6-2.2-3.1-3-13z"/><path class="b33" d="M162.2 525.1l2.9 5.8-2.2 1.1-3-7.2z"/><path class="b113" d="M172.2 462.5l2.9-8-2.2 1.8-3 15.3z"/><path class="b109" d="M170.6 460.4l3-22.4-2.3-5.2-2.9 18.9z"/><path class="b19" d="M127.4 534.1l3 1.6-2.3 2.4-2.9-9.3z"/><path class="b30" d="M154.1 527.6l2.9 4.1-2.2-1.2-3 3.3z"/><path class="b82" d="M33.9 483.2l2.9 1.8-2.2-12-3-11.9z"/><path class="b77" d="M42.9 492.2l2.9 13.2-2.2-11.3-3 4.5z"/><path class="b49" d="M52.6 511l2.9-2.2-2.3 2.4-2.9-3.3z"/><path class="b63" d="M40.6 498.6l3-4.5-2.3 0-2.9-14.1z"/><path class="b6" d="M137.8 542.3l3-8.8-2.3-1.8-2.9 4.9z"/><path class="b26" d="M62.2 527.2l3-5-2.3 3-2.9-12.1z"/><path class="b32" d="M85.2 526.8l3 7.8-2.3 3.6-2.9-7.5z"/><path class="b44" d="M67.4 517.7l3 3.1-2.3 9.5-2.9-8.1z"/><path class="b67" d="M174.6 499.1l3-5.6-2.3 9.4-2.9 1.9z"/><path class="b120" d="M172.9 456.3l2.9-11.2-2.2-7.1-3 22.4z"/><path class="b15" d="M122.2 536.2l3-7.4-2.3 5.2-2.9-7.7z"/><path class="b42" d="M54.8 516.6l2.9 4.2-2.2-12-2.9 2.2z"/><path class="b70" d="M178.2 493.5l3-12.7-2.3-7.1-2.9 20.2z"/><path class="b29" d="M143 529.8l2.9 11.2-2.2-.5-2.9-7z"/><path class="b17" d="M111.2 537.3l2.9-3.1-2.2 6.7-3-1.2z"/><path class="b24" d="M117.1 531.1l2.9-4.8-2.2 8.3-3-8.7z"/><path class="b28" d="M80.1 528.6l2.9 2.1-2.2-7.4-3 14z"/><path class="b24" d="M95.6 532.3l3 4.4-2.3 2.9-2.9-12.7z"/><path class="b75" d="M177.6 493.5l2.9-3.9-2.3 3.9-2.9 9.4z"/><path class="b12" d="M106 539.4l2.9 .3-2.2-10.5-2.9 8z"/><path class="b94" d="M38.4 480l2.9 14.1-2.2-12.3-3-.2z"/><path class="b27" d="M100.8 530.6l3 6.6-2.3-2.2-2.9 1.7z"/><path class="b138" d="M169.1 440.5l2.9-15.3-2.2-15.3-3 26.1z"/><path class="b30" d="M90.4 528.2l3-1.3-2.3 11.8-2.9-4.1z"/><path class="b24" d="M132.6 531.7l3 4.9-2.3-9.4-2.9 8.5z"/><path class="b20" d="M114.1 534.2l3-3.1-2.3-5.2-2.9 15z"/><path class="b55" d="M45.1 506l3-6.8-2.3 6.2-2.9-13.2z"/><path class="b87" d="M176.7 479.8l2.9-16.3-2.2-9.5-3 24.8z"/><path class="b7" d="M124.5 541.9l2.9-7.8-2.2-5.3-3 7.4z"/><path class="b34" d="M57.1 522.2l2.9-9.1-2.3 7.7-2.9-4.2z"/><path class="b120" d="M31.6 461.1l3 11.9-2.3-2.3-2.9-8.5z"/><path class="b13" d="M134.9 539.3l2.9 3-2.2-5.7-3-4.9z"/><path class="b21" d="M77.1 533.6l3-5-2.3 8.7-2.9-5.6z"/><path class="b18" d="M167.4 533.5l2.9-15.1-2.2 1.5-3 11z"/><path class="b22" d="M151.1 533.2l3-5.6-2.3 6.2-2.9-3.8z"/><path class="b86" d="M174.4 478.8l3-24.8-2.3 .5-2.9 8z"/><path class="b10" d="M129.7 540.7l2.9-9-2.2 4-3-1.6z"/><path class="b35" d="M164.4 525.3l3 8.2-2.3-2.6-2.9-5.8z"/><path class="b13" d="M108.2 540.3l3-3-2.3 2.4-2.9-.3z"/><path class="b115" d="M29.4 462.2l2.9 8.5-2.2-11.4-3-12.9z"/><path class="b44" d="M176.9 513l2.9-11.4-2.2-8.1-3 5.6z"/><path class="b28" d="M148.2 531.2l2.9 2-2.2-3.2-3 11z"/><path class="b47" d="M173.2 515.7l3-9.5-2.3 10.1-2.9 6.4z"/><path class="b126" d="M175.1 454.5l3-5.8-2.3-3.6-2.9 11.2z"/><path class="b80" d="M180.5 489.6l2.9-5.1-2.2-3.7-3 12.7z"/><path class="b37" d="M159.2 524l3 1.1-2.3-.3-2.9 6.9z"/><path class="b155" d="M171.3 432.8l2.9-10.8-2.2 3.2-2.9 15.3z"/><path class="b44" d="M170.3 518.4l2.9-2.7-2.2 7-2.9-2.8z"/><path class="b29" d="M119.3 529.9l2.9 6.3-2.2-9.9-2.9 4.8z"/><path class="b8" d="M131.9 543.6l3-4.3-2.3-7.6-2.9 9z"/><path class="b19" d="M121.6 536.6l2.9 5.3-2.3-5.7-2.9-6.3z"/><path class="b26" d="M126.8 533.1l2.9 7.6-2.3-6.6-2.9 7.8z"/><path class="b74" d="M47.4 497l2.9 10.9-2.2-8.7-3 6.8z"/><path class="b11" d="M97.9 540.7l2.9-10.1-2.2 6.1-3-4.4z"/><path class="b9" d="M137.1 543.5l3-8.7-2.3 7.5-2.9-3z"/><path class="b45" d="M64.5 518.6l2.9-.9-2.2 4.5-3 5z"/><path class="b62" d="M176.2 506.2l2.9-2.4-2.2 9.2-3 3.3z"/><path class="b4" d="M145.2 545.1l3-13.9-2.3 9.8-2.9-11.2z"/><path class="b24" d="M69.7 530.2l2.9-9-2.2-.4-3-3.1z"/><path class="b48" d="M51.9 514.6l2.9 2-2.2-5.6-3-1.2z"/><path class="b22" d="M140.1 534.8l2.9-5-2.2 3.7-3 8.8z"/><path class="b27" d="M169.6 530.1l3-1.8-2.3-9.9-2.9 15.1z"/><path class="b23" d="M103.1 534.5l2.9 4.9-2.2-2.2-3-6.6z"/><path class="b12" d="M94.9 541.6l3-.9-2.3-8.4-2.9 6.2z"/><path class="b53" d="M59.3 513.9l2.9 13.3-2.2-14.1-2.9 9.1z"/><path class="b27" d="M156.3 530.5l2.9-6.5-2.2 7.7-2.9-4.1z"/><path class="b54" d="M49.6 509.8l3 1.2-2.3-3.1-2.9-10.9z"/><path class="b37" d="M71.9 524.6l3 7.1-2.3-10.5-2.9 9z"/><path class="b6" d="M97.2 546.2l2.9-1.9-2.2-3.6-3 .9z"/><path class="b18" d="M116.4 537.1l2.9-7.2-2.2 1.2-3 3.1z"/><path class="b2" d="M123.8 547.5l3-14.4-2.3 8.8-2.9-5.3z"/><path class="b28" d="M82.3 530.4l2.9-3.6-2.2 3.9-2.9-2.1z"/><path class="b2" d="M120.9 548.7l2.9-1.2-2.2-10.9-3 4.9z"/><path class="b14" d="M92.7 538.5l2.9-6.2-2.2-5.4-3 1.3z"/><path class="b63" d="M179.8 501.6l3-11.2-2.3-.8-2.9 3.9z"/><path class="b97" d="M33.2 477.8l2.9 3.8-2.2 1.6-3-19.7z"/><path class="b54" d="M54.1 512.7l3 9.5-2.3-5.6-2.9-2z"/><path class="b101" d="M178.9 473.7l3-17.4-2.3 7.2-2.9 16.3z"/><path class="b19" d="M134.2 539.2l2.9 4.3-2.2-4.2-3 4.3z"/><path class="b85" d="M39.9 489l3 3.2-2.3 6.4-2.9-7.7z"/><path class="b7" d="M100.1 544.3l3-9.8-2.3-3.9-2.9 10.1z"/><path class="b33" d="M87.5 527.7l2.9 .5-2.2 6.4-3-7.8z"/><path class="b14" d="M92 541.5l2.9 .1-2.2-3.1-2.9 .7z"/><path class="b27" d="M153.4 532.1l2.9-1.6-2.2-2.9-3 5.6z"/><path class="b79" d="M37.7 490.9l2.9 7.7-2.2-18.6-3-3.7z"/><path class="b28" d="M74.2 531l2.9 2.6-2.2-1.9-3-7.1z"/><path class="b64" d="M179.1 503.8l3-13.9-2.3 11.7-2.9 11.4z"/><path class="b11" d="M150.4 541.7l3-9.6-2.3 1.1-2.9-2z"/><path class="b19" d="M129 538.8l2.9 4.8-2.2-2.9-2.9-7.6z"/><path class="b30" d="M113.4 531.3l3 5.8-2.3-2.9-2.9 3.1z"/><path class="b39" d="M166.7 525.2l2.9 4.9-2.2 3.4-3-8.2z"/><path class="b12" d="M118.6 541.5l3-4.9-2.3-6.7-2.9 7.2z"/><path class="b22" d="M105.3 536.7l2.9 3.6-2.2-.9-2.9-4.9z"/><path class="b28" d="M172.6 528.3l2.9-11.4-2.3-1.2-2.9 2.7z"/><path class="b19" d="M142.3 538.1l2.9 7-2.2-15.3-2.9 5z"/><path class="b26" d="M147.5 534.7l2.9 7-2.2-10.5-3 13.9z"/><path class="b29" d="M79.4 531l2.9-.6-2.2-1.8-3 5z"/><path class="b15" d="M89.8 539.2l2.9-.7-2.3-10.3-2.9-.5z"/><path class="b6" d="M94.2 547.6l3-1.4-2.3-4.6-2.9-.1z"/><path class="b2" d="M115.7 548.2l2.9-6.7-2.2-4.4-3-5.8z"/><path class="b11" d="M110.5 543.3l2.9-12-2.2 6-3 3z"/><path class="b81" d="M182.8 490.4l2.9-8.2-2.3 2.3-2.9 5.1z"/><path class="b20" d="M117.9 540.1l3 8.6-2.3-7.2-2.9 6.7z"/><path class="b103" d="M35.4 476.3l3 3.7-2.3 1.6-2.9-3.8z"/><path class="b26" d="M155.6 533.8l3 5.8-2.3-9.1-2.9 1.6z"/><path class="b78" d="M42.2 494.6l2.9 11.4-2.2-13.8-3-3.2z"/><path class="b46" d="M66.8 519.4l2.9 10.8-2.3-12.5-2.9 .9z"/><path class="b2" d="M131.2 549.3l3-10.1-2.3 4.4-2.9-4.8z"/><path class="b7" d="M99.4 547.4l3-7-2.3 3.9-2.9 1.9z"/><path class="b9" d="M89.1 545.3l2.9-3.8-2.2-2.3-3 1.9z"/><path class="b4" d="M112.8 548.3l2.9-.1-2.3-16.9-2.9 12z"/><path class="b13" d="M158.6 539.6l2.9-16.3-2.3 .7-2.9 6.5z"/><path class="b130" d="M177.4 454l2.9-12.9-2.2 7.6-3 5.8z"/><path class="b19" d="M123.1 540.9l3 2.4-2.3 4.2-2.9 1.2z"/><path class="b148" d="M173.6 438l2.9-16.2-2.3 .2-2.9 10.8z"/><path class="b12" d="M152.7 542.7l2.9-8.9-2.2-1.7-3 9.6z"/><path class="b13" d="M126.1 543.3l2.9-4.5-2.2-5.7-3 14.4z"/><path class="b41" d="M161.5 523.3l2.9 2-2.2-.2-3-1.1z"/><path class="b68" d="M44.4 501.5l3-4.5-2.3 9-2.9-11.4z"/><path class="b10" d="M149.8 545.3l2.9-2.6-2.3-1-2.9-7z"/><path class="b17" d="M102.4 540.4l2.9-3.7-2.2-2.2-3 9.8z"/><path class="b121" d="M30.9 463.5l3 19.7-2.3-22.1-2.9-4z"/><path class="b91" d="M181.2 480.8l2.9-14.5-2.2-10-3 17.4z"/><path class="b25" d="M139.4 536l2.9 2.1-2.2-3.3-3 8.7z"/><path class="b28" d="M171.9 531.5l2.9-16.1-2.2 12.9-3 1.8z"/><path class="b21" d="M107.6 539l2.9 4.3-2.3-3-2.9-3.6z"/><path class="b130" d="M28.7 457.1l2.9 4-2.2 1.1-3-1.3z"/><path class="b14" d="M86.8 541.1l3-1.9-2.3-11.5-2.9 2.4z"/><path class="b57" d="M61.6 513.2l2.9 5.4-2.3 8.6-2.9-13.3z"/><path class="b37" d="M69 525.7l2.9-1.1-2.2 5.6-2.9-10.8z"/><path class="b31" d="M84.6 530.1l2.9-2.4-2.3-.9-2.9 3.6z"/><path class="b47" d="M175.5 516.9l2.9-8.2-2.2-2.5-3 9.5z"/><path class="b6" d="M109.8 548.6l3-.3-2.3-5-2.9-4.3z"/><path class="b37" d="M76.4 527.8l3 3.2-2.3 2.6-2.9-2.6z"/><path class="b19" d="M96.5 541.9l2.9 5.5-2.2-1.2-3 1.4z"/><path class="b30" d="M144.6 533.9l2.9 .8-2.3 10.4-2.9-7z"/><path class="b22" d="M71.2 535.4l3-4.4-2.3-6.4-2.9 1.1z"/><path class="b138" d="M175.8 445.1l3-24.6-2.3 1.3-2.9 16.2z"/><path class="b25" d="M157.9 536l2.9-1.3-2.2 4.9-3-5.8z"/><path class="b19" d="M91.3 541.5l2.9 6.1-2.2-6.1-2.9 3.8z"/><path class="b87" d="M182.1 489.9l2.9-2.4-2.2 2.9-3 11.2z"/><path class="b87" d="M183.4 484.5l3-25.3-2.3 7.1-2.9 14.5z"/><path class="b120" d="M26.4 460.9l3 1.3-2.3-15.8-2.9-4.2z"/><path class="b25" d="M160.8 534.7l3-7.3-2.3-4.1-2.9 16.3z"/><path class="b60" d="M178.4 508.7l3-5.2-2.3 .3-2.9 2.4z"/><path class="b41" d="M168.9 525.2l3 6.3-2.3-1.4-2.9-4.9z"/><path class="b75" d="M46.7 499.5l2.9 10.3-2.2-12.8-3 4.5z"/><path class="b134" d="M178.1 448.7l2.9-20-2.2-8.2-3 24.6z"/><path class="b3" d="M101.7 550.9l2.9-7.8-2.2-2.7-3 7z"/><path class="b115" d="M179.6 463.5l3-19.6-2.3-2.8-2.9 12.9z"/><path class="b16" d="M154.9 542.1l3-6.1-2.3-2.2-2.9 8.9z"/><path class="b28" d="M115 537l2.9 3.1-2.2 8.1-2.9 .1z"/><path class="b31" d="M128.3 535.1l2.9 14.2-2.2-10.5-2.9 4.5z"/><path class="b70" d="M56.4 505.4l2.9 8.5-2.2 8.3-3-9.5z"/><path class="b20" d="M86.1 540.5l3 4.8-2.3-4.2-2.9-4.5z"/><path class="b40" d="M81.6 526.8l3 3.3-2.3 .3-2.9 .6z"/><path class="b37" d="M163.8 527.4l2.9-2.2-2.3 .1-2.9-2z"/><path class="b11" d="M120.2 546.8l2.9-5.9-2.2 7.8-3-8.6z"/><path class="b52" d="M180.7 514.8l2.9-3.2-2.2-8.1-3 5.2z"/><path class="b55" d="M174.8 515.4l3-4.4-2.3 5.9-2.9 11.4z"/><path class="b15" d="M104.6 543.1l3-4.1-2.3-2.3-2.9 3.7z"/><path class="b33" d="M136.4 532.9l3 3.1-2.3 7.5-2.9-4.3z"/><path class="b11" d="M133.5 545.9l2.9-13-2.2 6.3-3 10.1z"/><path class="b81" d="M48.9 497.9l3 16.7-2.3-4.8-2.9-10.3z"/><path class="b61" d="M177.8 511l2.9 3.8-2.3-6.1-2.9 8.2z"/><path class="b34" d="M152 533.8l2.9 8.3-2.2 .6-2.9 2.6z"/><path class="b24" d="M83.9 536.6l2.9 4.5-2.2-11-3-3.3z"/><path class="b67" d="M181.4 503.5l2.9-6.2-2.2-7.4-3 13.9z"/><path class="b6" d="M130.6 550.1l2.9-4.2-2.3 3.4-2.9-14.2z"/><path class="b4" d="M122.4 552.1l3-1.5-2.3-9.7-2.9 5.9z"/><path class="b44" d="M73.5 525.1l2.9 2.7-2.2 3.2-3 4.4z"/><path class="b10" d="M93.6 548.2l2.9-6.3-2.3 5.7-2.9-6.1z"/><path class="b93" d="M37 486l2.9 3-2.2 1.9-3-13.6z"/><path class="b123" d="M30.2 465.2l3 12.6-2.3-14.3-2.9 6.7z"/><path class="b59" d="M51.2 511.4l2.9 1.3-2.2 1.9-3-16.7z"/><path class="b90" d="M185 487.5l2.9-14.6-2.2 9.3-2.9 8.2z"/><path class="b59" d="M182.9 512.5l3-1.5-2.3 .6-2.9 3.2z"/><path class="b19" d="M98.8 543.3l2.9 7.6-2.3-3.5-2.9-5.5z"/><path class="b4" d="M125.4 550.6l2.9-15.5-2.2 8.2-3-2.4z"/><path class="b22" d="M112.1 541.4l2.9-4.4-2.2 11.3-3 .3z"/><path class="b106" d="M34.7 477.3l3 13.6-2.3-14.6-2.9-2.9z"/><path class="b56" d="M63.8 515l3 4.4-2.3-.8-2.9-5.4z"/><path class="b45" d="M174.1 523.4l3 4.1-2.3-12.1-2.9 16.1z"/><path class="b19" d="M88.4 542.8l2.9-1.3-2.2 3.8-3-4.8z"/><path class="b27" d="M171.2 534.3l2.9-10.9-2.2 8.1-3-6.3z"/><path class="b28" d="M106.9 537.8l2.9 10.8-2.2-9.6-3 4.1z"/><path class="b56" d="M183.6 511.6l3-16.8-2.3 2.5-2.9 6.2z"/><path class="b151" d="M180.3 441.1l2.9-14.1-2.2 1.7-2.9 20z"/><path class="b30" d="M141.6 535.1l3-1.2-2.3 4.2-2.9-2.1z"/><path class="b30" d="M78.7 532.9l2.9-6.1-2.2 4.2-3-3.2z"/><path class="b111" d="M32.5 473.4l2.9 2.9-2.2 1.5-3-12.6z"/><path class="b37" d="M146.8 531.6l3 13.7-2.3-10.6-2.9-.8z"/><path class="b39" d="M166 527.5l2.9-2.3-2.2 0-2.9 2.2z"/><path class="b131" d="M181.9 456.3l2.9-16.6-2.2 4.2-3 19.6z"/><path class="b77" d="M184.3 497.3l2.9-7.3-2.2-2.5-2.9 2.4z"/><path class="b11" d="M132.8 548.8l3-2.8-2.3-.1-2.9 4.2z"/><path class="b45" d="M180 521.2l2.9-8.7-2.2 2.3-2.9-3.8z"/><path class="b94" d="M185.7 482.2l2.9-22-2.2-1-3 25.3z"/><path class="b36" d="M177.1 527.5l2.9-6.3-2.2-10.2-3 4.4z"/><path class="b42" d="M68.3 526.1l2.9 9.3-2.2-9.7-2.9-8.5z"/><path class="b111" d="M28 470.2l2.9-6.7-2.2-6.4-2.9-5.6z"/><path class="b41" d="M163.1 527.9l2.9-.4-2.2-.1-3 7.3z"/><path class="b48" d="M58.6 519.3l3-6.1-2.3 .7-2.9-8.5z"/><path class="b31" d="M160.1 534.2l3-6.3-2.3 6.8-2.9 1.3z"/><path class="b55" d="M66.1 517.2l2.9 8.5-2.2-6.3-3-4.4z"/><path class="b42" d="M60.9 524.1l2.9-9.1-2.2-1.8-3 6.1z"/><path class="b106" d="M39.2 480.7l3 13.9-2.3-5.6-2.9-3z"/><path class="b23" d="M127.6 542l3 8.1-2.3-15-2.9 15.5z"/><path class="b14" d="M135.8 546l2.9-4.9-2.3-8.2-2.9 13z"/><path class="b34" d="M80.9 532.4l3 4.2-2.3-9.8-2.9 6.1z"/><path class="b27" d="M103.9 539.7l3-1.9-2.3 5.3-2.9 7.8z"/><path class="b15" d="M124.7 547.4l2.9-5.4-2.2 8.6-3 1.5z"/><path class="b84" d="M186.6 494.8l2.9-.9-2.3-3.9-2.9 7.3z"/><path class="b90" d="M41.5 490.9l2.9 10.6-2.2-6.9-3-13.9z"/><path class="b21" d="M138.7 541.1l2.9-6-2.2 .9-3-3.1z"/><path class="b27" d="M117.2 539.3l3 7.5-2.3-6.7-2.9-3.1z"/><path class="b81" d="M43.7 497.4l3 2.1-2.3 2-2.9-10.6z"/><path class="b43" d="M179.3 525.2l2.9-12.8-2.2 8.8-2.9 6.3z"/><path class="b43" d="M168.2 527.2l3 7.1-2.3-9.1-2.9 2.3z"/><path class="b30" d="M75.7 534.3l3-1.4-2.3-5.1-2.9-2.7z"/><path class="b41" d="M157.2 530l2.9 4.2-2.2 1.8-3 6.1z"/><path class="b19" d="M119.5 545l2.9 7.1-2.2-5.3-3-7.5z"/><path class="b18" d="M95.8 545.1l3-1.8-2.3-1.4-2.9 6.3z"/><path class="b142" d="M25.8 451.5l2.9 5.6-2.3 3.8-2.9-21.2z"/><path class="b11" d="M140.9 548l3-8.4-2.3-4.5-2.9 6z"/><path class="b116" d="M184.1 466.3l3-19.4-2.3-7.2-2.9 16.6z"/><path class="b24" d="M149.1 540.5l2.9-6.7-2.2 11.5-3-13.7z"/><path class="b59" d="M185.9 511l2.9-19.7-2.2 3.5-3 16.8z"/><path class="b23" d="M109.1 541.8l3-.4-2.3 7.2-2.9-10.8z"/><path class="b48" d="M70.6 524.1l2.9 1-2.3 10.3-2.9-9.3z"/><path class="b16" d="M101 546.5l2.9-6.8-2.2 11.2-2.9-7.6z"/><path class="b77" d="M53.4 502.8l3 2.6-2.3 7.3-2.9-1.3z"/><path class="b26" d="M138 541.2l2.9 6.8-2.2-6.9-2.9 4.9z"/><path class="b38" d="M90.6 533.7l3 14.5-2.3-6.7-2.9 1.3z"/><path class="b24" d="M143.9 539.6l2.9-8-2.2 2.3-3 1.2z"/><path class="b50" d="M63.1 521.3l3-4.1-2.3-2.2-2.9 9.1z"/><path class="b45" d="M83.2 527.9l2.9 12.6-2.2-3.9-3-4.2z"/><path class="b9" d="M121.8 551.7l2.9-4.3-2.3 4.7-2.9-7.1z"/><path class="b126" d="M27.3 464.8l2.9 .4-2.2 5-2.9-8z"/><path class="b62" d="M176.4 515.9l2.9 9.3-2.2 2.3-3-4.1z"/><path class="b161" d="M23.5 439.7l2.9 21.2-2.2-18.7-3-6.4z"/><path class="b26" d="M165.3 537.5l2.9-10.3-2.2 .3-2.9 .4z"/><path class="b38" d="M78 531.5l2.9 .9-2.2 .5-3 1.4z"/><path class="b88" d="M187.2 490l3-17.5-2.3 .4-2.9 14.6z"/><path class="b12" d="M114.3 548.5l2.9-9.2-2.2-2.3-2.9 4.4z"/><path class="b29" d="M129.9 540.5l2.9 8.3-2.2 1.3-3-8.1z"/><path class="b4" d="M116.6 554.4l2.9-9.4-2.3-5.7-2.9 9.2z"/><path class="b149" d="M182.6 443.9l2.9-19.5-2.3 2.6-2.9 14.1z"/><path class="b132" d="M186.4 459.2l2.9-13.1-2.2 .8-3 19.4z"/><path class="b72" d="M57.9 509l3 15.1-2.3-4.8-2.9-5.6z"/><path class="b9" d="M103.2 552.1l3 .6-2.3-13-2.9 6.8z"/><path class="b37" d="M170.5 532l2.9-7.5-2.2 9.8-3-7.1z"/><path class="b26" d="M85.4 539.9l3 2.9-2.3-2.3-2.9-12.6z"/><path class="b6" d="M106.2 552.7l2.9-10.9-2.2-4-3 1.9z"/><path class="b84" d="M46 497l2.9 .9-2.2 1.6-3-2.1z"/><path class="b82" d="M185.2 501.5l2.9 6.4-2.2 3.1-3 1.5z"/><path class="b60" d="M55.7 513.7l2.9 5.6-2.2-13.9-3-2.6z"/><path class="b45" d="M162.4 528.5l2.9 9-2.2-9.6-3 6.3z"/><path class="b25" d="M143.2 541.8l2.9-3-2.2 .8-3 8.4z"/><path class="b12" d="M92.9 549.6l2.9-4.5-2.2 3.1-3-14.5z"/><path class="b29" d="M146.1 538.8l3 1.7-2.3-8.9-2.9 8z"/><path class="b64" d="M182.2 512.4l3-10.9-2.3 11-2.9 8.7z"/><path class="b49" d="M173.4 524.5l3-8.6-2.3 7.5-2.9 10.9z"/><path class="b114" d="M187.9 472.9l3-15.4-2.3 2.7-2.9 22z"/><path class="b23" d="M98.1 544.2l2.9 2.3-2.2-3.2-3 1.8z"/><path class="b11" d="M113.6 551.7l3 2.7-2.3-5.9-2.9-8.3z"/><path class="b29" d="M135.1 540.7l2.9 .5-2.2 4.8-3 2.8z"/><path class="b77" d="M48.2 502.9l3 8.5-2.3-13.5-2.9-.9z"/><path class="b29" d="M111.4 540.2l2.9 8.3-2.2-7.1-3 .4z"/><path class="b45" d="M154.2 529.4l3 .6-2.3 12.1-2.9-8.3z"/><path class="b40" d="M167.6 531.6l2.9 .4-2.3-4.8-2.9 10.3z"/><path class="b128" d="M25.1 462.2l2.9 8-2.2-18.7-3-10.2z"/><path class="b59" d="M65.4 517.7l2.9 8.4-2.2-8.9-3 4.1z"/><path class="b23" d="M148.4 543.2l2.9 .2-2.2-2.9-3-1.7z"/><path class="b21" d="M151.3 543.4l2.9-14-2.2 4.4-2.9 6.7z"/><path class="b10" d="M126.9 552l3-11.5-2.3 1.5-2.9 5.4z"/><path class="b11" d="M100.3 551.9l2.9 .2-2.2-5.6-2.9-2.3z"/><path class="b84" d="M189.5 493.9l2.9-23.4-2.2 2-3 17.5z"/><path class="b30" d="M118.8 542l3 9.7-2.3-6.7-2.9 9.4z"/><path class="b55" d="M72.8 522.2l2.9 12.1-2.2-9.2-2.9-1z"/><path class="b23" d="M124 546l2.9 6-2.2-4.6-2.9 4.3z"/><path class="b26" d="M80.2 539.6l3-11.7-2.3 4.5-2.9-.9z"/><path class="b141" d="M29.6 458l2.9 15.4-2.3-8.2-2.9-.4z"/><path class="b159" d="M184.8 439.7l3-7.9-2.3-7.4-2.9 19.5z"/><path class="b30" d="M159.4 537.7l3-9.2-2.3 5.7-2.9-4.2z"/><path class="b93" d="M188.8 491.3l3-10-2.3 12.6-2.9 .9z"/><path class="b80" d="M50.5 502.6l2.9 .2-2.2 8.6-3-8.5z"/><path class="b13" d="M132.1 550.6l3-9.9-2.3 8.1-2.9-8.3z"/><path class="b68" d="M188.1 507.9l3-20.3-2.3 3.7-2.9 19.7z"/><path class="b31" d="M108.4 540.2l3 0-2.3 1.6-2.9 10.9z"/><path class="b38" d="M140.2 536.1l3 5.7-2.3 6.2-2.9-6.8z"/><path class="b118" d="M34.1 473.7l2.9 12.3-2.3-8.7-2.9-13.6z"/><path class="b106" d="M36.3 481.7l2.9-1-2.2 5.3-2.9-12.3z"/><path class="b41" d="M87.7 533.5l2.9 .2-2.2 9.1-3-2.9z"/><path class="b23" d="M145.4 544.6l3-1.4-2.3-4.4-2.9 3z"/><path class="b97" d="M38.6 488.2l2.9 2.7-2.3-10.2-2.9 1z"/><path class="b20" d="M129.2 548.2l2.9 2.4-2.2-10.1-3 11.5z"/><path class="b77" d="M60.2 507.6l2.9 13.7-2.2 2.8-3-15.1z"/><path class="b104" d="M40.8 486.1l2.9 11.3-2.2-6.5-2.9-2.7z"/><path class="b32" d="M105.5 541l2.9-.8-2.2 12.5-3-.6z"/><path class="b40" d="M95.1 535.9l3 8.3-2.3 .9-2.9 4.5z"/><path class="b133" d="M31.8 463.7l2.9 13.6-2.2-3.9-2.9-15.4z"/><path class="b24" d="M115.9 546.3l2.9-4.3-2.2 12.4-3-2.7z"/><path class="b31" d="M156.5 538.5l2.9-.8-2.2-7.7-3-.6z"/><path class="b149" d="M187.1 446.9l2.9-17.8-2.2 2.7-3 7.9z"/><path class="b133" d="M188.6 460.2l3-17.3-2.3 3.2-2.9 13.1z"/><path class="b56" d="M164.6 524l3 7.6-2.3 5.9-2.9-9z"/><path class="b26" d="M150.6 543.7l3-6.9-2.3 6.6-2.9-.2z"/><path class="b57" d="M75.1 522.6l2.9 8.9-2.3 2.8-2.9-12.1z"/><path class="b67" d="M67.6 515.2l3 8.9-2.3 2-2.9-8.4z"/><path class="b67" d="M187.4 511.4l3-7-2.3 3.5-2.9-6.4z"/><path class="b71" d="M52.8 508.8l2.9 4.9-2.3-10.9-2.9-.2z"/><path class="b10" d="M126.2 554.7l3-6.5-2.3 3.8-2.9-6z"/><path class="b49" d="M82.5 528.5l2.9 11.4-2.2-12-3 11.7z"/><path class="b36" d="M153.6 536.8l2.9 1.7-2.3-9.1-2.9 14z"/><path class="b74" d="M181.6 509.6l2.9 .2-2.3 2.6-2.9 12.8z"/><path class="b35" d="M158.8 537.8l2.9 .9-2.3-1-2.9 .8z"/><path class="b118" d="M190.2 472.5l2.9-10.6-2.2-4.4-3 15.4z"/><path class="b19" d="M134.4 549l2.9-3.6-2.2-4.7-3 9.9z"/><path class="b14" d="M121.1 552.2l2.9-6.2-2.2 5.7-3-9.7z"/><path class="b40" d="M169.8 533l3-9.1-2.3 8.1-2.9-.4z"/><path class="b72" d="M184.5 509.8l2.9 1.6-2.2-9.9-3 10.9z"/><path class="b46" d="M77.3 530l2.9 9.6-2.2-8.1-2.9-8.9z"/><path class="b31" d="M161.7 538.7l2.9-14.7-2.2 4.5-3 9.2z"/><path class="b23" d="M137.3 545.4l2.9-9.3-2.2 5.1-2.9-.5z"/><path class="b68" d="M178.6 514.1l3-4.5-2.3 15.6-2.9-9.3z"/><path class="b77" d="M190.4 504.4l2.9-7-2.2-9.8-3 20.3z"/><path class="b37" d="M89.9 537.2l3 12.4-2.3-15.9-2.9-.2z"/><path class="b33" d="M102.6 541.5l2.9-.5-2.3 11.1-2.9-.2z"/><path class="b110" d="M191.8 481.3l2.9-8.2-2.3-2.6-2.9 23.4z"/><path class="b55" d="M172.8 523.9l2.9-6.6-2.3 7.2-2.9 7.5z"/><path class="b28" d="M142.5 543.3l2.9 1.3-2.2-2.8-3-5.7z"/><path class="b141" d="M190.9 457.5l2.9-.8-2.2-13.8-3 17.3z"/><path class="b32" d="M110.7 541.2l2.9 10.5-2.2-11.5-3 0z"/><path class="b154" d="M189.3 446.1l2.9-13-2.2-4-2.9 17.8z"/><path class="b110" d="M43.1 484.1l2.9 12.9-2.3 .4-2.9-11.3z"/><path class="b11" d="M112.9 554.2l3-7.9-2.3 5.4-2.9-10.5z"/><path class="b163" d="M22.8 441.3l3 10.2-2.3-11.8-2.9-8.5z"/><path class="b160" d="M24.4 447.2l2.9 17.6-2.2-2.6-3-12.7z"/><path class="b50" d="M69.9 526.1l2.9-3.9-2.2 1.9-3-8.9z"/><path class="b36" d="M131.4 541l3 8-2.3 1.6-2.9-2.4z"/><path class="b26" d="M92.2 544.8l2.9-8.9-2.2 13.7-3-12.4z"/><path class="b73" d="M62.4 511.4l3 6.3-2.3 3.6-2.9-13.7z"/><path class="b93" d="M55 498.6l2.9 10.4-2.2 4.7-2.9-4.9z"/><path class="b29" d="M123.3 545.6l2.9 9.1-2.2-8.7-2.9 6.2z"/><path class="b50" d="M147.7 531.8l2.9 11.9-2.2-.5-3 1.4z"/><path class="b40" d="M166.9 534.4l2.9-1.4-2.2-1.4-3-7.6z"/><path class="b135" d="M193.1 461.9l3-6.6-2.3 1.4-2.9 .8z"/><path class="b65" d="M175.7 517.3l2.9-3.2-2.2 1.8-3 8.6z"/><path class="b179" d="M20.6 431.2l2.9 8.5-2.3-3.9-2.9-6.4z"/><path class="b39" d="M97.4 537.9l2.9 14-2.2-7.7-3-8.3z"/><path class="b41" d="M79.6 534.1l2.9-5.6-2.3 11.1-2.9-9.6z"/><path class="b20" d="M118.1 549.7l3 2.5-2.3-10.2-2.9 4.3z"/><path class="b10" d="M115.2 556.6l2.9-6.9-2.2-3.4-3 7.9z"/><path class="b7" d="M107.8 556.3l2.9-15.1-2.3-1-2.9 .8z"/><path class="b153" d="M22.1 449.5l3 12.7-2.3-20.9-2.9-.7z"/><path class="b46" d="M155.8 532.8l3 5-2.3 .7-2.9-1.7z"/><path class="b47" d="M84.8 531.3l2.9 2.2-2.3 6.4-2.9-11.4z"/><path class="b16" d="M128.5 553l2.9-12-2.2 7.2-3 6.5z"/><path class="b104" d="M45.3 489.2l2.9 13.7-2.2-5.9-2.9-12.9z"/><path class="b88" d="M47.6 499.6l2.9 3-2.3 .3-2.9-13.7z"/><path class="b125" d="M192.4 470.5l3-13.6-2.3 5-2.9 10.6z"/><path class="b35" d="M110 542.4l2.9 11.8-2.2-13-2.9 15.1z"/><path class="b162" d="M191.6 442.9l2.9-5.4-2.3-4.4-2.9 13z"/><path class="b103" d="M191.1 487.6l2.9-10.5-2.2 4.2-3 10z"/><path class="b14" d="M125.6 555.4l2.9-2.4-2.3 1.7-2.9-9.1z"/><path class="b140" d="M26.6 459.9l3-1.9-2.3 6.8-2.9-17.6z"/><path class="b55" d="M64.7 522.6l2.9-7.4-2.2 2.5-3-6.3z"/><path class="b83" d="M189.7 504l2.9-9.8-2.2 10.2-3 7z"/><path class="b42" d="M139.6 536.9l2.9 6.4-2.3-7.2-2.9 9.3z"/><path class="b84" d="M186.8 504.7l2.9-.7-2.3 7.4-2.9-1.6z"/><path class="b91" d="M49.8 499.3l3 9.5-2.3-6.2-2.9-3z"/><path class="b25" d="M87 544.9l2.9-7.7-2.2-3.7-2.9-2.2z"/><path class="b18" d="M120.4 552.4l2.9-6.8-2.2 6.6-3-2.5z"/><path class="b31" d="M136.6 544.1l3-7.2-2.3 8.5-2.9 3.6z"/><path class="b131" d="M28.9 466.4l2.9-2.7-2.2-5.7-3 1.9z"/><path class="b33" d="M104.8 543.3l3 13-2.3-15.3-2.9 .5z"/><path class="b66" d="M72.1 518.5l3 4.1-2.3-.4-2.9 3.9z"/><path class="b66" d="M66.9 518.5l3 7.6-2.3-10.9-2.9 7.4z"/><path class="b43" d="M152.9 535.9l2.9-3.1-2.2 4-3 6.9z"/><path class="b50" d="M177.9 527l3-10.9-2.3-2-2.9 3.2z"/><path class="b64" d="M163.9 522.2l3 12.2-2.3-10.4-2.9 14.7z"/><path class="b44" d="M89.2 535.9l3 8.9-2.3-7.6-2.9 7.7z"/><path class="b31" d="M81.8 541.3l3-10-2.3-2.8-2.9 5.6z"/><path class="b120" d="M194 477.1l2.9 1-2.2-5-2.9 8.2z"/><path class="b147" d="M195.4 456.9l2.9 .4-2.2-2-3 6.6z"/><path class="b99" d="M192.6 494.2l3-3.1-2.3 6.3-2.9 7z"/><path class="b24" d="M112.2 550.1l3 6.5-2.3-2.4-2.9-11.8z"/><path class="b40" d="M99.6 538.8l3 2.7-2.3 10.4-2.9-14z"/><path class="b140" d="M193.8 456.7l3-25.4-2.3 6.2-2.9 5.4z"/><path class="b73" d="M183.8 511.7l3-7-2.3 5.1-2.9-.2z"/><path class="b46" d="M144.8 534.7l2.9-2.9-2.3 12.8-2.9-1.3z"/><path class="b151" d="M31.1 457.1l3 16.6-2.3-10-2.9 2.7z"/><path class="b67" d="M180.9 516.1l2.9-4.4-2.2-2.1-3 4.5z"/><path class="b123" d="M194.7 473.1l2.9-7-2.2-9.2-3 13.6z"/><path class="b49" d="M172.1 529.7l2.9-15.1-2.2 9.3-3 9.1z"/><path class="b67" d="M169.1 521l3 8.7-2.3 3.3-2.9 1.4z"/><path class="b51" d="M76.6 530.1l3 4-2.3-4.1-2.9-1.3z"/><path class="b75" d="M175 514.6l2.9 12.4-2.2-9.7-2.9 6.6z"/><path class="b53" d="M161 529.6l2.9-7.4-2.2 16.5-2.9-.9z"/><path class="b133" d="M35.6 469.6l3 18.6-2.3-6.5-2.9-19z"/><path class="b30" d="M133.7 545.4l2.9-1.3-2.2 4.9-3-8z"/><path class="b51" d="M74.4 528.7l2.9 1.3-2.2-7.4-3-4.1z"/><path class="b37" d="M117.4 543.2l3 9.2-2.3-2.7-2.9 6.9z"/><path class="b88" d="M193.3 497.4l2.9-19.2-2.2-1.1-2.9 10.5z"/><path class="b143" d="M33.4 462.7l2.9 19-2.2-8-3-16.6z"/><path class="b20" d="M130.8 552.3l2.9-6.9-2.3-4.4-2.9 12z"/><path class="b60" d="M84.1 527l2.9 17.9-2.2-13.6-3 10z"/><path class="b45" d="M94.4 535.7l3 2.2-2.3-2-2.9 8.9z"/><path class="b116" d="M196.9 478.1l3-15.9-2.3 3.9-2.9 7z"/><path class="b129" d="M37.9 473.5l2.9 12.6-2.2 2.1-3-18.6z"/><path class="b145" d="M196.1 455.3l2.9-20.1-2.2-3.9-3 25.4z"/><path class="b35" d="M127.8 545.4l3 6.9-2.3 .7-2.9 2.4z"/><path class="b167" d="M19.9 440.6l2.9 .7-2.2-10.1-3-4.9z"/><path class="b88" d="M52.1 502.5l2.9-3.9-2.2 10.2-3-9.5z"/><path class="b45" d="M149.9 536l3-.1-2.3 7.8-2.9-11.9z"/><path class="b96" d="M57.2 498.8l3 8.8-2.3 1.4-2.9-10.4z"/><path class="b45" d="M158.1 534.9l2.9-5.3-2.2 8.2-3-5z"/><path class="b40" d="M107.1 540.8l2.9 1.6-2.2 13.9-3-13z"/><path class="b79" d="M61.7 510.9l3 11.7-2.3-11.2-2.9 .8z"/><path class="b38" d="M122.6 543.1l3 12.3-2.3-9.8-2.9 6.8z"/><path class="b66" d="M69.2 519.8l2.9-1.3-2.2 7.6-3-7.6z"/><path class="b37" d="M141.8 540.9l3-6.2-2.3 8.6-2.9-6.4z"/><path class="b103" d="M195.6 491.1l2.9-5.9-2.3-7-2.9 19.2z"/><path class="b133" d="M197.6 466.1l3-11.9-2.3 3.1-2.9-.4z"/><path class="b62" d="M78.9 525.6l2.9 15.7-2.2-7.2-3-4z"/><path class="b190" d="M17.6 426.3l3 4.9-2.3-1.8-2.9-5.9z"/><path class="b74" d="M59.5 512.2l2.9-.8-2.2-3.8-3-8.8z"/><path class="b113" d="M40.1 484l3 .1-2.3 2-2.9-12.6z"/><path class="b30" d="M86.3 545l2.9-9.1-2.2 9-2.9-17.9z"/><path class="b27" d="M114.5 550.2l2.9-7-2.2 13.4-3-6.5z"/><path class="b121" d="M196.2 478.2l3-7.5-2.3 7.4-2.9-1z"/><path class="b91" d="M180.2 506.3l2.9 10.9-2.2-1.1-3 10.9z"/><path class="b42" d="M91.5 538.7l2.9-3-2.2 9.1-3-8.9z"/><path class="b68" d="M183.1 517.2l3-13.3-2.3 7.8-2.9 4.4z"/><path class="b145" d="M198.3 457.3l2.9-19.5-2.2-2.6-2.9 20.1z"/><path class="b41" d="M101.9 540.4l2.9 2.9-2.2-1.8-3-2.7z"/><path class="b31" d="M96.7 545.3l2.9-6.5-2.2-.9-3-2.2z"/><path class="b78" d="M64 512.9l2.9 5.6-2.2 4.1-3-11.7z"/><path class="b45" d="M138.9 537.8l2.9 3.1-2.2-4-3 7.2z"/><path class="b59" d="M155.1 528.7l3 6.2-2.3-2.1-2.9 3.1z"/><path class="b38" d="M147 540.8l2.9-4.8-2.2-4.2-2.9 2.9z"/><path class="b167" d="M25.9 447.6l3 18.8-2.3-6.5-2.9-11.4z"/><path class="b26" d="M98.9 549.5l3-9.1-2.3-1.6-2.9 6.5z"/><path class="b62" d="M166.2 525l2.9-4-2.2 13.4-3-12.2z"/><path class="b37" d="M135.9 543.5l3-5.7-2.3 6.3-2.9 1.3z"/><path class="b124" d="M42.4 479.5l2.9 9.7-2.2-5.1-3-.1z"/><path class="b27" d="M109.3 549.7l2.9 .4-2.2-7.7-2.9-1.6z"/><path class="b62" d="M174.3 524.3l2.9-3.9-2.2-5.8-2.9 15.1z"/><path class="b100" d="M189 497.6l2.9-.4-2.2 6.8-2.9 .7z"/><path class="b133" d="M199.2 470.7l2.9-7.2-2.2-1.3-3 15.9z"/><path class="b41" d="M81.1 538.4l3-11.4-2.3 14.3-2.9-15.7z"/><path class="b26" d="M111.6 552l2.9-1.8-2.3-.1-2.9-.4z"/><path class="b99" d="M191.9 497.2l3-7.8-2.3 4.8-2.9 9.8z"/><path class="b163" d="M23.7 448.5l2.9 11.4-2.2-12.7-3-7.7z"/><path class="b41" d="M133 542.2l2.9 1.3-2.2 1.9-2.9 6.9z"/><path class="b45" d="M88.6 538.6l2.9 .1-2.3-2.8-2.9 9.1z"/><path class="b79" d="M71.4 514.2l3 14.5-2.3-10.2-2.9 1.3z"/><path class="b91" d="M186.1 503.9l2.9-6.3-2.2 7.1-3 7z"/><path class="b57" d="M160.3 530l2.9 6.4-2.2-6.8-2.9 5.3z"/><path class="b67" d="M177.2 520.4l3-14.1-2.3 20.7-2.9-12.4z"/><path class="b185" d="M19.2 433.4l2.9 16.1-2.2-8.9-3-14.2z"/><path class="b38" d="M93.8 542.8l2.9 2.5-2.3-9.6-2.9 3z"/><path class="b41" d="M149.2 540.8l3 .4-2.3-5.2-2.9 4.8z"/><path class="b43" d="M163.2 536.4l3-11.4-2.3-2.8-2.9 7.4z"/><path class="b38" d="M152.2 541.2l2.9-12.5-2.2 7.2-3 .1z"/><path class="b143" d="M199.9 462.2l2.9-12.5-2.2 4.5-3 11.9z"/><path class="b55" d="M73.7 529.1l2.9 1-2.2-1.4-3-14.5z"/><path class="b61" d="M171.4 525.7l2.9-1.4-2.2 5.4-3-8.7z"/><path class="b111" d="M194.9 489.4l2.9 .4-2.2 1.3-3 3.1z"/><path class="b177" d="M21.4 439.5l3 7.7-2.3 2.3-2.9-16.1z"/><path class="b33" d="M119.7 547.1l2.9-4-2.2 9.3-3-9.2z"/><path class="b43" d="M83.4 538.8l2.9 6.2-2.2-18-3 11.4z"/><path class="b52" d="M144.1 534.4l2.9 6.4-2.2-6.1-3 6.2z"/><path class="b122" d="M44.6 482.2l3 17.4-2.3-10.4-2.9-9.7z"/><path class="b109" d="M46.9 490.9l2.9 8.4-2.2 .3-3-17.4z"/><path class="b97" d="M54.3 499.2l2.9-.4-2.2-.2-2.9 3.9z"/><path class="b111" d="M198.5 485.2l2.9-13.1-2.2-1.4-3 7.5z"/><path class="b40" d="M124.9 543.6l2.9 1.8-2.2 10-3-12.3z"/><path class="b73" d="M66.2 517.2l3 2.6-2.3-1.3-2.9-5.6z"/><path class="b42" d="M104.1 541.2l3-.4-2.3 2.5-2.9-2.9z"/><path class="b86" d="M56.6 506.7l2.9 5.5-2.3-13.4-2.9 .4z"/><path class="b87" d="M58.8 507.7l2.9 3.2-2.2 1.3-2.9-5.5z"/><path class="b53" d="M96 536.1l2.9 13.4-2.2-4.2-2.9-2.5z"/><path class="b153" d="M200.6 454.2l2.9-21.4-2.3 5-2.9 19.5z"/><path class="b36" d="M141.1 544.3l3-9.9-2.3 6.5-2.9-3.1z"/><path class="b31" d="M138.2 548.3l2.9-4-2.2-6.5-3 5.7z"/><path class="b21" d="M108.6 555.5l3-3.5-2.3-2.3-2.9-3.4z"/><path class="b195" d="M16.9 426.4l3 14.2-2.3-14.3-2.9-6.1z"/><path class="b38" d="M101.2 544.4l2.9-3.2-2.2-.8-3 9.1z"/><path class="b108" d="M197.8 489.8l3-22.7-2.3 18.1-2.9 5.9z"/><path class="b35" d="M106.4 546.3l2.9 3.4-2.2-8.9-3 .4z"/><path class="b70" d="M75.9 522.3l3 3.3-2.3 4.5-2.9-1z"/><path class="b170" d="M28.2 447.6l2.9 9.5-2.2 9.3-3-18.8z"/><path class="b50" d="M130.1 538.9l2.9 3.3-2.2 10.1-3-6.9z"/><path class="b62" d="M168.4 526.7l3-1-2.3-4.7-2.9 4z"/><path class="b48" d="M146.3 538.3l2.9 2.5-2.2 0-2.9-6.4z"/><path class="b56" d="M157.4 531.7l2.9-1.7-2.2 4.9-3-6.2z"/><path class="b89" d="M191.2 505.1l3-4.9-2.3-3-2.9 .4z"/><path class="b44" d="M116.8 542.1l2.9 5-2.3-3.9-2.9 7z"/><path class="b71" d="M165.5 522.8l2.9 3.9-2.2-1.7-3 11.4z"/><path class="b131" d="M49.1 480.2l3 22.3-2.3-3.2-2.9-8.4z"/><path class="b70" d="M85.6 525.8l3 12.8-2.3 6.4-2.9-6.2z"/><path class="b89" d="M188.3 506.3l2.9-1.2-2.2-7.5-2.9 6.3z"/><path class="b72" d="M68.5 519.3l2.9-5.1-2.2 5.6-3-2.6z"/><path class="b59" d="M90.8 532.1l3 10.7-2.3-4.1-2.9-.1z"/><path class="b100" d="M185.4 501.4l2.9 4.9-2.2-2.4-3 13.3z"/><path class="b203" d="M14.7 420.2l2.9 6.1-2.2-2.8-3-17z"/><path class="b34" d="M113.8 549.2l3-7.1-2.3 8.1-2.9 1.8z"/><path class="b35" d="M98.2 547.1l3-2.7-2.3 5.1-2.9-13.4z"/><path class="b60" d="M78.2 529.6l2.9 8.8-2.2-12.8-3-3.3z"/><path class="b39" d="M121.9 545.6l3-2-2.3-.5-2.9 4z"/><path class="b60" d="M154.4 530.7l3 1-2.3-3-2.9 12.5z"/><path class="b62" d="M80.4 530l3 8.8-2.3-.4-2.9-8.8z"/><path class="b143" d="M34.9 467.4l3 6.1-2.3-3.9-2.9-8z"/><path class="b150" d="M32.7 461.6l2.9 8-2.2-6.9-3-6.8z"/><path class="b53" d="M135.2 537.2l3 11.1-2.3-4.8-2.9-1.3z"/><path class="b28" d="M105.7 552.9l2.9 2.6-2.2-9.2-3-1.2z"/><path class="b25" d="M127.1 553.4l3-14.5-2.3 6.5-2.9-1.8z"/><path class="b40" d="M103.4 545.1l3 1.2-2.3-5.1-2.9 3.2z"/><path class="b133" d="M201.4 472.1l3-20.3-2.3 11.7-2.9 7.2z"/><path class="b82" d="M182.4 512.5l3-11.1-2.3 15.8-2.9-10.9z"/><path class="b96" d="M194.2 500.2l2.9-17.8-2.2 7-3 7.8z"/><path class="b41" d="M110.9 546.3l2.9 2.9-2.2 2.8-3 3.5z"/><path class="b158" d="M30.4 455.9l3 6.8-2.3-5.6-2.9-9.5z"/><path class="b77" d="M176.6 517.7l2.9-10.7-2.3 13.4-2.9 3.9z"/><path class="b63" d="M151.5 530.2l2.9 .5-2.2 10.5-3-.4z"/><path class="b29" d="M119 551.9l2.9-6.3-2.2 1.5-2.9-5z"/><path class="b32" d="M100.5 550.7l2.9-5.6-2.2-.7-3 2.7z"/><path class="b110" d="M61.1 496.6l2.9 16.3-2.3-2-2.9-3.2z"/><path class="b144" d="M202.1 463.5l3-26.4-2.3 12.6-2.9 12.5z"/><path class="b77" d="M162.6 521l2.9 1.8-2.3 13.6-2.9-6.4z"/><path class="b61" d="M143.4 532.4l2.9 5.9-2.2-3.9-3 9.9z"/><path class="b147" d="M200.8 467.1l2.9-2.1-2.3 7.1-2.9 13.1z"/><path class="b163" d="M37.2 458.1l2.9 25.9-2.2-10.5-3-6.1z"/><path class="b94" d="M179.5 507l2.9 5.5-2.2-6.2-3 14.1z"/><path class="b90" d="M70.8 511.2l2.9 17.9-2.3-14.9-2.9 5.1z"/><path class="b164" d="M202.8 449.7l3-16.9-2.3 0-2.9 21.4z"/><path class="b94" d="M173.6 509.7l3 8-2.3 6.6-2.9 1.4z"/><path class="b49" d="M124.2 541.8l2.9 11.6-2.2-9.8-3 2z"/><path class="b60" d="M140.4 533.9l3-1.5-2.3 11.9-2.9 4z"/><path class="b126" d="M197.1 482.4l3-6.4-2.3 13.8-2.9-.4z"/><path class="b37" d="M116.1 548.7l2.9 3.2-2.2-9.8-3 7.1z"/><path class="b38" d="M97.6 548.3l2.9 2.4-2.3-3.6-2.9-1z"/><path class="b55" d="M93.1 536.1l2.9 0-2.2 6.7-3-10.7z"/><path class="b133" d="M51.4 480.8l2.9 18.4-2.2 3.3-3-22.3z"/><path class="b39" d="M95.3 546.1l2.9 1-2.2-11-2.9 0z"/><path class="b87" d="M65.6 512.5l2.9 6.8-2.3-2.1-2.9-10.3z"/><path class="b66" d="M148.6 530.2l2.9 0-2.3 10.6-2.9-2.5z"/><path class="b94" d="M63.3 506.9l2.9 10.3-2.2-4.3-2.9-16.3z"/><path class="b77" d="M73 519.8l2.9 2.5-2.2 6.8-2.9-17.9z"/><path class="b50" d="M102.8 542.5l2.9 10.4-2.3-7.8-2.9 5.6z"/><path class="b45" d="M132.3 543l2.9-5.8-2.2 5-2.9-3.3z"/><path class="b150" d="M39.4 466.5l3 13-2.3 4.5-2.9-25.9z"/><path class="b54" d="M107.9 540.4l3 5.9-2.3 9.2-2.9-2.6z"/><path class="b42" d="M137.5 545.3l2.9-11.4-2.2 14.4-3-11.1z"/><path class="b103" d="M190.6 500.2l2.9-12.2-2.3 17.1-2.9 1.2z"/><path class="b51" d="M87.9 537.8l2.9-5.7-2.2 6.5-3-12.8z"/><path class="b85" d="M170.7 515.7l2.9-6-2.2 16-3 1z"/><path class="b59" d="M82.7 533.4l2.9-7.6-2.2 13-3-8.8z"/><path class="b54" d="M129.4 539.1l2.9 3.9-2.2-4.1-3 14.5z"/><path class="b43" d="M121.2 545.9l3-4.1-2.3 3.8-2.9 6.3z"/><path class="b78" d="M159.6 521.4l3-.4-2.3 9-2.9 1.7z"/><path class="b123" d="M193.5 488l2.9-5.1-2.2 17.3-3 4.9z"/><path class="b42" d="M113.1 547.3l3 1.4-2.3 .5-2.9-2.9z"/><path class="b37" d="M126.4 549.7l3-10.6-2.3 14.3-2.9-11.6z"/><path class="b130" d="M53.6 484l3 22.7-2.3-7.5-2.9-18.4z"/><path class="b66" d="M156.7 529.2l2.9-7.8-2.2 10.3-3-1z"/><path class="b84" d="M75.2 517.7l3 11.9-2.3-7.3-2.9-2.5z"/><path class="b48" d="M118.3 544.5l2.9 1.4-2.2 6-2.9-3.2z"/><path class="b136" d="M200.1 476l2.9-14.6-2.2 5.7-3 22.7z"/><path class="b60" d="M90.1 534.5l3 1.6-2.3-4-2.9 5.7z"/><path class="b120" d="M187.6 492.1l3 8.1-2.3 6.1-2.9-4.9z"/><path class="b126" d="M55.9 487.7l2.9 20-2.2-1-3-22.7z"/><path class="b55" d="M134.6 539l2.9 6.3-2.3-8.1-2.9 5.8z"/><path class="b91" d="M167.8 513.6l2.9 2.1-2.3 11-2.9-3.9z"/><path class="b60" d="M153.8 533.6l2.9-4.4-2.3 1.5-2.9-.5z"/><path class="b161" d="M41.7 462.2l2.9 20-2.2-2.7-3-13z"/><path class="b149" d="M203.7 465l2.9-19.3-2.2 6.1-3 20.3z"/><path class="b91" d="M67.8 511.9l3-.7-2.3 8.1-2.9-6.8z"/><path class="b168" d="M204.4 451.8l2.9-10.1-2.2-4.6-3 26.4z"/><path class="b68" d="M145.6 530.3l3-.1-2.3 8.1-2.9-5.9z"/><path class="b32" d="M105 553.4l2.9-13-2.2 12.5-2.9-10.4z"/><path class="b53" d="M99.8 542.1l3 .4-2.3 8.2-2.9-2.4z"/><path class="b201" d="M23 430.6l2.9 17-2.2 .9-3-27.8z"/><path class="b222" d="M18.5 415.8l2.9 23.7-2.2-6.1-3-19.1z"/><path class="b216" d="M20.7 420.7l3 27.8-2.3-9-2.9-23.7z"/><path class="b131" d="M196.4 482.9l3-8.7-2.3 8.2-2.9 17.8z"/><path class="b222" d="M16.2 414.3l3 19.1-2.3-7-2.9-22.3z"/><path class="b45" d="M123.5 546.3l2.9 3.4-2.2-7.9-3 4.1z"/><path class="b84" d="M77.5 519.4l2.9 10.6-2.2-.4-3-11.9z"/><path class="b61" d="M139.8 536.4l2.9 7.5-2.3-10-2.9 11.4z"/><path class="b87" d="M178.8 513.8l3-13.3-2.3 6.5-2.9 10.7z"/><path class="b77" d="M84.9 525.1l3 12.7-2.3-12-2.9 7.6z"/><path class="b45" d="M142.7 543.9l2.9-13.6-2.2 2.1-3 1.5z"/><path class="b90" d="M175.9 513.3l2.9 .5-2.2 3.9-3-8z"/><path class="b70" d="M92.4 530.5l2.9 15.6-2.2-10-3-1.6z"/><path class="b116" d="M184.7 495.7l2.9-3.6-2.2 9.3-3 11.1z"/><path class="b75" d="M164.8 523.5l3-9.9-2.3 9.2-2.9-1.8z"/><path class="b238" d="M14 404.1l2.9 22.3-2.2-6.2-3-21.3z"/><path class="b163" d="M43.9 462.5l3 28.4-2.3-8.7-2.9-20z"/><path class="b198" d="M25.2 433.6l3 14-2.3 0-2.9-17z"/><path class="b45" d="M115.4 547.3l2.9-2.8-2.2 4.2-3-1.4z"/><path class="b109" d="M181.8 500.5l2.9-4.8-2.3 16.8-2.9-5.5z"/><path class="b44" d="M110.2 547.7l2.9-.4-2.2-1-3-5.9z"/><path class="b73" d="M150.8 527.6l3 6-2.3-3.4-2.9 0z"/><path class="b45" d="M136.8 546.2l3-9.8-2.3 8.9-2.9-6.3z"/><path class="b74" d="M79.8 526.4l2.9 7-2.3-3.4-2.9-10.6z"/><path class="b190" d="M205.1 437.1l2.9-18.5-2.2 14.2-3 16.9z"/><path class="b57" d="M131.6 539l3 0-2.3 4-2.9-3.9z"/><path class="b245" d="M11.7 398.9l3 21.3-2.3-13.7-2.9-10.6z"/><path class="b62" d="M94.6 536.6l3 11.7-2.3-2.2-2.9-15.6z"/><path class="b192" d="M27.5 438.5l2.9 17.4-2.2-8.3-3-14z"/><path class="b121" d="M58.1 492.1l3 4.5-2.3 11.1-2.9-20z"/><path class="b192" d="M29.7 440.4l3 21.2-2.3-5.7-2.9-17.4z"/><path class="b43" d="M102.1 548.9l2.9 4.5-2.2-10.9-3-.4z"/><path class="b161" d="M203 461.4l2.9-4.2-2.2 7.8-2.9 2.1z"/><path class="b144" d="M199.4 474.2l2.9-.3-2.2 2.1-3 6.4z"/><path class="b45" d="M120.6 547.5l2.9-1.2-2.3-.4-2.9-1.4z"/><path class="b184" d="M32 446.3l2.9 21.1-2.2-5.8-3-21.2z"/><path class="b103" d="M70.1 507.1l2.9 12.7-2.2-8.6-3 .7z"/><path class="b43" d="M112.4 549.4l3-2.1-2.3 0-2.9 .4z"/><path class="b43" d="M125.8 549.4l2.9-10.2-2.3 10.5-2.9-3.4z"/><path class="b74" d="M87.2 528.3l2.9 6.2-2.2 3.3-3-12.7z"/><path class="b92" d="M161.9 515.6l2.9 7.9-2.2-2.5-3 .4z"/><path class="b59" d="M128.7 539.2l2.9-.2-2.2 .1-3 10.6z"/><path class="b61" d="M107.2 539.2l3 8.5-2.3-7.3-2.9 13z"/><path class="b101" d="M172.9 508.6l3 4.7-2.3-3.6-2.9 6z"/><path class="b42" d="M117.6 550.4l3-2.9-2.3-3-2.9 2.8z"/><path class="b75" d="M158.9 525.8l3-10.2-2.3 5.8-2.9 7.8z"/><path class="b64" d="M144.9 534.8l3-7.1-2.3 2.6-2.9 13.6z"/><path class="b143" d="M202.3 473.9l2.9-8.6-2.2-3.9-2.9 14.6z"/><path class="b163" d="M46.2 463.9l2.9 16.3-2.2 10.7-3-28.4z"/><path class="b166" d="M205.9 457.2l3-5.4-2.3-6.1-2.9 19.3z"/><path class="b93" d="M156 517.4l2.9 8.4-2.2 3.4-2.9 4.4z"/><path class="b67" d="M142 534.7l2.9 .1-2.2 9.1-2.9-7.5z"/><path class="b75" d="M147.9 527.7l2.9-.1-2.2 2.6-3 .1z"/><path class="b81" d="M82 523.7l2.9 1.4-2.2 8.3-2.9-7z"/><path class="b66" d="M133.9 536l2.9 10.2-2.2-7.2-3 0z"/><path class="b85" d="M170 518.2l2.9-9.6-2.2 7.1-2.9-2.1z"/><path class="b70" d="M96.9 533.7l2.9 8.4-2.2 6.2-3-11.7z"/><path class="b182" d="M206.6 445.7l3-11.6-2.3 7.6-2.9 10.1z"/><path class="b187" d="M34.2 445.9l3 12.2-2.3 9.3-2.9-21.1z"/><path class="b133" d="M60.4 487.3l2.9 19.6-2.2-10.3-3-4.5z"/><path class="b62" d="M122.8 540.1l3 9.3-2.3-3.1-2.9 1.2z"/><path class="b119" d="M62.6 496.4l3 16.1-2.3-5.6-2.9-19.6z"/><path class="b99" d="M167.1 512.2l2.9 6-2.2-4.6-3 9.9z"/><path class="b110" d="M64.9 502.8l2.9 9.1-2.2 .6-3-16.1z"/><path class="b43" d="M109.5 550.9l2.9-1.5-2.2-1.7-3-8.5z"/><path class="b56" d="M114.7 544.3l2.9 6.1-2.2-3.1-3 2.1z"/><path class="b111" d="M72.3 504.3l2.9 13.4-2.2 2.1-2.9-12.7z"/><path class="b141" d="M48.4 477.7l3 3.1-2.3-.6-2.9-16.3z"/><path class="b73" d="M104.3 534l2.9 5.2-2.2 14.2-2.9-4.5z"/><path class="b51" d="M99.1 545.5l3 3.4-2.3-6.8-2.9-8.4z"/><path class="b185" d="M207.3 441.7l2.9-16.8-2.2-6.3-2.9 18.5z"/><path class="b81" d="M89.4 526.1l3 4.4-2.3 4-2.9-6.2z"/><path class="b79" d="M139.1 529.1l2.9 5.6-2.2 1.7-3 9.8z"/><path class="b87" d="M153.1 521.5l2.9-4.1-2.2 16.2-3-6z"/><path class="b57" d="M130.9 542.1l3-6.1-2.3 3-2.9 .2z"/><path class="b53" d="M119.9 546.3l2.9-6.2-2.2 7.4-3 2.9z"/><path class="b152" d="M50.7 473.4l2.9 10.6-2.2-3.2-3-3.1z"/><path class="b157" d="M205.2 465.3l3-15.9-2.3 7.8-2.9 4.2z"/><path class="b190" d="M36.5 446l2.9 20.5-2.2-8.4-3-12.2z"/><path class="b81" d="M84.2 525.7l3 2.6-2.3-3.2-2.9-1.4z"/><path class="b103" d="M164.1 511.2l3 1-2.3 11.3-2.9-7.9z"/><path class="b60" d="M136.1 540.7l3-11.6-2.3 17.1-2.9-10.2z"/><path class="b92" d="M76.8 517.8l3 8.6-2.3-7-2.9-11.2z"/><path class="b106" d="M74.6 508.2l2.9 11.2-2.3-1.7-2.9-13.4z"/><path class="b77" d="M128 532.1l2.9 10-2.2-2.9-2.9 10.2z"/><path class="b49" d="M116.9 549.5l3-3.2-2.3 4.1-2.9-6.1z"/><path class="b174" d="M208.9 451.8l2.9-18.4-2.2 .7-3 11.6z"/><path class="b143" d="M52.9 479.6l3 8.1-2.3-3.7-2.9-10.6z"/><path class="b72" d="M111.8 536.8l2.9 7.5-2.3 5.1-2.9 1.5z"/><path class="b69" d="M144.2 534.8l3-4.6-2.3 4.6-2.9-.1z"/><path class="b135" d="M55.2 485.5l2.9 6.6-2.2-4.4-3-8.1z"/><path class="b128" d="M67.1 494.5l3 12.6-2.3 4.8-2.9-9.1z"/><path class="b57" d="M133.2 543.4l2.9-2.7-2.2-4.7-3 6.1z"/><path class="b64" d="M101.4 540l2.9-6-2.2 14.9-3-3.4z"/><path class="b202" d="M209.6 434.1l2.9-14.1-2.3 4.9-2.9 16.8z"/><path class="b91" d="M150.1 520.6l3 .9-2.3 6.1-2.9 .1z"/><path class="b51" d="M106.6 547.8l2.9 3.1-2.3-11.7-2.9-5.2z"/><path class="b88" d="M91.7 523.9l2.9 12.7-2.2-6.1-3-4.4z"/><path class="b76" d="M147.2 530.2l2.9-9.6-2.2 7.1-3 7.1z"/><path class="b73" d="M86.5 531.4l2.9-5.3-2.2 2.2-3-2.6z"/><path class="b183" d="M208.2 449.4l2.9-11-2.2 13.4-3 5.4z"/><path class="b191" d="M38.7 447.1l3 15.1-2.3 4.3-2.9-20.5z"/><path class="b61" d="M93.9 539.9l3-6.2-2.3 2.9-2.9-12.7z"/><path class="b111" d="M161.2 507.7l2.9 3.5-2.2 4.4-3 10.2z"/><path class="b113" d="M79.1 507.8l2.9 15.9-2.2 2.7-3-8.6z"/><path class="b68" d="M141.3 537l2.9-2.2-2.2-.1-2.9-5.6z"/><path class="b81" d="M96.2 530.6l2.9 14.9-2.2-11.8-3 6.2z"/><path class="b57" d="M108.8 545.9l3-9.1-2.3 14.1-2.9-3.1z"/><path class="b76" d="M125.1 534l2.9-1.9-2.2 17.3-3-9.3z"/><path class="b96" d="M158.2 517.2l3-9.5-2.3 18.1-2.9-8.4z"/><path class="b155" d="M57.4 476.6l3 10.7-2.3 4.8-2.9-6.6z"/><path class="b56" d="M114 546.7l2.9 2.8-2.2-5.2-2.9-7.5z"/><path class="b186" d="M41 451.4l2.9 11.1-2.2-.3-3-15.1z"/><path class="b77" d="M130.2 534.1l3 9.3-2.3-1.3-2.9-10z"/><path class="b112" d="M69.4 504.6l2.9-.3-2.2 2.8-3-12.6z"/><path class="b81" d="M138.4 531.1l2.9 5.9-2.2-7.9-3 11.6z"/><path class="b101" d="M155.3 515.6l2.9 1.6-2.2 .2-2.9 4.1z"/><path class="b93" d="M88.8 522l2.9 1.9-2.3 2.2-2.9 5.3z"/><path class="b76" d="M135.4 534.6l3-3.5-2.3 9.6-2.9 2.7z"/><path class="b76" d="M103.6 535l3 12.8-2.3-13.8-2.9 6z"/><path class="b202" d="M211.1 438.4l3-14.1-2.3 9.1-2.9 18.4z"/><path class="b178" d="M43.2 457.4l3 6.5-2.3-1.4-2.9-11.1z"/><path class="b80" d="M98.4 532.8l3 7.2-2.3 5.5-2.9-14.9z"/><path class="b66" d="M119.2 541.6l2.9-10.5-2.2 15.2-3 3.2z"/><path class="b84" d="M122.1 531.1l3 2.9-2.3 6.1-2.9 6.2z"/><path class="b76" d="M91 533l2.9 6.9-2.2-16-2.9-1.9z"/><path class="b110" d="M81.3 511l2.9 14.7-2.2-2-2.9-15.9z"/><path class="b67" d="M105.9 541.5l2.9 4.4-2.2 1.9-3-12.8z"/><path class="b193" d="M45.5 450.7l2.9 27-2.2-13.8-3-6.5z"/><path class="b130" d="M71.6 496.6l3 11.6-2.3-3.9-2.9 .3z"/><path class="b103" d="M83.6 516.5l2.9 14.9-2.3-5.7-2.9-14.7z"/><path class="b68" d="M111.1 541.5l2.9 5.2-2.2-9.9-3 9.1z"/><path class="b206" d="M211.8 433.4l3-24.7-2.3 11.3-2.9 14.1z"/><path class="b104" d="M152.4 515.2l2.9 .4-2.2 5.9-3-.9z"/><path class="b80" d="M116.2 535.2l3 6.4-2.3 7.9-2.9-2.8z"/><path class="b75" d="M132.5 536.7l2.9-2.1-2.2 8.8-3-9.3z"/><path class="b163" d="M59.7 473.6l2.9 22.8-2.2-9.1-3-10.7z"/><path class="b67" d="M127.3 540.5l2.9-6.4-2.2-2-2.9 1.9z"/><path class="b155" d="M61.9 479.5l3 23.3-2.3-6.4-2.9-22.8z"/><path class="b186" d="M47.7 456.2l3 17.2-2.3 4.3-2.9-27z"/><path class="b110" d="M149.4 513.1l3 2.1-2.3 5.4-2.9 9.6z"/><path class="b106" d="M93.2 518.2l3 12.4-2.3 9.3-2.9-6.9z"/><path class="b107" d="M146.5 516.1l2.9-3-2.2 17.1-3 4.6z"/><path class="b97" d="M85.8 521.1l3 .9-2.3 9.4-2.9-14.9z"/><path class="b133" d="M73.9 496.6l2.9 21.2-2.2-9.6-3-11.6z"/><path class="b179" d="M50 461.2l2.9 18.4-2.2-6.2-3-17.2z"/><path class="b110" d="M143.6 515.3l2.9 .8-2.3 18.7-2.9 2.2z"/><path class="b150" d="M64.2 483.9l2.9 10.6-2.2 8.3-3-23.3z"/><path class="b84" d="M129.6 532.7l2.9 4-2.3-2.6-2.9 6.4z"/><path class="b101" d="M100.7 522.8l2.9 12.2-2.2 5-3-7.2z"/><path class="b124" d="M76.1 503.2l3 4.6-2.3 10-2.9-21.2z"/><path class="b77" d="M113.3 538.2l2.9-3-2.2 11.5-2.9-5.2z"/><path class="b93" d="M124.4 527.4l2.9 13.1-2.2-6.5-3-2.9z"/><path class="b194" d="M52.2 455l3 30.5-2.3-5.9-2.9-18.4z"/><path class="b101" d="M108.1 525l3 16.5-2.3 4.4-2.9-4.4z"/><path class="b225" d="M214.1 424.3l2.9-12.5-2.2-3.1-3 24.7z"/><path class="b155" d="M66.4 482.3l3 22.3-2.3-10.1-2.9-10.6z"/><path class="b121" d="M88.1 509.6l2.9 23.4-2.2-11-3-.9z"/><path class="b113" d="M140.6 515.3l3 0-2.3 21.7-2.9-5.9z"/><path class="b86" d="M95.5 530.7l2.9 2.1-2.2-2.2-3-12.4z"/><path class="b83" d="M121.4 534.1l3-6.7-2.3 3.7-2.9 10.5z"/><path class="b118" d="M78.4 507.6l2.9 3.4-2.2-3.2-3-4.6z"/><path class="b137" d="M68.7 494l2.9 2.6-2.2 8-3-22.3z"/><path class="b100" d="M137.7 523.1l2.9-7.8-2.2 15.8-3 3.5z"/><path class="b187" d="M54.5 460.3l2.9 16.3-2.2 8.9-3-30.5z"/><path class="b102" d="M126.6 524.4l3 8.3-2.3 7.8-2.9-13.1z"/><path class="b111" d="M134.8 518.3l2.9 4.8-2.3 11.5-2.9 2.1z"/><path class="b108" d="M102.9 520.6l3 20.9-2.3-6.5-2.9-12.2z"/><path class="b103" d="M118.5 524.7l2.9 9.4-2.2 7.5-3-6.4z"/><path class="b96" d="M97.8 526.9l2.9-4.1-2.3 10-2.9-2.1z"/><path class="b134" d="M70.9 496.9l3-.3-2.3 0-2.9-2.6z"/><path class="b138" d="M80.6 498.5l3 18-2.3-5.5-2.9-3.4z"/><path class="b114" d="M82.9 513l2.9 8.1-2.2-4.6-3-18z"/><path class="b97" d="M110.4 528.8l2.9 9.4-2.2 3.3-3-16.5z"/><path class="b97" d="M131.8 527.6l3-9.3-2.3 18.4-2.9-4z"/><path class="b175" d="M56.8 468.1l2.9 5.5-2.3 3-2.9-16.3z"/><path class="b123" d="M90.3 510l2.9 8.2-2.2 14.8-2.9-23.4z"/><path class="b87" d="M115.6 534.6l2.9-9.9-2.3 10.5-2.9 3z"/><path class="b148" d="M73.2 491.3l2.9 11.9-2.2-6.6-3 .3z"/><path class="b90" d="M105.2 531.8l2.9-6.8-2.2 16.5-3-20.9z"/><path class="b93" d="M123.7 530.3l2.9-5.9-2.2 3-3 6.7z"/><path class="b106" d="M92.6 521.1l2.9 9.6-2.3-12.5-2.9-8.2z"/><path class="b114" d="M94.8 518.2l3 8.7-2.3 3.8-2.9-9.6z"/><path class="b193" d="M59 459.9l2.9 19.6-2.2-5.9-2.9-5.5z"/><path class="b98" d="M120.8 528.8l2.9 1.5-2.3 3.8-2.9-9.4z"/><path class="b152" d="M75.4 490.6l3 17-2.3-4.4-2.9-11.9z"/><path class="b110" d="M128.9 521.6l2.9 6-2.2 5.1-3-8.3z"/><path class="b144" d="M85.1 498.3l3 11.3-2.3 11.5-2.9-8.1z"/><path class="b102" d="M100 525.2l2.9-4.6-2.2 2.2-2.9 4.1z"/><path class="b110" d="M112.6 523l3 11.6-2.3 3.6-2.9-9.4z"/><path class="b184" d="M61.2 466.6l3 17.3-2.3-4.4-2.9-19.6z"/><path class="b102" d="M102.2 526.7l3 5.1-2.3-11.2-2.9 4.6z"/><path class="b99" d="M117.8 529.3l3-.5-2.3-4.1-2.9 9.9z"/><path class="b179" d="M63.5 470.7l2.9 11.6-2.2 1.6-3-17.3z"/><path class="b115" d="M107.4 519.9l3 8.9-2.3-3.8-2.9 6.8z"/><path class="b109" d="M125.9 523l3-1.4-2.3 2.8-2.9 5.9z"/><path class="b156" d="M77.7 489.6l2.9 8.9-2.2 9.1-3-17z"/><path class="b193" d="M65.8 464.7l2.9 29.3-2.3-11.7-2.9-11.6z"/><path class="b181" d="M68 472.7l2.9 24.2-2.2-2.9-2.9-29.3z"/><path class="b142" d="M97.1 504.7l2.9 20.5-2.2 1.7-3-8.7z"/><path class="b152" d="M79.9 493.7l3 19.3-2.3-14.5-2.9-8.9z"/><path class="b143" d="M87.4 500.5l2.9 9.5-2.2-.4-3-11.3z"/><path class="b132" d="M123 511.8l2.9 11.2-2.2 7.3-2.9-1.5z"/><path class="b177" d="M70.2 476.4l3 14.9-2.3 5.6-2.9-24.2z"/><path class="b129" d="M114.9 514l2.9 15.3-2.2 5.3-3-11.6z"/><path class="b143" d="M89.6 502l3 19.1-2.3-11.1-2.9-9.5z"/><path class="b137" d="M104.5 509.2l2.9 10.7-2.2 11.9-3-5.1z"/><path class="b154" d="M82.2 494l2.9 4.3-2.2 14.7-3-19.3z"/><path class="b128" d="M109.7 514.6l2.9 8.4-2.2 5.8-3-8.9z"/><path class="b155" d="M91.9 497.2l2.9 21-2.2 2.9-3-19.1z"/><path class="b127" d="M120.1 515.5l2.9-3.7-2.2 17-3 .5z"/><path class="b144" d="M99.3 505.1l2.9 21.6-2.2-1.5-2.9-20.5z"/><path class="b184" d="M72.5 474.1l2.9 16.5-2.2 .7-3-14.9z"/><path class="b167" d="M84.4 488.6l3 11.9-2.3-2.2-2.9-4.3z"/><path class="b131" d="M117.1 514.7l3 .8-2.3 13.8-2.9-15.3z"/><path class="b194" d="M74.8 470.4l2.9 19.2-2.3 1-2.9-16.5z"/><path class="b140" d="M111.9 509.8l3 4.2-2.3 9-2.9-8.4z"/><path class="b140" d="M106.8 509.2l2.9 5.4-2.3 5.3-2.9-10.7z"/><path class="b145" d="M101.6 506l2.9 3.2-2.3 17.5-2.9-21.6z"/><path class="b158" d="M94.1 497.2l3 7.5-2.3 13.5-2.9-21z"/><path class="b154" d="M86.7 497.3l2.9 4.7-2.2-1.5-3-11.9z"/><path class="b193" d="M77 472.3l2.9 21.4-2.2-4.1-2.9-19.2z"/><path class="b192" d="M79.2 474.5l3 19.5-2.3-.3-2.9-21.4z"/><path class="b143" d="M114.2 509.5l2.9 5.2-2.2-.7-3-4.2z"/><path class="b181" d="M88.9 484l3 13.2-2.3 4.8-2.9-4.7z"/><path class="b141" d="M103.8 509.9l3-.7-2.3 0-2.9-3.2z"/><path class="b156" d="M96.4 499.9l2.9 5.2-2.2-.4-3-7.5z"/><path class="b161" d="M109 499.4l2.9 10.4-2.2 4.8-2.9-5.4z"/><path class="b191" d="M81.5 476.9l2.9 11.7-2.2 5.4-3-19.5z"/><path class="b167" d="M98.6 495.5l3 10.5-2.3-.9-2.9-5.2z"/><path class="b172" d="M91.2 490.4l2.9 6.8-2.2 0-3-13.2z"/><path class="b191" d="M83.8 478.4l2.9 18.9-2.3-8.7-2.9-11.7z"/><path class="b179" d="M106.1 490.8l2.9 8.6-2.2 9.8-3 .7z"/><path class="b173" d="M111.2 494.3l3 15.2-2.3 .3-2.9-10.4z"/><path class="b186" d="M100.9 486.5l2.9 23.4-2.2-3.9-3-10.5z"/><path class="b189" d="M93.4 482.7l3 17.2-2.3-2.7-2.9-6.8z"/><path class="b204" d="M86 472.6l2.9 11.4-2.2 13.3-2.9-18.9z"/><path class="b191" d="M95.7 483.6l2.9 11.9-2.2 4.4-3-17.2z"/><path class="b211" d="M88.2 470.3l3 20.1-2.3-6.4-2.9-11.4z"/><path class="b198" d="M103.1 481.4l3 9.4-2.3 19.1-2.9-23.4z"/><path class="b192" d="M108.3 485.3l2.9 9-2.2 5.1-2.9-8.6z"/><path class="b199" d="M97.9 480.7l3 5.8-2.3 9-2.9-11.9z"/><path class="b228" d="M90.5 463l2.9 19.7-2.2 7.7-3-20.1z"/><path class="b203" d="M105.4 480.2l2.9 5.1-2.2 5.5-3-9.4z"/><path class="b232" d="M92.8 462.3l2.9 21.3-2.3-.9-2.9-19.7z"/><path class="b221" d="M100.2 470.5l2.9 10.9-2.2 5.1-3-5.8z"/><path class="b237" d="M95 461l2.9 19.7-2.2 2.9-2.9-21.3z"/><path class="b226" d="M102.4 468.8l3 11.4-2.3 1.2-2.9-10.9z"/><path class="b255" d="M97.2 451.9l3 18.6-2.3 10.2-2.9-19.7z"/><path class="b250" d="M99.5 457.3l2.9 11.5-2.2 1.7-3-18.6z"/></g>
<text x="113.2" y="340.6" font-family='"Liberation Sans", sans-serif' font-size="5.2" font-weight="bold" fill="#333" text-anchor="middle">F6</text>
<rect x="313.6" y="9.7" width="224.2" height="270" fill="#fff" stroke="#999" stroke-width="0.8"/>
<path d="M313.6 9.7h2.2M537.8 9.7h-2.2M313.6 33.3h1.1M537.8 33.3h-1.1M313.6 27.3h1.1M537.8 27.3h-1.1M313.6 23.1h1.1M537.8 23.1h-1.1M313.6 19.9h1.1M537.8 19.9h-1.1M313.6 17.2h1.1M537.8 17.2h-1.1M313.6 14.9h1.1M537.8 14.9h-1.1M313.6 13h1.1M537.8 13h-1.1M313.6 11.2h1.1M537.8 11.2h-1.1M313.6 43.5h2.2M537.8 43.5h-2.2M313.6 67h1.1M537.8 67h-1.1M313.6 61.1h1.1M537.8 61.1h-1.1M313.6 56.9h1.1M537.8 56.9h-1.1M313.6 53.6h1.1M537.8 53.6h-1.1M313.6 50.9h1.1M537.8 50.9h-1.1M313.6 48.7h1.1M537.8 48.7h-1.1M313.6 46.7h1.1M537.8 46.7h-1.1M313.6 45h1.1M537.8 45h-1.1M313.6 77.2h2.2M537.8 77.2h-2.2M313.6 100.8h1.1M537.8 100.8h-1.1M313.6 94.8h1.1M537.8 94.8h-1.1M313.6 90.6h1.1M537.8 90.6h-1.1M313.6 87.4h1.1M537.8 87.4h-1.1M313.6 84.7h1.1M537.8 84.7h-1.1M313.6 82.4h1.1M537.8 82.4h-1.1M313.6 80.5h1.1M537.8 80.5h-1.1M313.6 78.7h1.1M537.8 78.7h-1.1M313.6 111h2.2M537.8 111h-2.2M313.6 134.5h1.1M537.8 134.5h-1.1M313.6 128.6h1.1M537.8 128.6h-1.1M313.6 124.4h1.1M537.8 124.4h-1.1M313.6 121.1h1.1M537.8 121.1h-1.1M313.6 118.4h1.1M537.8 118.4h-1.1M313.6 116.2h1.1M537.8 116.2h-1.1M313.6 114.2h1.1M537.8 114.2h-1.1M313.6 112.5h1.1M537.8 112.5h-1.1M313.6 144.7h2.2M537.8 144.7h-2.2M313.6 168.3h1.1M537.8 168.3h-1.1M313.6 162.3h1.1M537.8 162.3h-1.1M313.6 158.1h1.1M537.8 158.1h-1.1M313.6 154.9h1.1M537.8 154.9h-1.1M313.6 152.2h1.1M537.8 152.2h-1.1M313.6 149.9h1.1M537.8 149.9h-1.1M313.6 148h1.1M537.8 148h-1.1M313.6 146.2h1.1M537.8 146.2h-1.1M313.6 178.4h2.2M537.8 178.4h-2.2M313.6 202h1.1M537.8 202h-1.1M313.6 196.1h1.1M537.8 196.1h-1.1M313.6 191.9h1.1M537.8 191.9h-1.1M313.6 188.6h1.1M537.8 188.6h-1.1M313.6 185.9h1.1M537.8 185.9h-1.1M313.6 183.7h1.1M537.8 183.7h-1.1M313.6 181.7h1.1M537.8 181.7h-1.1M313.6 180h1.1M537.8 180h-1.1M313.6 212.2h2.2M537.8 212.2h-2.2M313.6 235.8h1.1M537.8 235.8h-1.1M313.6 229.8h1.1M537.8 229.8h-1.1M313.6 225.6h1.1M537.8 225.6h-1.1M313.6 222.4h1.1M537.8 222.4h-1.1M313.6 219.7h1.1M537.8 219.7h-1.1M313.6 217.4h1.1M537.8 217.4h-1.1M313.6 215.5h1.1M537.8 215.5h-1.1M313.6 213.7h1.1M537.8 213.7h-1.1M313.6 245.9h2.2M537.8 245.9h-2.2M313.6 269.5h1.1M537.8 269.5h-1.1M313.6 263.6h1.1M537.8 263.6h-1.1M313.6 259.4h1.1M537.8 259.4h-1.1M313.6 256.1h1.1M537.8 256.1h-1.1M313.6 253.4h1.1M537.8 253.4h-1.1M313.6 251.2h1.1M537.8 251.2h-1.1M313.6 249.2h1.1M537.8 249.2h-1.1M313.6 247.5h1.1M537.8 247.5h-1.1M313.6 279.7h2.2M537.8 279.7h-2.2M313.6 279.7v-2.2M313.6 9.7v2.2M336 279.7v-2.2M336 9.7v2.2M358.4 279.7v-2.2M358.4 9.7v2.2M380.9 279.7v-2.2M380.9 9.7v2.2M403.3 279.7v-2.2M403.3 9.7v2.2M425.7 279.7v-2.2M425.7 9.7v2.2M448.1 279.7v-2.2M448.1 9.7v2.2M470.5 279.7v-2.2M470.5 9.7v2.2M493 279.7v-2.2M493 9.7v2.2M515.4 279.7v-2.2M515.4 9.7v2.2M537.8 279.7v-2.2M537.8 9.7v2.2" stroke="#999" stroke-width="0.6" fill="none"/>
<g font-family='"Liberation Sans", sans-serif' font-size="4.8" fill="#4a4a4a"><text x="312" y="12.1" text-anchor="end">10<tspan dy="-1.9" font-size="3.6">3</tspan></text><text x="312" y="45.9" text-anchor="end">10<tspan dy="-1.9" font-size="3.6">2</tspan></text><text x="312" y="79.6" text-anchor="end">10<tspan dy="-1.9" font-size="3.6">1</tspan></text><text x="312" y="113.4" text-anchor="end">10<tspan dy="-1.9" font-size="3.6">0</tspan></text><text x="312" y="147.1" text-anchor="end">10<tspan dy="-1.9" font-size="3.6">-1</tspan></text><text x="312" y="180.8" text-anchor="end">10<tspan dy="-1.9" font-size="3.6">-2</tspan></text><text x="312" y="214.6" text-anchor="end">10<tspan dy="-1.9" font-size="3.6">-3</tspan></text><text x="312" y="248.3" text-anchor="end">10<tspan dy="-1.9" font-size="3.6">-4</tspan></text><text x="312" y="282.1" text-anchor="end">10<tspan dy="-1.9" font-size="3.6">-5</tspan></text><text x="313.6" y="287.1" text-anchor="middle">0</text><text x="336" y="287.1" text-anchor="middle">50</text><text x="358.4" y="287.1" text-anchor="middle">100</text><text x="380.9" y="287.1" text-anchor="middle">150</text><text x="403.3" y="287.1" text-anchor="middle">200</text><text x="425.7" y="287.1" text-anchor="middle">250</text><text x="448.1" y="287.1" text-anchor="middle">300</text><text x="470.5" y="287.1" text-anchor="middle">350</text><text x="493" y="287.1" text-anchor="middle">400</text><text x="515.4" y="287.1" text-anchor="middle">450</text><text x="537.8" y="287.1" text-anchor="middle">500</text></g>
<g fill="none" stroke-width="2.0" stroke-linejoin="round" stroke-linecap="butt"><polyline points="313.4,81.9 322,84.2 331.3,86.5 340.6,88.8 348,90.7 364.5,93.5 386.4,100 401.6,104.4 406,106.5 414.7,107.8 423.5,113.1 430,114.6 446.8,118.2 468.6,120.4 475.2,123.6 483.9,126.9 490.5,128 512.3,130.2 537.6,130.2" stroke="#ff0000"/><polyline points="313.6,15.2 315,15.2 315,18 322,39.4 322.5,39.9 348.2,39.9 349.3,45.5 375.5,45.5 375.5,47 386.4,47.5 397.3,47.5 397.3,49 419.1,49 419.1,50.5 423.5,50.5 423.5,54.2 429.4,54.2 429.4,56.3 434.8,56.3 434.8,60.6 440.3,60.6 440.3,62.2 444.6,62.2 444.6,66.1 453.4,66.1 453.4,68.7 464.3,69.4 466.5,69.4 466.5,71.5 479.5,71.5 479.5,72.6 485,72.6 485,77 501.4,77 501.4,78.8 503.5,78.8 503.5,83.6 507.9,83.6 507.9,85.7 516.6,86.2 518.8,86.2 518.8,90.1 525.4,90.1 525.4,91.2 527.6,91.2 527.6,93 531.9,93 531.9,95.3 537.6,95.3 537.6,100.7" stroke="#12a0ff"/><polyline points="313.7,46.9 313.8,81.9 319.2,85.1 326.6,88.8 335.9,92.6 348,97.2 353.6,99.5 375.5,104 401.6,106 425,107.3 438.1,107.9 446.8,111.6 457.7,114.9 468.6,117.1 483.9,119.3 497,120.4 537.6,121" stroke="#000088"/><polyline points="314.5,15.2 319.2,28.3 322,37.6 324.7,46.9 327.5,55.2 329.4,64.5 331.8,76 333.1,77.5 337.8,84.2 343.3,85.6 348,86.2 537.6,86.5" stroke="#a922e6"/><polyline points="313.6,14.5 315,28.3 317.3,42.2 320.1,64.5 322,74 324.3,87.9 326.6,97.2 329.4,106.5 335.9,112.1 338.4,113.1 348,115.8 349.3,116.4 360.2,120.7 375.5,124 386.4,128.4 397.3,130.5 419.1,133.5 537.6,133.5" stroke="#ffd000"/><polyline points="314.5,16.2 318.2,29.2 321,42.2 322.9,49.7 325.7,57.1 329.4,57.1 329.4,61.3 332.2,61.7 333.1,61.7 333.1,64.5 335,64.5 335,67.4 345.2,67.4 345.2,69.5 348,69.5 348,72.1 353.6,72.1 353.6,73.8 366.7,73.8 366.7,80.4 375.5,80.4 375.5,84.7 397.3,84.7 397.3,88 419.1,88 419.1,91.3 425,91.3 425,93.5 433.7,94.2 442.5,94.2 442.5,97.5 457.7,97.5 457.7,99.6 464.3,99.6 464.3,102.9 470.8,102.9 470.8,105.1 479.5,105.1 479.5,108.4 486.1,108.4 486.1,112.7 490.5,112.7 490.5,117.1 501.4,117.1 501.4,118.2 503.5,118.2 503.5,122.5 512.3,122.5 512.3,128 516.6,128 516.6,132.4 521,132.4 521,141.1 527.6,141.1 527.6,147.6 531.9,147.6 531.9,156.4 534.1,164.4 535.2,173.1 537.6,182.9" stroke="#12bdbf"/><polyline points="313.6,16.2 316.8,60 318.7,83.3 319.6,97.2 320.1,120 320,176.8 537.6,176.8" stroke="#ff1a96"/><polyline points="314,14.3 316.4,23.6 319.2,33.8 321,42.2 323.8,45.9 326.6,50.6 329.9,56.2" stroke="#0b8a2a"/><polyline points="313.6,14.3 316.4,14.3 316.4,15.7 318.2,15.7 318.2,18.5 322,19.4 323.8,19.4 323.8,20.8 325.2,20.8 325.2,23.1 327.5,23.1 327.5,24.5 329.4,24.5 329.4,26.9 331.3,26.9 331.3,29.2 334,29.2 334,30.6 335.9,30.6 335.9,32.9 337.8,32.9 337.8,35.7 338.7,40.3 341.5,40.3 341.5,41.3 344.3,41.3 344.3,43.1 347.1,43.1 347.1,45 349.3,45 349.3,46.5 352,46.5 352,50 356.9,50 356.9,56.4 360,56.4 360,58 364.5,58 364.5,61.8 366,61.8 366,65 368.9,65 368.9,68.4 372,68.4 372,70 375.5,70 375.5,72.7 378,72.7 378,77 382,77 382,83.6 384,83.6 384,86 387.5,86 387.5,89.1 390,89.1 390,93 392.9,93 392.9,95.6 396,95.6 396,96.5 399.5,96.5 399.5,98.9 403,98.9 403,102.5 406,102.5 406,105.5 409,105.5 409,108 412.6,108 412.6,112 416,112 416,115 419.1,115 419.1,118.6 422,118.6 422,121 424.6,121 424.6,125.1 428,125.1 428,128 431.5,128 431.5,132.4 435,132.4 435,137 438.1,137 438.1,141.1 441,141.1 441,143.5 444.6,143.5 444.6,147.6 447,147.6 447,152 449,152 449,156.4 451,156.4 451,158 453.4,158 453.4,161.8 456,161.8 456,163 458.8,163 458.8,164.4 461,164.4 461,168 463.2,168 463.2,170.9 467,170.9 467,172 470.8,172 470.8,174.2 474,174.2 474,176 476.3,176 476.3,178.5 479,178.5 479,182 481.7,182 481.7,186.2 484,186.2 484,189 487.2,189 487.2,193.8 490,193.8 490,196 492.6,196 492.6,199.3 496,199.3 496,201 499.2,201 499.2,204.7 502,204.7 502,209 504.6,209 504.6,212.4 506,212.4 506,215 507.9,215 507.9,217.8 511,217.8 511,219 514.5,219 514.5,221.1 517,221.1 517,225 518.8,225 518.8,227.6 521,227.6 521,230 524.3,230 524.3,234.2 527,234.2 527,237 529.7,237 529.7,240.7 532,240.7 532,243 534.1,243 534.1,246.2 537.6,246.2 537.6,248.4" stroke="#b84c0c"/><polyline points="314,15.2 316.8,38.5 319.2,44.1 321,51.5 323.8,55.2 326.6,58.9 328.5,64.5 329.4,69.3 334,75.8 340.6,79.5 345.2,81.4 348,84.2 350.4,94.5 351.5,100 355.8,108.7 362.4,117.5 366.7,124 371.1,129.5 375.5,131.6 397.3,132.7 400.5,136 401.6,154.5 402.7,168.7 406,172 419.1,174.2 425,176.4 449,177.5 451.2,179.2 537.6,179.6" stroke="#404040"/><polyline points="313.6,13.8 316.4,13.8 316.4,15.2 317.8,15.2 317.8,19 318.2,26.4 322,26.9 326.6,26.4 328.5,26.4 328.5,28.7 330.3,28.7 330.3,30.1 334,30.1 334,32 337.8,32.4 339.6,32.4 339.6,34.8 340.1,39.4 342.4,39.4 342.4,41.3 345.2,41.3 345.2,43.1 348.2,43.1 348.2,45.3 369,45.3 369,47.6 375.5,47.6 375.5,52 384.2,52 384.2,57.5 388.5,57.5 388.5,62.9 391.8,62.9 391.8,69.5 410.4,69.5 410.4,70.5 419.1,70.5 419.1,72.7 422.4,83.6 424.5,83.6 424.5,86.9 434.8,87.6 438.1,87.6 438.1,93.1 451.2,93.1 451.2,95.3 457.7,95.3 457.7,98.5 468.6,98.5 468.6,104 477.4,104 477.4,108.4 481.7,108.4 481.7,112.7 488.3,112.7 488.3,116 494.8,116 494.8,118.2 497,118.2 497,123.6 503.5,123.6 507.9,123.6 507.9,126.9 516.6,126.9 516.6,129.7 522,129.7 522,131 527.6,131 527.6,132.4 532,132.4 532,133.6 537.6,133.6 537.6,135.6" stroke="#808008"/><polyline points="313.6,16.2 316.8,60 317.8,78.6 319.2,92.6 321,101 322.9,104 324.3,114 327.5,115 328.9,120.7 351.5,121.8 354.7,128.4 356.9,129.5 537.6,129.7" stroke="#bc0a4c"/></g>
<rect x="362.3" y="183.7" width="57.1" height="91.7" fill="#fff" stroke="#999" stroke-width="0.6"/>
<g stroke-width="2.1"><path d="M363.7 187.8H377.3" stroke="#ff0000"/><path d="M363.7 195.4H377.3" stroke="#12a0ff"/><path d="M363.7 203H377.3" stroke="#000088"/><path d="M363.7 210.7H377.3" stroke="#a922e6"/><path d="M363.7 218.3H377.3" stroke="#ffd000"/><path d="M363.7 225.9H377.3" stroke="#12bdbf"/><path d="M363.7 233.5H377.3" stroke="#ff1a96"/><path d="M363.7 241.1H377.3" stroke="#0b8a2a"/><path d="M363.7 248.8H377.3" stroke="#b84c0c"/><path d="M363.7 256.4H377.3" stroke="#404040"/><path d="M363.7 264H377.3" stroke="#808008"/><path d="M363.7 271.6H377.3" stroke="#bc0a4c"/></g>
<g font-family='"Liberation Sans", sans-serif' font-size="5.5" font-weight="bold" fill="#000" stroke="#000" stroke-width="0.18"><text x="378.6" y="189.8">IVYPSO</text><text x="378.6" y="197.4">PSO</text><text x="378.6" y="205">IVY</text><text x="378.6" y="212.6">BOA</text><text x="378.6" y="220.3">WOA</text><text x="378.6" y="227.9">GOOSE</text><text x="378.6" y="235.5">HPSOBOA</text><text x="378.6" y="243.1">dFDB-LSHADE</text><text x="378.6" y="250.7">FDC-AGDE</text><text x="378.6" y="258.4">NSM-BO</text><text x="378.6" y="266">dFDB-SFS</text><text x="378.6" y="273.6">FDB-AGSK</text></g>
<text transform="translate(296.6 144.3) rotate(-90)" font-family='"Liberation Sans", sans-serif' font-size="24.45" font-weight="bold" fill="#1a1a1a" text-anchor="middle">Fitness value</text>
<text x="426" y="313.2" font-family='"Liberation Sans", sans-serif' font-size="24.7" font-weight="bold" fill="#1a1a1a" text-anchor="middle">Iterations</text>
<rect x="283.6" y="343.3" width="208.8" height="250" fill="#fff" stroke="#999" stroke-width="0.8"/>
<path d="M283.6 343.3h2.2M492.4 343.3h-2.2M283.6 365.1h1.1M492.4 365.1h-1.1M283.6 359.6h1.1M492.4 359.6h-1.1M283.6 355.7h1.1M492.4 355.7h-1.1M283.6 352.7h1.1M492.4 352.7h-1.1M283.6 350.2h1.1M492.4 350.2h-1.1M283.6 348.1h1.1M492.4 348.1h-1.1M283.6 346.3h1.1M492.4 346.3h-1.1M283.6 344.7h1.1M492.4 344.7h-1.1M283.6 374.6h2.2M492.4 374.6h-2.2M283.6 396.4h1.1M492.4 396.4h-1.1M283.6 390.9h1.1M492.4 390.9h-1.1M283.6 387h1.1M492.4 387h-1.1M283.6 384h1.1M492.4 384h-1.1M283.6 381.5h1.1M492.4 381.5h-1.1M283.6 379.4h1.1M492.4 379.4h-1.1M283.6 377.6h1.1M492.4 377.6h-1.1M283.6 376h1.1M492.4 376h-1.1M283.6 405.8h2.2M492.4 405.8h-2.2M283.6 427.6h1.1M492.4 427.6h-1.1M283.6 422.1h1.1M492.4 422.1h-1.1M283.6 418.2h1.1M492.4 418.2h-1.1M283.6 415.2h1.1M492.4 415.2h-1.1M283.6 412.7h1.1M492.4 412.7h-1.1M283.6 410.6h1.1M492.4 410.6h-1.1M283.6 408.8h1.1M492.4 408.8h-1.1M283.6 407.2h1.1M492.4 407.2h-1.1M283.6 437h2.2M492.4 437h-2.2M283.6 458.9h1.1M492.4 458.9h-1.1M283.6 453.4h1.1M492.4 453.4h-1.1M283.6 449.5h1.1M492.4 449.5h-1.1M283.6 446.5h1.1M492.4 446.5h-1.1M283.6 444h1.1M492.4 444h-1.1M283.6 441.9h1.1M492.4 441.9h-1.1M283.6 440.1h1.1M492.4 440.1h-1.1M283.6 438.5h1.1M492.4 438.5h-1.1M283.6 468.3h2.2M492.4 468.3h-2.2M283.6 490.1h1.1M492.4 490.1h-1.1M283.6 484.6h1.1M492.4 484.6h-1.1M283.6 480.7h1.1M492.4 480.7h-1.1M283.6 477.7h1.1M492.4 477.7h-1.1M283.6 475.2h1.1M492.4 475.2h-1.1M283.6 473.1h1.1M492.4 473.1h-1.1M283.6 471.3h1.1M492.4 471.3h-1.1M283.6 469.7h1.1M492.4 469.7h-1.1M283.6 499.5h2.2M492.4 499.5h-2.2M283.6 521.4h1.1M492.4 521.4h-1.1M283.6 515.9h1.1M492.4 515.9h-1.1M283.6 512h1.1M492.4 512h-1.1M283.6 509h1.1M492.4 509h-1.1M283.6 506.5h1.1M492.4 506.5h-1.1M283.6 504.4h1.1M492.4 504.4h-1.1M283.6 502.6h1.1M492.4 502.6h-1.1M283.6 501h1.1M492.4 501h-1.1M283.6 530.8h2.2M492.4 530.8h-2.2M283.6 552.6h1.1M492.4 552.6h-1.1M283.6 547.1h1.1M492.4 547.1h-1.1M283.6 543.2h1.1M492.4 543.2h-1.1M283.6 540.2h1.1M492.4 540.2h-1.1M283.6 537.7h1.1M492.4 537.7h-1.1M283.6 535.6h1.1M492.4 535.6h-1.1M283.6 533.8h1.1M492.4 533.8h-1.1M283.6 532.2h1.1M492.4 532.2h-1.1M283.6 562h2.2M492.4 562h-2.2M283.6 583.9h1.1M492.4 583.9h-1.1M283.6 578.4h1.1M492.4 578.4h-1.1M283.6 574.5h1.1M492.4 574.5h-1.1M283.6 571.5h1.1M492.4 571.5h-1.1M283.6 569h1.1M492.4 569h-1.1M283.6 566.9h1.1M492.4 566.9h-1.1M283.6 565.1h1.1M492.4 565.1h-1.1M283.6 563.5h1.1M492.4 563.5h-1.1M283.6 593.3h2.2M492.4 593.3h-2.2M283.6 593.3v-2.2M283.6 343.3v2.2M304.5 593.3v-2.2M304.5 343.3v2.2M325.4 593.3v-2.2M325.4 343.3v2.2M346.2 593.3v-2.2M346.2 343.3v2.2M367.1 593.3v-2.2M367.1 343.3v2.2M388 593.3v-2.2M388 343.3v2.2M408.9 593.3v-2.2M408.9 343.3v2.2M429.8 593.3v-2.2M429.8 343.3v2.2M450.6 593.3v-2.2M450.6 343.3v2.2M471.5 593.3v-2.2M471.5 343.3v2.2M492.4 593.3v-2.2M492.4 343.3v2.2" stroke="#999" stroke-width="0.6" fill="none"/>
<g font-family='"Liberation Sans", sans-serif' font-size="4.6" fill="#4a4a4a"><text x="282" y="345.7" text-anchor="end">10<tspan dy="-1.9" font-size="3.4">3</tspan></text><text x="282" y="376.9" text-anchor="end">10<tspan dy="-1.9" font-size="3.4">2</tspan></text><text x="282" y="408.2" text-anchor="end">10<tspan dy="-1.9" font-size="3.4">1</tspan></text><text x="282" y="439.4" text-anchor="end">10<tspan dy="-1.9" font-size="3.4">0</tspan></text><text x="282" y="470.7" text-anchor="end">10<tspan dy="-1.9" font-size="3.4">-1</tspan></text><text x="282" y="501.9" text-anchor="end">10<tspan dy="-1.9" font-size="3.4">-2</tspan></text><text x="282" y="533.2" text-anchor="end">10<tspan dy="-1.9" font-size="3.4">-3</tspan></text><text x="282" y="564.4" text-anchor="end">10<tspan dy="-1.9" font-size="3.4">-4</tspan></text><text x="282" y="595.7" text-anchor="end">10<tspan dy="-1.9" font-size="3.4">-5</tspan></text><text x="283.6" y="600.7" text-anchor="middle">0</text><text x="304.5" y="600.7" text-anchor="middle">50</text><text x="325.4" y="600.7" text-anchor="middle">100</text><text x="346.2" y="600.7" text-anchor="middle">150</text><text x="367.1" y="600.7" text-anchor="middle">200</text><text x="388" y="600.7" text-anchor="middle">250</text><text x="408.9" y="600.7" text-anchor="middle">300</text><text x="429.8" y="600.7" text-anchor="middle">350</text><text x="450.6" y="600.7" text-anchor="middle">400</text><text x="471.5" y="600.7" text-anchor="middle">450</text><text x="492.4" y="600.7" text-anchor="middle">500</text></g>
<g fill="none" stroke-width="1.9" stroke-linejoin="round" stroke-linecap="butt"><polyline points="284.3,372 285.6,395 286.5,410 287.4,438 284.7,450 284.8,490 285.5,507.5 288.7,508.4 289.2,543.5 293.1,543.5 294.2,565.3 418.2,565.3 419.3,569 492.4,569" stroke="#ff0000"/><polyline points="284,369 285.5,377.7 407.3,377.9 411.6,380.4 423.6,381 425.8,381.9 456.4,382.5 459.6,385.8 462.9,386.9 467.3,389.1 473.8,391.3 486.9,391.9 489.1,393.5 492.4,395" stroke="#12a0ff"/><polyline points="284.4,446.3 284.7,475 285.4,506 286.6,519.4 294,519.6 294.2,556.5 349.8,556.5 350.3,562 492.4,562" stroke="#000088"/><polyline points="284.9,370.9 288.2,382.9 290.9,396 292.9,409.5 295.1,416.8 296.5,426.3 298.3,433.5 300.2,443.2 301.8,449.5 305,453 308.9,456.9 310.5,460.2 313.8,462.4 317.1,469 319.3,471.3 323.6,472.4 326.9,476.7 332.4,478.9 333.5,482.2 354.2,482.8 356.4,489.8 358.5,492 360.7,493.5 361.8,495.6 377.1,495.6 377.5,501.1 404,501.2 405.1,502.9 412.7,502.9 413.8,511 444.4,511 445.5,514.9 476,514.9 477.1,517.5 492.4,517.5" stroke="#a922e6"/><polyline points="284.6,372 285.5,387.3 287.3,398.4 288.5,413.2 290,420.5 290.9,430 291.6,436.2 294,437.8 295.5,441.6 296.7,449.4 297,479.5 301.7,481.2 303.3,483.5 303.7,490.5 306.2,495.5 308.4,497 345.5,497 347.6,499.8 350.9,503.1 353.1,506.4 355.3,509.6 355.9,537.3 492.4,537.5" stroke="#ffd000"/><polyline points="284.4,368.5 293.1,368.5 294.7,370.4 299.6,371.5 302.9,372.5 305.6,373.6 308.4,374.7 319.3,375.3 320.9,377.5 325.8,379.1 328,381.8 329.1,384.5 333.5,385.6 335.6,388.4 345.5,388.9 358.5,390 361.8,393.3 364,402 380,402.2 388.7,402.8 398.5,403.7 400.7,412 430.2,412.4 431.3,427 438.9,428 441.1,431.8 444.4,437.3 449.8,440.5 462.9,442.7 467.3,447.1 471.6,449.3 476,460.2 480.4,465.6 486.9,466.3 491.3,470 492.4,471" stroke="#12bdbf"/><polyline points="284.3,372 285.6,395 286.5,410 287.6,442.7 288.5,458.7 290.5,459.5 291.6,464.1 292.8,471.1 294,478.1 297.1,478.9 297.9,484.3 300.6,485.9 301.7,489.8 304.1,492.5 306.2,494.4 306.2,499.8 319.3,499.8 320.4,517.3 343.3,517.3 344.4,526 347.6,527.1 348.7,541.3 401.8,541.5 402.9,585.8 492.4,585.8" stroke="#ff1a96"/><polyline points="284.9,370.9 286.5,387.3 287.6,395 288.2,397.2 290,397.5 290.7,399.4 291.5,408.1 292.9,411.7 294,417.5 294.7,421.2 296.5,423.4 297.3,424.8" stroke="#0b8a2a"/><polyline points="284.4,370.9 286,379.6 287.1,391.6 288.7,391.6 288.7,392.7 293.1,392.7 294.7,392.7 294.7,397.5 296.5,397.5 296.5,400.8 299.5,400.8 299.5,403 300.9,403 300.9,405.9 303.1,405.9 303.1,409.2 306,409.2 306,411.4 307.5,411.4 307.5,413.2 308.9,418.3 311.1,418.3 311.1,421.9 314,421.9 314,423.4 314.7,428.5 318.4,429.2 322,429.2 322,430.4 324.7,430.4 324.7,431.8 328,431.8 328,435.1 331.3,435.1 331.3,437.8 335.6,437.8 335.6,438.9 340,438.9 340,441.7 345.5,441.7 345.5,445.1 347.6,453.8 367.3,454.5 371.6,454.5 371.6,456 378.2,456.7 380.4,456.7 380.4,460.2 388.7,460.8 390.9,460.8 390.9,462.8 404,462.8 405.1,468.5 421.5,468.9 428,468.9 428,470 442.2,470.7 443.3,470.7 443.3,473.3 492.4,473.3" stroke="#b84c0c"/><polyline points="285.5,372 286.4,395 287.1,408.1 288.5,413.2 291.5,415.4 295.1,416.8 297.3,418.3 298.7,420.5 299.5,428.5 300.9,434.3 306.7,434.6 312.7,437.3 320.4,438.9 325.8,441.3 334.5,442.2 345.5,444 362.9,445.1 371.6,447.3 378.2,448.4 401.8,449.3 423.6,450.4 432.4,453.6 438.9,456.9 445.5,459.1 456.4,461.3 461.8,463.5 464,468.9 467.3,470.7 492.4,470.7" stroke="#404040"/><polyline points="284.4,370.4 287.6,370.4 287.6,377.5 288.7,377.5 288.7,381.8 293.1,382.4 294.2,382.4 294.2,386.2 294.7,392.7 296.4,392.7 296.4,394.9 298,394.9 298,396.8 301.6,396.8 301.6,397.9 303.1,397.9 303.1,399.4 305.3,400.1 305.6,413.9 314.7,413.9 314.7,415 315.1,424.1 321.5,424.7 322.5,429.6 336.7,430.2 337.8,430.2 337.8,433.5 338.9,434.2 352,434.2 352,436.4 354.2,436.4 354.2,439.6 358.5,439.6 358.5,441.8 362.9,441.8 362.9,444 367.3,444 367.3,447.3 370.6,447.3 370.6,452.7 378.2,452.7 378.2,454.9 384.4,454.9 384.4,455.8 386.5,455.8 386.5,458.4 426.9,458.4 429.1,475.5 492.4,475.5" stroke="#808008"/><polyline points="284.3,372 285.6,395 287.4,430 287.8,468.8 289.3,471.9 290.1,489 291.6,489.8 292,503.7 292,504.2 301.8,504.2 305.1,506.4 309.5,507.5 310.5,510.7 311.6,535.8 321.5,536.3 324.7,539.1 326.9,540.6 331.3,542.4 332.4,557.6 391.3,558 392.4,588.5 492.4,588.5" stroke="#bc0a4c"/></g>
<rect x="492.8" y="483.7" width="53.8" height="84" fill="#fff" stroke="#999" stroke-width="0.6"/>
<g stroke-width="2.1"><path d="M495 487.1H507" stroke="#ff0000"/><path d="M495 494.1H507" stroke="#12a0ff"/><path d="M495 501.1H507" stroke="#000088"/><path d="M495 508H507" stroke="#a922e6"/><path d="M495 515H507" stroke="#ffd000"/><path d="M495 522H507" stroke="#12bdbf"/><path d="M495 529H507" stroke="#ff1a96"/><path d="M495 536H507" stroke="#0b8a2a"/><path d="M495 542.9H507" stroke="#b84c0c"/><path d="M495 549.9H507" stroke="#404040"/><path d="M495 556.9H507" stroke="#808008"/><path d="M495 563.9H507" stroke="#bc0a4c"/></g>
<g font-family='"Liberation Sans", sans-serif' font-size="5.1" font-weight="bold" fill="#000" stroke="#000" stroke-width="0.18"><text x="508.2" y="488.9">IVYPSO</text><text x="508.2" y="495.9">PSO</text><text x="508.2" y="502.9">IVY</text><text x="508.2" y="509.9">BOA</text><text x="508.2" y="516.9">WOA</text><text x="508.2" y="523.8">GOOSE</text><text x="508.2" y="530.8">HPSOBOA</text><text x="508.2" y="537.8">dFDB-LSHADE</text><text x="508.2" y="544.8">FDC-AGDE</text><text x="508.2" y="551.8">NSM-BO</text><text x="508.2" y="558.7">dFDB-SFS</text><text x="508.2" y="565.7">FDB-AGSK</text></g>
<text transform="translate(268.3 468.4) rotate(-90)" font-family='"Liberation Sans", sans-serif' font-size="22.8" font-weight="bold" fill="#1a1a1a" text-anchor="middle">Fitness value</text>
<text x="388.4" y="624.4" font-family='"Liberation Sans", sans-serif' font-size="22.8" font-weight="bold" fill="#1a1a1a" text-anchor="middle">Iterations</text>
<text x="275.1" y="330.2" font-family='"Liberation Serif", serif' font-size="11.6" fill="#111" text-anchor="middle">F5</text>
<text x="275.2" y="641" font-family='"Liberation Serif", serif' font-size="11.6" fill="#111" text-anchor="middle">F6</text>
</svg></body></html>
